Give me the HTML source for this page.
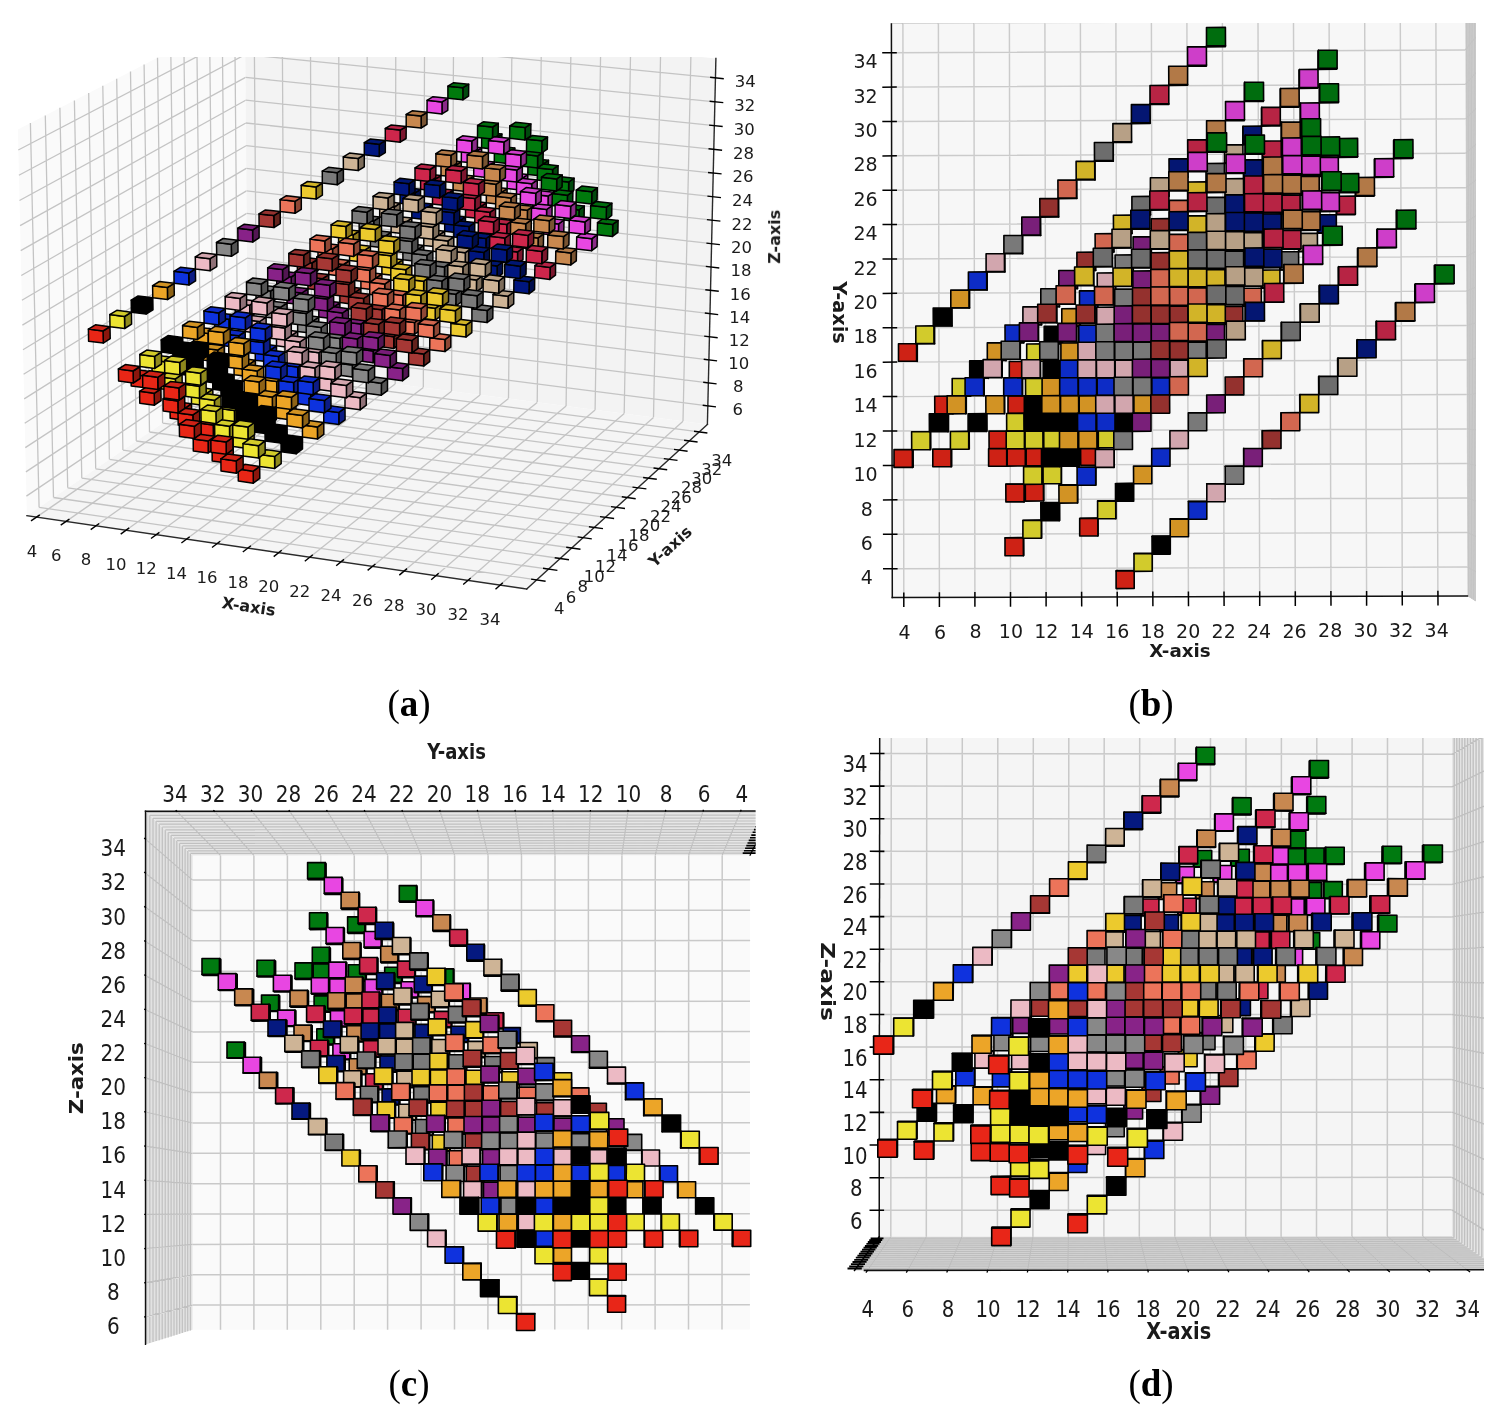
<!DOCTYPE html><html><head><meta charset="utf-8"><title>Figure</title><style>html,body{margin:0;padding:0;background:#fff}svg{display:block}</style></head><body><svg width="1500" height="1423" viewBox="0 0 1500 1423"><filter id="fa" x="-2%" y="-2%" width="104%" height="104%"><feGaussianBlur stdDeviation="0.55"/></filter><clipPath id="ca"><rect x="0" y="57" width="800" height="600"/></clipPath><g filter="url(#fa)"><g clip-path="url(#ca)"><path d="M26.9 515.7 L247.9 364.9 L245 12.8 L17.9 129.4 Z" fill="#fafafa" /><path d="M39.1 507.4L30.4 123M53.5 497.5L45.3 115.4M67.7 487.8L59.9 107.8M81.8 478.2L74.4 100.4M95.7 468.8L88.7 93.1M109.4 459.4L102.8 85.8M122.9 450.1L116.7 78.7M136.3 441L130.5 71.6M149.5 432L144.1 64.6M162.6 423.1L157.5 57.7M175.5 414.3L170.8 50.9M188.3 405.6L183.9 44.2M200.9 397L196.8 37.6M213.3 388.4L209.6 31M225.7 380L222.2 24.5M237.8 371.7L234.7 18.1M26.4 496.1L247.8 347M25.9 471.9L247.6 324.9M25.3 447.6L247.4 302.7M24.7 423.3L247.2 280.5M24.2 398.9L247 258.2M23.6 374.3L246.8 235.8M23 349.8L246.7 213.4M22.4 325.1L246.5 190.9M21.9 300.3L246.3 168.4M21.3 275.5L246.1 145.7M20.7 250.6L245.9 123M20.1 225.6L245.7 100.2M19.5 200.5L245.6 77.4M18.9 175.3L245.4 54.5M18.3 150L245.2 31.5" stroke="#c4c4c4" stroke-width="1.3" fill="none"/><path d="M247.9 364.9 L707.4 424.4 L715.9 58.4 L245 12.8 Z" fill="#f3f3f3" /><path d="M256.8 366L254.1 13.7M284.2 369.6L282.2 16.4M311.7 373.1L310.4 19.1M339.4 376.7L338.7 21.9M367.2 380.3L367.2 24.6M395.2 384L395.8 27.4M423.3 387.6L424.6 30.2M451.5 391.3L453.6 33M480 394.9L482.7 35.8M508.5 398.6L512 38.6M537.2 402.4L541.4 41.5M566.1 406.1L571 44.3M595.1 409.9L600.7 47.2M624.2 413.6L630.6 50.1M653.5 417.4L660.6 53M683 421.3L690.9 55.9M247.8 347L707.9 405.8M247.6 324.9L708.4 382.9M247.4 302.7L708.9 359.9M247.2 280.5L709.5 336.8M247 258.2L710 313.6M246.8 235.8L710.5 290.4M246.7 213.4L711.1 267M246.5 190.9L711.6 243.7M246.3 168.4L712.2 220.2M246.1 145.7L712.7 196.7M245.9 123L713.3 173.1M245.7 100.2L713.8 149.4M245.6 77.4L714.4 125.6M245.4 54.5L714.9 101.8M245.2 31.5L715.5 77.9" stroke="#c4c4c4" stroke-width="1.3" fill="none"/><path d="M26.9 515.7 L526.7 589 L707.4 424.4 L247.9 364.9 Z" fill="#f5f5f5" /><path d="M36.5 517.1L256.8 366M66.2 521.4L284.2 369.6M96 525.8L311.7 373.1M126.1 530.2L339.4 376.7M156.2 534.7L367.2 380.3M186.6 539.1L395.2 384M217.1 543.6L423.3 387.6M247.9 548.1L451.5 391.3M278.7 552.6L480 394.9M309.8 557.2L508.5 398.6M341.1 561.8L537.2 402.4M372.5 566.4L566.1 406.1M404.1 571L595.1 409.9M435.9 575.7L624.2 413.6M467.9 580.4L653.5 417.4M500.1 585.1L683 421.3M39.1 507.4L536.7 579.9M53.5 497.5L548.6 569.2M67.7 487.8L560.2 558.5M81.8 478.2L571.8 548M95.7 468.8L583.1 537.7M109.4 459.4L594.4 527.4M122.9 450.1L605.5 517.3M136.3 441L616.4 507.4M149.5 432L627.2 497.5M162.6 423.1L637.9 487.8M175.5 414.3L648.4 478.2M188.3 405.6L658.8 468.7M200.9 397L669.1 459.3M213.3 388.4L679.3 450.1M225.7 380L689.3 440.9M237.8 371.7L699.2 431.9" stroke="#c4c4c4" stroke-width="1.3" fill="none"/><path d="M26.9 515.7L526.7 589" stroke="#2a2a2a" stroke-width="1.4" fill="none" stroke-linecap="square"/><path d="M526.7 589L707.4 424.4" stroke="#2a2a2a" stroke-width="1.4" fill="none" stroke-linecap="square"/><path d="M707.4 424.4L715.9 58.4" stroke="#2a2a2a" stroke-width="1.4" fill="none" stroke-linecap="square"/><path d="M39.8 514.8L31 520.9M69.4 519.2L60.7 525.2M99.2 523.5L90.7 529.6M129.2 527.9L120.7 534.1M159.4 532.4L151 538.5M189.7 536.8L181.4 543M220.2 541.3L212 547.5M250.9 545.8L242.8 552M281.7 550.3L273.7 556.6M312.8 554.8L304.8 561.2M344 559.4L336.2 565.8M375.4 564L367.6 570.4M407 568.6L399.3 575.1M438.7 573.3L431.2 579.8M470.7 578L463.2 584.5M502.8 582.7L495.5 589.2" stroke="#000" stroke-width="1.4" fill="none"/><path d="M531.1 579.1L545.6 581.2M543 568.3L557.4 570.4M554.7 557.7L569 559.8M566.2 547.2L580.5 549.3M577.6 536.9L591.8 538.9M588.9 526.7L603 528.6M600 516.6L614.1 518.5M611 506.6L625 508.5M621.8 496.8L635.7 498.7M632.5 487.1L646.4 488.9M643.1 477.5L656.8 479.3M653.5 468L667.2 469.8M663.8 458.6L677.5 460.4M674 449.4L687.6 451.2M684.1 440.2L697.6 442M694 431.2L707.4 433" stroke="#000" stroke-width="1.4" fill="none"/><path d="M702.7 405.2L716 406.9M703.2 382.2L716.6 383.9M703.7 359.2L717.1 360.9M704.2 336.1L717.7 337.8M704.8 313L718.2 314.6M705.3 289.7L718.8 291.3M705.8 266.4L719.3 268M706.4 243.1L719.9 244.6M706.9 219.6L720.4 221.1M707.4 196.1L721 197.6M708 172.5L721.6 173.9M708.5 148.8L722.1 150.2M709.1 125.1L722.7 126.5M709.6 101.2L723.3 102.6M710.1 77.3L723.8 78.7" stroke="#000" stroke-width="1.4" fill="none"/><g stroke="#000" stroke-width="1.5" stroke-linejoin="round"><path d="M496.3 149.4L501.8 145.8L501.9 134.1L496.4 137.7Z" fill="#00490a"/><path d="M481.6 147.8L496.3 149.4L496.4 137.7L481.7 136.1Z" fill="#007a10"/><path d="M481.7 136.1L496.4 137.7L501.9 134.1L487.3 132.5Z" fill="#006d0e"/><path d="M475.9 163.2L481.5 159.6L481.6 147.8L476 151.5Z" fill="#8b2a88"/><path d="M461.3 161.7L475.9 163.2L476 151.5L461.4 149.9Z" fill="#e846e2"/><path d="M461.4 149.9L476 151.5L481.6 147.8L467 146.3Z" fill="#ce3ec9"/><path d="M455.6 177.1L461.2 173.4L461.3 161.7L455.6 165.3Z" fill="#785230"/><path d="M441 175.5L455.6 177.1L455.6 165.3L441 163.8Z" fill="#c88850"/><path d="M441 163.8L455.6 165.3L461.3 161.7L446.7 160.1Z" fill="#b27947"/><path d="M435.2 191L440.9 187.2L441 175.5L435.2 179.2Z" fill="#7c182e"/><path d="M420.6 189.3L435.2 191L435.2 179.2L420.6 177.6Z" fill="#ce284c"/><path d="M420.6 177.6L435.2 179.2L441 175.5L426.4 173.9Z" fill="#b72444"/><path d="M414.7 204.9L420.5 201L420.6 189.3L414.8 193.1Z" fill="#030f4d"/><path d="M400.1 203.2L414.7 204.9L414.8 193.1L400.1 191.5Z" fill="#051980"/><path d="M400.1 191.5L414.8 193.1L420.6 189.3L406 187.7Z" fill="#041672"/><path d="M394.2 218.8L400.1 214.9L400.1 203.2L394.3 207Z" fill="#7c6c5a"/><path d="M379.7 217.1L394.2 218.8L394.3 207L379.7 205.4Z" fill="#ceb496"/><path d="M379.7 205.4L394.3 207L400.1 203.2L385.6 201.6Z" fill="#b7a086"/><path d="M578.8 221.7L584.1 217.8L584.3 206L579 209.9Z" fill="#00490a"/><path d="M564 220L578.8 221.7L579 209.9L564.1 208.2Z" fill="#007a10"/><path d="M564.1 208.2L579 209.9L584.3 206L569.5 204.4Z" fill="#006d0e"/><path d="M373.7 232.7L379.6 228.8L379.7 217.1L373.7 221Z" fill="#494949"/><path d="M359.2 231L373.7 232.7L373.7 221L359.1 219.3Z" fill="#7a7a7a"/><path d="M359.1 219.3L373.7 221L379.7 217.1L365.1 215.5Z" fill="#6d6d6d"/><path d="M353.2 246.7L359.2 242.7L359.2 231L353.1 235Z" fill="#8e791b"/><path d="M338.6 245L353.2 246.7L353.1 235L338.6 233.3Z" fill="#ecca2d"/><path d="M338.6 233.3L353.1 235L359.2 231L344.6 229.4Z" fill="#d2b428"/><path d="M558.4 235.6L563.8 231.7L564 220L558.6 223.9Z" fill="#8b2a88"/><path d="M543.6 233.9L558.4 235.6L558.6 223.9L543.7 222.2Z" fill="#e846e2"/><path d="M543.7 222.2L558.6 223.9L564 220L549.1 218.3Z" fill="#ce3ec9"/><path d="M332.6 260.7L338.6 256.7L338.6 245L332.5 249Z" fill="#8e4636"/><path d="M318 259L332.6 260.7L332.5 249L318 247.2Z" fill="#ec745a"/><path d="M318 247.2L332.5 249L338.6 245L324.1 243.3Z" fill="#d26750"/><path d="M538 249.7L543.4 245.7L543.6 233.9L538.1 237.9Z" fill="#785230"/><path d="M523.1 247.9L538 249.7L538.1 237.9L523.2 236.2Z" fill="#c88850"/><path d="M523.2 236.2L538.1 237.9L543.6 233.9L528.7 232.3Z" fill="#b27947"/><path d="M311.9 274.7L318.1 270.7L318 259L311.9 263Z" fill="#64211f"/><path d="M297.4 273L311.9 274.7L311.9 263L297.4 261.3Z" fill="#a63734"/><path d="M297.4 261.3L311.9 263L318 259L303.5 257.2Z" fill="#94312e"/><path d="M291.3 288.8L297.5 284.7L297.4 273L291.2 277Z" fill="#521552"/><path d="M276.8 287L291.3 288.8L291.2 277L276.7 275.3Z" fill="#882388"/><path d="M276.7 275.3L291.2 277L297.4 273L282.9 271.2Z" fill="#791f79"/><path d="M517.5 263.7L523 259.7L523.1 247.9L517.6 251.9Z" fill="#7c182e"/><path d="M502.7 262L517.5 263.7L517.6 251.9L502.8 250.2Z" fill="#ce284c"/><path d="M502.8 250.2L517.6 251.9L523.1 247.9L508.3 246.2Z" fill="#b72444"/><path d="M270.6 302.8L276.8 298.7L276.8 287L270.5 291.1Z" fill="#525252"/><path d="M256.1 301L270.6 302.8L270.5 291.1L256 289.3Z" fill="#888888"/><path d="M256 289.3L270.5 291.1L276.8 287L262.3 285.2Z" fill="#797979"/><path d="M497 277.8L502.5 273.7L502.7 262L497.1 266Z" fill="#030f4d"/><path d="M482.1 276L497 277.8L497.1 266L482.2 264.2Z" fill="#051980"/><path d="M482.2 264.2L497.1 266L502.7 262L487.9 260.2Z" fill="#041672"/><path d="M249.8 316.9L256.2 312.8L256.1 301L249.7 305.2Z" fill="#8e7076"/><path d="M235.3 315.1L249.8 316.9L249.7 305.2L235.2 303.4Z" fill="#ecbac4"/><path d="M235.2 303.4L249.7 305.2L256.1 301L241.6 299.3Z" fill="#d2a6ae"/><path d="M229 331.1L235.5 326.8L235.3 315.1L228.9 319.3Z" fill="#091e85"/><path d="M214.6 329.2L229 331.1L228.9 319.3L214.5 317.5Z" fill="#0f32de"/><path d="M214.5 317.5L228.9 319.3L235.3 315.1L220.9 313.3Z" fill="#0d2cc6"/><path d="M476.4 291.8L482.1 287.7L482.1 276L476.5 280.1Z" fill="#7c6c5a"/><path d="M461.6 290.1L476.4 291.8L476.5 280.1L461.7 278.3Z" fill="#ceb496"/><path d="M461.7 278.3L476.5 280.1L482.1 276L467.4 274.2Z" fill="#b7a086"/><path d="M208.2 345.2L214.7 340.9L214.6 329.2L208.1 333.5Z" fill="#8e6318"/><path d="M193.8 343.4L208.2 345.2L208.1 333.5L193.6 331.6Z" fill="#eca528"/><path d="M193.6 331.6L208.1 333.5L214.6 329.2L200.2 327.4Z" fill="#d29324"/><path d="M187.4 359.4L193.9 355.1L193.8 343.4L187.2 347.7Z" fill="#000000"/><path d="M172.9 357.5L187.4 359.4L187.2 347.7L172.8 345.8Z" fill="#000000"/><path d="M172.8 345.8L187.2 347.7L193.8 343.4L179.4 341.5Z" fill="#000000"/><path d="M455.8 306L461.5 301.8L461.6 290.1L455.9 294.2Z" fill="#494949"/><path d="M441 304.2L455.8 306L455.9 294.2L441.1 292.4Z" fill="#7a7a7a"/><path d="M441.1 292.4L455.9 294.2L461.6 290.1L446.9 288.3Z" fill="#6d6d6d"/><path d="M166.5 373.6L173.1 369.2L172.9 357.5L166.3 361.9Z" fill="#8e891e"/><path d="M152.1 371.7L166.5 373.6L166.3 361.9L151.9 360Z" fill="#ece432"/><path d="M151.9 360L166.3 361.9L172.9 357.5L158.6 355.6Z" fill="#d2cb2c"/><path d="M145.6 387.8L152.2 383.4L152.1 371.7L145.4 376.1Z" fill="#8b170e"/><path d="M131.2 385.9L145.6 387.8L145.4 376.1L131 374.2Z" fill="#e82618"/><path d="M131 374.2L145.4 376.1L152.1 371.7L137.7 369.8Z" fill="#ce2215"/><path d="M435.2 320.1L441 315.9L441 304.2L435.2 308.3Z" fill="#8e791b"/><path d="M420.4 318.3L435.2 320.1L435.2 308.3L420.5 306.5Z" fill="#ecca2d"/><path d="M420.5 306.5L435.2 308.3L441 304.2L426.3 302.4Z" fill="#d2b428"/><path d="M414.5 334.3L420.4 330L420.4 318.3L414.5 322.5Z" fill="#8e4636"/><path d="M399.8 332.4L414.5 334.3L414.5 322.5L399.8 320.7Z" fill="#ec745a"/><path d="M399.8 320.7L414.5 322.5L420.4 318.3L405.7 316.5Z" fill="#d26750"/><path d="M393.8 348.4L399.7 344.1L399.8 332.4L393.8 336.7Z" fill="#64211f"/><path d="M379.1 346.6L393.8 348.4L393.8 336.7L379.1 334.8Z" fill="#a63734"/><path d="M379.1 334.8L393.8 336.7L399.8 332.4L385.1 330.6Z" fill="#94312e"/><path d="M373.1 362.7L379.1 358.3L379.1 346.6L373.1 350.9Z" fill="#521552"/><path d="M358.3 360.8L373.1 362.7L373.1 350.9L358.3 349Z" fill="#882388"/><path d="M358.3 349L373.1 350.9L379.1 346.6L364.4 344.7Z" fill="#791f79"/><path d="M352.3 376.9L358.3 372.5L358.3 360.8L352.3 365.1Z" fill="#525252"/><path d="M337.6 375L352.3 376.9L352.3 365.1L337.6 363.3Z" fill="#888888"/><path d="M337.6 363.3L352.3 365.1L358.3 360.8L343.7 358.9Z" fill="#797979"/><path d="M331.5 391.2L337.6 386.7L337.6 375L331.4 379.4Z" fill="#8e7076"/><path d="M316.8 389.2L331.5 391.2L331.4 379.4L316.7 377.5Z" fill="#ecbac4"/><path d="M316.7 377.5L331.4 379.4L337.6 375L322.9 373.1Z" fill="#d2a6ae"/><path d="M509.1 163.7L514.7 159.9L514.8 148.1L509.2 151.8Z" fill="#00490a"/><path d="M494.3 162.1L509.1 163.7L509.2 151.8L494.4 150.2Z" fill="#007a10"/><path d="M494.4 150.2L509.2 151.8L514.8 148.1L500 146.5Z" fill="#006d0e"/><path d="M310.6 405.5L316.8 401L316.8 389.2L310.6 393.7Z" fill="#091e85"/><path d="M295.9 403.5L310.6 405.5L310.6 393.7L295.9 391.8Z" fill="#0f32de"/><path d="M295.9 391.8L310.6 393.7L316.8 389.2L302.1 387.3Z" fill="#0d2cc6"/><path d="M289.7 419.8L296 415.2L295.9 403.5L289.7 408Z" fill="#8e6318"/><path d="M275.1 417.8L289.7 419.8L289.7 408L275 406.1Z" fill="#eca528"/><path d="M275 406.1L289.7 408L295.9 403.5L281.3 401.6Z" fill="#d29324"/><path d="M488.5 177.7L494.2 173.9L494.3 162.1L488.6 165.8Z" fill="#8b2a88"/><path d="M473.7 176L488.5 177.7L488.6 165.8L473.8 164.2Z" fill="#e846e2"/><path d="M473.8 164.2L488.6 165.8L494.3 162.1L479.5 160.5Z" fill="#ce3ec9"/><path d="M268.8 434.1L275.1 429.5L275.1 417.8L268.7 422.4Z" fill="#000000"/><path d="M254.1 432.1L268.8 434.1L268.7 422.4L254.1 420.4Z" fill="#000000"/><path d="M254.1 420.4L268.7 422.4L275.1 417.8L260.4 415.9Z" fill="#000000"/><path d="M247.8 448.5L254.2 443.9L254.1 432.1L247.7 436.7Z" fill="#8e891e"/><path d="M233.2 446.5L247.8 448.5L247.7 436.7L233.1 434.7Z" fill="#ece432"/><path d="M233.1 434.7L247.7 436.7L254.1 432.1L239.5 430.2Z" fill="#d2cb2c"/><path d="M226.8 462.9L233.3 458.2L233.2 446.5L226.7 451.1Z" fill="#8b170e"/><path d="M212.2 460.9L226.8 462.9L226.7 451.1L212.1 449.1Z" fill="#e82618"/><path d="M212.1 449.1L226.7 451.1L233.2 446.5L218.6 444.5Z" fill="#ce2215"/><path d="M467.9 191.7L473.6 187.9L473.7 176L468 179.8Z" fill="#785230"/><path d="M453.1 190.1L467.9 191.7L468 179.8L453.2 178.2Z" fill="#c88850"/><path d="M453.2 178.2L468 179.8L473.7 176L458.9 174.4Z" fill="#b27947"/><path d="M568.5 193.9L573.9 190.1L574.1 178.2L568.7 182Z" fill="#00490a"/><path d="M553.6 192.3L568.5 193.9L568.7 182L553.7 180.4Z" fill="#007a10"/><path d="M553.7 180.4L568.7 182L574.1 178.2L559.2 176.6Z" fill="#006d0e"/><path d="M447.3 205.8L453.1 201.9L453.1 190.1L447.4 193.9Z" fill="#7c182e"/><path d="M432.5 204.1L447.3 205.8L447.4 193.9L432.6 192.2Z" fill="#ce284c"/><path d="M432.6 192.2L447.4 193.9L453.1 190.1L438.4 188.4Z" fill="#b72444"/><path d="M426.6 219.8L432.5 215.9L432.5 204.1L426.7 208Z" fill="#030f4d"/><path d="M411.8 218.1L426.6 219.8L426.7 208L411.9 206.3Z" fill="#051980"/><path d="M411.9 206.3L426.7 208L432.5 204.1L417.7 202.4Z" fill="#041672"/><path d="M548 208L553.4 204.1L553.6 192.3L548.1 196.1Z" fill="#8b2a88"/><path d="M533 206.3L548 208L548.1 196.1L533.1 194.5Z" fill="#e846e2"/><path d="M533.1 194.5L548.1 196.1L553.6 192.3L538.6 190.6Z" fill="#ce3ec9"/><path d="M405.9 233.9L411.8 230L411.8 218.1L405.9 222.1Z" fill="#7c6c5a"/><path d="M391.1 232.2L405.9 233.9L405.9 222.1L391.2 220.4Z" fill="#ceb496"/><path d="M391.2 220.4L405.9 222.1L411.8 218.1L397.1 216.5Z" fill="#b7a086"/><path d="M527.3 222.1L532.9 218.2L533 206.3L527.4 210.2Z" fill="#785230"/><path d="M512.4 220.4L527.3 222.1L527.4 210.2L512.5 208.6Z" fill="#c88850"/><path d="M512.5 208.6L527.4 210.2L533 206.3L518.1 204.7Z" fill="#b27947"/><path d="M385.1 248.1L391.1 244.1L391.1 232.2L385.2 236.2Z" fill="#494949"/><path d="M370.4 246.3L385.1 248.1L385.2 236.2L370.4 234.5Z" fill="#7a7a7a"/><path d="M370.4 234.5L385.2 236.2L391.1 232.2L376.4 230.5Z" fill="#6d6d6d"/><path d="M506.7 236.3L512.3 232.3L512.4 220.4L506.8 224.4Z" fill="#7c182e"/><path d="M491.7 234.5L506.7 236.3L506.8 224.4L491.8 222.7Z" fill="#ce284c"/><path d="M491.8 222.7L506.8 224.4L512.4 220.4L497.5 218.7Z" fill="#b72444"/><path d="M364.4 262.2L370.4 258.2L370.4 246.3L364.4 250.3Z" fill="#8e791b"/><path d="M349.6 260.5L364.4 262.2L364.4 250.3L349.6 248.6Z" fill="#ecca2d"/><path d="M349.6 248.6L364.4 250.3L370.4 246.3L355.7 244.6Z" fill="#d2b428"/><path d="M485.9 250.4L491.6 246.4L491.7 234.5L486 238.5Z" fill="#030f4d"/><path d="M471 248.7L485.9 250.4L486 238.5L471.1 236.8Z" fill="#051980"/><path d="M471.1 236.8L486 238.5L491.7 234.5L476.8 232.8Z" fill="#041672"/><path d="M343.5 276.4L349.6 272.3L349.6 260.5L343.5 264.5Z" fill="#8e4636"/><path d="M328.8 274.6L343.5 276.4L343.5 264.5L328.8 262.8Z" fill="#ec745a"/><path d="M328.8 262.8L343.5 264.5L349.6 260.5L334.9 258.7Z" fill="#d26750"/><path d="M322.7 290.6L328.8 286.4L328.8 274.6L322.6 278.7Z" fill="#64211f"/><path d="M308 288.8L322.7 290.6L322.6 278.7L307.9 277Z" fill="#a63734"/><path d="M307.9 277L322.6 278.7L328.8 274.6L314.1 272.9Z" fill="#94312e"/><path d="M465.2 264.6L470.9 260.5L471 248.7L465.3 252.7Z" fill="#7c6c5a"/><path d="M450.3 262.8L465.2 264.6L465.3 252.7L450.4 251Z" fill="#ceb496"/><path d="M450.4 251L465.3 252.7L471 248.7L456.2 247Z" fill="#b7a086"/><path d="M301.8 304.8L308 300.6L308 288.8L301.7 293Z" fill="#521552"/><path d="M287.1 303L301.8 304.8L301.7 293L287 291.2Z" fill="#882388"/><path d="M287 291.2L301.7 293L308 288.8L293.3 287Z" fill="#791f79"/><path d="M444.4 278.8L450.2 274.7L450.3 262.8L444.5 266.9Z" fill="#494949"/><path d="M429.5 277L444.4 278.8L444.5 266.9L429.6 265.2Z" fill="#7a7a7a"/><path d="M429.6 265.2L444.5 266.9L450.3 262.8L435.4 261.1Z" fill="#6d6d6d"/><path d="M280.8 319.1L287.1 314.8L287.1 303L280.7 307.2Z" fill="#525252"/><path d="M266.1 317.2L280.8 319.1L280.7 307.2L266.1 305.4Z" fill="#888888"/><path d="M266.1 305.4L280.7 307.2L287.1 303L272.4 301.2Z" fill="#797979"/><path d="M259.8 333.4L266.2 329.1L266.1 317.2L259.7 321.5Z" fill="#8e7076"/><path d="M245.2 331.5L259.8 333.4L259.7 321.5L245.1 319.7Z" fill="#ecbac4"/><path d="M245.1 319.7L259.7 321.5L266.1 317.2L251.5 315.4Z" fill="#d2a6ae"/><path d="M423.6 293L429.5 288.9L429.5 277L423.7 281.2Z" fill="#8e791b"/><path d="M408.7 291.2L423.6 293L423.7 281.2L408.8 279.4Z" fill="#ecca2d"/><path d="M408.8 279.4L423.7 281.2L429.5 277L414.7 275.3Z" fill="#d2b428"/><path d="M238.8 347.7L245.3 343.3L245.2 331.5L238.7 335.8Z" fill="#091e85"/><path d="M224.2 345.8L238.8 347.7L238.7 335.8L224.1 333.9Z" fill="#0f32de"/><path d="M224.1 333.9L238.7 335.8L245.2 331.5L230.6 329.7Z" fill="#0d2cc6"/><path d="M402.8 307.3L408.7 303.1L408.7 291.2L402.8 295.4Z" fill="#8e4636"/><path d="M387.9 305.5L402.8 307.3L402.8 295.4L387.9 293.6Z" fill="#ec745a"/><path d="M387.9 293.6L402.8 295.4L408.7 291.2L393.9 289.5Z" fill="#d26750"/><path d="M217.8 362L224.3 357.6L224.2 345.8L217.6 350.1Z" fill="#8e6318"/><path d="M203.1 360.1L217.8 362L217.6 350.1L203 348.3Z" fill="#eca528"/><path d="M203 348.3L217.6 350.1L224.2 345.8L209.6 343.9Z" fill="#d29324"/><path d="M196.7 376.4L203.3 371.9L203.1 360.1L196.5 364.5Z" fill="#000000"/><path d="M182.1 374.4L196.7 376.4L196.5 364.5L181.9 362.6Z" fill="#000000"/><path d="M181.9 362.6L196.5 364.5L203.1 360.1L188.5 358.2Z" fill="#000000"/><path d="M381.9 321.6L387.9 317.3L387.9 305.5L381.9 309.7Z" fill="#64211f"/><path d="M367 319.8L381.9 321.6L381.9 309.7L367 307.9Z" fill="#a63734"/><path d="M367 307.9L381.9 309.7L387.9 305.5L373.1 303.7Z" fill="#94312e"/><path d="M175.5 390.7L182.2 386.3L182.1 374.4L175.4 378.9Z" fill="#8e891e"/><path d="M160.9 388.8L175.5 390.7L175.4 378.9L160.8 377Z" fill="#ece432"/><path d="M160.8 377L175.4 378.9L182.1 374.4L167.5 372.5Z" fill="#d2cb2c"/><path d="M154.4 405.2L161.1 400.6L160.9 388.8L154.2 393.3Z" fill="#8b170e"/><path d="M139.8 403.2L154.4 405.2L154.2 393.3L139.6 391.3Z" fill="#e82618"/><path d="M139.6 391.3L154.2 393.3L160.9 388.8L146.4 386.9Z" fill="#ce2215"/><path d="M360.9 335.9L367 331.6L367 319.8L360.9 324Z" fill="#521552"/><path d="M346.1 334L360.9 335.9L360.9 324L346.1 322.2Z" fill="#882388"/><path d="M346.1 322.2L360.9 324L367 319.8L352.2 317.9Z" fill="#791f79"/><path d="M340 350.2L346.1 345.9L346.1 334L339.9 338.4Z" fill="#525252"/><path d="M325.1 348.4L340 350.2L339.9 338.4L325.1 336.5Z" fill="#888888"/><path d="M325.1 336.5L339.9 338.4L346.1 334L331.3 332.2Z" fill="#797979"/><path d="M542.9 176.1L548.4 172.3L548.5 160.3L543 164.1Z" fill="#00490a"/><path d="M527.8 174.5L542.9 176.1L543 164.1L528 162.5Z" fill="#007a10"/><path d="M528 162.5L543 164.1L548.5 160.3L533.5 158.7Z" fill="#006d0e"/><path d="M319 364.6L325.2 360.2L325.1 348.4L318.9 352.7Z" fill="#8e7076"/><path d="M304.2 362.7L319 364.6L318.9 352.7L304.1 350.8Z" fill="#ecbac4"/><path d="M304.1 350.8L318.9 352.7L325.1 348.4L310.4 346.5Z" fill="#d2a6ae"/><path d="M297.9 379L304.2 374.6L304.2 362.7L297.8 367.1Z" fill="#091e85"/><path d="M283.1 377.1L297.9 379L297.8 367.1L283.1 365.2Z" fill="#0f32de"/><path d="M283.1 365.2L297.8 367.1L304.2 362.7L289.4 360.8Z" fill="#0d2cc6"/><path d="M522.1 190.3L527.7 186.4L527.8 174.5L522.2 178.3Z" fill="#8b2a88"/><path d="M507.1 188.6L522.1 190.3L522.2 178.3L507.2 176.6Z" fill="#e846e2"/><path d="M507.2 176.6L522.2 178.3L527.8 174.5L512.8 172.8Z" fill="#ce3ec9"/><path d="M276.8 393.4L283.2 388.9L283.1 377.1L276.7 381.5Z" fill="#8e6318"/><path d="M262.1 391.5L276.8 393.4L276.7 381.5L262 379.6Z" fill="#eca528"/><path d="M262 379.6L276.7 381.5L283.1 377.1L268.4 375.2Z" fill="#d29324"/><path d="M255.7 407.9L262.1 403.3L262.1 391.5L255.6 396Z" fill="#000000"/><path d="M240.9 405.9L255.7 407.9L255.6 396L240.8 394Z" fill="#000000"/><path d="M240.8 394L255.6 396L262.1 391.5L247.3 389.5Z" fill="#000000"/><path d="M234.5 422.3L241.1 417.7L240.9 405.9L234.4 410.5Z" fill="#8e891e"/><path d="M219.8 420.3L234.5 422.3L234.4 410.5L219.7 408.5Z" fill="#ece432"/><path d="M219.7 408.5L234.4 410.5L240.9 405.9L226.2 403.9Z" fill="#d2cb2c"/><path d="M501.3 204.4L507 200.5L507.1 188.6L501.4 192.5Z" fill="#785230"/><path d="M486.3 202.8L501.3 204.4L501.4 192.5L486.4 190.8Z" fill="#c88850"/><path d="M486.4 190.8L501.4 192.5L507.1 188.6L492.1 186.9Z" fill="#b27947"/><path d="M213.3 436.8L219.9 432.2L219.8 420.3L213.2 425Z" fill="#8b170e"/><path d="M198.6 434.8L213.3 436.8L213.2 425L198.5 423Z" fill="#e82618"/><path d="M198.5 423L213.2 425L219.8 420.3L205.1 418.4Z" fill="#ce2215"/><path d="M480.5 218.6L486.2 214.7L486.3 202.8L480.6 206.7Z" fill="#7c182e"/><path d="M465.5 216.9L480.5 218.6L480.6 206.7L465.6 205Z" fill="#ce284c"/><path d="M465.6 205L480.6 206.7L486.3 202.8L471.4 201.1Z" fill="#b72444"/><path d="M492.5 139L498.2 135.3L498.3 123.3L492.6 127Z" fill="#00490a"/><path d="M477.5 137.4L492.5 139L492.6 127L477.6 125.4Z" fill="#007a10"/><path d="M477.6 125.4L492.6 127L498.3 123.3L483.3 121.8Z" fill="#006d0e"/><path d="M567.3 207.3L572.7 203.4L572.9 191.4L567.4 195.3Z" fill="#00490a"/><path d="M552.1 205.6L567.3 207.3L567.4 195.3L552.3 193.6Z" fill="#007a10"/><path d="M552.3 193.6L567.4 195.3L572.9 191.4L557.8 189.7Z" fill="#006d0e"/><path d="M459.7 232.9L465.4 228.9L465.5 216.9L459.7 220.9Z" fill="#030f4d"/><path d="M444.7 231.2L459.7 232.9L459.7 220.9L444.7 219.2Z" fill="#051980"/><path d="M444.7 219.2L459.7 220.9L465.5 216.9L450.6 215.2Z" fill="#041672"/><path d="M438.8 247.1L444.6 243.1L444.7 231.2L438.8 235.2Z" fill="#7c6c5a"/><path d="M423.8 245.4L438.8 247.1L438.8 235.2L423.8 233.4Z" fill="#ceb496"/><path d="M423.8 233.4L438.8 235.2L444.7 231.2L429.7 229.4Z" fill="#b7a086"/><path d="M471.7 153.2L477.4 149.4L477.5 137.4L471.8 141.1Z" fill="#8b2a88"/><path d="M456.7 151.6L471.7 153.2L471.8 141.1L456.8 139.5Z" fill="#e846e2"/><path d="M456.8 139.5L471.8 141.1L477.5 137.4L462.6 135.8Z" fill="#ce3ec9"/><path d="M546.5 221.5L552 217.5L552.1 205.6L546.6 209.5Z" fill="#8b2a88"/><path d="M531.3 219.8L546.5 221.5L546.6 209.5L531.5 207.8Z" fill="#e846e2"/><path d="M531.5 207.8L546.6 209.5L552.1 205.6L537 203.9Z" fill="#ce3ec9"/><path d="M462.8 99.8L468.6 96.2L468.7 84.2L462.9 87.7Z" fill="#00490a"/><path d="M447.9 98.3L462.8 99.8L462.9 87.7L447.9 86.2Z" fill="#007a10"/><path d="M447.9 86.2L462.9 87.7L468.7 84.2L453.7 82.7Z" fill="#006d0e"/><path d="M612.5 236.4L617.9 232.4L618.1 220.4L612.7 224.4Z" fill="#00490a"/><path d="M597.3 234.7L612.5 236.4L612.7 224.4L597.5 222.7Z" fill="#007a10"/><path d="M597.5 222.7L612.7 224.4L618.1 220.4L602.9 218.7Z" fill="#006d0e"/><path d="M552.4 181.6L557.9 177.7L558.1 165.7L552.6 169.5Z" fill="#00490a"/><path d="M537.3 179.9L552.4 181.6L552.6 169.5L537.5 167.9Z" fill="#007a10"/><path d="M537.5 167.9L552.6 169.5L558.1 165.7L543 164.1Z" fill="#006d0e"/><path d="M537.5 167.9L543 164.1L543.2 152.1L537.6 155.9Z" fill="#00490a"/><path d="M522.4 166.3L537.5 167.9L537.6 155.9L522.5 154.3Z" fill="#007a10"/><path d="M522.5 154.3L537.6 155.9L543.2 152.1L528.1 150.5Z" fill="#006d0e"/><path d="M417.8 261.4L423.7 257.3L423.8 245.4L417.9 249.4Z" fill="#494949"/><path d="M402.9 259.7L417.8 261.4L417.9 249.4L402.9 247.7Z" fill="#7a7a7a"/><path d="M402.9 247.7L417.9 249.4L423.8 245.4L408.9 243.6Z" fill="#6d6d6d"/><path d="M450.8 167.3L456.7 163.5L456.7 151.6L450.9 155.3Z" fill="#785230"/><path d="M435.9 165.7L450.8 167.3L450.9 155.3L435.9 153.7Z" fill="#c88850"/><path d="M435.9 153.7L450.9 155.3L456.7 151.6L441.8 149.9Z" fill="#b27947"/><path d="M525.6 235.8L531.2 231.8L531.3 219.8L525.7 223.8Z" fill="#785230"/><path d="M510.5 234L525.6 235.8L525.7 223.8L510.6 222.1Z" fill="#c88850"/><path d="M510.6 222.1L525.7 223.8L531.3 219.8L516.3 218.1Z" fill="#b27947"/><path d="M442 113.9L447.8 110.3L447.9 98.3L442 101.9Z" fill="#8b2a88"/><path d="M427 112.3L442 113.9L442 101.9L427.1 100.3Z" fill="#e846e2"/><path d="M427.1 100.3L442 101.9L447.9 98.3L433 96.7Z" fill="#ce3ec9"/><path d="M591.7 250.7L597.1 246.6L597.3 234.7L591.9 238.7Z" fill="#8b2a88"/><path d="M576.5 249L591.7 250.7L591.9 238.7L576.7 237Z" fill="#e846e2"/><path d="M576.7 237L591.9 238.7L597.3 234.7L582.1 232.9Z" fill="#ce3ec9"/><path d="M396.8 275.7L402.8 271.6L402.9 259.7L396.9 263.8Z" fill="#8e791b"/><path d="M381.9 273.9L396.8 275.7L396.9 263.8L381.9 262Z" fill="#ecca2d"/><path d="M381.9 262L396.9 263.8L402.9 259.7L388 257.9Z" fill="#d2b428"/><path d="M531.6 195.8L537.2 191.9L537.3 179.9L531.7 183.8Z" fill="#8b2a88"/><path d="M516.5 194.1L531.6 195.8L531.7 183.8L516.6 182.1Z" fill="#e846e2"/><path d="M516.6 182.1L531.7 183.8L537.3 179.9L522.2 178.3Z" fill="#ce3ec9"/><path d="M516.6 182.1L522.2 178.3L522.4 166.3L516.7 170.1Z" fill="#8b2a88"/><path d="M501.6 180.5L516.6 182.1L516.7 170.1L501.7 168.4Z" fill="#e846e2"/><path d="M501.7 168.4L516.7 170.1L522.4 166.3L507.3 164.6Z" fill="#ce3ec9"/><path d="M429.9 181.5L435.8 177.7L435.9 165.7L430 169.5Z" fill="#7c182e"/><path d="M415 179.9L429.9 181.5L430 169.5L415 167.9Z" fill="#ce284c"/><path d="M415 167.9L430 169.5L435.9 165.7L421 164.1Z" fill="#b72444"/><path d="M504.7 250.1L510.4 246L510.5 234L504.8 238.1Z" fill="#7c182e"/><path d="M489.6 248.3L504.7 250.1L504.8 238.1L489.7 236.3Z" fill="#ce284c"/><path d="M489.7 236.3L504.8 238.1L510.5 234L495.4 232.3Z" fill="#b72444"/><path d="M421.1 128L427 124.4L427 112.3L421.1 116Z" fill="#785230"/><path d="M406.2 126.5L421.1 128L421.1 116L406.2 114.4Z" fill="#c88850"/><path d="M406.2 114.4L421.1 116L427 112.3L412.2 110.8Z" fill="#b27947"/><path d="M375.8 290.1L381.9 285.9L381.9 273.9L375.8 278.1Z" fill="#8e4636"/><path d="M360.9 288.3L375.8 290.1L375.8 278.1L360.9 276.3Z" fill="#ec745a"/><path d="M360.9 276.3L375.8 278.1L381.9 273.9L367 272.2Z" fill="#d26750"/><path d="M570.8 265L576.3 260.9L576.5 249L571 253Z" fill="#785230"/><path d="M555.6 263.3L570.8 265L571 253L555.8 251.3Z" fill="#c88850"/><path d="M555.8 251.3L571 253L576.5 249L561.3 247.2Z" fill="#b27947"/><path d="M510.7 210L516.4 206.1L516.5 194.1L510.9 198Z" fill="#785230"/><path d="M495.6 208.4L510.7 210L510.9 198L495.8 196.3Z" fill="#c88850"/><path d="M495.8 196.3L510.9 198L516.5 194.1L501.4 192.5Z" fill="#b27947"/><path d="M495.8 196.3L501.4 192.5L501.6 180.5L495.9 184.3Z" fill="#785230"/><path d="M480.7 194.7L495.8 196.3L495.9 184.3L480.8 182.6Z" fill="#c88850"/><path d="M480.8 182.6L495.9 184.3L501.6 180.5L486.5 178.8Z" fill="#b27947"/><path d="M409 195.7L415 191.9L415 179.9L409 183.7Z" fill="#030f4d"/><path d="M394.1 194.1L409 195.7L409 183.7L394.1 182.1Z" fill="#051980"/><path d="M394.1 182.1L409 183.7L415 179.9L400.1 178.2Z" fill="#041672"/><path d="M483.8 264.4L489.5 260.3L489.6 248.3L483.9 252.4Z" fill="#030f4d"/><path d="M468.7 262.6L483.8 264.4L483.9 252.4L468.8 250.6Z" fill="#051980"/><path d="M468.8 250.6L483.9 252.4L489.6 248.3L474.6 246.6Z" fill="#041672"/><path d="M354.8 304.4L360.9 300.2L360.9 288.3L354.8 292.5Z" fill="#64211f"/><path d="M339.9 302.6L354.8 304.4L354.8 292.5L339.8 290.6Z" fill="#a63734"/><path d="M339.8 290.6L354.8 292.5L360.9 288.3L346 286.5Z" fill="#94312e"/><path d="M400.2 142.2L406.1 138.5L406.2 126.5L400.2 130.1Z" fill="#7c182e"/><path d="M385.3 140.6L400.2 142.2L400.2 130.1L385.3 128.5Z" fill="#ce284c"/><path d="M385.3 128.5L400.2 130.1L406.2 126.5L391.3 124.9Z" fill="#b72444"/><path d="M549.9 279.4L555.5 275.2L555.6 263.3L550.1 267.4Z" fill="#7c182e"/><path d="M534.7 277.6L549.9 279.4L550.1 267.4L534.9 265.6Z" fill="#ce284c"/><path d="M534.9 265.6L550.1 267.4L555.6 263.3L540.5 261.5Z" fill="#b72444"/><path d="M333.7 318.8L339.9 314.5L339.9 302.6L333.7 306.8Z" fill="#521552"/><path d="M318.8 317L333.7 318.8L333.7 306.8L318.8 305Z" fill="#882388"/><path d="M318.8 305L333.7 306.8L339.9 302.6L325 300.8Z" fill="#791f79"/><path d="M489.8 224.3L495.5 220.3L495.6 208.4L489.9 212.3Z" fill="#7c182e"/><path d="M474.8 222.6L489.8 224.3L489.9 212.3L474.8 210.6Z" fill="#ce284c"/><path d="M474.8 210.6L489.9 212.3L495.6 208.4L480.6 206.7Z" fill="#b72444"/><path d="M474.8 210.6L480.6 206.7L480.7 194.7L474.9 198.6Z" fill="#7c182e"/><path d="M459.8 208.9L474.8 210.6L474.9 198.6L459.9 196.9Z" fill="#ce284c"/><path d="M459.9 196.9L474.9 198.6L480.7 194.7L465.7 193Z" fill="#b72444"/><path d="M388 210L394.1 206.1L394.1 194.1L388 198Z" fill="#7c6c5a"/><path d="M373.1 208.3L388 210L388 198L373.1 196.3Z" fill="#ceb496"/><path d="M373.1 196.3L388 198L394.1 194.1L379.2 192.4Z" fill="#b7a086"/><path d="M462.8 278.7L468.6 274.6L468.7 262.6L462.9 266.7Z" fill="#7c6c5a"/><path d="M447.8 276.9L462.8 278.7L462.9 266.7L447.8 265Z" fill="#ceb496"/><path d="M447.8 265L462.9 266.7L468.7 262.6L453.7 260.9Z" fill="#b7a086"/><path d="M379.2 156.4L385.3 152.6L385.3 140.6L379.2 144.3Z" fill="#030f4d"/><path d="M364.3 154.7L379.2 156.4L379.2 144.3L364.3 142.7Z" fill="#051980"/><path d="M364.3 142.7L379.2 144.3L385.3 140.6L370.4 139Z" fill="#041672"/><path d="M312.5 333.2L318.8 328.9L318.8 317L312.5 321.3Z" fill="#525252"/><path d="M297.7 331.4L312.5 333.2L312.5 321.3L297.6 319.4Z" fill="#888888"/><path d="M297.6 319.4L312.5 321.3L318.8 317L304 315.1Z" fill="#797979"/><path d="M529 293.8L534.6 289.6L534.7 277.6L529.1 281.8Z" fill="#030f4d"/><path d="M513.8 292L529 293.8L529.1 281.8L513.9 280Z" fill="#051980"/><path d="M513.9 280L529.1 281.8L534.7 277.6L519.6 275.8Z" fill="#041672"/><path d="M468.9 238.6L474.7 234.6L474.8 222.6L469 226.6Z" fill="#030f4d"/><path d="M453.8 236.9L468.9 238.6L469 226.6L453.9 224.9Z" fill="#051980"/><path d="M453.9 224.9L469 226.6L474.8 222.6L459.7 220.9Z" fill="#041672"/><path d="M453.9 224.9L459.7 220.9L459.8 208.9L454 212.8Z" fill="#030f4d"/><path d="M438.9 223.2L453.9 224.9L454 212.8L438.9 211.1Z" fill="#051980"/><path d="M438.9 211.1L454 212.8L459.8 208.9L444.8 207.2Z" fill="#041672"/><path d="M367 224.3L373.1 220.3L373.1 208.3L367 212.2Z" fill="#494949"/><path d="M352.1 222.5L367 224.3L367 212.2L352.1 210.5Z" fill="#7a7a7a"/><path d="M352.1 210.5L367 212.2L373.1 208.3L358.2 206.6Z" fill="#6d6d6d"/><path d="M441.8 293.1L447.7 288.9L447.8 276.9L441.9 281.1Z" fill="#494949"/><path d="M426.8 291.3L441.8 293.1L441.9 281.1L426.8 279.3Z" fill="#7a7a7a"/><path d="M426.8 279.3L441.9 281.1L447.8 276.9L432.7 275.2Z" fill="#6d6d6d"/><path d="M291.4 347.7L297.7 343.3L297.7 331.4L291.3 335.7Z" fill="#8e7076"/><path d="M276.5 345.8L291.4 347.7L291.3 335.7L276.5 333.8Z" fill="#ecbac4"/><path d="M276.5 333.8L291.3 335.7L297.7 331.4L282.9 329.5Z" fill="#d2a6ae"/><path d="M358.2 170.6L364.3 166.8L364.3 154.7L358.2 158.5Z" fill="#7c6c5a"/><path d="M343.4 168.9L358.2 170.6L358.2 158.5L343.3 156.9Z" fill="#ceb496"/><path d="M343.3 156.9L358.2 158.5L364.3 154.7L349.5 153.1Z" fill="#b7a086"/><path d="M508 308.2L513.7 303.9L513.8 292L508.1 296.2Z" fill="#7c6c5a"/><path d="M492.9 306.4L508 308.2L508.1 296.2L493 294.4Z" fill="#ceb496"/><path d="M493 294.4L508.1 296.2L513.8 292L498.7 290.2Z" fill="#b7a086"/><path d="M270.2 362.1L276.6 357.7L276.5 345.8L270.1 350.2Z" fill="#091e85"/><path d="M255.3 360.2L270.2 362.1L270.1 350.2L255.2 348.3Z" fill="#0f32de"/><path d="M255.2 348.3L270.1 350.2L276.5 345.8L261.7 343.9Z" fill="#0d2cc6"/><path d="M346 238.6L352.1 234.5L352.1 222.5L345.9 226.5Z" fill="#8e791b"/><path d="M331.1 236.8L346 238.6L345.9 226.5L331.1 224.8Z" fill="#ecca2d"/><path d="M331.1 224.8L345.9 226.5L352.1 222.5L337.3 220.8Z" fill="#d2b428"/><path d="M420.8 307.5L426.7 303.3L426.8 291.3L420.8 295.5Z" fill="#8e791b"/><path d="M405.7 305.7L420.8 307.5L420.8 295.5L405.8 293.7Z" fill="#ecca2d"/><path d="M405.8 293.7L420.8 295.5L426.8 291.3L411.8 289.5Z" fill="#d2b428"/><path d="M447.9 253L453.8 248.9L453.8 236.9L448 240.9Z" fill="#7c6c5a"/><path d="M432.9 251.2L447.9 253L448 240.9L432.9 239.2Z" fill="#ceb496"/><path d="M432.9 239.2L448 240.9L453.8 236.9L438.8 235.2Z" fill="#b7a086"/><path d="M432.9 239.2L438.8 235.2L438.9 223.2L433 227.2Z" fill="#7c6c5a"/><path d="M417.9 237.4L432.9 239.2L433 227.2L417.9 225.4Z" fill="#ceb496"/><path d="M417.9 225.4L433 227.2L438.9 223.2L423.9 221.4Z" fill="#b7a086"/><path d="M248.9 376.6L255.4 372.2L255.3 360.2L248.8 364.7Z" fill="#8e6318"/><path d="M234.1 374.7L248.9 376.6L248.8 364.7L234 362.7Z" fill="#eca528"/><path d="M234 362.7L248.8 364.7L255.3 360.2L240.5 358.3Z" fill="#d29324"/><path d="M337.2 184.8L343.4 180.9L343.4 168.9L337.2 172.7Z" fill="#494949"/><path d="M322.3 183.1L337.2 184.8L337.2 172.7L322.3 171.1Z" fill="#7a7a7a"/><path d="M322.3 171.1L337.2 172.7L343.4 168.9L328.5 167.3Z" fill="#6d6d6d"/><path d="M487 322.6L492.8 318.3L492.9 306.4L487.1 310.6Z" fill="#494949"/><path d="M471.9 320.8L487 322.6L487.1 310.6L471.9 308.8Z" fill="#7a7a7a"/><path d="M471.9 308.8L487.1 310.6L492.9 306.4L477.7 304.5Z" fill="#6d6d6d"/><path d="M324.9 252.9L331.1 248.8L331.1 236.8L324.8 240.9Z" fill="#8e4636"/><path d="M310 251.1L324.9 252.9L324.8 240.9L310 239.1Z" fill="#ec745a"/><path d="M310 239.1L324.8 240.9L331.1 236.8L316.2 235.1Z" fill="#d26750"/><path d="M227.6 391.2L234.2 386.6L234.1 374.7L227.5 379.2Z" fill="#000000"/><path d="M212.8 389.2L227.6 391.2L227.5 379.2L212.7 377.2Z" fill="#000000"/><path d="M212.7 377.2L227.5 379.2L234.1 374.7L219.3 372.8Z" fill="#000000"/><path d="M399.7 321.9L405.7 317.6L405.7 305.7L399.7 309.9Z" fill="#8e4636"/><path d="M384.7 320.1L399.7 321.9L399.7 309.9L384.7 308.1Z" fill="#ec745a"/><path d="M384.7 308.1L399.7 309.9L405.7 305.7L390.8 303.8Z" fill="#d26750"/><path d="M426.9 267.3L432.8 263.2L432.9 251.2L426.9 255.3Z" fill="#494949"/><path d="M411.8 265.5L426.9 267.3L426.9 255.3L411.9 253.5Z" fill="#7a7a7a"/><path d="M411.9 253.5L426.9 255.3L432.9 251.2L417.9 249.4Z" fill="#6d6d6d"/><path d="M411.9 253.5L417.9 249.4L417.9 237.4L411.9 241.5Z" fill="#494949"/><path d="M396.9 251.8L411.9 253.5L411.9 241.5L396.9 239.7Z" fill="#7a7a7a"/><path d="M396.9 239.7L411.9 241.5L417.9 237.4L402.9 235.7Z" fill="#6d6d6d"/><path d="M206.3 405.7L213 401.1L212.8 389.2L206.2 393.7Z" fill="#8e891e"/><path d="M191.5 403.7L206.3 405.7L206.2 393.7L191.4 391.8Z" fill="#ece432"/><path d="M191.4 391.8L206.2 393.7L212.8 389.2L198.1 387.2Z" fill="#d2cb2c"/><path d="M316.1 199.1L322.4 195.2L322.3 183.1L316.1 187Z" fill="#8e791b"/><path d="M301.3 197.4L316.1 199.1L316.1 187L301.2 185.3Z" fill="#ecca2d"/><path d="M301.2 185.3L316.1 187L322.3 183.1L307.5 181.5Z" fill="#d2b428"/><path d="M465.9 337.1L471.8 332.7L471.9 320.8L466 325.1Z" fill="#8e791b"/><path d="M450.8 335.2L465.9 337.1L466 325.1L450.9 323.2Z" fill="#ecca2d"/><path d="M450.9 323.2L466 325.1L471.9 320.8L456.8 318.9Z" fill="#d2b428"/><path d="M303.7 267.2L310.1 263.1L310 251.1L303.7 255.2Z" fill="#64211f"/><path d="M288.9 265.5L303.7 267.2L303.7 255.2L288.8 253.4Z" fill="#a63734"/><path d="M288.8 253.4L303.7 255.2L310 251.1L295.2 249.4Z" fill="#94312e"/><path d="M185 420.3L191.7 415.7L191.5 403.7L184.8 408.3Z" fill="#8b170e"/><path d="M170.2 418.3L185 420.3L184.8 408.3L170 406.3Z" fill="#e82618"/><path d="M170 406.3L184.8 408.3L191.5 403.7L176.8 401.8Z" fill="#ce2215"/><path d="M378.6 336.4L384.7 332.1L384.7 320.1L378.6 324.4Z" fill="#64211f"/><path d="M363.6 334.5L378.6 336.4L378.6 324.4L363.6 322.5Z" fill="#a63734"/><path d="M363.6 322.5L378.6 324.4L384.7 320.1L369.7 318.2Z" fill="#94312e"/><path d="M405.8 281.7L411.8 277.5L411.8 265.5L405.8 269.7Z" fill="#8e791b"/><path d="M390.8 279.9L405.8 281.7L405.8 269.7L390.8 267.9Z" fill="#ecca2d"/><path d="M390.8 267.9L405.8 269.7L411.8 265.5L396.9 263.8Z" fill="#d2b428"/><path d="M390.8 267.9L396.9 263.8L396.9 251.8L390.8 255.8Z" fill="#8e791b"/><path d="M375.8 266.1L390.8 267.9L390.8 255.8L375.8 254.1Z" fill="#ecca2d"/><path d="M375.8 254.1L390.8 255.8L396.9 251.8L381.9 250Z" fill="#d2b428"/><path d="M295 213.3L301.3 209.4L301.3 197.4L294.9 201.3Z" fill="#8e4636"/><path d="M280.2 211.6L295 213.3L294.9 201.3L280.1 199.6Z" fill="#ec745a"/><path d="M280.1 199.6L294.9 201.3L301.3 197.4L286.5 195.7Z" fill="#d26750"/><path d="M282.6 281.6L289 277.4L288.9 265.5L282.5 269.6Z" fill="#521552"/><path d="M267.7 279.8L282.6 281.6L282.5 269.6L267.7 267.8Z" fill="#882388"/><path d="M267.7 267.8L282.5 269.6L288.9 265.5L274.1 263.7Z" fill="#791f79"/><path d="M357.4 350.9L363.6 346.5L363.6 334.5L357.4 338.9Z" fill="#521552"/><path d="M342.4 349L357.4 350.9L357.4 338.9L342.4 337Z" fill="#882388"/><path d="M342.4 337L357.4 338.9L363.6 334.5L348.6 332.6Z" fill="#791f79"/><path d="M444.9 351.6L450.8 347.2L450.8 335.2L444.9 339.6Z" fill="#8e4636"/><path d="M429.7 349.7L444.9 351.6L444.9 339.6L429.8 337.7Z" fill="#ec745a"/><path d="M429.8 337.7L444.9 339.6L450.8 335.2L435.7 333.3Z" fill="#d26750"/><path d="M384.7 296.1L390.8 291.9L390.8 279.9L384.7 284.1Z" fill="#8e4636"/><path d="M369.7 294.3L384.7 296.1L384.7 284.1L369.7 282.3Z" fill="#ec745a"/><path d="M369.7 282.3L384.7 284.1L390.8 279.9L375.8 278.1Z" fill="#d26750"/><path d="M369.7 282.3L375.8 278.1L375.8 266.1L369.7 270.2Z" fill="#8e4636"/><path d="M354.7 280.5L369.7 282.3L369.7 270.2L354.7 268.4Z" fill="#ec745a"/><path d="M354.7 268.4L369.7 270.2L375.8 266.1L360.9 264.3Z" fill="#d26750"/><path d="M261.4 296L267.8 291.8L267.7 279.8L261.3 284Z" fill="#525252"/><path d="M246.6 294.2L261.4 296L261.3 284L246.5 282.2Z" fill="#888888"/><path d="M246.5 282.2L261.3 284L267.7 279.8L252.9 278Z" fill="#797979"/><path d="M336.2 365.4L342.5 360.9L342.4 349L336.2 353.4Z" fill="#525252"/><path d="M321.2 363.5L336.2 365.4L336.2 353.4L321.2 351.5Z" fill="#888888"/><path d="M321.2 351.5L336.2 353.4L342.4 349L327.5 347.1Z" fill="#797979"/><path d="M273.9 227.6L280.3 223.6L280.2 211.6L273.8 215.6Z" fill="#64211f"/><path d="M259.1 225.9L273.9 227.6L273.8 215.6L259 213.9Z" fill="#a63734"/><path d="M259 213.9L273.8 215.6L280.2 211.6L265.4 209.9Z" fill="#94312e"/><path d="M423.7 366.1L429.7 361.7L429.7 349.7L423.8 354.1Z" fill="#64211f"/><path d="M408.6 364.2L423.7 366.1L423.8 354.1L408.7 352.2Z" fill="#a63734"/><path d="M408.7 352.2L423.8 354.1L429.7 349.7L414.7 347.8Z" fill="#94312e"/><path d="M240.1 310.4L246.6 306.2L246.6 294.2L240 298.4Z" fill="#8e7076"/><path d="M225.3 308.6L240.1 310.4L240 298.4L225.2 296.6Z" fill="#ecbac4"/><path d="M225.2 296.6L240 298.4L246.6 294.2L231.8 292.4Z" fill="#d2a6ae"/><path d="M363.6 310.5L369.7 306.3L369.7 294.3L363.6 298.5Z" fill="#64211f"/><path d="M348.6 308.7L363.6 310.5L363.6 298.5L348.6 296.7Z" fill="#a63734"/><path d="M348.6 296.7L363.6 298.5L369.7 294.3L354.8 292.5Z" fill="#94312e"/><path d="M348.6 296.7L354.8 292.5L354.7 280.5L348.6 284.6Z" fill="#64211f"/><path d="M333.6 294.9L348.6 296.7L348.6 284.6L333.6 282.8Z" fill="#a63734"/><path d="M333.6 282.8L348.6 284.6L354.7 280.5L339.8 278.7Z" fill="#94312e"/><path d="M315 379.9L321.3 375.4L321.2 363.5L314.9 367.9Z" fill="#8e7076"/><path d="M300 378L315 379.9L314.9 367.9L300 366Z" fill="#ecbac4"/><path d="M300 366L314.9 367.9L321.2 363.5L306.3 361.5Z" fill="#d2a6ae"/><path d="M252.7 242L259.1 237.9L259.1 225.9L252.6 229.9Z" fill="#521552"/><path d="M237.9 240.2L252.7 242L252.6 229.9L237.8 228.2Z" fill="#882388"/><path d="M237.8 228.2L252.6 229.9L259.1 225.9L244.3 224.2Z" fill="#791f79"/><path d="M402.6 380.7L408.6 376.2L408.6 364.2L402.6 368.6Z" fill="#521552"/><path d="M387.5 378.7L402.6 380.7L402.6 368.6L387.5 366.7Z" fill="#882388"/><path d="M387.5 366.7L402.6 368.6L408.6 364.2L393.6 362.3Z" fill="#791f79"/><path d="M218.8 324.9L225.4 320.6L225.3 308.6L218.7 312.9Z" fill="#091e85"/><path d="M204.1 323L218.8 324.9L218.7 312.9L203.9 311Z" fill="#0f32de"/><path d="M203.9 311L218.7 312.9L225.3 308.6L210.6 306.8Z" fill="#0d2cc6"/><path d="M293.7 394.5L300.1 389.9L300 378L293.6 382.5Z" fill="#091e85"/><path d="M278.8 392.5L293.7 394.5L293.6 382.5L278.7 380.5Z" fill="#0f32de"/><path d="M278.7 380.5L293.6 382.5L300 378L285.1 376Z" fill="#0d2cc6"/><path d="M342.4 325L348.6 320.7L348.6 308.7L342.4 313Z" fill="#521552"/><path d="M327.4 323.1L342.4 325L342.4 313L327.4 311.1Z" fill="#882388"/><path d="M327.4 311.1L342.4 313L348.6 308.7L333.7 306.8Z" fill="#791f79"/><path d="M327.4 311.1L333.7 306.8L333.6 294.9L327.4 299.1Z" fill="#521552"/><path d="M312.5 309.3L327.4 311.1L327.4 299.1L312.4 297.3Z" fill="#882388"/><path d="M312.4 297.3L327.4 299.1L333.6 294.9L318.7 293Z" fill="#791f79"/><path d="M231.4 256.3L238 252.2L237.9 240.2L231.3 244.3Z" fill="#525252"/><path d="M216.7 254.6L231.4 256.3L231.3 244.3L216.5 242.5Z" fill="#888888"/><path d="M216.5 242.5L231.3 244.3L237.9 240.2L223.1 238.5Z" fill="#797979"/><path d="M381.3 395.2L387.5 390.7L387.5 378.7L381.4 383.2Z" fill="#525252"/><path d="M366.3 393.3L381.3 395.2L381.4 383.2L366.3 381.3Z" fill="#888888"/><path d="M366.3 381.3L381.4 383.2L387.5 378.7L372.4 376.8Z" fill="#797979"/><path d="M197.5 339.4L204.2 335L204.1 323L197.4 327.4Z" fill="#8e6318"/><path d="M182.7 337.5L197.5 339.4L197.4 327.4L182.6 325.5Z" fill="#eca528"/><path d="M182.6 325.5L197.4 327.4L204.1 323L189.3 321.2Z" fill="#d29324"/><path d="M272.4 409.1L278.8 404.5L278.8 392.5L272.3 397.1Z" fill="#8e6318"/><path d="M257.5 407.1L272.4 409.1L272.3 397.1L257.4 395.1Z" fill="#eca528"/><path d="M257.4 395.1L272.3 397.1L278.8 392.5L263.9 390.6Z" fill="#d29324"/><path d="M321.2 339.5L327.5 335.1L327.4 323.1L321.1 327.5Z" fill="#525252"/><path d="M306.2 337.6L321.2 339.5L321.1 327.5L306.2 325.6Z" fill="#888888"/><path d="M306.2 325.6L321.1 327.5L327.4 323.1L312.5 321.3Z" fill="#797979"/><path d="M306.2 325.6L312.5 321.3L312.5 309.3L306.1 313.6Z" fill="#525252"/><path d="M291.3 323.7L306.2 325.6L306.1 313.6L291.2 311.7Z" fill="#888888"/><path d="M291.2 311.7L306.1 313.6L312.5 309.3L297.6 307.4Z" fill="#797979"/><path d="M176.2 353.9L182.9 349.5L182.7 337.5L176 341.9Z" fill="#000000"/><path d="M161.4 352L176.2 353.9L176 341.9L161.2 340Z" fill="#000000"/><path d="M161.2 340L176 341.9L182.7 337.5L168 335.6Z" fill="#000000"/><path d="M210.2 270.7L216.8 266.6L216.7 254.6L210 258.7Z" fill="#8e7076"/><path d="M195.4 268.9L210.2 270.7L210 258.7L195.3 256.9Z" fill="#ecbac4"/><path d="M195.3 256.9L210 258.7L216.7 254.6L201.9 252.8Z" fill="#d2a6ae"/><path d="M251 423.7L257.6 419L257.5 407.1L250.9 411.7Z" fill="#000000"/><path d="M236.1 421.7L251 423.7L250.9 411.7L236 409.7Z" fill="#000000"/><path d="M236 409.7L250.9 411.7L257.5 407.1L242.6 405.1Z" fill="#000000"/><path d="M360.1 409.8L366.3 405.2L366.3 393.3L360.1 397.8Z" fill="#8e7076"/><path d="M345 407.8L360.1 409.8L360.1 397.8L345 395.8Z" fill="#ecbac4"/><path d="M345 395.8L360.1 397.8L366.3 393.3L351.2 391.3Z" fill="#d2a6ae"/><path d="M556.6 191L562.1 187.1L562.2 175L556.7 178.9Z" fill="#00490a"/><path d="M541.3 189.3L556.6 191L556.7 178.9L541.5 177.2Z" fill="#007a10"/><path d="M541.5 177.2L556.7 178.9L562.2 175L547 173.4Z" fill="#006d0e"/><path d="M154.8 368.4L161.6 364L161.4 352L154.6 356.4Z" fill="#8e891e"/><path d="M140 366.5L154.8 368.4L154.6 356.4L139.8 354.5Z" fill="#ece432"/><path d="M139.8 354.5L154.6 356.4L161.4 352L146.7 350.1Z" fill="#d2cb2c"/><path d="M229.6 438.3L236.2 433.6L236.1 421.7L229.5 426.3Z" fill="#8e891e"/><path d="M214.8 436.3L229.6 438.3L229.5 426.3L214.6 424.3Z" fill="#ece432"/><path d="M214.6 424.3L229.5 426.3L236.1 421.7L221.3 419.7Z" fill="#d2cb2c"/><path d="M299.9 354L306.3 349.6L306.2 337.6L299.9 342Z" fill="#8e7076"/><path d="M285 352.1L299.9 354L299.9 342L284.9 340.1Z" fill="#ecbac4"/><path d="M284.9 340.1L299.9 342L306.2 337.6L291.3 335.7Z" fill="#d2a6ae"/><path d="M284.9 340.1L291.3 335.7L291.3 323.7L284.9 328Z" fill="#8e7076"/><path d="M270 338.2L284.9 340.1L284.9 328L269.9 326.2Z" fill="#ecbac4"/><path d="M269.9 326.2L284.9 328L291.3 323.7L276.4 321.8Z" fill="#d2a6ae"/><path d="M188.9 285.1L195.6 280.9L195.4 268.9L188.7 273.1Z" fill="#091e85"/><path d="M174.1 283.3L188.9 285.1L188.7 273.1L174 271.3Z" fill="#0f32de"/><path d="M174 271.3L188.7 273.1L195.4 268.9L180.7 267.2Z" fill="#0d2cc6"/><path d="M133.3 383L140.2 378.5L140 366.5L133.1 371Z" fill="#8b170e"/><path d="M118.6 381L133.3 383L133.1 371L118.4 369Z" fill="#e82618"/><path d="M118.4 369L133.1 371L140 366.5L125.3 364.6Z" fill="#ce2215"/><path d="M338.8 424.4L345.1 419.8L345 407.8L338.8 412.4Z" fill="#091e85"/><path d="M323.8 422.4L338.8 424.4L338.8 412.4L323.7 410.4Z" fill="#0f32de"/><path d="M323.7 410.4L338.8 412.4L345 407.8L330 405.8Z" fill="#0d2cc6"/><path d="M208.2 453L214.9 448.2L214.8 436.3L208.1 441Z" fill="#8b170e"/><path d="M193.3 450.9L208.2 453L208.1 441L193.2 439Z" fill="#e82618"/><path d="M193.2 439L208.1 441L214.8 436.3L199.9 434.3Z" fill="#ce2215"/><path d="M278.6 368.5L285.1 364.1L285 352.1L278.5 356.5Z" fill="#091e85"/><path d="M263.7 366.6L278.6 368.5L278.5 356.5L263.6 354.6Z" fill="#0f32de"/><path d="M263.6 354.6L278.5 356.5L285 352.1L270.1 350.2Z" fill="#0d2cc6"/><path d="M167.5 299.6L174.3 295.3L174.1 283.3L167.4 287.5Z" fill="#8e6318"/><path d="M152.8 297.7L167.5 299.6L167.4 287.5L152.6 285.7Z" fill="#eca528"/><path d="M152.6 285.7L167.4 287.5L174.1 283.3L159.4 281.5Z" fill="#d29324"/><path d="M263.6 354.6L270.1 350.2L270 338.2L263.5 342.6Z" fill="#091e85"/><path d="M248.7 352.7L263.6 354.6L263.5 342.6L248.6 340.7Z" fill="#0f32de"/><path d="M248.6 340.7L263.5 342.6L270 338.2L255.2 336.3Z" fill="#0d2cc6"/><path d="M317.5 439.1L323.8 434.4L323.8 422.4L317.4 427.1Z" fill="#8e6318"/><path d="M302.5 437.1L317.5 439.1L317.4 427.1L302.4 425.1Z" fill="#eca528"/><path d="M302.4 425.1L317.4 427.1L323.8 422.4L308.8 420.4Z" fill="#d29324"/><path d="M535.6 205.3L541.2 201.4L541.3 189.3L535.7 193.2Z" fill="#8b2a88"/><path d="M520.3 203.6L535.6 205.3L535.7 193.2L520.5 191.5Z" fill="#e846e2"/><path d="M520.5 191.5L535.7 193.2L541.3 189.3L526.1 187.6Z" fill="#ce3ec9"/><path d="M146.1 314L153 309.8L152.8 297.7L146 302Z" fill="#000000"/><path d="M131.4 312.2L146.1 314L146 302L131.2 300.2Z" fill="#000000"/><path d="M131.2 300.2L146 302L152.8 297.7L138.1 295.9Z" fill="#000000"/><path d="M257.3 383.1L263.8 378.6L263.7 366.6L257.2 371.1Z" fill="#8e6318"/><path d="M242.4 381.1L257.3 383.1L257.2 371.1L242.3 369.1Z" fill="#eca528"/><path d="M242.3 369.1L257.2 371.1L263.7 366.6L248.8 364.7Z" fill="#d29324"/><path d="M242.3 369.1L248.8 364.7L248.7 352.7L242.2 357.1Z" fill="#8e6318"/><path d="M227.4 367.2L242.3 369.1L242.2 357.1L227.3 355.2Z" fill="#eca528"/><path d="M227.3 355.2L242.2 357.1L248.7 352.7L233.9 350.8Z" fill="#d29324"/><path d="M296.1 453.8L302.5 449L302.5 437.1L296 441.8Z" fill="#000000"/><path d="M281.1 451.7L296.1 453.8L296 441.8L281 439.7Z" fill="#000000"/><path d="M281 439.7L296 441.8L302.5 437.1L287.5 435Z" fill="#000000"/><path d="M124.7 328.5L131.6 324.2L131.4 312.2L124.5 316.5Z" fill="#8e891e"/><path d="M110 326.7L124.7 328.5L124.5 316.5L109.8 314.6Z" fill="#ece432"/><path d="M109.8 314.6L124.5 316.5L131.4 312.2L116.8 310.3Z" fill="#d2cb2c"/><path d="M235.9 397.7L242.5 393.1L242.4 381.1L235.8 385.7Z" fill="#000000"/><path d="M221 395.7L235.9 397.7L235.8 385.7L220.9 383.7Z" fill="#000000"/><path d="M220.9 383.7L235.8 385.7L242.4 381.1L227.5 379.2Z" fill="#000000"/><path d="M220.9 383.7L227.5 379.2L227.4 367.2L220.8 371.7Z" fill="#000000"/><path d="M206.1 381.8L220.9 383.7L220.8 371.7L205.9 369.7Z" fill="#000000"/><path d="M205.9 369.7L220.8 371.7L227.4 367.2L212.6 365.3Z" fill="#000000"/><path d="M274.7 468.5L281.2 463.7L281.1 451.7L274.6 456.5Z" fill="#8e891e"/><path d="M259.7 466.4L274.7 468.5L274.6 456.5L259.6 454.4Z" fill="#ece432"/><path d="M259.6 454.4L274.6 456.5L281.1 451.7L266.1 449.7Z" fill="#d2cb2c"/><path d="M103.3 343.1L110.2 338.7L110 326.7L103 331Z" fill="#8b170e"/><path d="M88.6 341.2L103.3 343.1L103 331L88.4 329.1Z" fill="#e82618"/><path d="M88.4 329.1L103 331L110 326.7L95.4 324.8Z" fill="#ce2215"/><path d="M253.3 483.2L259.8 478.4L259.7 466.4L253.2 471.2Z" fill="#8b170e"/><path d="M238.3 481.1L253.3 483.2L253.2 471.2L238.2 469.1Z" fill="#e82618"/><path d="M238.2 469.1L253.2 471.2L259.7 466.4L244.8 464.3Z" fill="#ce2215"/><path d="M214.5 412.3L221.1 407.7L221 395.7L214.4 400.3Z" fill="#8e891e"/><path d="M199.6 410.3L214.5 412.3L214.4 400.3L199.5 398.3Z" fill="#ece432"/><path d="M199.5 398.3L214.4 400.3L221 395.7L206.2 393.7Z" fill="#d2cb2c"/><path d="M199.5 398.3L206.2 393.7L206.1 381.8L199.4 386.3Z" fill="#8e891e"/><path d="M184.7 396.3L199.5 398.3L199.4 386.3L184.5 384.3Z" fill="#ece432"/><path d="M184.5 384.3L199.4 386.3L206.1 381.8L191.2 379.8Z" fill="#d2cb2c"/><path d="M514.5 219.7L520.2 215.7L520.3 203.6L514.7 207.6Z" fill="#785230"/><path d="M499.3 218L514.5 219.7L514.7 207.6L499.4 205.9Z" fill="#c88850"/><path d="M499.4 205.9L514.7 207.6L520.3 203.6L505.2 201.9Z" fill="#b27947"/><path d="M193 427L199.8 422.3L199.6 410.3L192.9 414.9Z" fill="#8b170e"/><path d="M178.2 424.9L193 427L192.9 414.9L178 412.9Z" fill="#e82618"/><path d="M178 412.9L192.9 414.9L199.6 410.3L184.8 408.3Z" fill="#ce2215"/><path d="M178 412.9L184.8 408.3L184.7 396.3L177.9 400.9Z" fill="#8b170e"/><path d="M163.2 410.9L178 412.9L177.9 400.9L163 398.9Z" fill="#e82618"/><path d="M163 398.9L177.9 400.9L184.7 396.3L169.9 394.4Z" fill="#ce2215"/><path d="M541.7 153L547.3 149.2L547.5 137.1L541.9 140.8Z" fill="#00490a"/><path d="M526.5 151.3L541.7 153L541.9 140.8L526.6 139.2Z" fill="#007a10"/><path d="M526.6 139.2L541.9 140.8L547.5 137.1L532.3 135.5Z" fill="#006d0e"/><path d="M493.5 234.1L499.2 230.1L499.3 218L493.6 222Z" fill="#7c182e"/><path d="M478.3 232.4L493.5 234.1L493.6 222L478.4 220.3Z" fill="#ce284c"/><path d="M478.4 220.3L493.6 222L499.3 218L484.2 216.3Z" fill="#b72444"/><path d="M472.4 248.5L478.2 244.4L478.3 232.4L472.5 236.4Z" fill="#030f4d"/><path d="M457.2 246.8L472.4 248.5L472.5 236.4L457.3 234.7Z" fill="#051980"/><path d="M457.3 234.7L472.5 236.4L478.3 232.4L463.1 230.6Z" fill="#041672"/><path d="M520.7 167.3L526.4 163.5L526.5 151.3L520.8 155.1Z" fill="#8b2a88"/><path d="M505.5 165.6L520.7 167.3L520.8 155.1L505.6 153.5Z" fill="#e846e2"/><path d="M505.6 153.5L520.8 155.1L526.5 151.3L511.3 149.7Z" fill="#ce3ec9"/><path d="M451.2 263L457.1 258.8L457.2 246.8L451.3 250.9Z" fill="#7c6c5a"/><path d="M436.1 261.2L451.2 263L451.3 250.9L436.1 249.1Z" fill="#ceb496"/><path d="M436.1 249.1L451.3 250.9L457.2 246.8L442.1 245Z" fill="#b7a086"/><path d="M499.7 181.6L505.4 177.8L505.5 165.6L499.8 169.5Z" fill="#785230"/><path d="M484.5 180L499.7 181.6L499.8 169.5L484.5 167.8Z" fill="#c88850"/><path d="M484.5 167.8L499.8 169.5L505.5 165.6L490.3 164Z" fill="#b27947"/><path d="M430 277.4L436 273.3L436.1 261.2L430.1 265.3Z" fill="#494949"/><path d="M414.9 275.6L430 277.4L430.1 265.3L414.9 263.5Z" fill="#7a7a7a"/><path d="M414.9 263.5L430.1 265.3L436.1 261.2L420.9 259.4Z" fill="#6d6d6d"/><path d="M478.6 196L484.4 192.1L484.5 180L478.6 183.9Z" fill="#7c182e"/><path d="M463.4 194.3L478.6 196L478.6 183.9L463.4 182.2Z" fill="#ce284c"/><path d="M463.4 182.2L478.6 183.9L484.5 180L469.3 178.3Z" fill="#b72444"/><path d="M408.8 291.9L414.9 287.7L414.9 275.6L408.9 279.8Z" fill="#8e791b"/><path d="M393.7 290.1L408.8 291.9L408.9 279.8L393.7 278Z" fill="#ecca2d"/><path d="M393.7 278L408.9 279.8L414.9 275.6L399.8 273.8Z" fill="#d2b428"/><path d="M457.4 210.4L463.3 206.4L463.4 194.3L457.5 198.3Z" fill="#030f4d"/><path d="M442.2 208.7L457.4 210.4L457.5 198.3L442.3 196.6Z" fill="#051980"/><path d="M442.3 196.6L457.5 198.3L463.4 194.3L448.2 192.6Z" fill="#041672"/><path d="M387.6 306.5L393.7 302.2L393.7 290.1L387.6 294.4Z" fill="#8e4636"/><path d="M372.5 304.6L387.6 306.5L387.6 294.4L372.5 292.5Z" fill="#ec745a"/><path d="M372.5 292.5L387.6 294.4L393.7 290.1L378.6 288.3Z" fill="#d26750"/><path d="M366.3 321L372.4 316.7L372.5 304.6L366.3 308.9Z" fill="#64211f"/><path d="M351.2 319.1L366.3 321L366.3 308.9L351.2 307.1Z" fill="#a63734"/><path d="M351.2 307.1L366.3 308.9L372.5 304.6L357.4 302.8Z" fill="#94312e"/><path d="M436.2 224.8L442.2 220.8L442.2 208.7L436.3 212.7Z" fill="#7c6c5a"/><path d="M421.1 223.1L436.2 224.8L436.3 212.7L421.1 211Z" fill="#ceb496"/><path d="M421.1 211L436.3 212.7L442.2 208.7L427.1 207Z" fill="#b7a086"/><path d="M344.9 335.6L351.2 331.2L351.2 319.1L344.9 323.5Z" fill="#521552"/><path d="M329.8 333.7L344.9 335.6L344.9 323.5L329.8 321.6Z" fill="#882388"/><path d="M329.8 321.6L344.9 323.5L351.2 319.1L336.1 317.3Z" fill="#791f79"/><path d="M415 239.3L421 235.2L421.1 223.1L415.1 227.1Z" fill="#494949"/><path d="M399.9 237.5L415 239.3L415.1 227.1L399.9 225.4Z" fill="#7a7a7a"/><path d="M399.9 225.4L415.1 227.1L421.1 223.1L406 221.4Z" fill="#6d6d6d"/><path d="M323.6 350.2L329.9 345.8L329.8 333.7L323.5 338.1Z" fill="#525252"/><path d="M308.5 348.3L323.6 350.2L323.5 338.1L308.4 336.2Z" fill="#888888"/><path d="M308.4 336.2L323.5 338.1L329.8 333.7L314.8 331.8Z" fill="#797979"/><path d="M302.1 364.8L308.5 360.4L308.5 348.3L302.1 352.7Z" fill="#8e7076"/><path d="M287.1 362.9L302.1 364.8L302.1 352.7L287 350.8Z" fill="#ecbac4"/><path d="M287 350.8L302.1 352.7L308.5 348.3L293.5 346.4Z" fill="#d2a6ae"/><path d="M393.8 253.8L399.9 249.7L399.9 237.5L393.8 241.6Z" fill="#8e791b"/><path d="M378.6 252L393.8 253.8L393.8 241.6L378.6 239.9Z" fill="#ecca2d"/><path d="M378.6 239.9L393.8 241.6L399.9 237.5L384.8 235.8Z" fill="#d2b428"/><path d="M280.7 379.5L287.1 375L287.1 362.9L280.6 367.4Z" fill="#091e85"/><path d="M265.6 377.5L280.7 379.5L280.6 367.4L265.6 365.5Z" fill="#0f32de"/><path d="M265.6 365.5L280.6 367.4L287.1 362.9L272.1 361Z" fill="#0d2cc6"/><path d="M372.5 268.3L378.6 264.1L378.6 252L372.5 256.1Z" fill="#8e4636"/><path d="M357.4 266.5L372.5 268.3L372.5 256.1L357.3 254.3Z" fill="#ec745a"/><path d="M357.3 254.3L372.5 256.1L378.6 252L363.6 250.2Z" fill="#d26750"/><path d="M259.2 394.2L265.7 389.6L265.6 377.5L259.1 382.1Z" fill="#8e6318"/><path d="M244.2 392.2L259.2 394.2L259.1 382.1L244.1 380.1Z" fill="#eca528"/><path d="M244.1 380.1L259.1 382.1L265.6 377.5L250.6 375.6Z" fill="#d29324"/><path d="M237.6 408.9L244.3 404.3L244.2 392.2L237.5 396.8Z" fill="#000000"/><path d="M222.6 406.9L237.6 408.9L237.5 396.8L222.5 394.8Z" fill="#000000"/><path d="M222.5 394.8L237.5 396.8L244.2 392.2L229.2 390.2Z" fill="#000000"/><path d="M351.1 282.8L357.4 278.6L357.4 266.5L351.1 270.7Z" fill="#64211f"/><path d="M336 281L351.1 282.8L351.1 270.7L336 268.9Z" fill="#a63734"/><path d="M336 268.9L351.1 270.7L357.4 266.5L342.3 264.7Z" fill="#94312e"/><path d="M216.1 423.7L222.8 419L222.6 406.9L215.9 411.6Z" fill="#8e891e"/><path d="M201.1 421.6L216.1 423.7L215.9 411.6L200.9 409.5Z" fill="#ece432"/><path d="M200.9 409.5L215.9 411.6L222.6 406.9L207.7 404.9Z" fill="#d2cb2c"/><path d="M194.4 438.4L201.2 433.7L201.1 421.6L194.3 426.3Z" fill="#8b170e"/><path d="M179.5 436.4L194.4 438.4L194.3 426.3L179.3 424.3Z" fill="#e82618"/><path d="M179.3 424.3L194.3 426.3L201.1 421.6L186.1 419.6Z" fill="#ce2215"/><path d="M329.8 297.4L336.1 293.1L336 281L329.7 285.2Z" fill="#521552"/><path d="M314.7 295.5L329.8 297.4L329.7 285.2L314.6 283.4Z" fill="#882388"/><path d="M314.6 283.4L329.7 285.2L336 281L321 279.2Z" fill="#791f79"/><path d="M308.3 312L314.7 307.6L314.7 295.5L308.3 299.8Z" fill="#525252"/><path d="M293.3 310.1L308.3 312L308.3 299.8L293.2 298Z" fill="#888888"/><path d="M293.2 298L308.3 299.8L314.7 295.5L299.6 293.7Z" fill="#797979"/><path d="M591.6 204L597.1 200L597.3 187.8L591.8 191.8Z" fill="#00490a"/><path d="M576.1 202.3L591.6 204L591.8 191.8L576.3 190.1Z" fill="#007a10"/><path d="M576.3 190.1L591.8 191.8L597.3 187.8L581.8 186.1Z" fill="#006d0e"/><path d="M286.9 326.6L293.3 322.2L293.3 310.1L286.8 314.4Z" fill="#8e7076"/><path d="M271.8 324.7L286.9 326.6L286.8 314.4L271.8 312.6Z" fill="#ecbac4"/><path d="M271.8 312.6L286.8 314.4L293.3 310.1L278.3 308.2Z" fill="#d2a6ae"/><path d="M570.4 218.5L576 214.5L576.1 202.3L570.6 206.3Z" fill="#8b2a88"/><path d="M555 216.8L570.4 218.5L570.6 206.3L555.1 204.5Z" fill="#e846e2"/><path d="M555.1 204.5L570.6 206.3L576.1 202.3L560.7 200.6Z" fill="#ce3ec9"/><path d="M265.4 341.2L271.9 336.8L271.8 324.7L265.3 329.1Z" fill="#091e85"/><path d="M250.4 339.3L265.4 341.2L265.3 329.1L250.3 327.2Z" fill="#0f32de"/><path d="M250.3 327.2L265.3 329.1L271.8 324.7L256.8 322.8Z" fill="#0d2cc6"/><path d="M243.9 355.9L250.5 351.4L250.4 339.3L243.8 343.7Z" fill="#8e6318"/><path d="M228.8 354L243.9 355.9L243.8 343.7L228.7 341.8Z" fill="#eca528"/><path d="M228.7 341.8L243.8 343.7L250.4 339.3L235.4 337.4Z" fill="#d29324"/><path d="M222.3 370.6L229 366.1L228.8 354L222.2 358.4Z" fill="#000000"/><path d="M207.3 368.6L222.3 370.6L222.2 358.4L207.2 356.5Z" fill="#000000"/><path d="M207.2 356.5L222.2 358.4L228.8 354L213.9 352Z" fill="#000000"/><path d="M549.2 233L554.8 229L555 216.8L549.3 220.8Z" fill="#785230"/><path d="M533.8 231.3L549.2 233L549.3 220.8L533.9 219.1Z" fill="#c88850"/><path d="M533.9 219.1L549.3 220.8L555 216.8L539.6 215Z" fill="#b27947"/><path d="M200.7 385.3L207.4 380.7L207.3 368.6L200.5 373.2Z" fill="#8e891e"/><path d="M185.7 383.3L200.7 385.3L200.5 373.2L185.5 371.2Z" fill="#ece432"/><path d="M185.5 371.2L200.5 373.2L207.3 368.6L192.3 366.7Z" fill="#d2cb2c"/><path d="M179 400.1L185.8 395.4L185.7 383.3L178.9 387.9Z" fill="#8b170e"/><path d="M164 398.1L179 400.1L178.9 387.9L163.9 385.9Z" fill="#e82618"/><path d="M163.9 385.9L178.9 387.9L185.7 383.3L170.7 381.4Z" fill="#ce2215"/><path d="M527.9 247.6L533.6 243.5L533.8 231.3L528.1 235.4Z" fill="#7c182e"/><path d="M512.5 245.8L527.9 247.6L528.1 235.4L512.7 233.6Z" fill="#ce284c"/><path d="M512.7 233.6L528.1 235.4L533.8 231.3L518.4 229.5Z" fill="#b72444"/><path d="M506.6 262.2L512.4 258L512.5 245.8L506.8 249.9Z" fill="#030f4d"/><path d="M491.3 260.4L506.6 262.2L506.8 249.9L491.4 248.2Z" fill="#051980"/><path d="M491.4 248.2L506.8 249.9L512.5 245.8L497.2 244Z" fill="#041672"/><path d="M485.3 276.8L491.2 272.6L491.3 260.4L485.4 264.6Z" fill="#7c6c5a"/><path d="M469.9 275L485.3 276.8L485.4 264.6L470 262.7Z" fill="#ceb496"/><path d="M470 262.7L485.4 264.6L491.3 260.4L475.9 258.6Z" fill="#b7a086"/><path d="M525 139.9L530.7 136.1L530.9 123.9L525.1 127.6Z" fill="#00490a"/><path d="M509.6 138.3L525 139.9L525.1 127.6L509.8 126Z" fill="#007a10"/><path d="M509.8 126L525.1 127.6L530.9 123.9L515.5 122.3Z" fill="#006d0e"/><path d="M463.9 291.4L469.9 287.1L469.9 275L464 279.2Z" fill="#494949"/><path d="M448.6 289.6L463.9 291.4L464 279.2L448.6 277.4Z" fill="#7a7a7a"/><path d="M448.6 277.4L464 279.2L469.9 275L454.6 273.1Z" fill="#6d6d6d"/><path d="M442.5 306.1L448.5 301.8L448.6 289.6L442.6 293.9Z" fill="#8e791b"/><path d="M427.2 304.2L442.5 306.1L442.6 293.9L427.2 292Z" fill="#ecca2d"/><path d="M427.2 292L442.6 293.9L448.6 289.6L433.3 287.7Z" fill="#d2b428"/><path d="M503.7 154.4L509.5 150.5L509.6 138.3L503.9 142.1Z" fill="#8b2a88"/><path d="M488.4 152.7L503.7 154.4L503.9 142.1L488.5 140.4Z" fill="#e846e2"/><path d="M488.5 140.4L503.9 142.1L509.6 138.3L494.3 136.7Z" fill="#ce3ec9"/><path d="M421.1 320.8L427.1 316.4L427.2 304.2L421.1 308.6Z" fill="#8e4636"/><path d="M405.7 318.9L421.1 320.8L421.1 308.6L405.8 306.7Z" fill="#ec745a"/><path d="M405.8 306.7L421.1 308.6L427.2 304.2L411.9 302.4Z" fill="#d26750"/><path d="M482.4 168.9L488.3 165L488.4 152.7L482.5 156.6Z" fill="#785230"/><path d="M467.1 167.2L482.4 168.9L482.5 156.6L467.2 154.9Z" fill="#c88850"/><path d="M467.2 154.9L482.5 156.6L488.4 152.7L473.1 151.1Z" fill="#b27947"/><path d="M399.6 335.5L405.7 331.1L405.7 318.9L399.6 323.3Z" fill="#64211f"/><path d="M384.3 333.6L399.6 335.5L399.6 323.3L384.3 321.4Z" fill="#a63734"/><path d="M384.3 321.4L399.6 323.3L405.7 318.9L390.5 317Z" fill="#94312e"/><path d="M461.1 183.4L467 179.5L467.1 167.2L461.2 171.1Z" fill="#7c182e"/><path d="M445.7 181.7L461.1 183.4L461.2 171.1L445.8 169.4Z" fill="#ce284c"/><path d="M445.8 169.4L461.2 171.1L467.1 167.2L451.8 165.5Z" fill="#b72444"/><path d="M378 350.2L384.3 345.8L384.3 333.6L378 338Z" fill="#521552"/><path d="M362.8 348.3L378 350.2L378 338L362.7 336.1Z" fill="#882388"/><path d="M362.7 336.1L378 338L384.3 333.6L369 331.7Z" fill="#791f79"/><path d="M356.5 365L362.8 360.5L362.8 348.3L356.5 352.8Z" fill="#525252"/><path d="M341.2 363.1L356.5 365L356.5 352.8L341.2 350.9Z" fill="#888888"/><path d="M341.2 350.9L356.5 352.8L362.8 348.3L347.5 346.4Z" fill="#797979"/><path d="M439.7 197.9L445.7 194L445.7 181.7L439.7 185.6Z" fill="#030f4d"/><path d="M424.4 196.2L439.7 197.9L439.7 185.6L424.4 183.9Z" fill="#051980"/><path d="M424.4 183.9L439.7 185.6L445.7 181.7L430.5 180Z" fill="#041672"/><path d="M334.9 379.8L341.2 375.3L341.2 363.1L334.8 367.6Z" fill="#8e7076"/><path d="M319.6 377.8L334.9 379.8L334.8 367.6L319.6 365.6Z" fill="#ecbac4"/><path d="M319.6 365.6L334.8 367.6L341.2 363.1L326 361.1Z" fill="#d2a6ae"/><path d="M313.2 394.7L319.6 390L319.6 377.8L313.2 382.4Z" fill="#091e85"/><path d="M298 392.7L313.2 394.7L313.2 382.4L297.9 380.5Z" fill="#0f32de"/><path d="M297.9 380.5L313.2 382.4L319.6 377.8L304.4 375.9Z" fill="#0d2cc6"/><path d="M418.3 212.5L424.3 208.5L424.4 196.2L418.3 200.2Z" fill="#7c6c5a"/><path d="M403 210.8L418.3 212.5L418.3 200.2L403 198.5Z" fill="#ceb496"/><path d="M403 198.5L418.3 200.2L424.4 196.2L409.1 194.5Z" fill="#b7a086"/><path d="M291.5 409.5L298 404.8L298 392.7L291.4 397.3Z" fill="#8e6318"/><path d="M276.3 407.5L291.5 409.5L291.4 397.3L276.2 395.3Z" fill="#eca528"/><path d="M276.2 395.3L291.4 397.3L298 392.7L282.8 390.7Z" fill="#d29324"/><path d="M269.8 424.4L276.4 419.7L276.3 407.5L269.7 412.2Z" fill="#000000"/><path d="M254.6 422.4L269.8 424.4L269.7 412.2L254.5 410.2Z" fill="#000000"/><path d="M254.5 410.2L269.7 412.2L276.3 407.5L261.1 405.5Z" fill="#000000"/><path d="M396.8 227.1L402.9 223L403 210.8L396.8 214.8Z" fill="#494949"/><path d="M381.5 225.4L396.8 227.1L396.8 214.8L381.5 213.1Z" fill="#7a7a7a"/><path d="M381.5 213.1L396.8 214.8L403 210.8L387.7 209Z" fill="#6d6d6d"/><path d="M248 439.3L254.7 434.5L254.6 422.4L247.9 427.1Z" fill="#8e891e"/><path d="M232.8 437.3L248 439.3L247.9 427.1L232.7 425Z" fill="#ece432"/><path d="M232.7 425L247.9 427.1L254.6 422.4L239.4 420.3Z" fill="#d2cb2c"/><path d="M226.2 454.3L232.9 449.4L232.8 437.3L226.1 442.1Z" fill="#8b170e"/><path d="M211 452.2L226.2 454.3L226.1 442.1L210.9 440Z" fill="#e82618"/><path d="M210.9 440L226.1 442.1L232.8 437.3L217.7 435.2Z" fill="#ce2215"/><path d="M375.3 241.8L381.5 237.6L381.5 225.4L375.3 229.5Z" fill="#8e791b"/><path d="M360 240L375.3 241.8L375.3 229.5L360 227.7Z" fill="#ecca2d"/><path d="M360 227.7L375.3 229.5L381.5 225.4L366.3 223.6Z" fill="#d2b428"/><path d="M353.7 256.4L360 252.2L360 240L353.7 244.1Z" fill="#8e4636"/><path d="M338.5 254.6L353.7 256.4L353.7 244.1L338.4 242.3Z" fill="#ec745a"/><path d="M338.4 242.3L353.7 244.1L360 240L344.8 238.2Z" fill="#d26750"/><path d="M332.1 271.1L338.5 266.9L338.5 254.6L332.1 258.8Z" fill="#64211f"/><path d="M316.9 269.3L332.1 271.1L332.1 258.8L316.8 257Z" fill="#a63734"/><path d="M316.8 257L332.1 258.8L338.5 254.6L323.3 252.8Z" fill="#94312e"/><path d="M310.5 285.8L316.9 281.5L316.9 269.3L310.4 273.5Z" fill="#521552"/><path d="M295.3 284L310.5 285.8L310.4 273.5L295.2 271.7Z" fill="#882388"/><path d="M295.2 271.7L310.4 273.5L316.9 269.3L301.7 267.4Z" fill="#791f79"/><path d="M288.8 300.5L295.3 296.2L295.3 284L288.8 288.3Z" fill="#525252"/><path d="M273.6 298.7L288.8 300.5L288.8 288.3L273.5 286.4Z" fill="#888888"/><path d="M273.5 286.4L288.8 288.3L295.3 284L280.1 282.1Z" fill="#797979"/><path d="M606.2 219.6L611.7 215.5L611.9 203.2L606.4 207.2Z" fill="#00490a"/><path d="M590.5 217.8L606.2 219.6L606.4 207.2L590.7 205.5Z" fill="#007a10"/><path d="M590.7 205.5L606.4 207.2L611.9 203.2L596.3 201.4Z" fill="#006d0e"/><path d="M267.1 315.3L273.7 310.9L273.6 298.7L267 303Z" fill="#8e7076"/><path d="M251.9 313.4L267.1 315.3L267 303L251.8 301.1Z" fill="#ecbac4"/><path d="M251.8 301.1L267 303L273.6 298.7L258.5 296.8Z" fill="#d2a6ae"/><path d="M245.4 330.1L252 325.7L251.9 313.4L245.3 317.8Z" fill="#091e85"/><path d="M230.2 328.2L245.4 330.1L245.3 317.8L230.1 315.9Z" fill="#0f32de"/><path d="M230.1 315.9L245.3 317.8L251.9 313.4L236.8 311.5Z" fill="#0d2cc6"/><path d="M584.8 234.3L590.3 230.2L590.5 217.8L584.9 221.9Z" fill="#8b2a88"/><path d="M569.1 232.5L584.8 234.3L584.9 221.9L569.3 220.1Z" fill="#e846e2"/><path d="M569.3 220.1L584.9 221.9L590.5 217.8L574.9 216.1Z" fill="#ce3ec9"/><path d="M223.6 344.9L230.3 340.5L230.2 328.2L223.4 332.6Z" fill="#8e6318"/><path d="M208.4 343L223.6 344.9L223.4 332.6L208.3 330.7Z" fill="#eca528"/><path d="M208.3 330.7L223.4 332.6L230.2 328.2L215.1 326.3Z" fill="#d29324"/><path d="M201.7 359.8L208.5 355.3L208.4 343L201.6 347.5Z" fill="#000000"/><path d="M186.6 357.8L201.7 359.8L201.6 347.5L186.4 345.5Z" fill="#000000"/><path d="M186.4 345.5L201.6 347.5L208.4 343L193.3 341.1Z" fill="#000000"/><path d="M563.3 249L568.9 244.8L569.1 232.5L563.5 236.6Z" fill="#785230"/><path d="M547.7 247.2L563.3 249L563.5 236.6L547.8 234.9Z" fill="#c88850"/><path d="M547.8 234.9L563.5 236.6L569.1 232.5L553.5 230.7Z" fill="#b27947"/><path d="M179.8 374.7L186.7 370.1L186.6 357.8L179.7 362.4Z" fill="#8e891e"/><path d="M164.7 372.7L179.8 374.7L179.7 362.4L164.6 360.4Z" fill="#ece432"/><path d="M164.6 360.4L179.7 362.4L186.6 357.8L171.5 355.9Z" fill="#d2cb2c"/><path d="M157.9 389.6L164.9 384.9L164.7 372.7L157.7 377.3Z" fill="#8b170e"/><path d="M142.8 387.6L157.9 389.6L157.7 377.3L142.6 375.3Z" fill="#e82618"/><path d="M142.6 375.3L157.7 377.3L164.7 372.7L149.6 370.7Z" fill="#ce2215"/><path d="M541.8 263.8L547.5 259.5L547.7 247.2L541.9 251.4Z" fill="#7c182e"/><path d="M526.2 261.9L541.8 263.8L541.9 251.4L526.3 249.6Z" fill="#ce284c"/><path d="M526.3 249.6L541.9 251.4L547.7 247.2L532.1 245.4Z" fill="#b72444"/><path d="M520.2 278.5L526 274.3L526.2 261.9L520.4 266.2Z" fill="#030f4d"/><path d="M504.6 276.7L520.2 278.5L520.4 266.2L504.8 264.3Z" fill="#051980"/><path d="M504.8 264.3L520.4 266.2L526.2 261.9L510.6 260.1Z" fill="#041672"/><path d="M498.7 293.3L504.5 289L504.6 276.7L498.8 281Z" fill="#7c6c5a"/><path d="M483.1 291.5L498.7 293.3L498.8 281L483.2 279.1Z" fill="#ceb496"/><path d="M483.2 279.1L498.8 281L504.6 276.7L489.1 274.8Z" fill="#b7a086"/><path d="M477 308.2L483 303.8L483.1 291.5L477.1 295.8Z" fill="#494949"/><path d="M461.5 306.3L477 308.2L477.1 295.8L461.5 293.9Z" fill="#7a7a7a"/><path d="M461.5 293.9L477.1 295.8L483.1 291.5L467.5 289.6Z" fill="#6d6d6d"/><path d="M455.4 323.1L461.4 318.6L461.5 306.3L455.4 310.7Z" fill="#8e791b"/><path d="M439.8 321.1L455.4 323.1L455.4 310.7L439.9 308.8Z" fill="#ecca2d"/><path d="M439.9 308.8L455.4 310.7L461.5 306.3L445.9 304.4Z" fill="#d2b428"/><path d="M433.6 337.9L439.7 333.5L439.8 321.1L433.7 325.6Z" fill="#8e4636"/><path d="M418.1 336L433.6 337.9L433.7 325.6L418.2 323.7Z" fill="#ec745a"/><path d="M418.2 323.7L433.7 325.6L439.8 321.1L424.3 319.2Z" fill="#d26750"/><path d="M411.9 352.9L418.1 348.3L418.1 336L411.9 340.5Z" fill="#64211f"/><path d="M396.4 350.9L411.9 352.9L411.9 340.5L396.4 338.6Z" fill="#a63734"/><path d="M396.4 338.6L411.9 340.5L418.1 336L402.6 334.1Z" fill="#94312e"/><path d="M390.1 367.8L396.4 363.2L396.4 350.9L390.1 355.5Z" fill="#521552"/><path d="M374.6 365.8L390.1 367.8L390.1 355.5L374.6 353.5Z" fill="#882388"/><path d="M374.6 353.5L390.1 355.5L396.4 350.9L380.9 348.9Z" fill="#791f79"/><path d="M368.3 382.8L374.6 378.2L374.6 365.8L368.3 370.4Z" fill="#525252"/><path d="M352.8 380.8L368.3 382.8L368.3 370.4L352.8 368.4Z" fill="#888888"/><path d="M352.8 368.4L368.3 370.4L374.6 365.8L359.2 363.8Z" fill="#797979"/><path d="M346.4 397.8L352.8 393.1L352.8 380.8L346.4 385.4Z" fill="#8e7076"/><path d="M330.9 395.8L346.4 397.8L346.4 385.4L330.9 383.4Z" fill="#ecbac4"/><path d="M330.9 383.4L346.4 385.4L352.8 380.8L337.4 378.8Z" fill="#d2a6ae"/><path d="M324.5 412.8L331 408.1L330.9 395.8L324.4 400.5Z" fill="#091e85"/><path d="M309 410.8L324.5 412.8L324.4 400.5L309 398.4Z" fill="#0f32de"/><path d="M309 398.4L324.4 400.5L330.9 395.8L315.5 393.7Z" fill="#0d2cc6"/><path d="M302.5 427.9L309.1 423.1L309 410.8L302.5 415.5Z" fill="#8e6318"/><path d="M287.1 425.8L302.5 427.9L302.5 415.5L287 413.5Z" fill="#eca528"/><path d="M287 413.5L302.5 415.5L309 410.8L293.6 408.7Z" fill="#d29324"/><path d="M280.5 443L287.2 438.1L287.1 425.8L280.5 430.6Z" fill="#000000"/><path d="M265.1 440.9L280.5 443L280.5 430.6L265 428.5Z" fill="#000000"/><path d="M265 428.5L280.5 430.6L287.1 425.8L271.7 423.7Z" fill="#000000"/><path d="M258.5 458.1L265.2 453.2L265.1 440.9L258.4 445.8Z" fill="#8e891e"/><path d="M243.1 456L258.5 458.1L258.4 445.8L243 443.6Z" fill="#ece432"/><path d="M243 443.6L258.4 445.8L265.1 440.9L249.7 438.8Z" fill="#d2cb2c"/><path d="M236.4 473.3L243.2 468.3L243.1 456L236.3 460.9Z" fill="#8b170e"/><path d="M221 471.1L236.4 473.3L236.3 460.9L220.9 458.8Z" fill="#e82618"/><path d="M220.9 458.8L236.3 460.9L243.1 456L227.7 453.9Z" fill="#ce2215"/></g></g><g font-family="'DejaVu Sans','Liberation Sans',sans-serif"><text transform="translate(32 550.6)" y="6" font-size="16.5" font-weight="normal" text-anchor="middle" fill="#1a1a1a">4</text><text transform="translate(56.2 554.9)" y="6" font-size="16.5" font-weight="normal" text-anchor="middle" fill="#1a1a1a">6</text><text transform="translate(86 559.3)" y="6" font-size="16.5" font-weight="normal" text-anchor="middle" fill="#1a1a1a">8</text><text transform="translate(116.1 563.7)" y="6" font-size="16.5" font-weight="normal" text-anchor="middle" fill="#1a1a1a">10</text><text transform="translate(146.2 568.2)" y="6" font-size="16.5" font-weight="normal" text-anchor="middle" fill="#1a1a1a">12</text><text transform="translate(176.6 572.6)" y="6" font-size="16.5" font-weight="normal" text-anchor="middle" fill="#1a1a1a">14</text><text transform="translate(207.1 577.1)" y="6" font-size="16.5" font-weight="normal" text-anchor="middle" fill="#1a1a1a">16</text><text transform="translate(237.9 581.6)" y="6" font-size="16.5" font-weight="normal" text-anchor="middle" fill="#1a1a1a">18</text><text transform="translate(268.7 586.1)" y="6" font-size="16.5" font-weight="normal" text-anchor="middle" fill="#1a1a1a">20</text><text transform="translate(299.8 590.7)" y="6" font-size="16.5" font-weight="normal" text-anchor="middle" fill="#1a1a1a">22</text><text transform="translate(331.1 595.3)" y="6" font-size="16.5" font-weight="normal" text-anchor="middle" fill="#1a1a1a">24</text><text transform="translate(362.5 599.9)" y="6" font-size="16.5" font-weight="normal" text-anchor="middle" fill="#1a1a1a">26</text><text transform="translate(394.1 604.5)" y="6" font-size="16.5" font-weight="normal" text-anchor="middle" fill="#1a1a1a">28</text><text transform="translate(425.9 609.2)" y="6" font-size="16.5" font-weight="normal" text-anchor="middle" fill="#1a1a1a">30</text><text transform="translate(457.9 613.9)" y="6" font-size="16.5" font-weight="normal" text-anchor="middle" fill="#1a1a1a">32</text><text transform="translate(490.1 618.6)" y="6" font-size="16.5" font-weight="normal" text-anchor="middle" fill="#1a1a1a">34</text><text transform="translate(559.2 607.7)" y="6" font-size="16.5" font-weight="normal" text-anchor="middle" fill="#1a1a1a">4</text><text transform="translate(571.1 597)" y="6" font-size="16.5" font-weight="normal" text-anchor="middle" fill="#1a1a1a">6</text><text transform="translate(582.7 586.3)" y="6" font-size="16.5" font-weight="normal" text-anchor="middle" fill="#1a1a1a">8</text><text transform="translate(594.3 575.8)" y="6" font-size="16.5" font-weight="normal" text-anchor="middle" fill="#1a1a1a">10</text><text transform="translate(605.6 565.5)" y="6" font-size="16.5" font-weight="normal" text-anchor="middle" fill="#1a1a1a">12</text><text transform="translate(616.9 555.2)" y="6" font-size="16.5" font-weight="normal" text-anchor="middle" fill="#1a1a1a">14</text><text transform="translate(628 545.1)" y="6" font-size="16.5" font-weight="normal" text-anchor="middle" fill="#1a1a1a">16</text><text transform="translate(638.9 535.2)" y="6" font-size="16.5" font-weight="normal" text-anchor="middle" fill="#1a1a1a">18</text><text transform="translate(649.7 525.3)" y="6" font-size="16.5" font-weight="normal" text-anchor="middle" fill="#1a1a1a">20</text><text transform="translate(660.4 515.6)" y="6" font-size="16.5" font-weight="normal" text-anchor="middle" fill="#1a1a1a">22</text><text transform="translate(670.9 506)" y="6" font-size="16.5" font-weight="normal" text-anchor="middle" fill="#1a1a1a">24</text><text transform="translate(681.3 496.5)" y="6" font-size="16.5" font-weight="normal" text-anchor="middle" fill="#1a1a1a">26</text><text transform="translate(691.6 487.1)" y="6" font-size="16.5" font-weight="normal" text-anchor="middle" fill="#1a1a1a">28</text><text transform="translate(701.8 477.9)" y="6" font-size="16.5" font-weight="normal" text-anchor="middle" fill="#1a1a1a">30</text><text transform="translate(711.8 468.7)" y="6" font-size="16.5" font-weight="normal" text-anchor="middle" fill="#1a1a1a">32</text><text transform="translate(721.7 459.7)" y="6" font-size="16.5" font-weight="normal" text-anchor="middle" fill="#1a1a1a">34</text><text transform="translate(737.7 409.1)" y="6" font-size="16.5" font-weight="normal" text-anchor="middle" fill="#1a1a1a">6</text><text transform="translate(738.2 386.2)" y="6" font-size="16.5" font-weight="normal" text-anchor="middle" fill="#1a1a1a">8</text><text transform="translate(738.7 363.2)" y="6" font-size="16.5" font-weight="normal" text-anchor="middle" fill="#1a1a1a">10</text><text transform="translate(739.3 340.1)" y="6" font-size="16.5" font-weight="normal" text-anchor="middle" fill="#1a1a1a">12</text><text transform="translate(739.8 316.9)" y="6" font-size="16.5" font-weight="normal" text-anchor="middle" fill="#1a1a1a">14</text><text transform="translate(740.3 293.7)" y="6" font-size="16.5" font-weight="normal" text-anchor="middle" fill="#1a1a1a">16</text><text transform="translate(740.9 270.3)" y="6" font-size="16.5" font-weight="normal" text-anchor="middle" fill="#1a1a1a">18</text><text transform="translate(741.4 247)" y="6" font-size="16.5" font-weight="normal" text-anchor="middle" fill="#1a1a1a">20</text><text transform="translate(742 223.5)" y="6" font-size="16.5" font-weight="normal" text-anchor="middle" fill="#1a1a1a">22</text><text transform="translate(742.5 200)" y="6" font-size="16.5" font-weight="normal" text-anchor="middle" fill="#1a1a1a">24</text><text transform="translate(743.1 176.4)" y="6" font-size="16.5" font-weight="normal" text-anchor="middle" fill="#1a1a1a">26</text><text transform="translate(743.6 152.7)" y="6" font-size="16.5" font-weight="normal" text-anchor="middle" fill="#1a1a1a">28</text><text transform="translate(744.2 128.9)" y="6" font-size="16.5" font-weight="normal" text-anchor="middle" fill="#1a1a1a">30</text><text transform="translate(744.7 105.1)" y="6" font-size="16.5" font-weight="normal" text-anchor="middle" fill="#1a1a1a">32</text><text transform="translate(745.3 81.2)" y="6" font-size="16.5" font-weight="normal" text-anchor="middle" fill="#1a1a1a">34</text><text transform="translate(248.8 606.2) rotate(8.4)" y="5.8" font-size="16" font-weight="bold" text-anchor="middle" fill="#1a1a1a">X-axis</text><text transform="translate(669.9 546.3) rotate(-42)" y="5.8" font-size="16" font-weight="bold" text-anchor="middle" fill="#1a1a1a">Y-axis</text><text transform="translate(774.1 236.8) rotate(-90)" y="5.8" font-size="16" font-weight="bold" text-anchor="middle" fill="#1a1a1a">Z-axis</text></g></g><clipPath id="cb"><rect x="820" y="23" width="656" height="650"/></clipPath><g clip-path="url(#cb)"><path d="M892.3 597.6 L1467.4 595.9 L1465.2 21.3 L891.4 24.1 Z" fill="#f7f7f7" /><path d="M903.8 597.5L902.9 24.1M939.4 597.4L938.4 23.9M974.9 597.3L973.9 23.7M1010.5 597.2L1009.4 23.6M1046.1 597.1L1044.9 23.4M1081.6 597L1080.4 23.2M1117.2 596.9L1115.9 23M1152.8 596.8L1151.4 22.9M1188.4 596.7L1186.9 22.7M1224.1 596.6L1222.4 22.5M1259.7 596.5L1258 22.3M1295.3 596.4L1293.5 22.2M1331 596.3L1329.1 22M1366.6 596.2L1364.7 21.8M1402.3 596.1L1400.3 21.6M1437.9 596L1435.9 21.5M892.2 568.8L1467.3 567M892.2 534.3L1467.1 532.5M892.1 499.9L1467 498M892.1 465.4L1466.9 463.5M892 431L1466.7 429M892 396.6L1466.6 394.5M891.9 362.1L1466.5 360M891.9 327.7L1466.4 325.5M891.8 293.3L1466.2 291.1M891.8 258.9L1466.1 256.6M891.7 224.6L1466 222.1M891.7 190.2L1465.8 187.7M891.6 155.8L1465.7 153.3M891.6 121.5L1465.6 118.9M891.5 87.1L1465.5 84.4M891.4 52.8L1465.3 50" stroke="#cbcbcb" stroke-width="1.45" fill="none"/><path d="M1467.4 595.9 L1465.2 21.3 L1491.2 -13.6 L1493.6 613.1 Z" fill="#d2d2d2" /><path d="M1467.3 567L1493.5 581.7M1467.1 532.5L1493.3 544M1467 498L1493.2 506.3M1466.9 463.5L1493 468.7M1466.7 429L1492.9 431M1466.6 394.5L1492.7 393.4M1466.5 360L1492.6 355.8M1466.4 325.5L1492.4 318.2M1466.2 291.1L1492.3 280.6M1466.1 256.6L1492.2 243M1466 222.1L1492 205.4M1465.8 187.7L1491.9 167.9M1465.7 153.3L1491.7 130.3M1465.6 118.9L1491.6 92.8M1465.5 84.4L1491.4 55.2M1465.3 50L1491.3 17.7M1468.6 596.7L1466.5 19.7M1470.2 597.7L1468 17.6M1471.8 598.8L1469.6 15.5M1473.4 599.8L1471.1 13.4M1475 600.9L1472.7 11.2M1476.6 602L1474.4 9M1478.2 603L1476 6.8M1479.9 604.1L1477.6 4.6M1481.6 605.2L1479.3 2.4M1483.3 606.4L1481 0.1M1485 607.5L1482.7 -2.2M1486.8 608.6L1484.4 -4.5M1488.5 609.8L1486.2 -6.9M1490.3 611L1487.9 -9.2M1492.1 612.2L1489.7 -11.6" stroke="#c4c4c4" stroke-width="1.2" fill="none"/><path d="M891.4 24.1 L1465.2 21.3 L1491.2 -13.6 L865.4 -10.5 Z" fill="#d2d2d2" /><path d="M902.9 24.1L877.9 -10.5M938.4 23.9L916.6 -10.7M973.9 23.7L955.3 -10.9M1009.4 23.6L994 -11.1M1044.9 23.4L1032.7 -11.3M1080.4 23.2L1071.4 -11.5M1115.9 23L1110.1 -11.7M1151.4 22.9L1148.9 -11.9M1186.9 22.7L1187.6 -12.1M1222.4 22.5L1226.4 -12.3M1258 22.3L1265.1 -12.5M1293.5 22.2L1303.9 -12.7M1329.1 22L1342.7 -12.9M1364.7 21.8L1381.5 -13M1400.3 21.6L1420.3 -13.2M1435.9 21.5L1459.1 -13.4M890.2 22.5L1466.5 19.7M888.6 20.4L1468 17.6M887 18.3L1469.6 15.5M885.5 16.2L1471.1 13.4M883.9 14.1L1472.7 11.2M882.2 12L1474.4 9M880.6 9.8L1476 6.8M878.9 7.6L1477.6 4.6M877.3 5.4L1479.3 2.4M875.6 3.1L1481 0.1M873.9 0.8L1482.7 -2.2M872.1 -1.4L1484.4 -4.5M870.4 -3.8L1486.2 -6.9M868.6 -6.1L1487.9 -9.2M866.8 -8.5L1489.7 -11.6" stroke="#c4c4c4" stroke-width="1.2" fill="none"/><path d="M892.3 597.6L1467.4 595.9" stroke="#111" stroke-width="1.5" fill="none" stroke-linecap="square"/><path d="M892.3 597.6L891.4 24.1" stroke="#111" stroke-width="1.5" fill="none" stroke-linecap="square"/><path d="M903.8 592.4L903.8 607M939.4 592.3L939.4 606.9M974.9 592.1L974.9 606.8M1010.5 592L1010.5 606.7M1046.1 591.9L1046.1 606.6M1081.6 591.8L1081.7 606.5M1117.2 591.7L1117.3 606.4M1152.8 591.6L1152.9 606.3M1188.4 591.5L1188.5 606.2M1224 591.4L1224.1 606.1M1259.7 591.3L1259.7 606M1295.3 591.2L1295.3 605.9M1330.9 591.1L1331 605.8M1366.6 591L1366.6 605.7M1402.2 590.9L1402.3 605.6M1437.9 590.8L1438 605.5" stroke="#000" stroke-width="1.5" fill="none"/><path d="M897.6 568.8L883 568.8M897.5 534.3L882.9 534.3M897.5 499.8L882.9 499.9M897.4 465.4L882.8 465.4M897.3 431L882.8 431M897.3 396.5L882.7 396.6M897.2 362.1L882.7 362.2M897.2 327.7L882.6 327.8M897.1 293.3L882.6 293.4M897.1 258.9L882.5 259M897 224.5L882.5 224.6M897 190.2L882.4 190.2M896.9 155.8L882.4 155.9M896.9 121.5L882.3 121.5M896.8 87.1L882.3 87.2M896.8 52.8L882.2 52.8" stroke="#000" stroke-width="1.5" fill="none"/><g stroke="#000" stroke-width="1.6" stroke-linejoin="round"><path d="M1027.6 378.8L1027.5 361.6L1027.1 361.4L1027.2 378.7Z" fill="#8b170e"/><path d="M1009.3 378.8L1027.2 378.7L1027.1 361.4L1009.3 361.5Z" fill="#ce2215"/><path d="M1045 361.4L1044.9 344.1L1044.6 343.9L1044.6 361.3Z" fill="#8e891e"/><path d="M1026.7 361.3L1044.6 361.3L1044.6 343.9L1026.7 344Z" fill="#d2cb2c"/><path d="M1098.8 465L1098.7 447.7L1098.5 447.8L1098.6 465.1Z" fill="#8b170e"/><path d="M1080.7 465.2L1098.6 465.1L1098.5 447.8L1080.6 447.8Z" fill="#ce2215"/><path d="M1062.5 343.8L1062.4 326.5L1062.1 326.3L1062.2 343.7Z" fill="#000000"/><path d="M1044.6 343.9L1062.5 343.8L1062.2 343.7L1044.2 343.7Z" fill="#000000"/><path d="M1044.2 343.7L1062.2 343.7L1062.1 326.3L1044.2 326.4Z" fill="#000000"/><path d="M1098.3 447.9L1116.3 447.8L1116.2 430.4L1098.3 430.5Z" fill="#d2cb2c"/><path d="M1026.4 413.4L1026.4 396L1026 395.9L1026 413.4Z" fill="#8b170e"/><path d="M1008 413.4L1026 413.4L1026 395.9L1008 396Z" fill="#ce2215"/><path d="M1044.5 465.5L1044.4 448.1L1044.1 448.2L1044.1 465.6Z" fill="#8b170e"/><path d="M1026.1 465.7L1044.1 465.6L1044.1 448.2L1026.1 448.3Z" fill="#ce2215"/><path d="M1080.1 326.2L1080 308.9L1079.8 308.6L1079.8 326Z" fill="#8e6318"/><path d="M1062.1 326.3L1080.1 326.2L1079.8 326L1061.8 326.1Z" fill="#eca528"/><path d="M1061.8 326.1L1079.8 326L1079.8 308.6L1061.8 308.7Z" fill="#d29324"/><path d="M1116.1 430.5L1134.1 430.4L1134 413L1116 413.1Z" fill="#000000"/><path d="M1044 395.9L1043.9 378.4L1043.6 378.4L1043.6 395.8Z" fill="#8e891e"/><path d="M1025.6 395.9L1043.6 395.8L1043.6 378.4L1025.5 378.4Z" fill="#d2cb2c"/><path d="M1097.8 308.5L1097.7 291.1L1097.5 290.8L1097.6 308.3Z" fill="#091e85"/><path d="M1079.8 308.6L1097.8 308.5L1097.6 308.3L1079.5 308.3Z" fill="#0f32de"/><path d="M1079.5 308.3L1097.6 308.3L1097.5 290.8L1079.5 290.9Z" fill="#0d2cc6"/><path d="M1062.1 448.1L1062 430.7L1061.7 430.8L1061.8 448.2Z" fill="#8e891e"/><path d="M1043.7 448.3L1061.8 448.2L1061.7 430.8L1043.7 430.8Z" fill="#d2cb2c"/><path d="M1133.9 413L1152 412.9L1151.9 395.5L1133.9 395.5Z" fill="#d29324"/><path d="M917.3 361.4L917.3 343.9L916.6 343.7L916.6 361.2Z" fill="#8b170e"/><path d="M898.5 361.3L916.6 361.2L916.6 343.7L898.5 343.8Z" fill="#ce2215"/><path d="M953.4 413.6L953.4 396.2L952.8 396.1L952.8 413.7Z" fill="#8b170e"/><path d="M934.8 413.7L952.8 413.7L952.8 396.1L934.7 396.2Z" fill="#ce2215"/><path d="M1116.2 570.6L1134.3 570.5L1134.2 571L1116.1 571Z" fill="#8b170e"/><path d="M1116.1 588.6L1134.2 588.5L1134.2 571L1116.1 571Z" fill="#ce2215"/><path d="M1007.6 448.4L1007.6 430.9L1007.1 431L1007.2 448.5Z" fill="#8b170e"/><path d="M989.1 448.6L1007.2 448.5L1007.1 431L989 431.1Z" fill="#ce2215"/><path d="M1025.7 465.9L1025.7 448.4L1025.3 448.5L1025.3 466Z" fill="#8b170e"/><path d="M1007.2 466.1L1025.3 466L1025.3 448.5L1007.2 448.5Z" fill="#ce2215"/><path d="M1043.8 500.8L1043.8 483.3L1043.4 483.5L1043.5 501Z" fill="#8b170e"/><path d="M1025.7 483.3L1043.8 483.3L1043.4 483.5L1025.3 483.6Z" fill="#8b170e"/><path d="M1025.4 501.1L1043.5 501L1043.4 483.5L1025.3 483.6Z" fill="#ce2215"/><path d="M1098.1 535.6L1098 518.1L1097.8 518.4L1097.9 536Z" fill="#8b170e"/><path d="M1080 518.2L1098 518.1L1097.8 518.4L1079.7 518.5Z" fill="#8b170e"/><path d="M1079.7 536L1097.9 536L1097.8 518.4L1079.7 518.5Z" fill="#ce2215"/><path d="M1115.6 290.7L1115.5 273.2L1115.3 272.9L1115.4 290.4Z" fill="#8e7076"/><path d="M1097.5 290.8L1115.6 290.7L1115.4 290.4L1097.3 290.5Z" fill="#ecbac4"/><path d="M1097.3 290.5L1115.4 290.4L1115.3 272.9L1097.2 273Z" fill="#d2a6ae"/><path d="M1061.6 378.3L1061.6 360.8L1061.3 360.7L1061.3 378.2Z" fill="#000000"/><path d="M1043.2 378.3L1061.3 378.2L1061.3 360.7L1043.2 360.8Z" fill="#000000"/><path d="M1079.8 430.7L1079.7 413.2L1079.5 413.2L1079.5 430.8Z" fill="#000000"/><path d="M1061.4 430.8L1079.5 430.8L1079.5 413.2L1061.4 413.3Z" fill="#000000"/><path d="M1151.8 395.4L1170 395.4L1169.9 377.8L1151.8 377.9Z" fill="#0d2cc6"/><path d="M934.6 343.7L934.6 326.1L933.9 325.9L934 343.5Z" fill="#8e891e"/><path d="M916.6 343.7L934.6 343.7L934 343.5L915.8 343.6Z" fill="#ece432"/><path d="M915.8 343.6L934 343.5L933.9 325.9L915.8 326Z" fill="#d2cb2c"/><path d="M970.9 396.1L970.9 378.6L970.3 378.5L970.3 396.1Z" fill="#8e891e"/><path d="M952.2 396.1L970.3 396.1L970.3 378.5L952.2 378.5Z" fill="#d2cb2c"/><path d="M1007.2 466.1L1007.2 448.5L1006.7 448.7L1006.7 466.2Z" fill="#8b170e"/><path d="M988.6 466.3L1006.7 466.2L1006.7 448.7L988.6 448.7Z" fill="#ce2215"/><path d="M1134.1 553.4L1152.2 553.3L1152.2 553.7L1134 553.8Z" fill="#8e891e"/><path d="M1134 571.4L1152.2 571.3L1152.2 553.7L1134 553.8Z" fill="#d2cb2c"/><path d="M1025.2 430.9L1025.2 413.4L1024.8 413.4L1024.8 431Z" fill="#8e891e"/><path d="M1006.7 431.1L1024.8 431L1024.8 413.4L1006.6 413.5Z" fill="#d2cb2c"/><path d="M1115.3 272.9L1133.4 272.8L1133.3 272.4L1115.2 272.5Z" fill="#888888"/><path d="M1115.2 272.5L1133.3 272.4L1133.3 254.9L1115.1 255Z" fill="#797979"/><path d="M1043.4 448.4L1043.3 430.9L1042.9 430.9L1043 448.5Z" fill="#8e891e"/><path d="M1024.8 448.6L1043 448.5L1042.9 430.9L1024.8 431Z" fill="#d2cb2c"/><path d="M1061.5 483.4L1061.5 465.9L1061.2 466.1L1061.2 483.6Z" fill="#8e891e"/><path d="M1043.1 483.7L1061.2 483.6L1061.2 466.1L1043 466.1Z" fill="#d2cb2c"/><path d="M1115.9 518.3L1115.9 500.8L1115.7 501.1L1115.8 518.7Z" fill="#8e891e"/><path d="M1097.8 500.9L1115.9 500.8L1115.7 501.1L1097.6 501.1Z" fill="#8e891e"/><path d="M1097.6 518.7L1115.8 518.7L1115.7 501.1L1097.6 501.1Z" fill="#d2cb2c"/><path d="M1079.4 360.6L1079.3 343.1L1079 342.9L1079.1 360.5Z" fill="#8e6318"/><path d="M1060.9 360.6L1079.1 360.5L1079 342.9L1060.9 343Z" fill="#d29324"/><path d="M1097.6 413.2L1097.5 395.6L1097.3 395.6L1097.4 413.2Z" fill="#8e6318"/><path d="M1079.2 413.2L1097.4 413.2L1097.3 395.6L1079.2 395.7Z" fill="#d29324"/><path d="M1169.9 377.7L1188 377.7L1188 360.1L1169.8 360.2Z" fill="#d2a6ae"/><path d="M952.1 325.9L952 308.3L951.4 308L951.4 325.6Z" fill="#000000"/><path d="M933.9 325.9L952.1 325.9L951.4 325.6L933.3 325.7Z" fill="#000000"/><path d="M933.3 325.7L951.4 325.6L951.4 308L933.2 308.1Z" fill="#000000"/><path d="M988.4 378.4L988.4 360.8L987.9 360.7L987.9 378.3Z" fill="#000000"/><path d="M969.7 378.4L987.9 378.3L987.9 360.7L969.7 360.8Z" fill="#000000"/><path d="M1133.3 254.9L1151.4 254.8L1151.3 254.4L1133.1 254.5Z" fill="#882388"/><path d="M1133.1 254.5L1151.3 254.4L1151.3 236.8L1133.1 236.9Z" fill="#791f79"/><path d="M1024.8 448.6L1024.8 431L1024.4 431.1L1024.4 448.7Z" fill="#8e891e"/><path d="M1006.2 448.8L1024.4 448.7L1024.4 431.1L1006.2 431.1Z" fill="#d2cb2c"/><path d="M1042.9 413.4L1042.9 395.8L1042.5 395.8L1042.5 413.4Z" fill="#000000"/><path d="M1024.3 413.5L1042.5 413.4L1042.5 395.8L1024.3 395.8Z" fill="#000000"/><path d="M1152.1 536.1L1170.3 536.1L1170.3 536.4L1152 536.5Z" fill="#000000"/><path d="M1152.1 554.1L1170.3 554.1L1170.3 536.4L1152 536.5Z" fill="#000000"/><path d="M1061.1 430.9L1061.1 413.3L1060.7 413.3L1060.8 431Z" fill="#000000"/><path d="M1042.6 431L1060.8 431L1060.7 413.3L1042.5 413.4Z" fill="#000000"/><path d="M1079.3 466L1079.3 448.4L1079 448.5L1079 466.2Z" fill="#000000"/><path d="M1060.8 466.2L1079 466.2L1079 448.5L1060.8 448.6Z" fill="#000000"/><path d="M1097.2 342.9L1097.1 325.3L1096.9 325.1L1097 342.7Z" fill="#091e85"/><path d="M1079 342.9L1097.2 342.9L1097 342.7L1078.8 342.8Z" fill="#0f32de"/><path d="M1078.8 342.8L1097 342.7L1096.9 325.1L1078.7 325.1Z" fill="#0d2cc6"/><path d="M1115.7 483.5L1133.8 483.4L1133.7 483.6L1115.5 483.7Z" fill="#000000"/><path d="M1115.5 501.3L1133.7 501.3L1133.7 483.6L1115.5 483.7Z" fill="#000000"/><path d="M1115.5 395.5L1115.4 377.9L1115.2 377.9L1115.3 395.5Z" fill="#091e85"/><path d="M1097.1 395.6L1115.3 395.5L1115.2 377.9L1097 377.9Z" fill="#0d2cc6"/><path d="M1188 360L1206.2 359.9L1206.2 342.3L1188 342.3Z" fill="#797979"/><path d="M969.6 308L969.6 290.3L969 290L969 307.7Z" fill="#8e6318"/><path d="M951.4 308L969.6 308L969 307.7L950.8 307.8Z" fill="#eca528"/><path d="M950.8 307.8L969 307.7L969 290L950.8 290.1Z" fill="#d29324"/><path d="M951.7 466.6L951.7 449L951 449.1L951.1 466.7Z" fill="#8b170e"/><path d="M932.8 466.8L951.1 466.7L951 449.1L932.8 449.1Z" fill="#ce2215"/><path d="M1006.1 360.7L1006 343L1005.5 342.9L1005.6 360.5Z" fill="#8e6318"/><path d="M987.3 360.6L1005.6 360.5L1005.5 342.9L987.3 342.9Z" fill="#d29324"/><path d="M1024.5 501.6L1024.5 484L1024.1 484.2L1024.1 501.9Z" fill="#8b170e"/><path d="M1006.3 484L1024.5 484L1024.1 484.2L1005.8 484.2Z" fill="#8b170e"/><path d="M1005.9 501.9L1024.1 501.9L1024.1 484.2L1005.8 484.2Z" fill="#ce2215"/><path d="M1151.3 236.8L1169.5 236.7L1169.5 236.2L1151.2 236.3Z" fill="#a63734"/><path d="M1151.2 236.3L1169.5 236.2L1169.4 218.6L1151.2 218.7Z" fill="#94312e"/><path d="M1042.6 431L1042.5 413.4L1042.2 413.4L1042.2 431.1Z" fill="#000000"/><path d="M1024 431.1L1042.2 431.1L1042.2 413.4L1023.9 413.5Z" fill="#000000"/><path d="M1060.7 395.7L1060.7 378.1L1060.3 378L1060.4 395.7Z" fill="#8e6318"/><path d="M1042.1 395.7L1060.4 395.7L1060.3 378L1042.1 378.1Z" fill="#d29324"/><path d="M1170.2 518.8L1188.4 518.7L1188.5 519L1170.2 519.1Z" fill="#8e6318"/><path d="M1170.2 536.8L1188.5 536.7L1188.5 519L1170.2 519.1Z" fill="#d29324"/><path d="M1115.1 325L1115.1 307.4L1114.9 307.1L1114.9 324.8Z" fill="#8e7076"/><path d="M1096.9 325.1L1115.1 325L1114.9 324.8L1096.7 324.8Z" fill="#ecbac4"/><path d="M1096.7 324.8L1114.9 324.8L1114.9 307.1L1096.7 307.2Z" fill="#d2a6ae"/><path d="M1078.9 413.3L1078.9 395.6L1078.6 395.6L1078.7 413.3Z" fill="#8e6318"/><path d="M1060.4 413.3L1078.7 413.3L1078.6 395.6L1060.4 395.7Z" fill="#d29324"/><path d="M1097.2 448.5L1097.2 430.8L1096.9 430.9L1097 448.6Z" fill="#8e6318"/><path d="M1078.7 448.6L1097 448.6L1096.9 430.9L1078.7 431Z" fill="#d29324"/><path d="M1206.2 342.3L1224.4 342.2L1224.5 342L1206.2 342.1Z" fill="#882388"/><path d="M1206.2 342.1L1224.5 342L1224.5 324.4L1206.2 324.4Z" fill="#791f79"/><path d="M1133.6 483.8L1151.8 483.8L1151.8 466.1L1133.5 466.1Z" fill="#d29324"/><path d="M1115.1 377.8L1133.3 377.7L1133.3 360.1L1115 360.1Z" fill="#d2a6ae"/><path d="M987.2 290L987.2 272.3L986.7 271.9L986.7 289.6Z" fill="#091e85"/><path d="M969 290L987.2 290L986.7 289.6L968.4 289.7Z" fill="#0f32de"/><path d="M968.4 289.7L986.7 289.6L986.7 271.9L968.4 272Z" fill="#0d2cc6"/><path d="M969.3 449L969.2 431.3L968.7 431.4L968.7 449.1Z" fill="#8e891e"/><path d="M950.4 449.2L968.7 449.1L968.7 431.4L950.4 431.5Z" fill="#d2cb2c"/><path d="M1169.4 218.6L1187.7 218.5L1187.7 218L1169.4 218.1Z" fill="#ec745a"/><path d="M1169.4 218.1L1187.7 218L1187.6 200.3L1169.3 200.4Z" fill="#d26750"/><path d="M1023.8 342.8L1023.7 325.1L1023.3 324.9L1023.4 342.6Z" fill="#091e85"/><path d="M1005.5 342.9L1023.8 342.8L1023.4 342.6L1005.1 342.7Z" fill="#0f32de"/><path d="M1005.1 342.7L1023.4 342.6L1023.3 324.9L1005 325Z" fill="#0d2cc6"/><path d="M1042.3 484.1L1042.3 466.4L1041.9 466.6L1041.9 484.3Z" fill="#8e891e"/><path d="M1023.6 484.4L1041.9 484.3L1041.9 466.6L1023.6 466.7Z" fill="#d2cb2c"/><path d="M1060.4 413.3L1060.4 395.7L1060 395.6L1060.1 413.4Z" fill="#8e6318"/><path d="M1041.8 413.4L1060.1 413.4L1060 395.6L1041.8 395.7Z" fill="#d29324"/><path d="M1114.9 307.1L1133.1 307L1133 306.8L1114.7 306.8Z" fill="#888888"/><path d="M1114.7 306.8L1133 306.8L1133 289.1L1114.7 289.1Z" fill="#797979"/><path d="M1078.6 377.9L1078.5 360.3L1078.3 360.1L1078.3 377.8Z" fill="#091e85"/><path d="M1060 377.9L1078.3 377.8L1078.3 360.1L1060 360.2Z" fill="#0d2cc6"/><path d="M1188.4 501.3L1206.7 501.3L1206.8 501.5L1188.4 501.6Z" fill="#091e85"/><path d="M1188.5 519.3L1206.8 519.3L1206.8 501.5L1188.4 501.6Z" fill="#0d2cc6"/><path d="M1224.5 324.4L1242.7 324.3L1242.9 324.1L1224.6 324.1Z" fill="#a63734"/><path d="M1224.6 324.1L1242.9 324.1L1242.8 306.3L1224.5 306.4Z" fill="#94312e"/><path d="M1096.9 395.5L1096.8 377.9L1096.6 377.8L1096.6 395.5Z" fill="#091e85"/><path d="M1078.3 395.6L1096.6 395.5L1096.6 377.8L1078.3 377.8Z" fill="#0d2cc6"/><path d="M1115.2 430.8L1115.2 413.1L1115 413.2L1115 430.9Z" fill="#091e85"/><path d="M1096.7 431L1115 430.9L1115 413.2L1096.7 413.2Z" fill="#0d2cc6"/><path d="M1133.2 359.9L1151.5 359.9L1151.4 342.1L1133.1 342.2Z" fill="#797979"/><path d="M1151.7 466.2L1170 466.2L1170 448.4L1151.7 448.5Z" fill="#0d2cc6"/><path d="M1004.9 271.9L1004.9 254.2L1004.4 253.7L1004.5 271.5Z" fill="#8e7076"/><path d="M986.7 271.9L1004.9 271.9L1004.5 271.5L986.1 271.6Z" fill="#ecbac4"/><path d="M986.1 271.6L1004.5 271.5L1004.4 253.7L986.1 253.8Z" fill="#d2a6ae"/><path d="M1187.6 200.3L1205.9 200.2L1206 199.6L1187.7 199.7Z" fill="#ecca2d"/><path d="M1187.7 199.7L1206 199.6L1206 181.9L1187.6 182Z" fill="#d2b428"/><path d="M1023.8 555.3L1023.7 537.6L1023.3 538L1023.4 555.8Z" fill="#8b170e"/><path d="M1005.5 537.7L1023.7 537.6L1023.3 538L1005 538Z" fill="#8b170e"/><path d="M1005 555.8L1023.4 555.8L1023.3 538L1005 538Z" fill="#ce2215"/><path d="M987 431.3L986.9 413.6L986.4 413.6L986.4 431.4Z" fill="#000000"/><path d="M968.1 431.5L986.4 431.4L986.4 413.6L968.1 413.7Z" fill="#000000"/><path d="M1041.6 324.8L1041.6 307.1L1041.2 306.9L1041.2 324.6Z" fill="#8e7076"/><path d="M1023.3 324.9L1041.6 324.8L1041.2 324.6L1022.9 324.7Z" fill="#ecbac4"/><path d="M1022.9 324.7L1041.2 324.6L1041.2 306.9L1022.9 306.9Z" fill="#d2a6ae"/><path d="M1060.2 466.5L1060.2 448.8L1059.8 448.9L1059.9 466.7Z" fill="#000000"/><path d="M1041.5 466.8L1059.9 466.7L1059.8 448.9L1041.5 449Z" fill="#000000"/><path d="M1133 289.1L1151.3 289L1151.2 288.7L1132.9 288.7Z" fill="#882388"/><path d="M1132.9 288.7L1151.2 288.7L1151.2 270.9L1132.8 271Z" fill="#791f79"/><path d="M1242.8 306.3L1242.8 288.6L1243 288.3L1243 306.1Z" fill="#ec745a"/><path d="M1242.8 306.3L1261.2 306.3L1261.4 306L1243 306.1Z" fill="#ec745a"/><path d="M1243 306.1L1261.4 306L1261.3 288.2L1243 288.3Z" fill="#d26750"/><path d="M1078.3 395.6L1078.3 377.8L1078 377.8L1078.1 395.5Z" fill="#091e85"/><path d="M1059.7 395.6L1078.1 395.5L1078 377.8L1059.7 377.8Z" fill="#0d2cc6"/><path d="M1096.6 360.1L1096.5 342.3L1096.3 342.2L1096.3 359.9Z" fill="#8e7076"/><path d="M1078 360L1096.3 359.9L1096.3 342.2L1077.9 342.2Z" fill="#d2a6ae"/><path d="M1206.7 483.8L1225 483.7L1225.2 483.9L1206.8 484Z" fill="#8e7076"/><path d="M1206.8 501.8L1225.2 501.7L1225.2 483.9L1206.8 484Z" fill="#d2a6ae"/><path d="M1114.9 377.7L1114.9 360L1114.7 359.9L1114.7 377.6Z" fill="#8e7076"/><path d="M1096.4 377.7L1114.7 377.6L1114.7 359.9L1096.3 359.9Z" fill="#d2a6ae"/><path d="M1151.4 342.1L1169.7 342.1L1169.7 341.9L1151.3 342Z" fill="#882388"/><path d="M1151.3 342L1169.7 341.9L1169.6 324.1L1151.3 324.2Z" fill="#791f79"/><path d="M1114.8 413.2L1133.2 413.1L1133.1 395.3L1114.8 395.4Z" fill="#d2a6ae"/><path d="M1170 448.6L1188.3 448.5L1188.3 430.7L1169.9 430.8Z" fill="#d2a6ae"/><path d="M913.2 467.2L913.1 449.4L912.4 449.6L912.4 467.4Z" fill="#8b170e"/><path d="M894 467.4L912.4 467.4L912.4 449.6L894 449.6Z" fill="#ce2215"/><path d="M1206 181.9L1224.3 181.8L1224.4 181.2L1206 181.3Z" fill="#7a7a7a"/><path d="M1206 181.3L1224.4 181.2L1224.4 163.4L1206 163.5Z" fill="#6d6d6d"/><path d="M1022.7 253.7L1022.7 235.9L1022.3 235.5L1022.3 253.3Z" fill="#525252"/><path d="M1004.4 253.7L1022.7 253.7L1022.3 253.3L1003.9 253.3Z" fill="#888888"/><path d="M1003.9 253.3L1022.3 253.3L1022.3 235.5L1003.9 235.5Z" fill="#797979"/><path d="M1041.7 537.9L1041.6 520.1L1041.3 520.4L1041.3 538.3Z" fill="#8e891e"/><path d="M1023.3 520.2L1041.6 520.1L1041.3 520.4L1022.9 520.5Z" fill="#8e891e"/><path d="M1022.9 538.3L1041.3 538.3L1041.3 520.4L1022.9 520.5Z" fill="#d2cb2c"/><path d="M1004.7 413.6L1004.7 395.8L1004.2 395.8L1004.3 413.6Z" fill="#8e6318"/><path d="M985.9 413.7L1004.3 413.6L1004.2 395.8L985.8 395.8Z" fill="#d29324"/><path d="M1059.5 306.8L1059.5 289L1059.2 288.7L1059.2 306.5Z" fill="#525252"/><path d="M1041.2 306.9L1059.5 306.8L1059.2 306.5L1040.8 306.6Z" fill="#888888"/><path d="M1040.8 306.6L1059.2 306.5L1059.2 288.7L1040.8 288.8Z" fill="#797979"/><path d="M1261.3 288.2L1261.3 270.5L1261.5 270.1L1261.6 287.9Z" fill="#ecca2d"/><path d="M1261.3 288.2L1279.7 288.2L1280 287.8L1261.6 287.9Z" fill="#ecca2d"/><path d="M1261.6 287.9L1280 287.8L1279.9 270L1261.5 270.1Z" fill="#d2b428"/><path d="M1151.2 270.9L1169.5 270.8L1169.5 270.5L1151.1 270.5Z" fill="#a63734"/><path d="M1151.1 270.5L1169.5 270.5L1169.4 252.6L1151 252.7Z" fill="#94312e"/><path d="M1078.2 448.9L1078.1 431.1L1077.9 431.2L1077.9 449Z" fill="#8e6318"/><path d="M1059.5 449L1077.9 449L1077.9 431.2L1059.5 431.2Z" fill="#d29324"/><path d="M1114.6 342.1L1114.6 324.3L1114.4 324.1L1114.5 341.9Z" fill="#525252"/><path d="M1096.3 342.2L1114.6 342.1L1114.5 341.9L1096.1 342Z" fill="#888888"/><path d="M1096.1 342L1114.5 341.9L1114.4 324.1L1096 324.2Z" fill="#797979"/><path d="M1096.4 377.7L1096.3 359.9L1096.1 359.8L1096.1 377.6Z" fill="#8e7076"/><path d="M1077.7 377.7L1096.1 377.6L1096.1 359.8L1077.7 359.9Z" fill="#d2a6ae"/><path d="M1169.6 324.1L1188 324L1188 323.8L1169.6 323.9Z" fill="#a63734"/><path d="M1169.6 323.9L1188 323.8L1188 306L1169.6 306.1Z" fill="#94312e"/><path d="M1225.1 466.2L1243.5 466.1L1243.7 466.3L1225.2 466.3Z" fill="#525252"/><path d="M1225.3 484.2L1243.7 484.1L1243.7 466.3L1225.2 466.3Z" fill="#797979"/><path d="M1114.5 359.7L1132.9 359.7L1132.9 341.9L1114.5 341.9Z" fill="#797979"/><path d="M1133 395.3L1151.4 395.2L1151.3 377.4L1132.9 377.5Z" fill="#797979"/><path d="M1188.3 430.8L1206.7 430.7L1206.7 412.9L1188.3 412.9Z" fill="#797979"/><path d="M1224.4 163.4L1242.8 163.3L1243 162.6L1224.5 162.7Z" fill="#ceb496"/><path d="M1224.5 162.7L1243 162.6L1242.9 144.8L1224.5 144.9Z" fill="#b7a086"/><path d="M930.8 449.5L930.7 431.7L930.1 431.7L930.1 449.6Z" fill="#8e891e"/><path d="M911.7 449.7L930.1 449.6L930.1 431.7L911.6 431.8Z" fill="#d2cb2c"/><path d="M1040.7 235.4L1040.6 217.6L1040.2 217.1L1040.3 234.9Z" fill="#521552"/><path d="M1022.3 235.5L1040.7 235.4L1040.3 234.9L1021.8 235Z" fill="#882388"/><path d="M1021.8 235L1040.3 234.9L1040.2 217.1L1021.8 217.1Z" fill="#791f79"/><path d="M1279.9 270L1279.9 252.2L1280.1 251.8L1280.2 269.6Z" fill="#7a7a7a"/><path d="M1279.9 270L1298.3 269.9L1298.7 269.6L1280.2 269.6Z" fill="#7a7a7a"/><path d="M1280.2 269.6L1298.7 269.6L1298.6 251.7L1280.1 251.8Z" fill="#6d6d6d"/><path d="M1077.5 288.6L1077.5 270.8L1077.2 270.5L1077.3 288.3Z" fill="#521552"/><path d="M1059.2 288.7L1077.5 288.6L1077.3 288.3L1058.8 288.4Z" fill="#882388"/><path d="M1058.8 288.4L1077.3 288.3L1077.2 270.5L1058.8 270.5Z" fill="#791f79"/><path d="M1059.7 520.4L1059.6 502.5L1059.3 502.8L1059.3 520.7Z" fill="#000000"/><path d="M1041.2 502.6L1059.6 502.5L1059.3 502.8L1040.8 502.9Z" fill="#000000"/><path d="M1040.9 520.8L1059.3 520.7L1059.3 502.8L1040.8 502.9Z" fill="#000000"/><path d="M1169.4 252.6L1187.8 252.6L1187.9 252.1L1169.4 252.2Z" fill="#ec745a"/><path d="M1169.4 252.2L1187.9 252.1L1187.8 234.3L1169.4 234.4Z" fill="#d26750"/><path d="M1022.6 395.7L1022.6 377.9L1022.1 377.8L1022.2 395.7Z" fill="#091e85"/><path d="M1003.7 395.7L1022.2 395.7L1022.1 377.8L1003.7 377.9Z" fill="#0d2cc6"/><path d="M1188 306L1206.4 305.9L1206.5 305.7L1188 305.7Z" fill="#ec745a"/><path d="M1188 305.7L1206.5 305.7L1206.4 287.8L1187.9 287.9Z" fill="#d26750"/><path d="M1114.4 324.1L1132.8 324L1132.7 323.8L1114.2 323.9Z" fill="#882388"/><path d="M1114.2 323.9L1132.7 323.8L1132.6 305.9L1114.2 306Z" fill="#791f79"/><path d="M1096.3 431.1L1096.2 413.3L1096 413.3L1096 431.2Z" fill="#091e85"/><path d="M1077.6 431.2L1096 431.2L1096 413.3L1077.5 413.4Z" fill="#0d2cc6"/><path d="M1114.5 359.7L1114.5 341.9L1114.3 341.7L1114.3 359.6Z" fill="#525252"/><path d="M1095.9 359.7L1114.3 359.6L1114.3 341.7L1095.8 341.8Z" fill="#797979"/><path d="M1243.7 466.3L1243.6 448.4L1243.8 448.5L1243.8 466.4Z" fill="#882388"/><path d="M1243.8 466.4L1262.3 466.4L1262.3 448.5L1243.8 448.5Z" fill="#791f79"/><path d="M1132.9 341.9L1151.3 341.8L1151.2 341.6L1132.7 341.7Z" fill="#882388"/><path d="M1132.7 341.7L1151.2 341.6L1151.1 323.7L1132.7 323.8Z" fill="#791f79"/><path d="M1151.3 377.3L1169.7 377.3L1169.7 359.4L1151.2 359.5Z" fill="#791f79"/><path d="M1206.7 412.9L1225.2 412.8L1225.2 394.9L1206.7 395Z" fill="#791f79"/><path d="M1242.9 144.8L1242.9 127L1243 126.2L1243.1 144.1Z" fill="#051980"/><path d="M1242.9 144.8L1261.4 144.7L1261.6 144L1243.1 144.1Z" fill="#051980"/><path d="M1243.1 144.1L1261.6 144L1261.5 126.1L1243 126.2Z" fill="#041672"/><path d="M1058.7 217L1058.6 199.1L1058.3 198.6L1058.3 216.5Z" fill="#64211f"/><path d="M1040.2 217.1L1058.7 217L1058.3 216.5L1039.9 216.5Z" fill="#a63734"/><path d="M1039.9 216.5L1058.3 216.5L1058.3 198.6L1039.8 198.6Z" fill="#94312e"/><path d="M948.5 431.7L948.5 413.8L947.8 413.8L947.9 431.7Z" fill="#000000"/><path d="M929.4 431.8L947.9 431.7L947.8 413.8L929.3 413.9Z" fill="#000000"/><path d="M1298.6 251.7L1298.5 233.8L1298.9 233.4L1298.9 251.3Z" fill="#ceb496"/><path d="M1298.6 251.7L1317.1 251.6L1317.5 251.2L1298.9 251.3Z" fill="#ceb496"/><path d="M1298.9 251.3L1317.5 251.2L1317.4 233.3L1298.9 233.4Z" fill="#b7a086"/><path d="M1187.8 234.3L1206.3 234.2L1206.3 233.7L1187.8 233.8Z" fill="#ecca2d"/><path d="M1187.8 233.8L1206.3 233.7L1206.3 215.8L1187.8 215.9Z" fill="#d2b428"/><path d="M1095.7 270.4L1095.6 252.5L1095.4 252.1L1095.4 270Z" fill="#64211f"/><path d="M1077.2 270.5L1095.7 270.4L1095.4 270L1076.9 270.1Z" fill="#a63734"/><path d="M1076.9 270.1L1095.4 270L1095.4 252.1L1076.9 252.2Z" fill="#94312e"/><path d="M1040.6 377.7L1040.5 359.9L1040.2 359.8L1040.2 377.7Z" fill="#8e7076"/><path d="M1021.7 377.7L1040.2 377.7L1040.2 359.8L1021.7 359.8Z" fill="#d2a6ae"/><path d="M1077.7 502.7L1077.7 484.9L1077.4 485.1L1077.5 503Z" fill="#8e6318"/><path d="M1059.3 484.9L1077.7 484.9L1077.4 485.1L1058.9 485.1Z" fill="#8e6318"/><path d="M1059 503.1L1077.5 503L1077.4 485.1L1058.9 485.1Z" fill="#d29324"/><path d="M1206.4 287.8L1224.9 287.7L1225 287.4L1206.5 287.5Z" fill="#ecca2d"/><path d="M1206.5 287.5L1225 287.4L1224.9 269.5L1206.4 269.6Z" fill="#d2b428"/><path d="M1132.6 305.9L1151.1 305.9L1151 305.6L1132.5 305.7Z" fill="#a63734"/><path d="M1132.5 305.7L1151 305.6L1151 287.7L1132.5 287.8Z" fill="#94312e"/><path d="M1262.3 448.5L1262.2 430.6L1262.4 430.7L1262.5 448.6Z" fill="#a63734"/><path d="M1262.5 448.6L1281 448.5L1281 430.6L1262.4 430.7Z" fill="#94312e"/><path d="M1151.1 323.7L1169.6 323.7L1169.6 323.4L1151.1 323.5Z" fill="#a63734"/><path d="M1151.1 323.5L1169.6 323.4L1169.5 305.5L1151 305.6Z" fill="#94312e"/><path d="M1114.3 341.7L1132.7 341.7L1132.6 341.5L1114.1 341.6Z" fill="#882388"/><path d="M1114.1 341.6L1132.6 341.5L1132.6 323.6L1114.1 323.7Z" fill="#791f79"/><path d="M1114.4 413.2L1114.4 395.3L1114.2 395.3L1114.3 413.2Z" fill="#8e7076"/><path d="M1095.8 413.3L1114.3 413.2L1114.2 395.3L1095.7 395.4Z" fill="#d2a6ae"/><path d="M1225.3 394.9L1243.8 394.9L1243.8 376.9L1225.2 377Z" fill="#94312e"/><path d="M1169.7 359.3L1188.2 359.2L1188.1 341.3L1169.6 341.4Z" fill="#94312e"/><path d="M1261.5 126.1L1261.5 108.2L1261.7 107.4L1261.8 125.3Z" fill="#ce284c"/><path d="M1261.5 126.1L1280 126L1280.3 125.2L1261.8 125.3Z" fill="#ce284c"/><path d="M1261.8 125.3L1280.3 125.2L1280.3 107.3L1261.7 107.4Z" fill="#b72444"/><path d="M1076.8 198.5L1076.7 180.6L1076.5 180L1076.5 197.9Z" fill="#8e4636"/><path d="M1058.3 198.6L1076.8 198.5L1076.5 197.9L1058 198Z" fill="#ec745a"/><path d="M1058 198L1076.5 197.9L1076.5 180L1057.9 180.1Z" fill="#d26750"/><path d="M1317.4 233.3L1317.3 215.4L1317.7 214.8L1317.8 232.8Z" fill="#051980"/><path d="M1317.4 233.3L1335.9 233.2L1336.4 232.7L1317.8 232.8Z" fill="#051980"/><path d="M1317.8 232.8L1336.4 232.7L1336.3 214.8L1317.7 214.8Z" fill="#041672"/><path d="M966.3 413.8L966.3 395.9L965.7 395.8L965.7 413.8Z" fill="#8e6318"/><path d="M947.2 413.9L965.7 413.8L965.7 395.8L947.1 395.9Z" fill="#d29324"/><path d="M1206.3 215.8L1224.8 215.8L1224.9 215.2L1206.4 215.3Z" fill="#7a7a7a"/><path d="M1206.4 215.3L1224.9 215.2L1224.9 197.3L1206.3 197.4Z" fill="#6d6d6d"/><path d="M1113.9 252L1113.8 234.1L1113.7 233.6L1113.7 251.6Z" fill="#8e4636"/><path d="M1095.4 252.1L1113.9 252L1113.7 251.6L1095.2 251.7Z" fill="#ec745a"/><path d="M1095.2 251.7L1113.7 251.6L1113.7 233.6L1095.1 233.7Z" fill="#d26750"/><path d="M1224.9 269.5L1243.4 269.4L1243.6 269L1225.1 269.1Z" fill="#7a7a7a"/><path d="M1225.1 269.1L1243.6 269L1243.6 251.1L1225 251.1Z" fill="#6d6d6d"/><path d="M1058.6 359.7L1058.6 341.8L1058.3 341.6L1058.3 359.6Z" fill="#525252"/><path d="M1039.8 359.6L1058.3 359.6L1058.3 341.6L1039.7 341.7Z" fill="#797979"/><path d="M1151 287.7L1169.5 287.6L1169.4 287.3L1150.9 287.4Z" fill="#ec745a"/><path d="M1150.9 287.4L1169.4 287.3L1169.4 269.3L1150.8 269.4Z" fill="#d26750"/><path d="M1095.9 485L1095.9 467.1L1095.7 467.3L1095.7 485.2Z" fill="#091e85"/><path d="M1077.4 467.2L1095.9 467.1L1095.7 467.3L1077.1 467.3Z" fill="#091e85"/><path d="M1077.1 485.3L1095.7 485.2L1095.7 467.3L1077.1 467.3Z" fill="#0d2cc6"/><path d="M1169.5 305.5L1188 305.5L1188 305.2L1169.5 305.2Z" fill="#ec745a"/><path d="M1169.5 305.2L1188 305.2L1188 287.2L1169.4 287.3Z" fill="#d26750"/><path d="M1281 430.6L1280.9 412.7L1281.2 412.7L1281.2 430.7Z" fill="#ec745a"/><path d="M1281.2 430.7L1299.8 430.6L1299.8 412.6L1281.2 412.7Z" fill="#d26750"/><path d="M1132.6 323.6L1151.1 323.5L1151 323.3L1132.4 323.4Z" fill="#a63734"/><path d="M1132.4 323.4L1151 323.3L1150.9 305.3L1132.4 305.4Z" fill="#94312e"/><path d="M1243.8 376.9L1243.7 359L1243.9 358.9L1243.9 376.8Z" fill="#ec745a"/><path d="M1243.9 376.8L1262.5 376.8L1262.5 358.8L1243.9 358.9Z" fill="#d26750"/><path d="M1188.1 341.3L1206.6 341.2L1206.7 341L1188.1 341.1Z" fill="#ec745a"/><path d="M1188.1 341.1L1206.7 341L1206.7 323.1L1188.1 323.1Z" fill="#d26750"/><path d="M1114 395.3L1132.6 395.2L1132.6 377.2L1114 377.3Z" fill="#797979"/><path d="M1280.3 107.3L1280.2 89.4L1280.5 88.5L1280.5 106.5Z" fill="#c88850"/><path d="M1280.3 107.3L1298.8 107.2L1299.2 106.4L1280.5 106.5Z" fill="#c88850"/><path d="M1280.5 106.5L1299.2 106.4L1299.1 88.4L1280.5 88.5Z" fill="#b27947"/><path d="M1336.3 214.8L1336.2 196.8L1336.7 196.2L1336.7 214.2Z" fill="#ce284c"/><path d="M1336.3 214.8L1354.9 214.7L1355.4 214.1L1336.7 214.2Z" fill="#ce284c"/><path d="M1336.7 214.2L1355.4 214.1L1355.3 196.1L1336.7 196.2Z" fill="#b72444"/><path d="M1095 179.9L1095 162L1094.7 161.3L1094.8 179.3Z" fill="#8e791b"/><path d="M1076.5 180L1095 179.9L1094.8 179.3L1076.2 179.3Z" fill="#ecca2d"/><path d="M1076.2 179.3L1094.8 179.3L1094.7 161.3L1076.1 161.4Z" fill="#d2b428"/><path d="M1224.9 197.3L1243.4 197.2L1243.6 196.6L1225 196.7Z" fill="#ceb496"/><path d="M1225 196.7L1243.6 196.6L1243.5 178.6L1224.9 178.7Z" fill="#b7a086"/><path d="M984.2 395.8L984.2 377.8L983.6 377.7L983.7 395.7Z" fill="#091e85"/><path d="M965.1 395.8L983.7 395.7L983.6 377.7L965.1 377.8Z" fill="#0d2cc6"/><path d="M1113.7 233.6L1132.2 233.6L1132.1 233.1L1113.5 233.2Z" fill="#ecca2d"/><path d="M1113.5 233.2L1132.1 233.1L1132 215.1L1113.4 215.2Z" fill="#d2b428"/><path d="M1243.6 251.1L1243.5 233.1L1243.7 232.6L1243.8 250.6Z" fill="#ceb496"/><path d="M1243.6 251.1L1262.1 251L1262.4 250.6L1243.8 250.6Z" fill="#ceb496"/><path d="M1243.8 250.6L1262.4 250.6L1262.3 232.5L1243.7 232.6Z" fill="#b7a086"/><path d="M1169.4 269.3L1187.9 269.2L1188 268.9L1169.4 268.9Z" fill="#ecca2d"/><path d="M1169.4 268.9L1188 268.9L1187.9 250.9L1169.3 250.9Z" fill="#d2b428"/><path d="M1076.8 341.5L1076.8 323.6L1076.5 323.3L1076.5 341.3Z" fill="#521552"/><path d="M1058.3 341.6L1076.8 341.5L1076.5 341.3L1057.9 341.4Z" fill="#882388"/><path d="M1057.9 341.4L1076.5 341.3L1076.5 323.3L1057.9 323.4Z" fill="#791f79"/><path d="M1188 287.2L1206.6 287.1L1206.6 286.8L1188 286.9Z" fill="#ecca2d"/><path d="M1188 286.9L1206.6 286.8L1206.6 268.8L1188 268.9Z" fill="#d2b428"/><path d="M1299.8 412.6L1299.7 394.6L1300 394.6L1300.1 412.6Z" fill="#ecca2d"/><path d="M1300.1 412.6L1318.7 412.6L1318.7 394.5L1300 394.6Z" fill="#d2b428"/><path d="M1150.9 305.3L1169.5 305.2L1169.5 305L1150.9 305Z" fill="#ec745a"/><path d="M1150.9 305L1169.5 305L1169.4 287L1150.8 287Z" fill="#d26750"/><path d="M1262.5 358.8L1262.4 340.8L1262.6 340.6L1262.7 358.7Z" fill="#ecca2d"/><path d="M1262.7 358.7L1281.3 358.6L1281.3 340.6L1262.6 340.6Z" fill="#d2b428"/><path d="M1206.7 323.1L1225.2 323L1225.3 322.8L1206.7 322.8Z" fill="#ecca2d"/><path d="M1206.7 322.8L1225.3 322.8L1225.3 304.7L1206.7 304.8Z" fill="#d2b428"/><path d="M1114.2 467.2L1114.2 449.2L1114 449.3L1114 467.4Z" fill="#8e7076"/><path d="M1095.4 467.4L1114 467.4L1114 449.3L1095.4 449.4Z" fill="#d2a6ae"/><path d="M1132.4 377.2L1151 377.1L1151 359.1L1132.4 359.2Z" fill="#791f79"/><path d="M1299.1 88.4L1299 70.4L1299.4 69.5L1299.4 87.5Z" fill="#e846e2"/><path d="M1299.1 88.4L1317.7 88.3L1318.1 87.4L1299.4 87.5Z" fill="#e846e2"/><path d="M1299.4 87.5L1318.1 87.4L1318 69.4L1299.4 69.5Z" fill="#ce3ec9"/><path d="M1355.3 196.1L1355.2 178.1L1355.7 177.5L1355.8 195.5Z" fill="#c88850"/><path d="M1355.3 196.1L1373.9 196.1L1374.5 195.5L1355.8 195.5Z" fill="#c88850"/><path d="M1355.8 195.5L1374.5 195.5L1374.4 177.4L1355.7 177.5Z" fill="#b27947"/><path d="M1113.3 161.2L1113.3 143.2L1113.1 142.5L1113.1 160.5Z" fill="#494949"/><path d="M1094.7 161.3L1113.3 161.2L1113.1 160.5L1094.5 160.6Z" fill="#7a7a7a"/><path d="M1094.5 160.6L1113.1 160.5L1113.1 142.5L1094.4 142.5Z" fill="#6d6d6d"/><path d="M1243.5 178.6L1243.5 160.6L1243.7 159.9L1243.7 178Z" fill="#051980"/><path d="M1243.5 178.6L1262.2 178.5L1262.4 177.9L1243.7 178Z" fill="#051980"/><path d="M1243.7 178L1262.4 177.9L1262.3 159.8L1243.7 159.9Z" fill="#041672"/><path d="M1132 215.1L1150.6 215L1150.5 214.5L1131.9 214.6Z" fill="#7a7a7a"/><path d="M1131.9 214.6L1150.5 214.5L1150.5 196.4L1131.9 196.5Z" fill="#6d6d6d"/><path d="M1262.3 232.5L1262.3 214.5L1262.5 214L1262.5 232.1Z" fill="#051980"/><path d="M1262.3 232.5L1280.9 232.5L1281.2 232L1262.5 232.1Z" fill="#051980"/><path d="M1262.5 232.1L1281.2 232L1281.2 213.9L1262.5 214Z" fill="#041672"/><path d="M1002.2 377.6L1002.2 359.6L1001.7 359.5L1001.7 377.6Z" fill="#8e7076"/><path d="M983.1 377.6L1001.7 377.6L1001.7 359.5L983.1 359.6Z" fill="#d2a6ae"/><path d="M1187.9 250.9L1206.5 250.8L1206.6 250.3L1187.9 250.4Z" fill="#7a7a7a"/><path d="M1187.9 250.4L1206.6 250.3L1206.6 232.3L1187.9 232.4Z" fill="#6d6d6d"/><path d="M1206.6 268.8L1225.2 268.7L1225.3 268.3L1206.7 268.4Z" fill="#7a7a7a"/><path d="M1206.7 268.4L1225.3 268.3L1225.3 250.3L1206.6 250.3Z" fill="#6d6d6d"/><path d="M1318.7 394.5L1318.6 376.5L1319 376.4L1319.1 394.5Z" fill="#7a7a7a"/><path d="M1319.1 394.5L1337.8 394.4L1337.7 376.3L1319 376.4Z" fill="#6d6d6d"/><path d="M1281.3 340.6L1281.2 322.5L1281.5 322.3L1281.5 340.4Z" fill="#7a7a7a"/><path d="M1281.3 340.6L1299.9 340.5L1300.2 340.3L1281.5 340.4Z" fill="#7a7a7a"/><path d="M1281.5 340.4L1300.2 340.3L1300.2 322.2L1281.5 322.3Z" fill="#6d6d6d"/><path d="M1095.1 323.3L1095.1 305.3L1094.8 305L1094.9 323Z" fill="#64211f"/><path d="M1076.5 323.3L1095.1 323.3L1094.9 323L1076.2 323.1Z" fill="#a63734"/><path d="M1076.2 323.1L1094.9 323L1094.8 305L1076.2 305Z" fill="#94312e"/><path d="M1169.4 287L1188 286.9L1188 286.5L1169.4 286.6Z" fill="#ecca2d"/><path d="M1169.4 286.6L1188 286.5L1188 268.5L1169.3 268.6Z" fill="#d2b428"/><path d="M1225.3 304.7L1243.9 304.7L1244.1 304.4L1225.4 304.5Z" fill="#7a7a7a"/><path d="M1225.4 304.5L1244.1 304.4L1244 286.3L1225.4 286.4Z" fill="#6d6d6d"/><path d="M1113.8 449.5L1132.5 449.4L1132.4 431.3L1113.8 431.4Z" fill="#797979"/><path d="M1150.9 358.9L1169.6 358.9L1169.5 340.8L1150.9 340.9Z" fill="#94312e"/><path d="M1318 69.4L1318 51.3L1318.4 50.3L1318.4 68.4Z" fill="#007a10"/><path d="M1318 69.4L1336.7 69.3L1337.1 68.3L1318.4 68.4Z" fill="#007a10"/><path d="M1318.4 68.4L1337.1 68.3L1337.1 50.2L1318.4 50.3Z" fill="#006d0e"/><path d="M1374.4 177.4L1374.3 159.3L1374.9 158.7L1374.9 176.8Z" fill="#e846e2"/><path d="M1374.4 177.4L1393.1 177.3L1393.7 176.7L1374.9 176.8Z" fill="#e846e2"/><path d="M1374.9 176.8L1393.7 176.7L1393.6 158.6L1374.9 158.7Z" fill="#ce3ec9"/><path d="M1113.1 142.5L1131.7 142.4L1131.6 141.6L1112.9 141.7Z" fill="#ceb496"/><path d="M1112.9 141.7L1131.6 141.6L1131.5 123.6L1112.9 123.6Z" fill="#b7a086"/><path d="M1262.3 159.8L1262.3 141.8L1262.5 141.1L1262.6 159.2Z" fill="#ce284c"/><path d="M1262.3 159.8L1281 159.8L1281.3 159.1L1262.6 159.2Z" fill="#ce284c"/><path d="M1262.6 159.2L1281.3 159.1L1281.2 141L1262.5 141.1Z" fill="#b72444"/><path d="M1281.2 213.9L1281.1 195.9L1281.4 195.3L1281.4 213.4Z" fill="#ce284c"/><path d="M1281.2 213.9L1299.8 213.8L1300.2 213.3L1281.4 213.4Z" fill="#ce284c"/><path d="M1281.4 213.4L1300.2 213.3L1300.1 195.2L1281.4 195.3Z" fill="#b72444"/><path d="M1150.5 196.4L1169.2 196.3L1169.1 195.8L1150.4 195.8Z" fill="#ceb496"/><path d="M1150.4 195.8L1169.1 195.8L1169.1 177.7L1150.4 177.7Z" fill="#b7a086"/><path d="M1206.6 232.3L1225.2 232.2L1225.3 231.7L1206.6 231.8Z" fill="#ceb496"/><path d="M1206.6 231.8L1225.3 231.7L1225.3 213.6L1206.6 213.7Z" fill="#b7a086"/><path d="M1225.3 250.3L1243.9 250.2L1244.1 249.8L1225.4 249.8Z" fill="#ceb496"/><path d="M1225.4 249.8L1244.1 249.8L1244.1 231.6L1225.3 231.7Z" fill="#b7a086"/><path d="M1020.3 359.4L1020.3 341.4L1019.9 341.2L1019.9 359.3Z" fill="#525252"/><path d="M1001.2 359.4L1019.9 359.3L1019.9 341.2L1001.2 341.3Z" fill="#797979"/><path d="M1337.7 376.3L1337.6 358.3L1338.1 358.1L1338.1 376.2Z" fill="#ceb496"/><path d="M1338.1 376.2L1356.9 376.2L1356.8 358L1338.1 358.1Z" fill="#b7a086"/><path d="M1300.2 322.2L1300.1 304.2L1300.4 303.9L1300.5 322Z" fill="#ceb496"/><path d="M1300.2 322.2L1318.8 322.2L1319.2 321.9L1300.5 322Z" fill="#ceb496"/><path d="M1300.5 322L1319.2 321.9L1319.2 303.8L1300.4 303.9Z" fill="#b7a086"/><path d="M1188 268.5L1206.7 268.4L1206.7 268L1188 268.1Z" fill="#7a7a7a"/><path d="M1188 268.1L1206.7 268L1206.7 249.9L1188 250Z" fill="#6d6d6d"/><path d="M1244 286.3L1244 268.3L1244.2 267.9L1244.2 286Z" fill="#ceb496"/><path d="M1244 286.3L1262.7 286.2L1262.9 285.9L1244.2 286Z" fill="#ceb496"/><path d="M1244.2 286L1262.9 285.9L1262.9 267.8L1244.2 267.9Z" fill="#b7a086"/><path d="M1113.5 304.9L1113.4 286.8L1113.2 286.5L1113.3 304.6Z" fill="#8e4636"/><path d="M1094.8 305L1113.5 304.9L1113.3 304.6L1094.6 304.7Z" fill="#ec745a"/><path d="M1094.6 304.7L1113.3 304.6L1113.2 286.5L1094.5 286.6Z" fill="#d26750"/><path d="M1169.5 340.8L1188.2 340.7L1188.2 340.6L1169.5 340.6Z" fill="#ec745a"/><path d="M1169.5 340.6L1188.2 340.6L1188.2 322.4L1169.5 322.5Z" fill="#d26750"/><path d="M1132.3 431.4L1151 431.3L1151 413.2L1132.3 413.3Z" fill="#791f79"/><path d="M1393.6 158.6L1393.6 140.5L1394.2 139.7L1394.2 157.9Z" fill="#007a10"/><path d="M1393.6 158.6L1412.3 158.5L1413 157.8L1394.2 157.9Z" fill="#007a10"/><path d="M1394.2 157.9L1413 157.8L1412.9 139.6L1394.2 139.7Z" fill="#006d0e"/><path d="M1281.2 141L1281.2 122.9L1281.5 122.1L1281.5 140.2Z" fill="#c88850"/><path d="M1281.2 141L1299.9 140.9L1300.3 140.1L1281.5 140.2Z" fill="#c88850"/><path d="M1281.5 140.2L1300.3 140.1L1300.2 122L1281.5 122.1Z" fill="#b27947"/><path d="M1131.5 123.6L1150.2 123.5L1150.2 122.7L1131.4 122.8Z" fill="#051980"/><path d="M1131.4 122.8L1150.2 122.7L1150.1 104.5L1131.4 104.6Z" fill="#041672"/><path d="M1300.1 195.2L1300.1 177.1L1300.4 176.4L1300.4 194.6Z" fill="#c88850"/><path d="M1300.1 195.2L1318.8 195.1L1319.2 194.5L1300.4 194.6Z" fill="#c88850"/><path d="M1300.4 194.6L1319.2 194.5L1319.2 176.4L1300.4 176.4Z" fill="#b27947"/><path d="M1169.1 177.7L1187.8 177.6L1187.8 176.9L1169.1 177Z" fill="#051980"/><path d="M1169.1 177L1187.8 176.9L1187.8 158.8L1169 158.9Z" fill="#041672"/><path d="M1225.3 213.6L1244 213.5L1244.2 213L1225.4 213.1Z" fill="#051980"/><path d="M1225.4 213.1L1244.2 213L1244.1 194.8L1225.4 194.9Z" fill="#041672"/><path d="M1244.1 231.6L1244 213.5L1244.2 213L1244.2 231.2Z" fill="#051980"/><path d="M1244.1 231.6L1262.8 231.6L1263 231.1L1244.2 231.2Z" fill="#051980"/><path d="M1244.2 231.2L1263 231.1L1263 212.9L1244.2 213Z" fill="#041672"/><path d="M1356.8 358L1356.8 339.9L1357.3 339.7L1357.3 357.9Z" fill="#051980"/><path d="M1357.3 357.9L1376.1 357.8L1376.1 339.7L1357.3 339.7Z" fill="#041672"/><path d="M1319.2 303.8L1319.1 285.7L1319.5 285.3L1319.6 303.5Z" fill="#051980"/><path d="M1319.2 303.8L1337.9 303.7L1338.4 303.4L1319.6 303.5Z" fill="#051980"/><path d="M1319.6 303.5L1338.4 303.4L1338.3 285.3L1319.5 285.3Z" fill="#041672"/><path d="M1262.9 267.8L1262.8 249.7L1263.1 249.2L1263.1 267.4Z" fill="#051980"/><path d="M1262.9 267.8L1281.6 267.7L1281.9 267.3L1263.1 267.4Z" fill="#051980"/><path d="M1263.1 267.4L1281.9 267.3L1281.8 249.2L1263.1 249.2Z" fill="#041672"/><path d="M1206.7 249.9L1225.4 249.8L1225.5 249.4L1206.8 249.5Z" fill="#ceb496"/><path d="M1206.8 249.5L1225.5 249.4L1225.5 231.2L1206.7 231.3Z" fill="#b7a086"/><path d="M1038.6 341.1L1038.5 323L1038.1 322.8L1038.2 340.9Z" fill="#521552"/><path d="M1019.9 341.2L1038.6 341.1L1038.2 340.9L1019.4 341Z" fill="#882388"/><path d="M1019.4 341L1038.2 340.9L1038.1 322.8L1019.4 322.9Z" fill="#791f79"/><path d="M1113.2 286.5L1131.9 286.4L1131.8 286.1L1113.1 286.2Z" fill="#ecca2d"/><path d="M1113.1 286.2L1131.8 286.1L1131.8 267.9L1113 268Z" fill="#d2b428"/><path d="M1188.2 322.4L1206.9 322.4L1207 322.1L1188.2 322.2Z" fill="#ecca2d"/><path d="M1188.2 322.2L1207 322.1L1206.9 304L1188.1 304Z" fill="#d2b428"/><path d="M1150.9 413.2L1169.7 413.1L1169.6 395L1150.8 395Z" fill="#94312e"/><path d="M1300.2 122L1300.2 103.8L1300.5 103L1300.6 121.2Z" fill="#e846e2"/><path d="M1300.2 122L1319 121.9L1319.4 121.1L1300.6 121.2Z" fill="#e846e2"/><path d="M1300.6 121.2L1319.4 121.1L1319.3 102.9L1300.5 103Z" fill="#ce3ec9"/><path d="M1150.1 104.5L1168.9 104.5L1168.8 103.6L1150 103.7Z" fill="#ce284c"/><path d="M1150 103.7L1168.8 103.6L1168.8 85.4L1150 85.5Z" fill="#b72444"/><path d="M1319.2 176.4L1319.1 158.2L1319.5 157.5L1319.6 175.7Z" fill="#e846e2"/><path d="M1319.2 176.4L1337.9 176.3L1338.4 175.6L1319.6 175.7Z" fill="#e846e2"/><path d="M1319.6 175.7L1338.4 175.6L1338.3 157.4L1319.5 157.5Z" fill="#ce3ec9"/><path d="M1187.8 158.8L1206.5 158.7L1206.6 158L1187.8 158.1Z" fill="#ce284c"/><path d="M1187.8 158.1L1206.6 158L1206.5 139.8L1187.7 139.9Z" fill="#b72444"/><path d="M1244.1 194.8L1244.1 176.7L1244.3 176L1244.3 194.2Z" fill="#ce284c"/><path d="M1244.1 194.8L1262.9 194.8L1263.1 194.2L1244.3 194.2Z" fill="#ce284c"/><path d="M1244.3 194.2L1263.1 194.2L1263.1 176L1244.3 176Z" fill="#b72444"/><path d="M1263 212.9L1262.9 194.8L1263.1 194.2L1263.2 212.4Z" fill="#ce284c"/><path d="M1263 212.9L1281.7 212.8L1282 212.3L1263.2 212.4Z" fill="#ce284c"/><path d="M1263.2 212.4L1282 212.3L1282 194.1L1263.1 194.2Z" fill="#b72444"/><path d="M1376.1 339.7L1376 321.5L1376.5 321.2L1376.6 339.5Z" fill="#ce284c"/><path d="M1376.1 339.7L1394.8 339.6L1395.5 339.4L1376.6 339.5Z" fill="#ce284c"/><path d="M1376.6 339.5L1395.5 339.4L1395.4 321.2L1376.5 321.2Z" fill="#b72444"/><path d="M1338.3 285.3L1338.2 267.1L1338.7 266.7L1338.7 284.9Z" fill="#ce284c"/><path d="M1338.3 285.3L1357.1 285.2L1357.6 284.9L1338.7 284.9Z" fill="#ce284c"/><path d="M1338.7 284.9L1357.6 284.9L1357.5 266.6L1338.7 266.7Z" fill="#b72444"/><path d="M1281.8 249.2L1281.8 231L1282.1 230.5L1282.1 248.7Z" fill="#ce284c"/><path d="M1281.8 249.2L1300.6 249.1L1301 248.6L1282.1 248.7Z" fill="#ce284c"/><path d="M1282.1 248.7L1301 248.6L1300.9 230.4L1282.1 230.5Z" fill="#b72444"/><path d="M1225.5 231.2L1244.2 231.2L1244.4 230.7L1225.6 230.7Z" fill="#051980"/><path d="M1225.6 230.7L1244.4 230.7L1244.4 212.5L1225.6 212.5Z" fill="#041672"/><path d="M1056.9 322.7L1056.8 304.6L1056.5 304.3L1056.5 322.5Z" fill="#64211f"/><path d="M1038.1 322.8L1056.9 322.7L1056.5 322.5L1037.7 322.5Z" fill="#a63734"/><path d="M1037.7 322.5L1056.5 322.5L1056.5 304.3L1037.7 304.3Z" fill="#94312e"/><path d="M1131.8 267.9L1150.5 267.9L1150.4 267.5L1131.6 267.5Z" fill="#7a7a7a"/><path d="M1131.6 267.5L1150.4 267.5L1150.4 249.3L1131.6 249.3Z" fill="#6d6d6d"/><path d="M1206.9 304L1225.7 303.9L1225.8 303.6L1207 303.7Z" fill="#7a7a7a"/><path d="M1207 303.7L1225.8 303.6L1225.8 285.4L1206.9 285.5Z" fill="#6d6d6d"/><path d="M1169.6 394.9L1188.4 394.9L1188.4 376.6L1169.5 376.7Z" fill="#d26750"/><path d="M1319.3 102.9L1319.3 84.7L1319.7 83.8L1319.7 102.1Z" fill="#007a10"/><path d="M1319.3 102.9L1338.2 102.8L1338.6 102L1319.7 102.1Z" fill="#007a10"/><path d="M1319.7 102.1L1338.6 102L1338.5 83.7L1319.7 83.8Z" fill="#006d0e"/><path d="M1168.8 85.4L1187.6 85.3L1187.6 84.4L1168.8 84.5Z" fill="#c88850"/><path d="M1168.8 84.5L1187.6 84.4L1187.6 66.2L1168.7 66.3Z" fill="#b27947"/><path d="M1338.3 157.4L1338.3 139.2L1338.7 138.5L1338.8 156.7Z" fill="#007a10"/><path d="M1338.3 157.4L1357.2 157.3L1357.7 156.6L1338.8 156.7Z" fill="#007a10"/><path d="M1338.8 156.7L1357.7 156.6L1357.6 138.4L1338.7 138.5Z" fill="#006d0e"/><path d="M1206.5 139.8L1225.4 139.7L1225.5 139L1206.6 139.1Z" fill="#c88850"/><path d="M1206.6 139.1L1225.5 139L1225.4 120.7L1206.6 120.8Z" fill="#b27947"/><path d="M1263.1 176L1263 157.8L1263.3 157.1L1263.3 175.3Z" fill="#c88850"/><path d="M1263.1 176L1281.9 175.9L1282.2 175.2L1263.3 175.3Z" fill="#c88850"/><path d="M1263.3 175.3L1282.2 175.2L1282.1 157L1263.3 157.1Z" fill="#b27947"/><path d="M1282 194.1L1281.9 175.9L1282.2 175.2L1282.3 193.5Z" fill="#c88850"/><path d="M1282 194.1L1300.8 194L1301.1 193.4L1282.3 193.5Z" fill="#c88850"/><path d="M1282.3 193.5L1301.1 193.4L1301.1 175.1L1282.2 175.2Z" fill="#b27947"/><path d="M1395.4 321.2L1395.3 302.9L1395.9 302.6L1396 320.9Z" fill="#c88850"/><path d="M1395.4 321.2L1414.2 321.1L1414.9 320.8L1396 320.9Z" fill="#c88850"/><path d="M1396 320.9L1414.9 320.8L1414.8 302.6L1395.9 302.6Z" fill="#b27947"/><path d="M1357.5 266.6L1357.5 248.4L1358 248L1358 266.2Z" fill="#c88850"/><path d="M1357.5 266.6L1376.4 266.6L1376.9 266.2L1358 266.2Z" fill="#c88850"/><path d="M1358 266.2L1376.9 266.2L1376.9 247.9L1358 248Z" fill="#b27947"/><path d="M1300.9 230.4L1300.8 212.2L1301.2 211.7L1301.2 229.9Z" fill="#c88850"/><path d="M1300.9 230.4L1319.7 230.3L1320.1 229.9L1301.2 229.9Z" fill="#c88850"/><path d="M1301.2 229.9L1320.1 229.9L1320.1 211.6L1301.2 211.7Z" fill="#b27947"/><path d="M1244.4 212.5L1244.3 194.2L1244.5 193.7L1244.6 211.9Z" fill="#ce284c"/><path d="M1244.4 212.5L1263.2 212.4L1263.4 211.8L1244.6 211.9Z" fill="#ce284c"/><path d="M1244.6 211.9L1263.4 211.8L1263.4 193.6L1244.5 193.7Z" fill="#b72444"/><path d="M1150.4 249.3L1169.2 249.2L1169.2 248.7L1150.3 248.8Z" fill="#ceb496"/><path d="M1150.3 248.8L1169.2 248.7L1169.1 230.5L1150.3 230.6Z" fill="#b7a086"/><path d="M1075.3 304.2L1075.3 286L1075 285.6L1075 303.9Z" fill="#8e4636"/><path d="M1056.5 304.3L1075.3 304.2L1075 303.9L1056.1 304Z" fill="#ec745a"/><path d="M1056.1 304L1075 303.9L1075 285.6L1056.1 285.7Z" fill="#d26750"/><path d="M1225.8 285.4L1244.6 285.3L1244.8 285L1225.9 285Z" fill="#ceb496"/><path d="M1225.9 285L1244.8 285L1244.7 266.7L1225.8 266.8Z" fill="#b7a086"/><path d="M1188.4 376.5L1207.3 376.5L1207.2 358.2L1188.3 358.3Z" fill="#d2b428"/><path d="M1187.6 66.2L1206.4 66.1L1206.5 65.1L1187.6 65.2Z" fill="#e846e2"/><path d="M1187.6 65.2L1206.5 65.1L1206.4 46.9L1187.5 46.9Z" fill="#ce3ec9"/><path d="M1225.4 120.7L1244.3 120.6L1244.5 119.8L1225.6 119.9Z" fill="#e846e2"/><path d="M1225.6 119.9L1244.5 119.8L1244.4 101.5L1225.5 101.6Z" fill="#ce3ec9"/><path d="M1282.1 157L1282.1 138.7L1282.4 138L1282.4 156.3Z" fill="#e846e2"/><path d="M1282.1 157L1301 156.9L1301.4 156.2L1282.4 156.3Z" fill="#e846e2"/><path d="M1282.4 156.3L1301.4 156.2L1301.3 137.9L1282.4 138Z" fill="#ce3ec9"/><path d="M1301.1 175.1L1301 156.9L1301.4 156.2L1301.4 174.5Z" fill="#e846e2"/><path d="M1301.1 175.1L1320 175.1L1320.4 174.4L1301.4 174.5Z" fill="#e846e2"/><path d="M1301.4 174.5L1320.4 174.4L1320.3 156.1L1301.4 156.2Z" fill="#ce3ec9"/><path d="M1414.8 302.6L1414.8 284.3L1415.4 283.9L1415.5 302.3Z" fill="#e846e2"/><path d="M1414.8 302.6L1433.7 302.5L1434.5 302.2L1415.5 302.3Z" fill="#e846e2"/><path d="M1415.5 302.3L1434.5 302.2L1434.4 283.9L1415.4 283.9Z" fill="#ce3ec9"/><path d="M1376.9 247.9L1376.8 229.6L1377.4 229.1L1377.4 247.4Z" fill="#e846e2"/><path d="M1376.9 247.9L1395.8 247.8L1396.4 247.4L1377.4 247.4Z" fill="#e846e2"/><path d="M1377.4 247.4L1396.4 247.4L1396.3 229L1377.4 229.1Z" fill="#ce3ec9"/><path d="M1320.1 211.6L1320 193.3L1320.4 192.7L1320.5 211Z" fill="#e846e2"/><path d="M1320.1 211.6L1339 211.5L1339.4 211L1320.5 211Z" fill="#e846e2"/><path d="M1320.5 211L1339.4 211L1339.3 192.6L1320.4 192.7Z" fill="#ce3ec9"/><path d="M1263.4 193.6L1263.3 175.3L1263.6 174.7L1263.6 193Z" fill="#c88850"/><path d="M1263.4 193.6L1282.3 193.5L1282.5 192.9L1263.6 193Z" fill="#c88850"/><path d="M1263.6 193L1282.5 192.9L1282.5 174.6L1263.6 174.7Z" fill="#b27947"/><path d="M1169.1 230.5L1188 230.4L1188 229.9L1169.1 230Z" fill="#051980"/><path d="M1169.1 230L1188 229.9L1188 211.6L1169.1 211.7Z" fill="#041672"/><path d="M1244.7 266.7L1244.7 248.4L1244.9 248L1244.9 266.3Z" fill="#051980"/><path d="M1244.7 266.7L1263.6 266.6L1263.8 266.2L1244.9 266.3Z" fill="#051980"/><path d="M1244.9 266.3L1263.8 266.2L1263.8 247.9L1244.9 248Z" fill="#041672"/><path d="M1093.8 285.6L1093.8 267.3L1093.5 266.9L1093.6 285.2Z" fill="#8e791b"/><path d="M1075 285.6L1093.8 285.6L1093.6 285.2L1074.7 285.3Z" fill="#ecca2d"/><path d="M1074.7 285.3L1093.6 285.2L1093.5 266.9L1074.6 267Z" fill="#d2b428"/><path d="M1207.3 358.1L1226.2 358L1226.2 339.7L1207.2 339.7Z" fill="#6d6d6d"/><path d="M1206.4 46.9L1225.4 46.8L1225.5 45.7L1206.5 45.8Z" fill="#007a10"/><path d="M1206.5 45.8L1225.5 45.7L1225.4 27.4L1206.5 27.5Z" fill="#006d0e"/><path d="M1244.4 101.5L1244.4 83.2L1244.6 82.3L1244.6 100.7Z" fill="#007a10"/><path d="M1244.4 101.5L1263.3 101.5L1263.6 100.6L1244.6 100.7Z" fill="#007a10"/><path d="M1244.6 100.7L1263.6 100.6L1263.5 82.2L1244.6 82.3Z" fill="#006d0e"/><path d="M1301.3 137.9L1301.3 119.6L1301.6 118.8L1301.7 137.1Z" fill="#007a10"/><path d="M1301.3 137.9L1320.2 137.8L1320.6 137L1301.7 137.1Z" fill="#007a10"/><path d="M1301.7 137.1L1320.6 137L1320.6 118.7L1301.6 118.8Z" fill="#006d0e"/><path d="M1320.3 156.1L1320.2 137.8L1320.6 137L1320.7 155.4Z" fill="#007a10"/><path d="M1320.3 156.1L1339.2 156L1339.7 155.3L1320.7 155.4Z" fill="#007a10"/><path d="M1320.7 155.4L1339.7 155.3L1339.6 136.9L1320.6 137Z" fill="#006d0e"/><path d="M1434.4 283.9L1434.3 265.5L1435.1 265.1L1435.1 283.5Z" fill="#007a10"/><path d="M1434.4 283.9L1453.4 283.8L1454.1 283.4L1435.1 283.5Z" fill="#007a10"/><path d="M1435.1 283.5L1454.1 283.4L1454.1 265.1L1435.1 265.1Z" fill="#006d0e"/><path d="M1396.3 229L1396.2 210.7L1396.9 210.2L1396.9 228.5Z" fill="#007a10"/><path d="M1396.3 229L1415.2 229L1415.9 228.5L1396.9 228.5Z" fill="#007a10"/><path d="M1396.9 228.5L1415.9 228.5L1415.9 210.1L1396.9 210.2Z" fill="#006d0e"/><path d="M1339.3 192.6L1339.3 174.3L1339.7 173.7L1339.8 192Z" fill="#007a10"/><path d="M1339.3 192.6L1358.3 192.6L1358.8 192L1339.8 192Z" fill="#007a10"/><path d="M1339.8 192L1358.8 192L1358.7 173.6L1339.7 173.7Z" fill="#006d0e"/><path d="M1282.5 174.6L1282.4 156.3L1282.7 155.6L1282.8 173.9Z" fill="#e846e2"/><path d="M1282.5 174.6L1301.4 174.5L1301.8 173.8L1282.8 173.9Z" fill="#e846e2"/><path d="M1282.8 173.9L1301.8 173.8L1301.7 155.5L1282.7 155.6Z" fill="#ce3ec9"/><path d="M1188 211.6L1206.9 211.5L1207 211L1188 211Z" fill="#ce284c"/><path d="M1188 211L1207 211L1206.9 192.6L1188 192.7Z" fill="#b72444"/><path d="M1263.8 247.9L1263.7 229.6L1264 229.1L1264 247.5Z" fill="#ce284c"/><path d="M1263.8 247.9L1282.7 247.8L1283 247.4L1264 247.5Z" fill="#ce284c"/><path d="M1264 247.5L1283 247.4L1283 229L1264 229.1Z" fill="#b72444"/><path d="M1112.5 266.8L1112.4 248.5L1112.2 248.1L1112.3 266.4Z" fill="#494949"/><path d="M1093.5 266.9L1112.5 266.8L1112.3 266.4L1093.3 266.5Z" fill="#7a7a7a"/><path d="M1093.3 266.5L1112.3 266.4L1112.2 248.1L1093.3 248.2Z" fill="#6d6d6d"/><path d="M1226.2 339.7L1245.1 339.6L1245.3 339.4L1226.3 339.5Z" fill="#ceb496"/><path d="M1226.3 339.5L1245.3 339.4L1245.2 321L1226.3 321.1Z" fill="#b7a086"/><path d="M1301.7 155.5L1301.7 137.1L1302 136.4L1302.1 154.8Z" fill="#007a10"/><path d="M1301.7 155.5L1320.7 155.4L1321.1 154.7L1302.1 154.8Z" fill="#007a10"/><path d="M1302.1 154.8L1321.1 154.7L1321 136.3L1302 136.4Z" fill="#006d0e"/><path d="M1206.9 192.6L1225.9 192.5L1226 191.9L1207 192Z" fill="#c88850"/><path d="M1207 192L1226 191.9L1226 173.5L1207 173.6Z" fill="#b27947"/><path d="M1283 229L1282.9 210.6L1283.2 210.1L1283.2 228.5Z" fill="#c88850"/><path d="M1283 229L1301.9 228.9L1302.3 228.4L1283.2 228.5Z" fill="#c88850"/><path d="M1283.2 228.5L1302.3 228.4L1302.2 210L1283.2 210.1Z" fill="#b27947"/><path d="M1112.2 248.1L1131.2 248L1131 247.6L1112 247.6Z" fill="#ceb496"/><path d="M1112 247.6L1131 247.6L1131 229.1L1112 229.2Z" fill="#b7a086"/><path d="M1245.2 321L1245.2 302.6L1245.4 302.4L1245.4 320.8Z" fill="#051980"/><path d="M1245.2 321L1264.2 321L1264.5 320.7L1245.4 320.8Z" fill="#051980"/><path d="M1245.4 320.8L1264.5 320.7L1264.4 302.3L1245.4 302.4Z" fill="#041672"/><path d="M1226 173.5L1245 173.4L1245.2 172.8L1226.1 172.8Z" fill="#e846e2"/><path d="M1226.1 172.8L1245.2 172.8L1245.1 154.3L1226.1 154.4Z" fill="#ce3ec9"/><path d="M1302.2 210L1302.2 191.6L1302.5 191L1302.6 209.4Z" fill="#e846e2"/><path d="M1302.2 210L1321.3 209.9L1321.7 209.4L1302.6 209.4Z" fill="#e846e2"/><path d="M1302.6 209.4L1321.7 209.4L1321.6 190.9L1302.5 191Z" fill="#ce3ec9"/><path d="M1131 229.1L1150 229.1L1149.9 228.6L1130.9 228.6Z" fill="#051980"/><path d="M1130.9 228.6L1149.9 228.6L1149.9 210.1L1130.8 210.2Z" fill="#041672"/><path d="M1264.4 302.3L1264.4 283.9L1264.6 283.5L1264.7 302Z" fill="#ce284c"/><path d="M1264.4 302.3L1283.5 302.2L1283.8 301.9L1264.7 302Z" fill="#ce284c"/><path d="M1264.7 302L1283.8 301.9L1283.7 283.4L1264.6 283.5Z" fill="#b72444"/><path d="M1245.1 154.3L1245.1 135.8L1245.3 135.1L1245.3 153.6Z" fill="#007a10"/><path d="M1245.1 154.3L1264.2 154.2L1264.5 153.5L1245.3 153.6Z" fill="#007a10"/><path d="M1245.3 153.6L1264.5 153.5L1264.4 135L1245.3 135.1Z" fill="#006d0e"/><path d="M1321.6 190.9L1321.6 172.4L1322 171.8L1322 190.3Z" fill="#007a10"/><path d="M1321.6 190.9L1340.7 190.8L1341.2 190.2L1322 190.3Z" fill="#007a10"/><path d="M1322 190.3L1341.2 190.2L1341.1 171.7L1322 171.8Z" fill="#006d0e"/><path d="M1149.9 210.1L1169 210L1168.9 209.5L1149.8 209.5Z" fill="#ce284c"/><path d="M1149.8 209.5L1168.9 209.5L1168.9 190.9L1149.8 191Z" fill="#b72444"/><path d="M1283.7 283.4L1283.7 264.9L1284 264.5L1284 283.1Z" fill="#c88850"/><path d="M1283.7 283.4L1302.8 283.3L1303.2 283L1284 283.1Z" fill="#c88850"/><path d="M1284 283.1L1303.2 283L1303.1 264.5L1284 264.5Z" fill="#b27947"/><path d="M1168.9 190.9L1188 190.9L1188.1 190.2L1168.9 190.3Z" fill="#c88850"/><path d="M1168.9 190.3L1188.1 190.2L1188 171.7L1168.8 171.8Z" fill="#b27947"/><path d="M1303.1 264.5L1303.1 245.9L1303.4 245.5L1303.5 264.1Z" fill="#e846e2"/><path d="M1303.1 264.5L1322.3 264.4L1322.7 264L1303.5 264.1Z" fill="#e846e2"/><path d="M1303.5 264.1L1322.7 264L1322.6 245.4L1303.4 245.5Z" fill="#ce3ec9"/><path d="M1188 171.7L1207.2 171.6L1207.3 170.9L1188 171Z" fill="#e846e2"/><path d="M1188 171L1207.3 170.9L1207.2 152.3L1188 152.4Z" fill="#ce3ec9"/><path d="M1322.6 245.4L1322.6 226.8L1323 226.3L1323 244.9Z" fill="#007a10"/><path d="M1322.6 245.4L1341.8 245.3L1342.3 244.8L1323 244.9Z" fill="#007a10"/><path d="M1323 244.9L1342.3 244.8L1342.2 226.2L1323 226.3Z" fill="#006d0e"/><path d="M1207.2 152.3L1226.5 152.2L1226.6 151.5L1207.3 151.6Z" fill="#007a10"/><path d="M1207.3 151.6L1226.6 151.5L1226.6 132.8L1207.3 132.9Z" fill="#006d0e"/></g></g><g font-family="'DejaVu Sans','Liberation Sans',sans-serif"><text transform="translate(904.6 631.7)" y="6.9" font-size="19" font-weight="normal" text-anchor="middle" fill="#1a1a1a">4</text><text transform="translate(940 631.6)" y="6.9" font-size="19" font-weight="normal" text-anchor="middle" fill="#1a1a1a">6</text><text transform="translate(975.5 631.5)" y="6.9" font-size="19" font-weight="normal" text-anchor="middle" fill="#1a1a1a">8</text><text transform="translate(1010.9 631.4)" y="6.9" font-size="19" font-weight="normal" text-anchor="middle" fill="#1a1a1a">10</text><text transform="translate(1046.3 631.3)" y="6.9" font-size="19" font-weight="normal" text-anchor="middle" fill="#1a1a1a">12</text><text transform="translate(1081.8 631.2)" y="6.9" font-size="19" font-weight="normal" text-anchor="middle" fill="#1a1a1a">14</text><text transform="translate(1117.2 631.1)" y="6.9" font-size="19" font-weight="normal" text-anchor="middle" fill="#1a1a1a">16</text><text transform="translate(1152.7 631)" y="6.9" font-size="19" font-weight="normal" text-anchor="middle" fill="#1a1a1a">18</text><text transform="translate(1188.2 630.9)" y="6.9" font-size="19" font-weight="normal" text-anchor="middle" fill="#1a1a1a">20</text><text transform="translate(1223.7 630.8)" y="6.9" font-size="19" font-weight="normal" text-anchor="middle" fill="#1a1a1a">22</text><text transform="translate(1259.1 630.7)" y="6.9" font-size="19" font-weight="normal" text-anchor="middle" fill="#1a1a1a">24</text><text transform="translate(1294.6 630.6)" y="6.9" font-size="19" font-weight="normal" text-anchor="middle" fill="#1a1a1a">26</text><text transform="translate(1330.2 630.5)" y="6.9" font-size="19" font-weight="normal" text-anchor="middle" fill="#1a1a1a">28</text><text transform="translate(1365.7 630.4)" y="6.9" font-size="19" font-weight="normal" text-anchor="middle" fill="#1a1a1a">30</text><text transform="translate(1401.2 630.3)" y="6.9" font-size="19" font-weight="normal" text-anchor="middle" fill="#1a1a1a">32</text><text transform="translate(1436.7 630.2)" y="6.9" font-size="19" font-weight="normal" text-anchor="middle" fill="#1a1a1a">34</text><text transform="translate(866.7 577.5)" y="6.9" font-size="19" font-weight="normal" text-anchor="middle" fill="#1a1a1a">4</text><text transform="translate(866.7 543)" y="6.9" font-size="19" font-weight="normal" text-anchor="middle" fill="#1a1a1a">6</text><text transform="translate(866.7 508.6)" y="6.9" font-size="19" font-weight="normal" text-anchor="middle" fill="#1a1a1a">8</text><text transform="translate(865.5 474.1)" y="6.9" font-size="19" font-weight="normal" text-anchor="middle" fill="#1a1a1a">10</text><text transform="translate(865.5 439.7)" y="6.9" font-size="19" font-weight="normal" text-anchor="middle" fill="#1a1a1a">12</text><text transform="translate(865.5 405.3)" y="6.9" font-size="19" font-weight="normal" text-anchor="middle" fill="#1a1a1a">14</text><text transform="translate(865.5 370.8)" y="6.9" font-size="19" font-weight="normal" text-anchor="middle" fill="#1a1a1a">16</text><text transform="translate(865.5 336.4)" y="6.9" font-size="19" font-weight="normal" text-anchor="middle" fill="#1a1a1a">18</text><text transform="translate(865.5 302)" y="6.9" font-size="19" font-weight="normal" text-anchor="middle" fill="#1a1a1a">20</text><text transform="translate(865.5 267.6)" y="6.9" font-size="19" font-weight="normal" text-anchor="middle" fill="#1a1a1a">22</text><text transform="translate(865.5 233.3)" y="6.9" font-size="19" font-weight="normal" text-anchor="middle" fill="#1a1a1a">24</text><text transform="translate(865.5 198.9)" y="6.9" font-size="19" font-weight="normal" text-anchor="middle" fill="#1a1a1a">26</text><text transform="translate(865.5 164.5)" y="6.9" font-size="19" font-weight="normal" text-anchor="middle" fill="#1a1a1a">28</text><text transform="translate(865.5 130.2)" y="6.9" font-size="19" font-weight="normal" text-anchor="middle" fill="#1a1a1a">30</text><text transform="translate(865.5 95.8)" y="6.9" font-size="19" font-weight="normal" text-anchor="middle" fill="#1a1a1a">32</text><text transform="translate(865.5 61.5)" y="6.9" font-size="19" font-weight="normal" text-anchor="middle" fill="#1a1a1a">34</text><text transform="translate(1180 650.7)" y="6.7" font-size="18.3" font-weight="bold" text-anchor="middle" fill="#1a1a1a">X-axis</text><text transform="translate(839.5 312.5) rotate(90)" y="7" font-size="19.3" font-weight="bold" text-anchor="middle" fill="#1a1a1a">Y-axis</text></g><clipPath id="cc"><rect x="60" y="730" width="695.6" height="640"/></clipPath><g clip-path="url(#cc)"><path d="M749.9 1329.4 L192.5 1329.8 L192.6 855.4 L750.1 855.2 Z" fill="#fafafa" /><path d="M722 1329.5L722.2 855.2M688.5 1329.5L688.7 855.2M655.1 1329.5L655.3 855.2M621.7 1329.5L621.9 855.2M588.2 1329.5L588.4 855.2M554.8 1329.6L555 855.2M521.4 1329.6L521.5 855.3M487.9 1329.6L488.1 855.3M454.5 1329.6L454.6 855.3M421.1 1329.6L421.2 855.3M387.6 1329.7L387.7 855.3M354.2 1329.7L354.3 855.3M320.8 1329.7L320.8 855.4M287.3 1329.7L287.4 855.4M253.9 1329.7L253.9 855.4M220.5 1329.8L220.5 855.4M749.9 1304.8L192.5 1305.1M749.9 1274.4L192.5 1274.8M749.9 1244.1L192.5 1244.4M749.9 1213.7L192.5 1214.1M750 1183.4L192.5 1183.7M750 1153L192.5 1153.3M750 1122.7L192.5 1123M750 1092.3L192.5 1092.6M750 1062L192.5 1062.3M750 1031.6L192.6 1031.9M750 1001.3L192.6 1001.5M750 970.9L192.6 971.2M750.1 940.6L192.6 940.8M750.1 910.2L192.6 910.5M750.1 879.8L192.6 880.1" stroke="#c9c9c9" stroke-width="1.5" fill="none"/><path d="M145.5 1344.4 L192.5 1329.8 L192.6 855.4 L145.5 811.3 Z" fill="#e2e2e2" /><path d="M146.5 1344.1L146.6 812.3M149.8 1343.1L149.8 815.3M153 1342.1L153 818.3M156.1 1341.1L156.1 821.3M159.2 1340.2L159.2 824.2M162.2 1339.2L162.3 827M165.2 1338.3L165.3 829.8M168.2 1337.4L168.2 832.6M171.1 1336.4L171.1 835.3M174 1335.6L174 838M176.8 1334.7L176.8 840.7M179.6 1333.8L179.6 843.3M182.3 1332.9L182.4 845.9M185.1 1332.1L185.1 848.4M187.7 1331.3L187.8 850.9M190.4 1330.4L190.4 853.4M145.5 1316.7L192.5 1305.1M145.5 1282.6L192.5 1274.8M145.5 1248.5L192.5 1244.4M145.5 1214.4L192.5 1214.1M145.5 1180.3L192.5 1183.7M145.5 1146.2L192.5 1153.3M145.5 1112L192.5 1123M145.5 1077.9L192.5 1092.6M145.5 1043.8L192.5 1062.3M145.5 1009.7L192.6 1031.9M145.5 975.6L192.6 1001.5M145.5 941.4L192.6 971.2M145.5 907.3L192.6 940.8M145.5 873.2L192.6 910.5M145.5 839.1L192.6 880.1" stroke="#c0c0c0" stroke-width="1.2" fill="none"/><path d="M772.1 811 L750.1 855.2 L192.6 855.4 L145.5 811.3 Z" fill="#e6e6e6" /><path d="M771.6 812L146.6 812.3M770.1 815.1L149.8 815.3M768.6 818.1L153 818.3M767.1 821L156.1 821.3M765.7 823.9L159.2 824.2M764.3 826.7L162.3 827M762.9 829.6L165.3 829.8M761.5 832.3L168.2 832.6M760.1 835.1L171.1 835.3M758.8 837.8L174 838M757.4 840.4L176.8 840.7M756.1 843L179.6 843.3M754.9 845.6L182.4 845.9M753.6 848.2L185.1 848.4M752.3 850.7L187.8 850.9M751.1 853.1L190.4 853.4M740.7 811.1L722.2 855.2M703.1 811.1L688.7 855.2M665.5 811.1L655.3 855.2M628 811.1L621.9 855.2M590.4 811.1L588.4 855.2M552.8 811.1L555 855.2M515.2 811.2L521.5 855.3M477.6 811.2L488.1 855.3M440 811.2L454.6 855.3M402.4 811.2L421.2 855.3M364.8 811.2L387.7 855.3M327.3 811.2L354.3 855.3M289.7 811.3L320.8 855.4M252.1 811.3L287.4 855.4M214.5 811.3L253.9 855.4M176.9 811.3L220.5 855.4" stroke="#c0c0c0" stroke-width="1.2" fill="none"/><path d="M790.9 811L145.5 811.3" stroke="#111" stroke-width="1.4" fill="none" stroke-linecap="square"/><path d="M145.5 1344.4L145.5 811.3" stroke="#111" stroke-width="1.4" fill="none" stroke-linecap="square"/><path d="M772.1 811L750.1 855.2" stroke="#000" stroke-width="1.3" fill="none" stroke-linecap="square"/><path d="M740.5 811.5L741.2 809.8M703 811.5L703.5 809.8M665.4 811.6L665.8 809.9M627.9 811.6L628.1 809.9M590.4 811.6L590.4 809.9M552.8 811.6L552.7 809.9M515.3 811.6L515 809.9M477.7 811.6L477.3 809.9M440.2 811.7L439.6 810M402.6 811.7L401.9 810M365.1 811.7L364.2 810M327.5 811.7L326.5 810M290 811.7L288.8 810M252.4 811.7L251.1 810M214.9 811.8L213.4 810.1M177.3 811.8L175.7 810.1" stroke="#000" stroke-width="1.3" fill="none"/><path d="M146 1316.6L144.2 1317M146 1282.5L144.2 1282.8M146 1248.5L144.2 1248.6M146 1214.4L144.2 1214.4M146 1180.3L144.2 1180.2M146 1146.2L144.2 1146M146 1112.2L144.2 1111.7M146 1078.1L144.2 1077.5M146 1044L144.2 1043.3M146 1009.9L144.2 1009.1M146 975.8L144.2 974.8M146 941.7L144.2 940.6M146 907.7L144.2 906.4M146 873.6L144.2 872.1M146 839.5L144.2 837.9" stroke="#000" stroke-width="1.3" fill="none"/><path d="M762.2 812L794.1 812M760.8 815.1L792.4 815.1M759.4 818.1L790.7 818M758 821L789.1 821M756.6 823.9L787.5 823.9M755.2 826.8L785.9 826.7M753.9 829.6L784.4 829.6M752.6 832.3L782.8 832.3M751.3 835.1L781.3 835.1M750 837.8L779.8 837.8M748.7 840.4L778.3 840.4M747.5 843L776.9 843M746.3 845.6L775.5 845.6M745.1 848.2L774 848.1M743.9 850.7L772.7 850.7M742.7 853.1L771.3 853.1" stroke="#000" stroke-width="1.6" fill="none"/><g stroke="#000" stroke-width="1.6" stroke-linejoin="round"><path d="M453.5 984.2L436.6 984.2L436.7 968.9L453.5 968.9Z" fill="#007a10"/><path d="M453.5 984.2L453.9 985L453.9 969.7L453.5 968.9Z" fill="#007a10"/><path d="M453.5 984.2L453.9 985L437.1 985L436.6 984.2Z" fill="#005c0c"/><path d="M470 998.8L453.1 998.8L453.1 983.4L470 983.4Z" fill="#e846e2"/><path d="M470 998.8L470.4 999.5L470.4 984.2L470 983.4Z" fill="#e846e2"/><path d="M470 998.8L470.4 999.5L453.5 999.5L453.1 998.8Z" fill="#ae34aa"/><path d="M401.7 982.6L384.7 982.6L384.7 967.2L401.7 967.2Z" fill="#007a10"/><path d="M401.7 982.6L402.3 983.4L402.3 968L401.7 967.2Z" fill="#007a10"/><path d="M401.7 982.6L402.3 983.4L385.4 983.4L384.7 982.6Z" fill="#005c0c"/><path d="M333.7 1044.4L316.8 1044.4L316.8 1028.9L333.7 1028.9Z" fill="#007a10"/><path d="M333.7 1044.4L334.6 1044.9L334.6 1029.6L333.7 1028.9Z" fill="#007a10"/><path d="M333.7 1044.4L334.6 1044.9L317.6 1045L316.8 1044.4Z" fill="#005c0c"/><path d="M486.7 1013.4L469.7 1013.4L469.7 998L486.7 998Z" fill="#c88850"/><path d="M486.7 1013.4L487 1014.1L487 998.8L486.7 998Z" fill="#c88850"/><path d="M486.7 1013.4L487 1014.1L470 1014.1L469.7 1013.4Z" fill="#96663c"/><path d="M418.2 997.3L401.1 997.3L401.1 981.8L418.2 981.8Z" fill="#e846e2"/><path d="M418.2 997.3L418.7 998L418.7 982.6L418.2 981.8Z" fill="#e846e2"/><path d="M418.2 997.3L418.7 998L401.7 998.1L401.1 997.3Z" fill="#ae34aa"/><path d="M350 1059.3L332.9 1059.3L332.9 1043.8L350 1043.8Z" fill="#e846e2"/><path d="M350 1059.3L350.7 1059.8L350.7 1044.4L350 1043.8Z" fill="#e846e2"/><path d="M350 1059.3L350.7 1059.8L333.7 1059.8L332.9 1059.3Z" fill="#ae34aa"/><path d="M503.4 1028.2L486.4 1028.2L486.4 1012.8L503.4 1012.7Z" fill="#ce284c"/><path d="M503.4 1028.2L503.7 1028.9L503.7 1013.4L503.4 1012.7Z" fill="#ce284c"/><path d="M503.4 1028.2L503.7 1028.9L486.7 1028.9L486.4 1028.2Z" fill="#9a1e39"/><path d="M434.7 1012.1L417.6 1012.1L417.6 996.6L434.7 996.6Z" fill="#c88850"/><path d="M434.7 1012.1L435.2 1012.8L435.2 997.3L434.7 996.6Z" fill="#c88850"/><path d="M434.7 1012.1L435.2 1012.8L418.2 1012.8L417.6 1012.1Z" fill="#96663c"/><path d="M366.3 1074.2L349.2 1074.3L349.2 1058.7L366.3 1058.7Z" fill="#c88850"/><path d="M366.3 1074.2L367 1074.7L367 1059.2L366.3 1058.7Z" fill="#c88850"/><path d="M366.3 1074.2L367 1074.7L350 1074.7L349.2 1074.3Z" fill="#96663c"/><path d="M520.3 1043.1L503.2 1043.1L503.2 1027.6L520.3 1027.6Z" fill="#051980"/><path d="M520.3 1043.1L520.5 1043.7L503.4 1043.7L503.2 1043.1Z" fill="#041360"/><path d="M365.6 980.2L348.4 980.3L348.4 964.7L365.6 964.7Z" fill="#007a10"/><path d="M365.6 980.2L366.3 981.1L366.3 965.5L365.6 964.7Z" fill="#007a10"/><path d="M365.6 980.2L366.3 981.1L349.2 981.1L348.4 980.3Z" fill="#005c0c"/><path d="M331.2 1011.4L314.1 1011.4L314.1 995.9L331.2 995.8Z" fill="#007a10"/><path d="M331.2 1011.4L332.1 1012.1L332.1 996.6L331.2 995.8Z" fill="#007a10"/><path d="M331.2 1011.4L332.1 1012.1L315 1012.1L314.1 1011.4Z" fill="#005c0c"/><path d="M451.4 1027L434.3 1027L434.3 1011.4L451.4 1011.4Z" fill="#ce284c"/><path d="M451.4 1027L451.8 1027.6L451.9 1012.1L451.4 1011.4Z" fill="#ce284c"/><path d="M451.4 1027L451.8 1027.6L434.7 1027.6L434.3 1027Z" fill="#9a1e39"/><path d="M382.7 1089.3L365.6 1089.4L365.6 1073.8L382.7 1073.8Z" fill="#ce284c"/><path d="M382.7 1089.3L383.4 1089.8L383.4 1074.2L382.7 1073.8Z" fill="#ce284c"/><path d="M382.7 1089.3L383.4 1089.8L366.3 1089.8L365.6 1089.4Z" fill="#9a1e39"/><path d="M537.3 1058.1L520.1 1058.1L520.1 1042.5L537.3 1042.5Z" fill="#ceb496"/><path d="M537.3 1058.1L537.4 1058.6L520.3 1058.6L520.1 1058.1Z" fill="#9a8770"/><path d="M416.6 901.2L399.3 901.2L399.3 885.6L416.6 885.5Z" fill="#007a10"/><path d="M416.6 901.2L417.1 902.3L417.1 886.7L416.6 885.5Z" fill="#007a10"/><path d="M416.6 901.2L417.1 902.3L399.9 902.3L399.3 901.2Z" fill="#005c0c"/><path d="M364.9 932.5L347.6 932.5L347.6 916.9L364.9 916.9Z" fill="#007a10"/><path d="M364.9 932.5L365.6 933.5L365.6 917.9L364.9 916.9Z" fill="#007a10"/><path d="M364.9 932.5L365.6 933.5L348.4 933.5L347.6 932.5Z" fill="#005c0c"/><path d="M244.2 1057.7L227 1057.7L227 1042.1L244.2 1042.1Z" fill="#007a10"/><path d="M244.2 1057.7L245.4 1058.2L245.4 1042.7L244.2 1042.1Z" fill="#007a10"/><path d="M244.2 1057.7L245.4 1058.2L228.2 1058.2L227 1057.7Z" fill="#005c0c"/><path d="M278.7 1010.8L261.5 1010.8L261.5 995.1L278.7 995.1Z" fill="#007a10"/><path d="M278.7 1010.8L279.7 1011.5L279.7 995.9L278.7 995.1Z" fill="#007a10"/><path d="M278.7 1010.8L279.7 1011.5L262.6 1011.5L261.5 1010.8Z" fill="#005c0c"/><path d="M330.4 979.4L313.2 979.5L313.2 963.8L330.4 963.8Z" fill="#007a10"/><path d="M330.4 979.4L331.2 980.3L331.2 964.7L330.4 963.8Z" fill="#007a10"/><path d="M330.4 979.4L331.2 980.3L314.1 980.3L313.2 979.5Z" fill="#005c0c"/><path d="M382.1 995.1L364.9 995.1L364.9 979.4L382.1 979.4Z" fill="#e846e2"/><path d="M382.1 995.1L382.8 995.8L382.8 980.2L382.1 979.4Z" fill="#e846e2"/><path d="M382.1 995.1L382.8 995.8L365.6 995.8L364.9 995.1Z" fill="#ae34aa"/><path d="M347.6 1026.4L330.4 1026.4L330.4 1010.7L347.6 1010.7Z" fill="#e846e2"/><path d="M347.6 1026.4L348.4 1027L348.4 1011.4L347.6 1010.7Z" fill="#e846e2"/><path d="M347.6 1026.4L348.4 1027L331.2 1027L330.4 1026.4Z" fill="#ae34aa"/><path d="M468.2 1041.9L451 1042L451 1026.3L468.2 1026.3Z" fill="#051980"/><path d="M468.2 1041.9L468.6 1042.5L468.6 1027L468.2 1026.3Z" fill="#051980"/><path d="M468.2 1041.9L468.6 1042.5L451.4 1042.5L451 1042Z" fill="#041360"/><path d="M399.3 1104.5L382.1 1104.6L382.1 1088.9L399.3 1088.9Z" fill="#051980"/><path d="M399.3 1104.5L399.9 1104.9L399.9 1089.3L399.3 1088.9Z" fill="#051980"/><path d="M399.3 1104.5L399.9 1104.9L382.7 1104.9L382.1 1104.6Z" fill="#041360"/><path d="M554.4 1073.2L537.1 1073.2L537.1 1057.6L554.4 1057.5Z" fill="#7a7a7a"/><path d="M554.4 1073.2L554.4 1073.7L537.3 1073.7L537.1 1073.2Z" fill="#5c5c5c"/><path d="M329.5 962.9L312.3 962.9L312.3 947.2L329.5 947.2Z" fill="#007a10"/><path d="M329.5 962.9L330.4 963.8L330.4 948.2L329.5 947.2Z" fill="#007a10"/><path d="M329.5 962.9L330.4 963.8L313.2 963.8L312.3 962.9Z" fill="#005c0c"/><path d="M312.3 978.6L295 978.6L295 962.9L312.3 962.9Z" fill="#007a10"/><path d="M312.3 978.6L313.2 979.5L313.2 963.8L312.3 962.9Z" fill="#007a10"/><path d="M312.3 978.6L313.2 979.5L295.9 979.5L295 978.6Z" fill="#005c0c"/><path d="M433.3 915.8L416 915.8L416 900.1L433.3 900.1Z" fill="#e846e2"/><path d="M433.3 915.8L433.8 916.8L433.8 901.2L433.3 900.1Z" fill="#e846e2"/><path d="M433.3 915.8L433.8 916.8L416.6 916.8L416 915.8Z" fill="#ae34aa"/><path d="M381.4 947.2L364.1 947.2L364.1 931.5L381.4 931.5Z" fill="#e846e2"/><path d="M381.4 947.2L382.1 948.1L382.1 932.5L381.4 931.5Z" fill="#e846e2"/><path d="M381.4 947.2L382.1 948.1L364.9 948.1L364.1 947.2Z" fill="#ae34aa"/><path d="M260.4 1072.8L243.1 1072.9L243.1 1057.2L260.4 1057.2Z" fill="#e846e2"/><path d="M260.4 1072.8L261.5 1073.3L261.5 1057.7L260.4 1057.2Z" fill="#e846e2"/><path d="M260.4 1072.8L261.5 1073.3L244.2 1073.3L243.1 1072.9Z" fill="#ae34aa"/><path d="M295 1025.7L277.7 1025.7L277.7 1010.1L295 1010Z" fill="#e846e2"/><path d="M295 1025.7L295.9 1026.4L295.9 1010.8L295 1010Z" fill="#e846e2"/><path d="M295 1025.7L295.9 1026.4L278.7 1026.4L277.7 1025.7Z" fill="#ae34aa"/><path d="M346.8 994.3L329.5 994.3L329.5 978.6L346.8 978.6Z" fill="#e846e2"/><path d="M346.8 994.3L347.6 995.1L347.6 979.4L346.8 978.6Z" fill="#e846e2"/><path d="M346.8 994.3L347.6 995.1L330.4 995.1L329.5 994.3Z" fill="#ae34aa"/><path d="M398.7 1010L381.4 1010L381.4 994.3L398.7 994.3Z" fill="#c88850"/><path d="M398.7 1010L399.3 1010.7L399.3 995.1L398.7 994.3Z" fill="#c88850"/><path d="M398.7 1010L399.3 1010.7L382.1 1010.7L381.4 1010Z" fill="#96663c"/><path d="M364.1 1041.4L346.8 1041.4L346.8 1025.7L364.1 1025.7Z" fill="#c88850"/><path d="M364.1 1041.4L364.8 1042L364.9 1026.4L364.1 1025.7Z" fill="#c88850"/><path d="M364.1 1041.4L364.8 1042L347.6 1042L346.8 1041.4Z" fill="#96663c"/><path d="M485.1 1057L467.9 1057L467.9 1041.4L485.1 1041.3Z" fill="#ceb496"/><path d="M485.1 1057L485.4 1057.6L485.5 1041.9L485.1 1041.3Z" fill="#ceb496"/><path d="M485.1 1057L485.4 1057.6L468.2 1057.6L467.9 1057Z" fill="#9a8770"/><path d="M416 1119.9L398.7 1119.9L398.7 1104.2L416 1104.2Z" fill="#ceb496"/><path d="M416 1119.9L416.5 1120.2L416.5 1104.5L416 1104.2Z" fill="#ceb496"/><path d="M416 1119.9L416.5 1120.2L399.3 1120.2L398.7 1119.9Z" fill="#9a8770"/><path d="M571.6 1088.4L554.3 1088.4L554.3 1072.7L571.6 1072.7Z" fill="#ecca2d"/><path d="M571.6 1088.4L571.6 1088.8L554.4 1088.8L554.3 1088.4Z" fill="#b19822"/><path d="M346 977.8L328.7 977.8L328.7 962.1L346 962Z" fill="#e846e2"/><path d="M346 977.8L346.8 978.6L346.8 962.9L346 962Z" fill="#e846e2"/><path d="M346 977.8L346.8 978.6L329.5 978.6L328.7 977.8Z" fill="#ae34aa"/><path d="M328.7 993.6L311.3 993.6L311.3 977.8L328.7 977.8Z" fill="#e846e2"/><path d="M328.7 993.6L329.5 994.3L329.5 978.6L328.7 977.8Z" fill="#e846e2"/><path d="M328.7 993.6L329.5 994.3L312.2 994.3L311.3 993.6Z" fill="#ae34aa"/><path d="M450.2 930.5L432.8 930.5L432.8 914.7L450.2 914.7Z" fill="#c88850"/><path d="M450.2 930.5L450.6 931.5L450.6 915.8L450.2 914.7Z" fill="#c88850"/><path d="M450.2 930.5L450.6 931.5L433.3 931.5L432.8 930.5Z" fill="#96663c"/><path d="M398.1 962L380.7 962L380.7 946.3L398.1 946.3Z" fill="#c88850"/><path d="M398.1 962L398.7 962.9L398.7 947.2L398.1 946.3Z" fill="#c88850"/><path d="M398.1 962L398.7 962.9L381.4 962.9L380.7 962Z" fill="#96663c"/><path d="M276.6 1088.1L259.3 1088.1L259.3 1072.4L276.6 1072.3Z" fill="#c88850"/><path d="M276.6 1088.1L277.7 1088.5L277.7 1072.8L276.6 1072.3Z" fill="#c88850"/><path d="M276.6 1088.1L277.7 1088.5L260.4 1088.5L259.3 1088.1Z" fill="#96663c"/><path d="M311.3 1040.8L294 1040.8L294 1025.1L311.3 1025.1Z" fill="#c88850"/><path d="M311.3 1040.8L312.2 1041.4L312.2 1025.7L311.3 1025.1Z" fill="#c88850"/><path d="M311.3 1040.8L312.2 1041.4L295 1041.4L294 1040.8Z" fill="#96663c"/><path d="M363.4 1009.3L346 1009.3L346 993.6L363.4 993.5Z" fill="#c88850"/><path d="M363.4 1009.3L364.1 1010L364.1 994.3L363.4 993.5Z" fill="#c88850"/><path d="M363.4 1009.3L364.1 1010L346.8 1010L346 1009.3Z" fill="#96663c"/><path d="M415.4 1025L398.1 1025L398.1 1009.3L415.4 1009.3Z" fill="#ce284c"/><path d="M415.4 1025L416 1025.7L416 1010L415.4 1009.3Z" fill="#ce284c"/><path d="M415.4 1025L416 1025.7L398.7 1025.7L398.1 1025Z" fill="#9a1e39"/><path d="M380.7 1056.5L363.4 1056.6L363.4 1040.8L380.7 1040.8Z" fill="#ce284c"/><path d="M380.7 1056.5L381.4 1057.1L381.4 1041.4L380.7 1040.8Z" fill="#ce284c"/><path d="M380.7 1056.5L381.4 1057.1L364.1 1057.1L363.4 1056.6Z" fill="#9a1e39"/><path d="M502.2 1072.2L484.8 1072.2L484.8 1056.5L502.2 1056.5Z" fill="#7a7a7a"/><path d="M502.2 1072.2L502.4 1072.7L502.4 1057L502.2 1056.5Z" fill="#7a7a7a"/><path d="M502.2 1072.2L502.4 1072.7L485.1 1072.7L484.8 1072.2Z" fill="#5c5c5c"/><path d="M432.8 1135.3L415.4 1135.3L415.4 1119.5L432.8 1119.5Z" fill="#7a7a7a"/><path d="M432.8 1135.3L433.3 1135.5L433.3 1119.8L432.8 1119.5Z" fill="#7a7a7a"/><path d="M432.8 1135.3L433.3 1135.5L416 1135.5L415.4 1135.3Z" fill="#5c5c5c"/><path d="M588.9 1103.7L571.6 1103.7L571.6 1087.9L588.9 1087.9Z" fill="#ec745a"/><path d="M588.9 1103.7L588.9 1104.1L571.6 1104.1L571.6 1103.7Z" fill="#b15744"/><path d="M362.6 992.8L345.2 992.8L345.2 977L362.6 977Z" fill="#c88850"/><path d="M362.6 992.8L363.4 993.5L363.4 977.8L362.6 977Z" fill="#c88850"/><path d="M362.6 992.8L363.4 993.5L346 993.6L345.2 992.8Z" fill="#96663c"/><path d="M345.2 1008.6L327.8 1008.6L327.8 992.8L345.2 992.8Z" fill="#c88850"/><path d="M345.2 1008.6L346 1009.3L346 993.6L345.2 992.8Z" fill="#c88850"/><path d="M345.2 1008.6L346 1009.3L328.7 1009.3L327.8 1008.6Z" fill="#96663c"/><path d="M467.1 945.3L449.7 945.3L449.7 929.5L467.1 929.5Z" fill="#ce284c"/><path d="M467.1 945.3L467.5 946.2L467.5 930.5L467.1 929.5Z" fill="#ce284c"/><path d="M467.1 945.3L467.5 946.2L450.2 946.2L449.7 945.3Z" fill="#9a1e39"/><path d="M293 1103.5L275.6 1103.5L275.6 1087.7L293 1087.7Z" fill="#ce284c"/><path d="M293 1103.5L294 1103.8L294 1088.1L293 1087.7Z" fill="#ce284c"/><path d="M293 1103.5L294 1103.8L276.6 1103.9L275.6 1103.5Z" fill="#9a1e39"/><path d="M414.9 976.9L397.5 976.9L397.5 961.1L414.9 961.1Z" fill="#ce284c"/><path d="M414.9 976.9L415.4 977.8L415.4 962L414.9 961.1Z" fill="#ce284c"/><path d="M414.9 976.9L415.4 977.8L398.1 977.8L397.5 976.9Z" fill="#9a1e39"/><path d="M327.8 1056L310.4 1056L310.4 1040.2L327.8 1040.2Z" fill="#ce284c"/><path d="M327.8 1056L328.7 1056.6L328.7 1040.8L327.8 1040.2Z" fill="#ce284c"/><path d="M327.8 1056L328.7 1056.6L311.3 1056.6L310.4 1056Z" fill="#9a1e39"/><path d="M380.1 1024.4L362.6 1024.4L362.6 1008.6L380.1 1008.6Z" fill="#ce284c"/><path d="M380.1 1024.4L380.7 1025L380.7 1009.3L380.1 1008.6Z" fill="#ce284c"/><path d="M380.1 1024.4L380.7 1025L363.4 1025L362.6 1024.4Z" fill="#9a1e39"/><path d="M432.3 1040.2L414.9 1040.2L414.9 1024.4L432.3 1024.4Z" fill="#051980"/><path d="M432.3 1040.2L432.8 1040.8L432.8 1025L432.3 1024.4Z" fill="#051980"/><path d="M432.3 1040.2L432.8 1040.8L415.4 1040.8L414.9 1040.2Z" fill="#041360"/><path d="M397.5 1071.8L380 1071.8L380 1056L397.5 1056Z" fill="#051980"/><path d="M397.5 1071.8L398.1 1072.3L398.1 1056.5L397.5 1056Z" fill="#051980"/><path d="M397.5 1071.8L398.1 1072.3L380.7 1072.3L380 1071.8Z" fill="#041360"/><path d="M519.3 1087.5L501.9 1087.5L501.9 1071.7L519.3 1071.7Z" fill="#ecca2d"/><path d="M519.3 1087.5L519.5 1088L502.2 1088L501.9 1087.5Z" fill="#b19822"/><path d="M449.7 1150.8L432.3 1150.8L432.3 1135L449.7 1135Z" fill="#ecca2d"/><path d="M449.7 1150.8L450.1 1151L450.1 1135.3L449.7 1135Z" fill="#ecca2d"/><path d="M449.7 1150.8L450.1 1151L432.8 1151L432.3 1150.8Z" fill="#b19822"/><path d="M606.4 1119.1L589 1119.1L589 1103.3L606.4 1103.3Z" fill="#a63734"/><path d="M606.4 1119.1L606.3 1119.4L588.9 1119.4L589 1119.1Z" fill="#7c2927"/><path d="M327 928.5L309.5 928.6L309.5 912.7L327 912.7Z" fill="#007a10"/><path d="M327 928.5L327.8 929.5L327.8 913.7L327 912.7Z" fill="#007a10"/><path d="M327 928.5L327.8 929.5L310.4 929.6L309.5 928.6Z" fill="#005c0c"/><path d="M274.5 976.2L257 976.2L257 960.3L274.5 960.3Z" fill="#007a10"/><path d="M274.5 976.2L275.6 977L275.6 961.2L274.5 960.3Z" fill="#007a10"/><path d="M274.5 976.2L275.6 977L258.2 977L257 976.2Z" fill="#005c0c"/><path d="M379.4 1007.8L361.9 1007.9L361.9 992L379.4 992Z" fill="#ce284c"/><path d="M379.4 1007.8L380.1 1008.6L380.1 992.8L379.4 992Z" fill="#ce284c"/><path d="M379.4 1007.8L380.1 1008.6L362.6 1008.6L361.9 1007.9Z" fill="#9a1e39"/><path d="M361.9 1023.7L344.4 1023.7L344.4 1007.9L361.9 1007.9Z" fill="#ce284c"/><path d="M361.9 1023.7L362.6 1024.4L362.6 1008.6L361.9 1007.9Z" fill="#ce284c"/><path d="M361.9 1023.7L362.6 1024.4L345.2 1024.4L344.4 1023.7Z" fill="#9a1e39"/><path d="M484.2 960.2L466.8 960.2L466.8 944.3L484.2 944.3Z" fill="#051980"/><path d="M484.2 960.2L484.5 961.1L484.6 945.3L484.2 944.3Z" fill="#051980"/><path d="M484.2 960.2L484.5 961.1L467.1 961.1L466.8 960.2Z" fill="#041360"/><path d="M309.4 1118.9L292 1118.9L292 1103.1L309.4 1103.1Z" fill="#051980"/><path d="M309.4 1118.9L310.4 1119.3L310.4 1103.5L309.4 1103.1Z" fill="#051980"/><path d="M309.4 1118.9L310.4 1119.3L293 1119.3L292 1118.9Z" fill="#041360"/><path d="M431.8 992L414.3 992L414.3 976.1L431.8 976.1Z" fill="#051980"/><path d="M431.8 992L432.3 992.7L432.3 976.9L431.8 976.1Z" fill="#051980"/><path d="M431.8 992L432.3 992.7L414.9 992.7L414.3 992Z" fill="#041360"/><path d="M344.4 1071.3L326.9 1071.3L326.9 1055.5L344.4 1055.5Z" fill="#051980"/><path d="M344.4 1071.3L345.2 1071.8L345.2 1056L344.4 1055.5Z" fill="#051980"/><path d="M344.4 1071.3L345.2 1071.8L327.8 1071.8L326.9 1071.3Z" fill="#041360"/><path d="M396.8 1039.6L379.4 1039.6L379.4 1023.7L396.8 1023.7Z" fill="#051980"/><path d="M396.8 1039.6L397.5 1040.2L397.5 1024.4L396.8 1023.7Z" fill="#051980"/><path d="M396.8 1039.6L397.5 1040.2L380 1040.2L379.4 1039.6Z" fill="#041360"/><path d="M449.3 1055.4L431.8 1055.4L431.8 1039.5L449.3 1039.5Z" fill="#ceb496"/><path d="M449.3 1055.4L449.7 1056L449.7 1040.2L449.3 1039.5Z" fill="#ceb496"/><path d="M449.3 1055.4L449.7 1056L432.3 1056L431.8 1055.4Z" fill="#9a8770"/><path d="M414.3 1087.1L396.8 1087.2L396.8 1071.3L414.3 1071.3Z" fill="#ceb496"/><path d="M414.3 1087.1L414.9 1087.6L414.9 1071.8L414.3 1071.3Z" fill="#ceb496"/><path d="M414.3 1087.1L414.9 1087.6L397.5 1087.6L396.8 1087.2Z" fill="#9a8770"/><path d="M536.6 1102.9L519.1 1103L519.1 1087.1L536.6 1087.1Z" fill="#ec745a"/><path d="M536.6 1102.9L536.7 1103.3L519.3 1103.3L519.1 1103Z" fill="#b15744"/><path d="M466.7 1166.4L449.2 1166.4L449.2 1150.6L466.7 1150.6Z" fill="#ec745a"/><path d="M466.7 1166.4L467.1 1166.6L467.1 1150.8L466.7 1150.6Z" fill="#ec745a"/><path d="M624 1134.6L606.5 1134.6L606.5 1118.8L624 1118.8Z" fill="#882388"/><path d="M624 1134.6L623.8 1134.9L606.4 1134.9L606.5 1134.6Z" fill="#661a66"/><path d="M343.6 943.4L326.1 943.5L326.1 927.5L343.6 927.5Z" fill="#e846e2"/><path d="M343.6 943.4L344.4 944.4L344.4 928.5L343.6 927.5Z" fill="#e846e2"/><path d="M343.6 943.4L344.4 944.4L326.9 944.4L326.1 943.5Z" fill="#ae34aa"/><path d="M291 991.2L273.4 991.2L273.4 975.3L291 975.3Z" fill="#e846e2"/><path d="M291 991.2L292 992L292 976.2L291 975.3Z" fill="#e846e2"/><path d="M291 991.2L292 992L274.5 992L273.4 991.2Z" fill="#ae34aa"/><path d="M396.2 1023L378.7 1023L378.7 1007.1L396.2 1007.1Z" fill="#051980"/><path d="M396.2 1023L396.8 1023.7L396.8 1007.8L396.2 1007.1Z" fill="#051980"/><path d="M396.2 1023L396.8 1023.7L379.4 1023.7L378.7 1023Z" fill="#041360"/><path d="M378.7 1039L361.1 1039L361.1 1023L378.7 1023Z" fill="#051980"/><path d="M378.7 1039L379.4 1039.6L379.4 1023.7L378.7 1023Z" fill="#051980"/><path d="M378.7 1039L379.4 1039.6L361.9 1039.6L361.1 1039Z" fill="#041360"/><path d="M501.4 975.2L483.9 975.2L483.9 959.3L501.5 959.3Z" fill="#ceb496"/><path d="M501.4 975.2L501.7 976.1L501.7 960.2L501.5 959.3Z" fill="#ceb496"/><path d="M501.4 975.2L501.7 976.1L484.2 976.1L483.9 975.2Z" fill="#9a8770"/><path d="M326 1134.5L308.5 1134.5L308.5 1118.6L326 1118.6Z" fill="#ceb496"/><path d="M326 1134.5L326.9 1134.8L326.9 1118.9L326 1118.6Z" fill="#ceb496"/><path d="M326 1134.5L326.9 1134.8L309.4 1134.8L308.5 1134.5Z" fill="#9a8770"/><path d="M448.8 1007.1L431.3 1007.1L431.3 991.2L448.8 991.2Z" fill="#ceb496"/><path d="M448.8 1007.1L449.3 1007.8L449.3 991.9L448.8 991.2Z" fill="#ceb496"/><path d="M448.8 1007.1L449.3 1007.8L431.8 1007.8L431.3 1007.1Z" fill="#9a8770"/><path d="M361.1 1086.7L343.6 1086.7L343.6 1070.8L361.1 1070.8Z" fill="#ceb496"/><path d="M361.1 1086.7L361.9 1087.2L361.9 1071.3L361.1 1070.8Z" fill="#ceb496"/><path d="M361.1 1086.7L361.9 1087.2L344.4 1087.2L343.6 1086.7Z" fill="#9a8770"/><path d="M413.7 1054.9L396.2 1054.9L396.2 1039L413.7 1038.9Z" fill="#ceb496"/><path d="M413.7 1054.9L414.3 1055.4L414.3 1039.6L413.7 1038.9Z" fill="#ceb496"/><path d="M413.7 1054.9L414.3 1055.4L396.8 1055.4L396.2 1054.9Z" fill="#9a8770"/><path d="M466.4 1070.8L448.8 1070.8L448.8 1054.8L466.4 1054.8Z" fill="#7a7a7a"/><path d="M466.4 1070.8L466.7 1071.3L466.7 1055.4L466.4 1054.8Z" fill="#7a7a7a"/><path d="M466.4 1070.8L466.7 1071.3L449.3 1071.3L448.8 1070.8Z" fill="#5c5c5c"/><path d="M431.3 1102.6L413.7 1102.6L413.7 1086.7L431.3 1086.7Z" fill="#7a7a7a"/><path d="M431.3 1102.6L431.8 1103L431.8 1087.1L431.3 1086.7Z" fill="#7a7a7a"/><path d="M431.3 1102.6L431.8 1103L414.3 1103L413.7 1102.6Z" fill="#5c5c5c"/><path d="M325.2 878.6L307.6 878.6L307.6 862.6L325.2 862.6Z" fill="#007a10"/><path d="M325.2 878.6L326.1 879.8L326.1 863.8L325.2 862.6Z" fill="#007a10"/><path d="M325.2 878.6L326.1 879.8L308.5 879.8L307.6 878.6Z" fill="#005c0c"/><path d="M219.6 974.5L202 974.5L202 958.5L219.6 958.5Z" fill="#007a10"/><path d="M219.6 974.5L220.8 975.4L220.8 959.4L219.6 958.5Z" fill="#007a10"/><path d="M219.6 974.5L220.8 975.4L203.3 975.4L202 974.5Z" fill="#005c0c"/><path d="M554 1118.5L536.5 1118.5L536.5 1102.6L554 1102.6Z" fill="#a63734"/><path d="M554 1118.5L554.1 1118.8L536.6 1118.8L536.5 1118.5Z" fill="#7c2927"/><path d="M483.9 1182.2L466.3 1182.2L466.3 1166.3L483.9 1166.3Z" fill="#a63734"/><path d="M483.9 1182.2L484.2 1182.3L484.2 1166.4L483.9 1166.3Z" fill="#a63734"/><path d="M641.7 1150.3L624.1 1150.3L624.2 1134.4L641.7 1134.3Z" fill="#888888"/><path d="M641.7 1150.3L641.4 1150.5L624 1150.5L624.1 1150.3Z" fill="#666666"/><path d="M360.4 958.5L342.8 958.5L342.8 942.5L360.4 942.5Z" fill="#c88850"/><path d="M360.4 958.5L361.1 959.4L361.1 943.4L360.4 942.5Z" fill="#c88850"/><path d="M360.4 958.5L361.1 959.4L343.6 959.4L342.8 958.5Z" fill="#96663c"/><path d="M307.6 1006.4L290 1006.4L290 990.4L307.6 990.4Z" fill="#c88850"/><path d="M307.6 1006.4L308.5 1007.2L308.5 991.2L307.6 990.4Z" fill="#c88850"/><path d="M307.6 1006.4L308.5 1007.2L291 1007.2L290 1006.4Z" fill="#96663c"/><path d="M413.2 1038.3L395.6 1038.3L395.6 1022.4L413.2 1022.3Z" fill="#ceb496"/><path d="M413.2 1038.3L413.7 1038.9L413.7 1023L413.2 1022.3Z" fill="#ceb496"/><path d="M413.2 1038.3L413.7 1038.9L396.2 1039L395.6 1038.3Z" fill="#9a8770"/><path d="M395.6 1054.3L378 1054.3L378 1038.3L395.6 1038.3Z" fill="#ceb496"/><path d="M395.6 1054.3L396.2 1054.9L396.2 1039L395.6 1038.3Z" fill="#ceb496"/><path d="M395.6 1054.3L396.2 1054.9L378.7 1054.9L378 1054.3Z" fill="#9a8770"/><path d="M518.8 990.3L501.2 990.3L501.2 974.4L518.8 974.4Z" fill="#7a7a7a"/><path d="M518.8 990.3L519 991.1L519 975.2L518.8 974.4Z" fill="#7a7a7a"/><path d="M518.8 990.3L519 991.1L501.4 991.1L501.2 990.3Z" fill="#5c5c5c"/><path d="M342.8 1150.2L325.2 1150.2L325.2 1134.2L342.8 1134.2Z" fill="#7a7a7a"/><path d="M342.8 1150.2L343.6 1150.4L343.6 1134.5L342.8 1134.2Z" fill="#7a7a7a"/><path d="M342.8 1150.2L343.6 1150.4L326 1150.4L325.2 1150.2Z" fill="#5c5c5c"/><path d="M466 1022.3L448.4 1022.3L448.4 1006.4L466 1006.3Z" fill="#7a7a7a"/><path d="M466 1022.3L466.4 1023L466.4 1007.1L466 1006.3Z" fill="#7a7a7a"/><path d="M466 1022.3L466.4 1023L448.8 1023L448.4 1022.3Z" fill="#5c5c5c"/><path d="M378 1102.3L360.4 1102.3L360.4 1086.3L378 1086.3Z" fill="#7a7a7a"/><path d="M378 1102.3L378.7 1102.6L378.7 1086.7L378 1086.3Z" fill="#7a7a7a"/><path d="M378 1102.3L378.7 1102.6L361.1 1102.7L360.4 1102.3Z" fill="#5c5c5c"/><path d="M430.8 1070.3L413.2 1070.3L413.2 1054.3L430.8 1054.3Z" fill="#7a7a7a"/><path d="M430.8 1070.3L431.3 1070.8L431.3 1054.9L430.8 1054.3Z" fill="#7a7a7a"/><path d="M430.8 1070.3L431.3 1070.8L413.7 1070.8L413.2 1070.3Z" fill="#5c5c5c"/><path d="M483.6 1086.2L466 1086.2L466 1070.3L483.6 1070.2Z" fill="#ecca2d"/><path d="M483.6 1086.2L483.9 1086.7L483.9 1070.7L483.6 1070.2Z" fill="#ecca2d"/><path d="M483.6 1086.2L483.9 1086.7L466.3 1086.7L466 1086.2Z" fill="#b19822"/><path d="M448.4 1118.2L430.8 1118.2L430.8 1102.2L448.4 1102.2Z" fill="#ecca2d"/><path d="M448.4 1118.2L448.8 1118.5L448.8 1102.6L448.4 1102.2Z" fill="#ecca2d"/><path d="M448.4 1118.2L448.8 1118.5L431.3 1118.5L430.8 1118.2Z" fill="#b19822"/><path d="M342 893.4L324.3 893.4L324.3 877.4L342 877.4Z" fill="#e846e2"/><path d="M342 893.4L342.8 894.5L342.8 878.6L342 877.4Z" fill="#e846e2"/><path d="M342 893.4L342.8 894.5L325.2 894.5L324.3 893.4Z" fill="#ae34aa"/><path d="M236 989.7L218.3 989.7L218.3 973.6L236 973.6Z" fill="#e846e2"/><path d="M236 989.7L237.2 990.5L237.2 974.5L236 973.6Z" fill="#e846e2"/><path d="M236 989.7L237.2 990.5L219.6 990.5L218.3 989.7Z" fill="#ae34aa"/><path d="M659.5 1166L641.9 1166L641.9 1150L659.5 1150Z" fill="#ecbac4"/><path d="M641.9 1166L641.7 1166.2L641.7 1150.3L641.9 1150Z" fill="#8e7076"/><path d="M571.5 1134.1L553.9 1134.1L554 1118.1L571.5 1118.1Z" fill="#882388"/><path d="M571.5 1134.1L571.5 1134.4L554 1134.4L553.9 1134.1Z" fill="#661a66"/><path d="M501.1 1198L483.5 1198L483.5 1182.1L501.1 1182.1Z" fill="#882388"/><path d="M501.1 1198L501.4 1198.1L501.4 1182.2L501.1 1182.1Z" fill="#882388"/><path d="M377.3 973.6L359.6 973.6L359.6 957.5L377.3 957.5Z" fill="#ce284c"/><path d="M377.3 973.6L378 974.4L378 958.4L377.3 957.5Z" fill="#ce284c"/><path d="M377.3 973.6L378 974.4L360.4 974.4L359.6 973.6Z" fill="#9a1e39"/><path d="M324.3 1021.7L306.6 1021.7L306.6 1005.7L324.3 1005.7Z" fill="#ce284c"/><path d="M324.3 1021.7L325.2 1022.4L325.2 1006.4L324.3 1005.7Z" fill="#ce284c"/><path d="M324.3 1021.7L325.2 1022.4L307.6 1022.4L306.6 1021.7Z" fill="#9a1e39"/><path d="M536.3 1005.6L518.6 1005.6L518.6 989.5L536.3 989.5Z" fill="#ecca2d"/><path d="M536.3 1005.6L536.4 1006.3L518.8 1006.3L518.6 1005.6Z" fill="#b19822"/><path d="M430.3 1053.7L412.6 1053.7L412.6 1037.7L430.3 1037.7Z" fill="#7a7a7a"/><path d="M430.3 1053.7L430.8 1054.3L430.8 1038.3L430.3 1037.7Z" fill="#7a7a7a"/><path d="M430.3 1053.7L430.8 1054.3L413.2 1054.3L412.6 1053.7Z" fill="#5c5c5c"/><path d="M412.6 1069.8L394.9 1069.8L394.9 1053.7L412.6 1053.7Z" fill="#7a7a7a"/><path d="M412.6 1069.8L413.2 1070.3L413.2 1054.3L412.6 1053.7Z" fill="#7a7a7a"/><path d="M412.6 1069.8L413.2 1070.3L395.6 1070.3L394.9 1069.8Z" fill="#5c5c5c"/><path d="M359.6 1166L341.9 1166L341.9 1150L359.6 1150Z" fill="#ecca2d"/><path d="M359.6 1166L360.3 1166.2L360.4 1150.2L359.6 1150Z" fill="#ecca2d"/><path d="M483.3 1037.7L465.6 1037.7L465.6 1021.6L483.3 1021.6Z" fill="#ecca2d"/><path d="M483.3 1037.7L483.6 1038.3L483.6 1022.3L483.3 1021.6Z" fill="#ecca2d"/><path d="M483.3 1037.7L483.6 1038.3L466 1038.3L465.6 1037.7Z" fill="#b19822"/><path d="M394.9 1117.9L377.3 1117.9L377.3 1101.9L394.9 1101.9Z" fill="#ecca2d"/><path d="M394.9 1117.9L395.6 1118.2L395.6 1102.2L394.9 1101.9Z" fill="#ecca2d"/><path d="M394.9 1117.9L395.6 1118.2L378 1118.2L377.3 1117.9Z" fill="#b19822"/><path d="M447.9 1085.8L430.3 1085.8L430.3 1069.8L447.9 1069.8Z" fill="#ecca2d"/><path d="M447.9 1085.8L448.4 1086.2L448.4 1070.3L447.9 1069.8Z" fill="#ecca2d"/><path d="M447.9 1085.8L448.4 1086.2L430.8 1086.2L430.3 1085.8Z" fill="#b19822"/><path d="M500.9 1101.8L483.2 1101.8L483.2 1085.8L500.9 1085.8Z" fill="#ec745a"/><path d="M500.9 1101.8L501.2 1102.2L501.2 1086.2L500.9 1085.8Z" fill="#ec745a"/><path d="M500.9 1101.8L501.2 1102.2L483.6 1102.2L483.2 1101.8Z" fill="#b15744"/><path d="M465.6 1133.9L447.9 1133.9L447.9 1117.9L465.6 1117.8Z" fill="#ec745a"/><path d="M465.6 1133.9L466 1134.2L466 1118.2L465.6 1117.8Z" fill="#ec745a"/><path d="M465.6 1133.9L466 1134.2L448.4 1134.2L447.9 1133.9Z" fill="#b15744"/><path d="M677.5 1181.9L659.8 1181.9L659.8 1165.8L677.5 1165.8Z" fill="#0f32de"/><path d="M659.8 1181.9L659.5 1182L659.5 1166L659.8 1165.8Z" fill="#091e85"/><path d="M589.2 1149.8L571.5 1149.9L571.5 1133.8L589.2 1133.8Z" fill="#888888"/><path d="M589.2 1149.8L589.1 1150.1L571.5 1150.1L571.5 1149.9Z" fill="#666666"/><path d="M518.5 1214L500.9 1214L500.9 1198L518.5 1198Z" fill="#888888"/><path d="M518.5 1214L518.7 1214L518.7 1198L518.5 1198Z" fill="#888888"/><path d="M358.9 908.3L341.1 908.3L341.1 892.2L358.9 892.2Z" fill="#c88850"/><path d="M358.9 908.3L359.6 909.4L359.6 893.4L358.9 892.2Z" fill="#c88850"/><path d="M358.9 908.3L359.6 909.4L342 909.4L341.1 908.3Z" fill="#96663c"/><path d="M252.5 1005L234.7 1005L234.7 988.9L252.5 988.9Z" fill="#c88850"/><path d="M252.5 1005L253.6 1005.7L253.6 989.7L252.5 988.9Z" fill="#c88850"/><path d="M252.5 1005L253.6 1005.7L236 1005.7L234.7 1005Z" fill="#96663c"/><path d="M394.3 988.8L376.6 988.8L376.6 972.7L394.3 972.7Z" fill="#051980"/><path d="M394.3 988.8L394.9 989.6L394.9 973.6L394.3 972.7Z" fill="#051980"/><path d="M394.3 988.8L394.9 989.6L377.3 989.6L376.6 988.8Z" fill="#041360"/><path d="M341.1 1037.1L323.4 1037.1L323.4 1021L341.1 1021Z" fill="#051980"/><path d="M341.1 1037.1L341.9 1037.7L341.9 1021.7L341.1 1021Z" fill="#051980"/><path d="M341.1 1037.1L341.9 1037.7L324.3 1037.7L323.4 1037.1Z" fill="#041360"/><path d="M553.8 1020.9L536.1 1020.9L536.1 1004.8L553.9 1004.8Z" fill="#ec745a"/><path d="M553.8 1020.9L553.9 1021.6L536.3 1021.6L536.1 1020.9Z" fill="#b15744"/><path d="M447.5 1069.2L429.7 1069.3L429.7 1053.2L447.5 1053.1Z" fill="#ecca2d"/><path d="M447.5 1069.2L447.9 1069.8L447.9 1053.7L447.5 1053.1Z" fill="#ecca2d"/><path d="M447.5 1069.2L447.9 1069.8L430.3 1069.8L429.7 1069.3Z" fill="#b19822"/><path d="M429.7 1085.3L412 1085.4L412 1069.3L429.7 1069.3Z" fill="#ecca2d"/><path d="M429.7 1085.3L430.3 1085.8L430.3 1069.8L429.7 1069.3Z" fill="#ecca2d"/><path d="M429.7 1085.3L430.3 1085.8L412.6 1085.8L412 1085.4Z" fill="#b19822"/><path d="M376.5 1181.9L358.8 1181.9L358.8 1165.8L376.5 1165.8Z" fill="#ec745a"/><path d="M376.5 1181.9L377.2 1182L377.2 1166L376.5 1165.8Z" fill="#ec745a"/><path d="M500.7 1053.1L482.9 1053.1L482.9 1037L500.7 1037Z" fill="#ec745a"/><path d="M500.7 1053.1L500.9 1053.7L500.9 1037.7L500.7 1037Z" fill="#ec745a"/><path d="M500.7 1053.1L500.9 1053.7L483.3 1053.7L482.9 1053.1Z" fill="#b15744"/><path d="M412 1133.6L394.3 1133.6L394.3 1117.5L412 1117.5Z" fill="#ec745a"/><path d="M412 1133.6L412.6 1133.9L412.6 1117.9L412 1117.5Z" fill="#ec745a"/><path d="M412 1133.6L412.6 1133.9L394.9 1133.9L394.3 1133.6Z" fill="#b15744"/><path d="M465.2 1101.4L447.5 1101.4L447.5 1085.3L465.2 1085.3Z" fill="#ec745a"/><path d="M465.2 1101.4L465.6 1101.8L465.6 1085.8L465.2 1085.3Z" fill="#ec745a"/><path d="M465.2 1101.4L465.6 1101.8L447.9 1101.8L447.5 1101.4Z" fill="#b15744"/><path d="M518.4 1117.5L500.6 1117.5L500.6 1101.4L518.4 1101.4Z" fill="#a63734"/><path d="M518.4 1117.5L518.6 1117.8L518.6 1101.8L518.4 1101.4Z" fill="#a63734"/><path d="M518.4 1117.5L518.6 1117.8L500.9 1117.8L500.6 1117.5Z" fill="#7c2927"/><path d="M482.9 1149.7L465.2 1149.7L465.2 1133.6L482.9 1133.6Z" fill="#a63734"/><path d="M482.9 1149.7L483.2 1149.9L483.2 1133.9L482.9 1133.6Z" fill="#a63734"/><path d="M482.9 1149.7L483.2 1149.9L465.6 1149.9L465.2 1149.7Z" fill="#7c2927"/><path d="M695.6 1197.8L677.9 1197.8L677.9 1181.8L695.6 1181.7Z" fill="#eca528"/><path d="M677.9 1197.8L677.5 1197.9L677.5 1181.9L677.9 1181.8Z" fill="#8e6318"/><path d="M607 1165.7L589.3 1165.7L589.3 1149.6L607 1149.6Z" fill="#ecbac4"/><path d="M536.1 1230.1L518.3 1230.1L518.3 1214L536.1 1214Z" fill="#ecbac4"/><path d="M375.9 923.4L358.1 923.4L358.1 907.2L375.9 907.2Z" fill="#ce284c"/><path d="M375.9 923.4L376.6 924.4L376.6 908.3L375.9 907.2Z" fill="#ce284c"/><path d="M375.9 923.4L376.6 924.4L358.9 924.4L358.1 923.4Z" fill="#9a1e39"/><path d="M269.1 1020.4L251.3 1020.4L251.3 1004.2L269.1 1004.2Z" fill="#ce284c"/><path d="M269.1 1020.4L270.2 1021L270.2 1005L269.1 1004.2Z" fill="#ce284c"/><path d="M269.1 1020.4L270.2 1021L252.5 1021.1L251.3 1020.4Z" fill="#9a1e39"/><path d="M411.4 1004.1L393.7 1004.1L393.7 988L411.4 988Z" fill="#ceb496"/><path d="M411.4 1004.1L412 1004.9L412 988.8L411.4 988Z" fill="#ceb496"/><path d="M411.4 1004.1L412 1004.9L394.3 1004.9L393.7 1004.1Z" fill="#9a8770"/><path d="M358.1 1052.6L340.3 1052.6L340.3 1036.5L358.1 1036.5Z" fill="#ceb496"/><path d="M358.1 1052.6L358.8 1053.2L358.8 1037.1L358.1 1036.5Z" fill="#ceb496"/><path d="M358.1 1052.6L358.8 1053.2L341.1 1053.2L340.3 1052.6Z" fill="#9a8770"/><path d="M571.6 1036.4L553.8 1036.4L553.8 1020.2L571.6 1020.2Z" fill="#a63734"/><path d="M571.6 1036.4L571.6 1037L553.8 1037L553.8 1036.4Z" fill="#7c2927"/><path d="M393.6 1198L375.8 1198L375.8 1181.8L393.6 1181.8Z" fill="#a63734"/><path d="M393.6 1198L394.3 1198L394.3 1181.9L393.6 1181.8Z" fill="#a63734"/><path d="M464.8 1084.9L447 1084.9L447 1068.7L464.8 1068.7Z" fill="#ec745a"/><path d="M464.8 1084.9L465.2 1085.3L465.2 1069.2L464.8 1068.7Z" fill="#ec745a"/><path d="M464.8 1084.9L465.2 1085.3L447.5 1085.3L447 1084.9Z" fill="#b15744"/><path d="M447 1101L429.2 1101L429.2 1084.9L447 1084.9Z" fill="#ec745a"/><path d="M447 1101L447.5 1101.4L447.5 1085.3L447 1084.9Z" fill="#ec745a"/><path d="M447 1101L447.5 1101.4L429.7 1101.4L429.2 1101Z" fill="#b15744"/><path d="M518.2 1068.7L500.4 1068.7L500.4 1052.5L518.2 1052.5Z" fill="#a63734"/><path d="M518.2 1068.7L518.4 1069.2L518.4 1053.1L518.2 1052.5Z" fill="#a63734"/><path d="M518.2 1068.7L518.4 1069.2L500.7 1069.2L500.4 1068.7Z" fill="#7c2927"/><path d="M429.2 1149.5L411.4 1149.5L411.4 1133.3L429.2 1133.3Z" fill="#a63734"/><path d="M429.2 1149.5L429.7 1149.7L429.7 1133.6L429.2 1133.3Z" fill="#a63734"/><path d="M429.2 1149.5L429.7 1149.7L412 1149.7L411.4 1149.5Z" fill="#7c2927"/><path d="M482.6 1117.2L464.8 1117.2L464.8 1101L482.6 1101Z" fill="#a63734"/><path d="M482.6 1117.2L482.9 1117.5L482.9 1101.4L482.6 1101Z" fill="#a63734"/><path d="M482.6 1117.2L482.9 1117.5L465.2 1117.5L464.8 1117.2Z" fill="#7c2927"/><path d="M713.8 1213.9L696 1213.9L696 1197.8L713.8 1197.8Z" fill="#000000"/><path d="M696 1213.9L695.6 1213.9L695.6 1197.8L696 1197.8Z" fill="#000000"/><path d="M536 1133.3L518.2 1133.3L518.2 1117.1L536 1117.1Z" fill="#882388"/><path d="M536 1133.3L536.1 1133.6L518.4 1133.6L518.2 1133.3Z" fill="#661a66"/><path d="M500.4 1165.6L482.6 1165.6L482.6 1149.5L500.4 1149.4Z" fill="#882388"/><path d="M500.4 1165.6L500.6 1165.8L500.6 1149.7L500.4 1149.4Z" fill="#882388"/><path d="M624.9 1181.7L607.1 1181.7L607.1 1165.5L624.9 1165.5Z" fill="#0f32de"/><path d="M553.7 1246.3L535.9 1246.3L535.9 1230.2L553.7 1230.2Z" fill="#0f32de"/><path d="M393 938.5L375.2 938.5L375.2 922.3L393 922.3Z" fill="#051980"/><path d="M393 938.5L393.7 939.5L393.7 923.4L393 922.3Z" fill="#051980"/><path d="M393 938.5L393.7 939.5L375.9 939.5L375.2 938.5Z" fill="#041360"/><path d="M285.8 1035.9L268 1035.9L268 1019.7L285.8 1019.7Z" fill="#051980"/><path d="M285.8 1035.9L286.9 1036.5L286.9 1020.4L285.8 1019.7Z" fill="#051980"/><path d="M285.8 1035.9L286.9 1036.5L269.1 1036.5L268 1035.9Z" fill="#041360"/><path d="M428.7 1019.6L410.9 1019.6L410.9 1003.4L428.7 1003.4Z" fill="#7a7a7a"/><path d="M428.7 1019.6L429.2 1020.3L429.2 1004.1L428.7 1003.4Z" fill="#7a7a7a"/><path d="M428.7 1019.6L429.2 1020.3L411.4 1020.3L410.9 1019.6Z" fill="#5c5c5c"/><path d="M375.1 1068.2L357.3 1068.3L357.3 1052L375.1 1052Z" fill="#7a7a7a"/><path d="M375.1 1068.2L375.8 1068.8L375.9 1052.6L375.1 1052Z" fill="#7a7a7a"/><path d="M375.1 1068.2L375.8 1068.8L358.1 1068.8L357.3 1068.3Z" fill="#5c5c5c"/><path d="M589.4 1051.9L571.6 1051.9L571.6 1035.7L589.4 1035.7Z" fill="#882388"/><path d="M589.4 1051.9L589.3 1052.5L571.6 1052.5L571.6 1051.9Z" fill="#661a66"/><path d="M410.8 1214.1L393 1214.1L393 1197.9L410.8 1197.9Z" fill="#882388"/><path d="M410.8 1214.1L411.4 1214.1L411.4 1197.9L410.8 1197.9Z" fill="#882388"/><path d="M482.3 1100.6L464.4 1100.6L464.4 1084.4L482.3 1084.4Z" fill="#a63734"/><path d="M482.3 1100.6L482.6 1101L482.6 1084.9L482.3 1084.4Z" fill="#a63734"/><path d="M482.3 1100.6L482.6 1101L464.8 1101L464.4 1100.6Z" fill="#7c2927"/><path d="M464.4 1116.8L446.5 1116.8L446.6 1100.6L464.4 1100.6Z" fill="#a63734"/><path d="M464.4 1116.8L464.8 1117.2L464.8 1101L464.4 1100.6Z" fill="#a63734"/><path d="M464.4 1116.8L464.8 1117.2L447 1117.2L446.5 1116.8Z" fill="#7c2927"/><path d="M535.8 1084.4L518 1084.4L518 1068.2L535.8 1068.2Z" fill="#882388"/><path d="M535.8 1084.4L536 1084.8L518.2 1084.8L518 1084.4Z" fill="#661a66"/><path d="M732.2 1230.1L714.3 1230.1L714.3 1213.9L732.2 1213.9Z" fill="#ece432"/><path d="M714.3 1230.1L713.8 1230.1L713.8 1213.9L714.3 1213.9Z" fill="#8e891e"/><path d="M446.5 1165.5L428.7 1165.5L428.7 1149.3L446.5 1149.3Z" fill="#882388"/><path d="M446.5 1165.5L447 1165.6L447 1149.5L446.5 1149.3Z" fill="#882388"/><path d="M500.1 1133L482.3 1133L482.3 1116.8L500.1 1116.8Z" fill="#882388"/><path d="M500.1 1133L500.4 1133.3L500.4 1117.1L500.1 1116.8Z" fill="#882388"/><path d="M500.1 1133L500.4 1133.3L482.6 1133.3L482.3 1133Z" fill="#661a66"/><path d="M553.7 1149.2L535.8 1149.2L535.8 1133L553.7 1133Z" fill="#888888"/><path d="M553.7 1149.2L553.7 1149.4L535.9 1149.4L535.8 1149.2Z" fill="#666666"/><path d="M518 1181.6L500.1 1181.6L500.1 1165.4L518 1165.4Z" fill="#888888"/><path d="M518 1181.6L518.1 1181.7L518.2 1165.6L518 1165.4Z" fill="#888888"/><path d="M642.9 1197.8L625.1 1197.8L625.1 1181.6L642.9 1181.6Z" fill="#eca528"/><path d="M625.1 1197.8L624.9 1197.8L624.9 1181.7L625.1 1181.6Z" fill="#8e6318"/><path d="M571.5 1262.6L553.6 1262.6L553.6 1246.4L571.5 1246.4Z" fill="#eca528"/><path d="M410.3 953.8L392.4 953.8L392.4 937.5L410.3 937.5Z" fill="#ceb496"/><path d="M410.3 953.8L410.9 954.7L410.9 938.5L410.3 937.5Z" fill="#ceb496"/><path d="M410.3 953.8L410.9 954.7L393 954.8L392.4 953.8Z" fill="#9a8770"/><path d="M302.7 1051.5L284.8 1051.5L284.8 1035.2L302.7 1035.2Z" fill="#ceb496"/><path d="M302.7 1051.5L303.7 1052.1L303.7 1035.9L302.7 1035.2Z" fill="#ceb496"/><path d="M302.7 1051.5L303.7 1052.1L285.8 1052.1L284.8 1051.5Z" fill="#9a8770"/><path d="M446.1 1035.1L428.2 1035.2L428.2 1018.9L446.1 1018.9Z" fill="#ecca2d"/><path d="M446.1 1035.1L446.6 1035.8L446.6 1019.6L446.1 1018.9Z" fill="#ecca2d"/><path d="M446.1 1035.1L446.6 1035.8L428.7 1035.8L428.2 1035.2Z" fill="#b19822"/><path d="M392.3 1084L374.4 1084L374.4 1067.7L392.3 1067.7Z" fill="#ecca2d"/><path d="M392.3 1084L393 1084.4L393 1068.2L392.3 1067.7Z" fill="#ecca2d"/><path d="M392.3 1084L393 1084.4L375.1 1084.5L374.4 1084Z" fill="#b19822"/><path d="M750.7 1246.5L732.7 1246.5L732.8 1230.2L750.7 1230.2Z" fill="#e82618"/><path d="M732.7 1246.5L732.2 1246.3L732.2 1230.1L732.8 1230.2Z" fill="#8b170e"/><path d="M607.4 1067.6L589.5 1067.6L589.5 1051.3L607.4 1051.3Z" fill="#888888"/><path d="M607.4 1067.6L607.3 1068.1L589.4 1068.1L589.5 1067.6Z" fill="#666666"/><path d="M428.1 1230.4L410.2 1230.4L410.2 1214.1L428.1 1214.1Z" fill="#888888"/><path d="M428.1 1230.4L428.7 1230.3L428.7 1214.1L428.1 1214.1Z" fill="#888888"/><path d="M499.8 1116.5L481.9 1116.5L481.9 1100.2L499.9 1100.2Z" fill="#882388"/><path d="M499.8 1116.5L500.1 1116.8L500.1 1100.6L499.9 1100.2Z" fill="#882388"/><path d="M499.8 1116.5L500.1 1116.8L482.3 1116.8L481.9 1116.5Z" fill="#661a66"/><path d="M481.9 1132.7L464 1132.7L464 1116.5L481.9 1116.5Z" fill="#882388"/><path d="M481.9 1132.7L482.3 1133L482.3 1116.8L481.9 1116.5Z" fill="#882388"/><path d="M481.9 1132.7L482.3 1133L464.4 1133L464 1132.7Z" fill="#661a66"/><path d="M553.6 1100.2L535.7 1100.2L535.7 1083.9L553.6 1083.9Z" fill="#888888"/><path d="M553.6 1100.2L553.7 1100.6L535.8 1100.6L535.7 1100.2Z" fill="#666666"/><path d="M464 1181.5L446.1 1181.6L446.1 1165.3L464 1165.3Z" fill="#888888"/><path d="M464 1181.5L464.4 1181.7L464.4 1165.5L464 1165.3Z" fill="#888888"/><path d="M517.8 1149L499.8 1149L499.8 1132.7L517.8 1132.7Z" fill="#888888"/><path d="M517.8 1149L518 1149.2L518 1133L517.8 1132.7Z" fill="#888888"/><path d="M517.8 1149L518 1149.2L500.1 1149.2L499.8 1149Z" fill="#666666"/><path d="M661.1 1214L643.2 1214L643.2 1197.7L661.1 1197.7Z" fill="#000000"/><path d="M643.2 1214L642.9 1214L642.9 1197.8L643.2 1197.7Z" fill="#000000"/><path d="M589.4 1279.1L571.5 1279.1L571.5 1262.8L589.4 1262.8Z" fill="#000000"/><path d="M589.4 1262.8L589.3 1262.6L571.5 1262.6L571.5 1262.8Z" fill="#000000"/><path d="M571.5 1165.2L553.6 1165.2L553.6 1149L571.5 1149Z" fill="#ecbac4"/><path d="M571.5 1165.2L571.5 1165.4L553.7 1165.4L553.6 1165.2Z" fill="#b18c93"/><path d="M535.7 1197.8L517.7 1197.8L517.8 1181.5L535.7 1181.5Z" fill="#ecbac4"/><path d="M427.7 969.2L409.7 969.2L409.7 952.9L427.7 952.9Z" fill="#7a7a7a"/><path d="M427.7 969.2L428.2 970.1L428.2 953.8L427.7 952.9Z" fill="#7a7a7a"/><path d="M427.7 969.2L428.2 970.1L410.3 970.1L409.7 969.2Z" fill="#5c5c5c"/><path d="M319.7 1067.2L301.7 1067.2L301.7 1050.9L319.7 1050.9Z" fill="#7a7a7a"/><path d="M319.7 1067.2L320.6 1067.7L320.6 1051.5L319.7 1050.9Z" fill="#7a7a7a"/><path d="M319.7 1067.2L320.6 1067.7L302.7 1067.8L301.7 1067.2Z" fill="#5c5c5c"/><path d="M463.6 1050.8L445.6 1050.8L445.6 1034.5L463.6 1034.5Z" fill="#ec745a"/><path d="M463.6 1050.8L464 1051.4L464 1035.1L463.6 1034.5Z" fill="#ec745a"/><path d="M463.6 1050.8L464 1051.4L446.1 1051.4L445.6 1050.8Z" fill="#b15744"/><path d="M409.7 1099.8L391.7 1099.8L391.7 1083.5L409.7 1083.5Z" fill="#ec745a"/><path d="M409.7 1099.8L410.2 1100.2L410.3 1084L409.7 1083.5Z" fill="#ec745a"/><path d="M409.7 1099.8L410.2 1100.2L392.3 1100.2L391.7 1099.8Z" fill="#b15744"/><path d="M625.5 1083.4L607.5 1083.4L607.5 1067.1L625.5 1067.1Z" fill="#ecbac4"/><path d="M625.5 1083.4L625.3 1083.9L607.4 1083.9L607.5 1083.4Z" fill="#b18c93"/><path d="M445.6 1246.8L427.6 1246.8L427.6 1230.4L445.6 1230.4Z" fill="#ecbac4"/><path d="M445.6 1246.8L446.1 1246.6L446.1 1230.4L445.6 1230.4Z" fill="#ecbac4"/><path d="M517.6 1132.4L499.6 1132.4L499.6 1116.1L517.6 1116.1Z" fill="#888888"/><path d="M517.6 1132.4L517.8 1132.7L517.8 1116.5L517.6 1116.1Z" fill="#888888"/><path d="M517.6 1132.4L517.8 1132.7L499.8 1132.7L499.6 1132.4Z" fill="#666666"/><path d="M571.5 1116.1L553.5 1116.1L553.5 1099.8L571.5 1099.7Z" fill="#ecbac4"/><path d="M571.5 1116.1L571.5 1116.4L553.6 1116.4L553.5 1116.1Z" fill="#b18c93"/><path d="M499.6 1148.8L481.6 1148.8L481.6 1132.4L499.6 1132.4Z" fill="#888888"/><path d="M499.6 1148.8L499.8 1149L499.8 1132.7L499.6 1132.4Z" fill="#888888"/><path d="M499.6 1148.8L499.8 1149L481.9 1149L481.6 1148.8Z" fill="#666666"/><path d="M481.6 1197.8L463.6 1197.8L463.6 1181.4L481.6 1181.4Z" fill="#ecbac4"/><path d="M481.6 1197.8L481.9 1197.8L481.9 1181.5L481.6 1181.4Z" fill="#ecbac4"/><path d="M679.4 1230.3L661.4 1230.3L661.4 1214L679.4 1214Z" fill="#ece432"/><path d="M661.4 1230.3L661.1 1230.2L661.1 1214L661.4 1214Z" fill="#8e891e"/><path d="M607.4 1295.6L589.5 1295.6L589.5 1279.3L607.4 1279.3Z" fill="#ece432"/><path d="M607.4 1279.3L607.3 1279.1L589.4 1279.1L589.5 1279.3Z" fill="#d2cb2c"/><path d="M535.5 1165.1L517.6 1165.1L517.6 1148.8L535.5 1148.7Z" fill="#ecbac4"/><path d="M535.5 1165.1L535.7 1165.2L517.8 1165.3L517.6 1165.1Z" fill="#b18c93"/><path d="M589.5 1181.4L571.5 1181.4L571.5 1165.1L589.5 1165Z" fill="#0f32de"/><path d="M553.5 1214L535.5 1214.1L535.5 1197.7L553.5 1197.7Z" fill="#0f32de"/><path d="M445.2 984.7L427.1 984.7L427.1 968.3L445.2 968.3Z" fill="#ecca2d"/><path d="M445.2 984.7L445.7 985.5L445.7 969.2L445.2 968.3Z" fill="#ecca2d"/><path d="M445.2 984.7L445.7 985.5L427.7 985.5L427.1 984.7Z" fill="#b19822"/><path d="M336.8 1083.1L318.8 1083.1L318.8 1066.7L336.8 1066.7Z" fill="#ecca2d"/><path d="M336.8 1083.1L337.7 1083.5L337.7 1067.2L336.8 1066.7Z" fill="#ecca2d"/><path d="M336.8 1083.1L337.7 1083.5L319.7 1083.5L318.8 1083.1Z" fill="#b19822"/><path d="M481.3 1066.6L463.2 1066.6L463.2 1050.2L481.3 1050.2Z" fill="#a63734"/><path d="M481.3 1066.6L481.6 1067.1L481.6 1050.8L481.3 1050.2Z" fill="#a63734"/><path d="M481.3 1066.6L481.6 1067.1L463.6 1067.1L463.2 1066.6Z" fill="#7c2927"/><path d="M427.1 1115.8L409 1115.8L409.1 1099.4L427.1 1099.4Z" fill="#a63734"/><path d="M427.1 1115.8L427.6 1116.2L427.6 1099.8L427.1 1099.4Z" fill="#a63734"/><path d="M427.1 1115.8L427.6 1116.2L409.6 1116.2L409 1115.8Z" fill="#7c2927"/><path d="M643.7 1099.3L625.7 1099.3L625.7 1082.9L643.7 1082.9Z" fill="#0f32de"/><path d="M625.7 1099.3L625.5 1099.7L625.5 1083.4L625.7 1082.9Z" fill="#091e85"/><path d="M643.7 1099.3L643.5 1099.7L625.5 1099.7L625.7 1099.3Z" fill="#0b26a6"/><path d="M463.2 1263.3L445.1 1263.3L445.1 1246.9L463.2 1246.9Z" fill="#0f32de"/><path d="M463.2 1263.3L463.6 1263.1L463.6 1246.7L463.2 1246.9Z" fill="#0f32de"/><path d="M697.8 1246.7L679.8 1246.8L679.8 1230.4L697.8 1230.4Z" fill="#e82618"/><path d="M679.8 1246.8L679.4 1246.6L679.4 1230.3L679.8 1230.4Z" fill="#8b170e"/><path d="M625.6 1312.3L607.6 1312.3L607.6 1295.9L625.6 1295.9Z" fill="#e82618"/><path d="M625.6 1295.9L625.4 1295.6L607.4 1295.6L607.6 1295.9Z" fill="#ce2215"/><path d="M589.6 1132.1L571.5 1132.1L571.5 1115.7L589.6 1115.7Z" fill="#0f32de"/><path d="M589.6 1132.1L589.5 1132.4L571.5 1132.4L571.5 1132.1Z" fill="#0b26a6"/><path d="M535.4 1148.5L517.4 1148.5L517.4 1132.1L535.4 1132.1Z" fill="#ecbac4"/><path d="M535.4 1148.5L535.5 1148.7L517.6 1148.8L517.4 1148.5Z" fill="#b18c93"/><path d="M517.4 1164.9L499.3 1164.9L499.3 1148.5L517.4 1148.5Z" fill="#ecbac4"/><path d="M517.4 1164.9L517.6 1165.1L517.6 1148.8L517.4 1148.5Z" fill="#ecbac4"/><path d="M517.4 1164.9L517.6 1165.1L499.6 1165.1L499.3 1164.9Z" fill="#b18c93"/><path d="M499.3 1214.1L481.2 1214.1L481.2 1197.7L499.3 1197.7Z" fill="#0f32de"/><path d="M499.3 1214.1L499.6 1214.1L499.6 1197.7L499.3 1197.7Z" fill="#0f32de"/><path d="M553.5 1181.3L535.4 1181.3L535.4 1164.9L553.5 1164.9Z" fill="#0f32de"/><path d="M607.6 1197.6L589.5 1197.6L589.6 1181.3L607.6 1181.3Z" fill="#eca528"/><path d="M571.5 1230.4L553.4 1230.4L553.4 1214.1L571.5 1214Z" fill="#eca528"/><path d="M462.8 1000.3L444.7 1000.3L444.7 983.8L462.8 983.8Z" fill="#ec745a"/><path d="M462.8 1000.3L463.2 1001.1L463.2 984.7L462.8 983.8Z" fill="#ec745a"/><path d="M462.8 1000.3L463.2 1001.1L445.2 1001.1L444.7 1000.3Z" fill="#b15744"/><path d="M354.1 1099L336 1099L336 1082.6L354.1 1082.6Z" fill="#ec745a"/><path d="M354.1 1099L354.9 1099.4L354.9 1083.1L354.1 1082.6Z" fill="#ec745a"/><path d="M354.1 1099L354.9 1099.4L336.8 1099.5L336 1099Z" fill="#b15744"/><path d="M499.1 1082.5L480.9 1082.5L480.9 1066.1L499.1 1066.1Z" fill="#882388"/><path d="M499.1 1082.5L499.3 1083L499.3 1066.6L499.1 1066.1Z" fill="#882388"/><path d="M499.1 1082.5L499.3 1083L481.3 1083L480.9 1082.5Z" fill="#661a66"/><path d="M444.7 1131.9L426.6 1131.9L426.6 1115.4L444.7 1115.4Z" fill="#882388"/><path d="M444.7 1131.9L445.2 1132.2L445.2 1115.8L444.7 1115.4Z" fill="#882388"/><path d="M444.7 1131.9L445.2 1132.2L427.1 1132.2L426.6 1131.9Z" fill="#661a66"/><path d="M662.1 1115.3L644 1115.3L644 1098.9L662.1 1098.9Z" fill="#eca528"/><path d="M644 1115.3L643.7 1115.7L643.7 1099.3L644 1098.9Z" fill="#8e6318"/><path d="M662.1 1115.3L661.8 1115.7L643.7 1115.7L644 1115.3Z" fill="#b17c1e"/><path d="M480.9 1279.9L462.8 1279.9L462.8 1263.5L480.9 1263.4Z" fill="#eca528"/><path d="M480.9 1279.9L481.2 1279.6L481.2 1263.2L480.9 1263.4Z" fill="#eca528"/><path d="M480.9 1263.4L481.2 1263.2L463.2 1263.3L462.8 1263.5Z" fill="#d29324"/><path d="M607.7 1148.2L589.6 1148.3L589.6 1131.8L607.8 1131.8Z" fill="#eca528"/><path d="M607.7 1148.2L607.6 1148.5L589.6 1148.5L589.6 1148.3Z" fill="#b17c1e"/><path d="M553.4 1164.7L535.3 1164.7L535.3 1148.3L553.4 1148.3Z" fill="#0f32de"/><path d="M553.4 1164.7L553.5 1164.9L535.4 1164.9L535.3 1164.7Z" fill="#0b26a6"/><path d="M517.1 1230.5L499 1230.5L499 1214.1L517.1 1214.1Z" fill="#eca528"/><path d="M517.1 1230.5L517.3 1230.5L517.3 1214.1L517.1 1214.1Z" fill="#eca528"/><path d="M535.3 1181.2L517.1 1181.2L517.1 1164.7L535.3 1164.7Z" fill="#0f32de"/><path d="M625.8 1214L607.7 1214L607.7 1197.6L625.8 1197.6Z" fill="#000000"/><path d="M589.6 1246.9L571.5 1246.9L571.5 1230.5L589.6 1230.5Z" fill="#000000"/><path d="M571.5 1197.6L553.4 1197.6L553.4 1181.2L571.5 1181.2Z" fill="#eca528"/><path d="M480.6 1016L462.4 1016L462.4 999.5L480.6 999.5Z" fill="#a63734"/><path d="M480.6 1016L480.9 1016.7L481 1000.3L480.6 999.5Z" fill="#a63734"/><path d="M480.6 1016L480.9 1016.7L462.8 1016.7L462.4 1016Z" fill="#7c2927"/><path d="M371.5 1115.1L353.3 1115.1L353.3 1098.6L371.5 1098.6Z" fill="#a63734"/><path d="M371.5 1115.1L372.2 1115.5L372.2 1099L371.5 1098.6Z" fill="#a63734"/><path d="M371.5 1115.1L372.2 1115.5L354.1 1115.5L353.3 1115.1Z" fill="#7c2927"/><path d="M517 1098.5L498.8 1098.5L498.8 1082L517 1082Z" fill="#888888"/><path d="M517 1098.5L517.2 1099L517.2 1082.5L517 1082Z" fill="#888888"/><path d="M517 1098.5L517.2 1099L499 1099L498.8 1098.5Z" fill="#666666"/><path d="M462.4 1148.1L444.2 1148.1L444.2 1131.6L462.4 1131.6Z" fill="#888888"/><path d="M462.4 1148.1L462.8 1148.3L462.8 1131.9L462.4 1131.6Z" fill="#888888"/><path d="M462.4 1148.1L462.8 1148.3L444.7 1148.3L444.2 1148.1Z" fill="#666666"/><path d="M680.6 1131.5L662.4 1131.5L662.4 1115L680.6 1115Z" fill="#000000"/><path d="M662.4 1131.5L662.1 1131.8L662.1 1115.3L662.4 1115Z" fill="#000000"/><path d="M680.6 1131.5L680.2 1131.8L662.1 1131.8L662.4 1131.5Z" fill="#000000"/><path d="M498.7 1296.6L480.5 1296.6L480.5 1280.1L498.7 1280.1Z" fill="#000000"/><path d="M498.7 1296.6L499 1296.3L499 1279.9L498.7 1280.1Z" fill="#000000"/><path d="M498.7 1280.1L499 1279.9L480.9 1279.9L480.5 1280.1Z" fill="#000000"/><path d="M626.1 1164.5L607.9 1164.5L607.9 1148L626.1 1148Z" fill="#000000"/><path d="M626.1 1164.5L625.9 1164.7L607.7 1164.7L607.9 1164.5Z" fill="#000000"/><path d="M644.2 1230.5L626 1230.5L626 1214L644.2 1214Z" fill="#ece432"/><path d="M626 1230.5L625.8 1230.5L625.8 1214L626 1214Z" fill="#8e891e"/><path d="M535.1 1247.1L516.9 1247.1L516.9 1230.6L535.1 1230.6Z" fill="#000000"/><path d="M607.8 1263.6L589.7 1263.6L589.7 1247.1L607.8 1247.1Z" fill="#ece432"/><path d="M571.5 1181L553.3 1181.1L553.3 1164.5L571.5 1164.5Z" fill="#eca528"/><path d="M553.3 1197.6L535.1 1197.6L535.1 1181.1L553.3 1181.1Z" fill="#eca528"/><path d="M589.7 1214.1L571.5 1214.1L571.5 1197.6L589.7 1197.5Z" fill="#000000"/><path d="M498.5 1031.8L480.3 1031.8L480.3 1015.3L498.5 1015.3Z" fill="#882388"/><path d="M498.5 1031.8L498.8 1032.5L498.8 1016L498.5 1015.3Z" fill="#882388"/><path d="M498.5 1031.8L498.8 1032.5L480.6 1032.5L480.3 1031.8Z" fill="#661a66"/><path d="M389 1131.3L370.7 1131.3L370.7 1114.8L389 1114.8Z" fill="#882388"/><path d="M389 1131.3L389.6 1131.6L389.6 1115.1L389 1114.8Z" fill="#882388"/><path d="M389 1131.3L389.6 1131.6L371.5 1131.6L370.7 1131.3Z" fill="#661a66"/><path d="M699.3 1147.7L681 1147.7L681 1131.2L699.3 1131.2Z" fill="#ece432"/><path d="M681 1147.7L680.6 1148L680.6 1131.5L681 1131.2Z" fill="#8e891e"/><path d="M699.3 1147.7L698.8 1148L680.6 1148L681 1147.7Z" fill="#b1ab26"/><path d="M535 1114.7L516.8 1114.7L516.8 1098.1L535 1098.1Z" fill="#ecbac4"/><path d="M535 1114.7L535.1 1115L517 1115L516.8 1114.7Z" fill="#b18c93"/><path d="M516.7 1313.5L498.4 1313.5L498.4 1297L516.7 1296.9Z" fill="#ece432"/><path d="M516.7 1313.5L516.9 1313.1L516.9 1296.6L516.7 1296.9Z" fill="#ece432"/><path d="M516.7 1296.9L516.9 1296.6L498.7 1296.6L498.4 1297Z" fill="#d2cb2c"/><path d="M480.2 1164.4L462 1164.4L462 1147.9L480.2 1147.8Z" fill="#ecbac4"/><path d="M480.2 1164.4L480.6 1164.6L480.6 1148.1L480.2 1147.8Z" fill="#ecbac4"/><path d="M480.2 1164.4L480.6 1164.6L462.4 1164.6L462 1164.4Z" fill="#b18c93"/><path d="M662.7 1247.2L644.5 1247.2L644.5 1230.6L662.7 1230.6Z" fill="#e82618"/><path d="M644.5 1247.2L644.2 1247L644.2 1230.5L644.5 1230.6Z" fill="#8b170e"/><path d="M626.2 1280.3L608 1280.3L608 1263.8L626.2 1263.7Z" fill="#e82618"/><path d="M626.2 1263.7L626 1263.6L607.8 1263.6L608 1263.8Z" fill="#ce2215"/><path d="M644.5 1180.9L626.2 1180.9L626.3 1164.3L644.5 1164.3Z" fill="#ece432"/><path d="M626.2 1180.9L626 1181L626.1 1164.5L626.3 1164.3Z" fill="#8e891e"/><path d="M553.2 1263.8L535 1263.8L535 1247.2L553.2 1247.2Z" fill="#ece432"/><path d="M608 1230.6L589.7 1230.6L589.7 1214.1L608 1214.1Z" fill="#ece432"/><path d="M589.7 1197.5L571.5 1197.5L571.5 1180.9L589.7 1180.9Z" fill="#000000"/><path d="M571.5 1214.1L553.2 1214.1L553.2 1197.5L571.5 1197.5Z" fill="#000000"/><path d="M516.6 1047.8L498.2 1047.8L498.2 1031.2L516.6 1031.2Z" fill="#888888"/><path d="M516.6 1047.8L516.8 1048.4L516.8 1031.8L516.6 1031.2Z" fill="#888888"/><path d="M516.6 1047.8L516.8 1048.4L498.5 1048.4L498.2 1047.8Z" fill="#666666"/><path d="M406.6 1147.6L388.3 1147.7L388.3 1131L406.6 1131Z" fill="#888888"/><path d="M406.6 1147.6L407.2 1147.9L407.2 1131.3L406.6 1131Z" fill="#888888"/><path d="M406.6 1147.6L407.2 1147.9L389 1147.9L388.3 1147.7Z" fill="#666666"/><path d="M718.1 1164.1L699.7 1164.1L699.7 1147.5L718.1 1147.5Z" fill="#e82618"/><path d="M699.7 1164.1L699.3 1164.3L699.3 1147.7L699.7 1147.5Z" fill="#8b170e"/><path d="M718.1 1164.1L717.5 1164.3L699.3 1164.3L699.7 1164.1Z" fill="#ae1c12"/><path d="M534.8 1330.5L516.5 1330.5L516.5 1313.9L534.8 1313.9Z" fill="#e82618"/><path d="M534.8 1313.9L534.9 1313.5L516.7 1313.5L516.5 1313.9Z" fill="#ce2215"/><path d="M553.2 1130.9L534.9 1130.9L534.9 1114.3L553.2 1114.3Z" fill="#0f32de"/><path d="M553.2 1130.9L553.3 1131.2L535 1131.2L534.9 1130.9Z" fill="#0b26a6"/><path d="M498.2 1180.9L479.9 1180.9L479.9 1164.2L498.2 1164.2Z" fill="#0f32de"/><path d="M498.2 1180.9L498.5 1181L498.5 1164.4L498.2 1164.2Z" fill="#0f32de"/><path d="M663.1 1197.4L644.8 1197.4L644.8 1180.8L663.1 1180.8Z" fill="#e82618"/><path d="M644.8 1197.4L644.5 1197.5L644.5 1180.9L644.8 1180.8Z" fill="#8b170e"/><path d="M571.5 1280.6L553.1 1280.6L553.1 1264L571.5 1264Z" fill="#e82618"/><path d="M571.5 1264L571.5 1263.8L553.2 1263.8L553.1 1264Z" fill="#ce2215"/><path d="M626.4 1247.3L608.1 1247.3L608.1 1230.7L626.4 1230.7Z" fill="#e82618"/><path d="M608.1 1214.1L589.8 1214.1L589.8 1197.4L608.1 1197.4Z" fill="#ece432"/><path d="M589.8 1230.7L571.5 1230.7L571.5 1214.1L589.8 1214.1Z" fill="#ece432"/><path d="M534.7 1063.9L516.3 1063.9L516.4 1047.2L534.7 1047.2Z" fill="#ecbac4"/><path d="M534.7 1063.9L534.9 1064.4L516.6 1064.4L516.3 1063.9Z" fill="#b18c93"/><path d="M424.4 1164.1L406 1164.1L406 1147.4L424.4 1147.4Z" fill="#ecbac4"/><path d="M424.4 1164.1L424.9 1164.3L424.9 1147.6L424.4 1147.4Z" fill="#ecbac4"/><path d="M424.4 1164.1L424.9 1164.3L406.6 1164.3L406 1164.1Z" fill="#b18c93"/><path d="M571.5 1147.3L553.1 1147.3L553.1 1130.6L571.5 1130.6Z" fill="#eca528"/><path d="M571.5 1147.3L571.5 1147.6L553.2 1147.6L553.1 1147.3Z" fill="#b17c1e"/><path d="M516.3 1197.4L497.9 1197.4L497.9 1180.7L516.3 1180.7Z" fill="#eca528"/><path d="M516.3 1197.4L516.5 1197.5L516.5 1180.9L516.3 1180.7Z" fill="#eca528"/><path d="M626.6 1230.8L608.2 1230.8L608.2 1214.1L626.6 1214.1Z" fill="#e82618"/><path d="M608.2 1247.5L589.8 1247.5L589.9 1230.8L608.2 1230.8Z" fill="#e82618"/><path d="M553.1 1080.1L534.6 1080.1L534.6 1063.3L553.1 1063.3Z" fill="#0f32de"/><path d="M553.1 1080.1L553.1 1080.5L534.7 1080.6L534.6 1080.1Z" fill="#0b26a6"/><path d="M442.3 1180.7L423.8 1180.7L423.8 1163.9L442.3 1163.9Z" fill="#0f32de"/><path d="M442.3 1180.7L442.7 1180.8L442.8 1164.1L442.3 1163.9Z" fill="#0f32de"/><path d="M589.9 1163.8L571.5 1163.8L571.5 1147.1L589.9 1147.1Z" fill="#000000"/><path d="M589.9 1163.8L589.9 1164L571.5 1164L571.5 1163.8Z" fill="#000000"/><path d="M534.5 1214.1L516.1 1214.1L516.1 1197.4L534.6 1197.4Z" fill="#000000"/><path d="M571.5 1096.4L553 1096.4L553 1079.6L571.5 1079.5Z" fill="#eca528"/><path d="M571.5 1096.4L571.5 1096.8L553 1096.8L553 1096.4Z" fill="#b17c1e"/><path d="M460.3 1197.4L441.8 1197.4L441.8 1180.5L460.3 1180.5Z" fill="#eca528"/><path d="M460.3 1197.4L460.7 1197.4L460.7 1180.7L460.3 1180.5Z" fill="#eca528"/><path d="M608.5 1180.5L590 1180.5L590 1163.6L608.5 1163.6Z" fill="#ece432"/><path d="M552.9 1230.9L534.4 1231L534.4 1214.1L552.9 1214.1Z" fill="#ece432"/><path d="M590.1 1112.8L571.5 1112.8L571.5 1095.9L590.1 1095.9Z" fill="#000000"/><path d="M590.1 1112.8L590 1113.2L571.5 1113.2L571.5 1112.8Z" fill="#000000"/><path d="M478.5 1214.2L459.9 1214.2L459.9 1197.3L478.5 1197.3Z" fill="#000000"/><path d="M478.5 1214.2L478.8 1214.2L478.8 1197.3L478.5 1197.3Z" fill="#000000"/><path d="M627.3 1197.2L608.7 1197.2L608.7 1180.3L627.3 1180.3Z" fill="#e82618"/><path d="M571.4 1247.9L552.9 1247.9L552.9 1231L571.5 1231Z" fill="#e82618"/><path d="M608.8 1129.4L590.2 1129.4L590.2 1112.4L608.8 1112.4Z" fill="#ece432"/><path d="M608.8 1129.4L608.7 1129.7L590.1 1129.7L590.2 1129.4Z" fill="#b1ab26"/><path d="M496.8 1231.1L478.1 1231.1L478.1 1214.2L496.8 1214.2Z" fill="#ece432"/><path d="M496.8 1231.1L497.1 1231L497.1 1214.2L496.8 1214.2Z" fill="#ece432"/><path d="M627.7 1146.1L609 1146.1L609 1129.1L627.7 1129.1Z" fill="#e82618"/><path d="M627.7 1146.1L627.5 1146.3L608.8 1146.3L609 1146.1Z" fill="#ae1c12"/><path d="M515.2 1248.2L496.5 1248.2L496.5 1231.2L515.2 1231.2Z" fill="#e82618"/><path d="M515.2 1248.2L515.4 1248.1L515.4 1231.1L515.2 1231.2Z" fill="#e82618"/></g></g><g font-family="'DejaVu Sans','Liberation Sans',sans-serif"><text transform="translate(741.8 793.4) scale(0.89 1)" y="8.2" font-size="22.5" font-weight="normal" text-anchor="middle" fill="#1a1a1a">4</text><text transform="translate(704 793.4) scale(0.89 1)" y="8.2" font-size="22.5" font-weight="normal" text-anchor="middle" fill="#1a1a1a">6</text><text transform="translate(666.2 793.4) scale(0.89 1)" y="8.2" font-size="22.5" font-weight="normal" text-anchor="middle" fill="#1a1a1a">8</text><text transform="translate(628.5 793.4) scale(0.89 1)" y="8.2" font-size="22.5" font-weight="normal" text-anchor="middle" fill="#1a1a1a">10</text><text transform="translate(590.7 793.4) scale(0.89 1)" y="8.2" font-size="22.5" font-weight="normal" text-anchor="middle" fill="#1a1a1a">12</text><text transform="translate(552.9 793.4) scale(0.89 1)" y="8.2" font-size="22.5" font-weight="normal" text-anchor="middle" fill="#1a1a1a">14</text><text transform="translate(515.1 793.4) scale(0.89 1)" y="8.2" font-size="22.5" font-weight="normal" text-anchor="middle" fill="#1a1a1a">16</text><text transform="translate(477.3 793.4) scale(0.89 1)" y="8.2" font-size="22.5" font-weight="normal" text-anchor="middle" fill="#1a1a1a">18</text><text transform="translate(439.5 793.4) scale(0.89 1)" y="8.2" font-size="22.5" font-weight="normal" text-anchor="middle" fill="#1a1a1a">20</text><text transform="translate(401.7 793.4) scale(0.89 1)" y="8.2" font-size="22.5" font-weight="normal" text-anchor="middle" fill="#1a1a1a">22</text><text transform="translate(363.9 793.4) scale(0.89 1)" y="8.2" font-size="22.5" font-weight="normal" text-anchor="middle" fill="#1a1a1a">24</text><text transform="translate(326.2 793.4) scale(0.89 1)" y="8.2" font-size="22.5" font-weight="normal" text-anchor="middle" fill="#1a1a1a">26</text><text transform="translate(288.4 793.4) scale(0.89 1)" y="8.2" font-size="22.5" font-weight="normal" text-anchor="middle" fill="#1a1a1a">28</text><text transform="translate(250.6 793.4) scale(0.89 1)" y="8.2" font-size="22.5" font-weight="normal" text-anchor="middle" fill="#1a1a1a">30</text><text transform="translate(212.8 793.4) scale(0.89 1)" y="8.2" font-size="22.5" font-weight="normal" text-anchor="middle" fill="#1a1a1a">32</text><text transform="translate(175 793.4) scale(0.89 1)" y="8.2" font-size="22.5" font-weight="normal" text-anchor="middle" fill="#1a1a1a">34</text><text transform="translate(113.3 1325.7) scale(0.89 1)" y="8.2" font-size="22.5" font-weight="normal" text-anchor="middle" fill="#1a1a1a">6</text><text transform="translate(113.3 1291.6) scale(0.89 1)" y="8.2" font-size="22.5" font-weight="normal" text-anchor="middle" fill="#1a1a1a">8</text><text transform="translate(113.3 1257.5) scale(0.89 1)" y="8.2" font-size="22.5" font-weight="normal" text-anchor="middle" fill="#1a1a1a">10</text><text transform="translate(113.3 1223.4) scale(0.89 1)" y="8.2" font-size="22.5" font-weight="normal" text-anchor="middle" fill="#1a1a1a">12</text><text transform="translate(113.3 1189.3) scale(0.89 1)" y="8.2" font-size="22.5" font-weight="normal" text-anchor="middle" fill="#1a1a1a">14</text><text transform="translate(113.3 1155.2) scale(0.89 1)" y="8.2" font-size="22.5" font-weight="normal" text-anchor="middle" fill="#1a1a1a">16</text><text transform="translate(113.3 1121) scale(0.89 1)" y="8.2" font-size="22.5" font-weight="normal" text-anchor="middle" fill="#1a1a1a">18</text><text transform="translate(113.3 1086.9) scale(0.89 1)" y="8.2" font-size="22.5" font-weight="normal" text-anchor="middle" fill="#1a1a1a">20</text><text transform="translate(113.3 1052.8) scale(0.89 1)" y="8.2" font-size="22.5" font-weight="normal" text-anchor="middle" fill="#1a1a1a">22</text><text transform="translate(113.3 1018.7) scale(0.89 1)" y="8.2" font-size="22.5" font-weight="normal" text-anchor="middle" fill="#1a1a1a">24</text><text transform="translate(113.3 984.6) scale(0.89 1)" y="8.2" font-size="22.5" font-weight="normal" text-anchor="middle" fill="#1a1a1a">26</text><text transform="translate(113.3 950.4) scale(0.89 1)" y="8.2" font-size="22.5" font-weight="normal" text-anchor="middle" fill="#1a1a1a">28</text><text transform="translate(113.3 916.3) scale(0.89 1)" y="8.2" font-size="22.5" font-weight="normal" text-anchor="middle" fill="#1a1a1a">30</text><text transform="translate(113.3 882.2) scale(0.89 1)" y="8.2" font-size="22.5" font-weight="normal" text-anchor="middle" fill="#1a1a1a">32</text><text transform="translate(113.3 848.1) scale(0.89 1)" y="8.2" font-size="22.5" font-weight="normal" text-anchor="middle" fill="#1a1a1a">34</text><text transform="translate(456.6 751) scale(0.88 1)" y="7.5" font-size="20.5" font-weight="bold" text-anchor="middle" fill="#1a1a1a">Y-axis</text><text transform="translate(75.5 1078.2) scale(0.95 1) rotate(-90)" y="7.8" font-size="21.3" font-weight="bold" text-anchor="middle" fill="#1a1a1a">Z-axis</text></g><clipPath id="cd"><rect x="800" y="738" width="684" height="640"/></clipPath><g clip-path="url(#cd)"><path d="M879.2 1236.8 L1451.8 1236.3 L1452 727.8 L879.7 727 Z" fill="#f5f5f5" /><path d="M890.8 1236.8L891.3 727M926.3 1236.8L926.8 727.1M961.9 1236.7L962.3 727.1M997.4 1236.7L997.8 727.2M1032.9 1236.7L1033.3 727.2M1068.4 1236.6L1068.8 727.3M1103.9 1236.6L1104.2 727.3M1139.3 1236.6L1139.7 727.4M1174.8 1236.5L1175.1 727.4M1210.2 1236.5L1210.5 727.5M1245.7 1236.5L1246 727.5M1281.1 1236.4L1281.4 727.6M1316.5 1236.4L1316.8 727.6M1351.9 1236.4L1352.1 727.7M1387.3 1236.3L1387.5 727.7M1422.7 1236.3L1422.9 727.8M879.3 1210.3L1451.8 1209.8M879.3 1177.7L1451.8 1177.3M879.3 1145L1451.9 1144.7M879.4 1112.4L1451.9 1112.2M879.4 1079.7L1451.9 1079.6M879.4 1047.1L1451.9 1047.1M879.5 1014.5L1451.9 1014.5M879.5 981.8L1451.9 982M879.5 949.2L1451.9 949.4M879.5 916.6L1451.9 916.9M879.6 884L1452 884.4M879.6 851.3L1452 851.8M879.6 818.7L1452 819.3M879.7 786.1L1452 786.8M879.7 753.5L1452 754.3" stroke="#c9c9c9" stroke-width="1.5" fill="none"/><path d="M1500 1269.7 L1451.8 1236.3 L1452 727.8 L1500.2 696.6 Z" fill="#e6e6e6" /><path d="M1497.3 1267.8L1497.5 698.3M1494.1 1265.6L1494.3 700.4M1490.9 1263.4L1491.1 702.5M1487.8 1261.3L1488 704.5M1484.8 1259.1L1485 706.4M1481.8 1257.1L1482 708.4M1478.8 1255L1479 710.3M1475.9 1253L1476.1 712.2M1473 1251L1473.2 714.1M1470.2 1249L1470.4 715.9M1467.4 1247.1L1467.6 717.7M1464.6 1245.2L1464.8 719.5M1461.9 1243.3L1462.1 721.3M1459.2 1241.4L1459.4 723M1456.6 1239.6L1456.8 724.7M1454 1237.8L1454.2 726.4M1500 1239.9L1451.8 1209.8M1500 1203.2L1451.8 1177.3M1500 1166.5L1451.9 1144.7M1500 1129.8L1451.9 1112.2M1500 1093.1L1451.9 1079.6M1500 1056.4L1451.9 1047.1M1500.1 1019.7L1451.9 1014.5M1500.1 983.1L1451.9 982M1500.1 946.4L1451.9 949.4M1500.1 909.7L1451.9 916.9M1500.1 873L1452 884.4M1500.1 836.4L1452 851.8M1500.1 799.7L1452 819.3M1500.1 763L1452 786.8M1500.2 726.4L1452 754.3" stroke="#c0c0c0" stroke-width="1.4" fill="none"/><path d="M854.5 1270.4 L1500 1269.7 L1451.8 1236.3 L879.2 1236.8 Z" fill="#d2d2d2" /><path d="M867.5 1270.4L890.8 1236.8M907.6 1270.4L926.3 1236.8M947.7 1270.3L961.9 1236.7M987.7 1270.3L997.4 1236.7M1027.7 1270.2L1032.9 1236.7M1067.8 1270.2L1068.4 1236.6M1107.8 1270.1L1103.9 1236.6M1147.7 1270.1L1139.3 1236.6M1187.7 1270L1174.8 1236.5M1227.7 1270L1210.2 1236.5M1267.6 1269.9L1245.7 1236.5M1307.5 1269.9L1281.1 1236.4M1347.5 1269.9L1316.5 1236.4M1387.4 1269.8L1351.9 1236.4M1427.2 1269.8L1387.3 1236.3M1467.1 1269.7L1422.7 1236.3M855.9 1268.5L1497.3 1267.8M857.5 1266.3L1494.1 1265.6M859.1 1264.1L1490.9 1263.4M860.7 1262L1487.8 1261.3M862.3 1259.8L1484.8 1259.1M863.8 1257.7L1481.8 1257.1M865.4 1255.7L1478.8 1255M866.9 1253.6L1475.9 1253M868.3 1251.6L1473 1251M869.8 1249.6L1470.2 1249M871.2 1247.7L1467.4 1247.1M872.7 1245.8L1464.6 1245.2M874.1 1243.9L1461.9 1243.3M875.4 1242L1459.2 1241.4M876.8 1240.1L1456.6 1239.6M878.1 1238.3L1454 1237.8" stroke="#bdbdbd" stroke-width="1.0" fill="none"/><path d="M864.5 1270.4L1500 1269.7" stroke="#111" stroke-width="1.6" fill="none" stroke-linecap="square"/><path d="M879.2 1236.8L879.7 727" stroke="#111" stroke-width="1.5" fill="none" stroke-linecap="square"/><path d="M854.5 1270.4L879.2 1236.8" stroke="#000" stroke-width="1.5" fill="none" stroke-linecap="square"/><path d="M867.7 1270.1L865.9 1272.7M907.8 1270L906.3 1272.6M947.8 1270L946.7 1272.6M987.8 1269.9L987 1272.6M1027.8 1269.9L1027.4 1272.5M1067.8 1269.8L1067.7 1272.5M1107.7 1269.8L1108 1272.4M1147.7 1269.7L1148.3 1272.4M1187.6 1269.7L1188.6 1272.3M1227.5 1269.7L1228.9 1272.3M1267.4 1269.6L1269.1 1272.2M1307.3 1269.6L1309.3 1272.2M1347.1 1269.5L1349.6 1272.1M1387 1269.5L1389.8 1272.1M1426.8 1269.4L1430 1272M1466.6 1269.4L1470.1 1272" stroke="#000" stroke-width="1.3" fill="none"/><path d="M884.1 1210.3L869.5 1210.3M884.1 1177.7L869.5 1177.7M884.1 1145L869.6 1145M884.2 1112.4L869.6 1112.4M884.2 1079.7L869.6 1079.7M884.2 1047.1L869.6 1047.1M884.3 1014.5L869.7 1014.5M884.3 981.8L869.7 981.8M884.3 949.2L869.7 949.2M884.3 916.6L869.8 916.6M884.4 884L869.8 884M884.4 851.4L869.8 851.3M884.4 818.7L869.9 818.7M884.5 786.1L869.9 786.1M884.5 753.5L869.9 753.5" stroke="#000" stroke-width="1.6" fill="none"/><path d="M861.8 1268.5L847.5 1268.5M863.4 1266.3L849.2 1266.3M865 1264.1L850.9 1264.1M866.6 1261.9L852.5 1262M868.1 1259.8L854.2 1259.8M869.6 1257.7L855.8 1257.7M871.1 1255.7L857.4 1255.7M872.5 1253.6L858.9 1253.6M874 1251.6L860.5 1251.6M875.4 1249.6L862 1249.6M876.8 1247.7L863.5 1247.7M878.2 1245.8L864.9 1245.8M879.5 1243.9L866.4 1243.9M880.9 1242L867.8 1242M882.2 1240.1L869.2 1240.2M883.5 1238.3L870.6 1238.3" stroke="#000" stroke-width="1.8" fill="none"/><g stroke="#000" stroke-width="1.6" stroke-linejoin="round"><path d="M1193.8 866.9L1193.4 867.3L1193.4 850.9L1193.8 850.5Z" fill="#007a10"/><path d="M1193.8 866.9L1211.7 867L1211.7 850.5L1193.8 850.5Z" fill="#007a10"/><path d="M1193.8 866.9L1211.7 867L1211.2 867.3L1193.4 867.3Z" fill="#005c0c"/><path d="M1301.8 949.1L1301 949.2L1301 932.7L1301.8 932.6Z" fill="#007a10"/><path d="M1301.8 949.1L1319.7 949.1L1319.7 932.6L1301.8 932.6Z" fill="#007a10"/><path d="M1176.3 883.1L1175.9 883.4L1176 866.9L1176.3 866.6Z" fill="#e846e2"/><path d="M1176.3 883.1L1194.2 883.1L1194.3 866.6L1176.3 866.6Z" fill="#e846e2"/><path d="M1176.3 883.1L1194.2 883.1L1193.8 883.4L1175.9 883.4Z" fill="#ae34aa"/><path d="M1284.6 965.5L1283.9 965.6L1283.9 949.1L1284.6 949Z" fill="#e846e2"/><path d="M1284.6 965.5L1302.6 965.5L1302.6 949L1284.6 949Z" fill="#e846e2"/><path d="M1158.6 899.3L1158.3 899.5L1158.4 883L1158.6 882.7Z" fill="#c88850"/><path d="M1158.6 899.3L1176.6 899.3L1176.7 882.7L1158.6 882.7Z" fill="#c88850"/><path d="M1158.6 899.3L1176.6 899.3L1176.3 899.5L1158.3 899.5Z" fill="#96663c"/><path d="M1303.4 899.1L1302.6 899.4L1302.6 882.8L1303.4 882.5Z" fill="#007a10"/><path d="M1303.4 899.1L1321.4 899.1L1321.4 882.5L1303.4 882.5Z" fill="#007a10"/><path d="M1303.4 899.1L1321.4 899.1L1320.6 899.4L1302.6 899.4Z" fill="#005c0c"/><path d="M1231.2 865.9L1230.7 866.2L1230.7 849.7L1231.2 849.3Z" fill="#007a10"/><path d="M1231.2 865.9L1249.3 865.9L1249.3 849.3L1231.2 849.3Z" fill="#007a10"/><path d="M1231.2 865.9L1249.3 865.9L1248.7 866.2L1230.7 866.2Z" fill="#005c0c"/><path d="M1267.2 982.1L1266.6 982.1L1266.6 965.5L1267.3 965.5Z" fill="#c88850"/><path d="M1267.2 982.1L1285.3 982.1L1285.3 965.5L1267.3 965.5Z" fill="#c88850"/><path d="M1140.8 915.6L1140.6 915.8L1140.6 899.3L1140.9 899Z" fill="#ce284c"/><path d="M1140.8 915.6L1158.9 915.6L1158.9 899L1140.9 899Z" fill="#ce284c"/><path d="M1140.8 915.6L1158.9 915.6L1158.6 915.8L1140.6 915.8Z" fill="#9a1e39"/><path d="M1286.1 915.5L1285.3 915.7L1285.3 899.1L1286.1 898.8Z" fill="#e846e2"/><path d="M1286.1 915.5L1304.2 915.5L1304.2 898.9L1286.1 898.8Z" fill="#e846e2"/><path d="M1286.1 915.5L1304.2 915.5L1303.4 915.7L1285.3 915.7Z" fill="#ae34aa"/><path d="M1249.8 998.8L1249.2 998.7L1249.2 982.1L1249.8 982.1Z" fill="#ce284c"/><path d="M1249.8 998.8L1267.9 998.8L1267.9 982.1L1249.8 982.1Z" fill="#ce284c"/><path d="M1213.6 882.1L1213.1 882.5L1213.1 865.8L1213.6 865.5Z" fill="#e846e2"/><path d="M1213.6 882.1L1231.7 882.2L1231.8 865.5L1213.6 865.5Z" fill="#e846e2"/><path d="M1213.6 882.1L1231.7 882.2L1231.2 882.5L1213.1 882.5Z" fill="#ae34aa"/><path d="M1122.9 932.1L1141.1 932.1L1141.1 915.4L1122.9 915.4Z" fill="#051980"/><path d="M1286.8 865.2L1286.1 865.5L1286.1 848.9L1286.8 848.4Z" fill="#007a10"/><path d="M1286.8 865.2L1305 865.2L1305 848.5L1286.8 848.4Z" fill="#007a10"/><path d="M1286.8 865.2L1305 865.2L1304.2 865.5L1286.1 865.5Z" fill="#005c0c"/><path d="M1268.6 932L1267.9 932.2L1268 915.5L1268.6 915.3Z" fill="#c88850"/><path d="M1268.6 932L1286.8 932L1286.8 915.3L1268.6 915.3Z" fill="#c88850"/><path d="M1232.2 1015.6L1231.7 1015.5L1231.7 998.8L1232.2 998.9Z" fill="#051980"/><path d="M1232.2 1015.6L1250.4 1015.6L1250.4 998.9L1232.2 998.9Z" fill="#051980"/><path d="M1195.9 898.5L1195.5 898.8L1195.5 882.1L1195.9 881.8Z" fill="#c88850"/><path d="M1195.9 898.5L1214.1 898.5L1214.1 881.8L1195.9 881.8Z" fill="#c88850"/><path d="M1195.9 898.5L1214.1 898.5L1213.6 898.8L1195.5 898.8Z" fill="#96663c"/><path d="M1104.9 948.7L1123.1 948.7L1123.1 931.9L1104.9 931.9Z" fill="#ceb496"/><path d="M1378.7 931.9L1377.6 932.1L1377.6 915.4L1378.7 915.1Z" fill="#007a10"/><path d="M1378.7 931.9L1396.9 931.9L1396.9 915.2L1378.7 915.1Z" fill="#007a10"/><path d="M1324 898.3L1323.2 898.6L1323.2 881.9L1324 881.6Z" fill="#007a10"/><path d="M1324 898.3L1342.3 898.4L1342.3 881.6L1324 881.6Z" fill="#007a10"/><path d="M1324 898.3L1342.3 898.4L1341.3 898.6L1323.2 898.6Z" fill="#005c0c"/><path d="M1305.8 864.8L1305 865.2L1305 848.5L1305.8 848Z" fill="#007a10"/><path d="M1305.8 864.8L1324 864.8L1324.1 848L1305.8 848Z" fill="#007a10"/><path d="M1305.8 864.8L1324 864.8L1323.2 865.2L1305 865.2Z" fill="#005c0c"/><path d="M1196.4 764L1196 764.8L1196 748.1L1196.4 747.3Z" fill="#007a10"/><path d="M1196.4 764L1214.7 764.1L1214.7 747.3L1196.4 747.3Z" fill="#007a10"/><path d="M1196.4 764L1214.7 764.1L1214.2 764.8L1196 764.8Z" fill="#005c0c"/><path d="M1287.6 848L1286.8 848.4L1286.9 831.7L1287.6 831.2Z" fill="#007a10"/><path d="M1287.6 848L1305.8 848L1305.8 831.3L1287.6 831.2Z" fill="#007a10"/><path d="M1287.6 848L1305.8 848L1305 848.5L1286.8 848.4Z" fill="#005c0c"/><path d="M1232.9 814.4L1232.3 815L1232.3 798.2L1232.9 797.6Z" fill="#007a10"/><path d="M1232.9 814.4L1251.1 814.4L1251.1 797.7L1232.9 797.6Z" fill="#007a10"/><path d="M1232.9 814.4L1251.1 814.4L1250.5 815L1232.3 815Z" fill="#005c0c"/><path d="M1269.3 881.5L1268.7 881.9L1268.7 865.1L1269.3 864.8Z" fill="#e846e2"/><path d="M1269.3 881.5L1287.6 881.6L1287.6 864.8L1269.3 864.8Z" fill="#e846e2"/><path d="M1269.3 881.5L1287.6 881.6L1286.8 881.9L1268.7 881.9Z" fill="#ae34aa"/><path d="M1251.1 948.6L1250.4 948.7L1250.4 932L1251.1 931.9Z" fill="#ce284c"/><path d="M1251.1 948.6L1269.3 948.6L1269.3 931.9L1251.1 931.9Z" fill="#ce284c"/><path d="M1214.5 1032.5L1214 1032.3L1214 1015.6L1214.5 1015.7Z" fill="#ceb496"/><path d="M1214.5 1032.5L1232.8 1032.5L1232.8 1015.7L1214.5 1015.7Z" fill="#ceb496"/><path d="M1178.1 915L1177.7 915.2L1177.7 898.5L1178.1 898.3Z" fill="#ce284c"/><path d="M1178.1 915L1196.3 915L1196.3 898.3L1178.1 898.3Z" fill="#ce284c"/><path d="M1178.1 915L1196.3 915L1195.9 915.2L1177.7 915.2Z" fill="#9a1e39"/><path d="M1086.7 965.4L1105 965.4L1105 948.6L1086.7 948.6Z" fill="#7a7a7a"/><path d="M1361.5 948.6L1360.5 948.7L1360.5 931.9L1361.5 931.8Z" fill="#e846e2"/><path d="M1361.5 948.6L1379.8 948.6L1379.8 931.8L1361.5 931.8Z" fill="#e846e2"/><path d="M1306.6 914.9L1305.8 915.1L1305.8 898.3L1306.6 898.1Z" fill="#e846e2"/><path d="M1306.6 914.9L1324.9 914.9L1324.9 898.1L1306.6 898.1Z" fill="#e846e2"/><path d="M1306.6 914.9L1324.9 914.9L1324 915.1L1305.8 915.1Z" fill="#ae34aa"/><path d="M1288.3 881.2L1287.6 881.6L1287.6 864.8L1288.3 864.4Z" fill="#e846e2"/><path d="M1288.3 881.2L1306.6 881.2L1306.6 864.4L1288.3 864.4Z" fill="#e846e2"/><path d="M1288.3 881.2L1306.6 881.2L1305.8 881.6L1287.6 881.6Z" fill="#ae34aa"/><path d="M1178.5 780.1L1178.2 780.8L1178.2 764L1178.5 763.3Z" fill="#e846e2"/><path d="M1178.5 780.1L1196.8 780.1L1196.9 763.3L1178.5 763.3Z" fill="#e846e2"/><path d="M1178.5 780.1L1196.8 780.1L1196.4 780.8L1178.2 780.8Z" fill="#ae34aa"/><path d="M1270 864.4L1269.3 864.8L1269.4 848L1270 847.6Z" fill="#e846e2"/><path d="M1270 864.4L1288.3 864.4L1288.3 847.6L1270 847.6Z" fill="#e846e2"/><path d="M1270 864.4L1288.3 864.4L1287.6 864.8L1269.3 864.8Z" fill="#ae34aa"/><path d="M1215.1 830.7L1214.6 831.2L1214.6 814.4L1215.1 813.8Z" fill="#e846e2"/><path d="M1215.1 830.7L1233.4 830.7L1233.4 813.9L1215.1 813.8Z" fill="#e846e2"/><path d="M1215.1 830.7L1233.4 830.7L1232.9 831.2L1214.6 831.2Z" fill="#ae34aa"/><path d="M1251.7 898L1251.1 898.3L1251.1 881.5L1251.7 881.2Z" fill="#c88850"/><path d="M1251.7 898L1270 898L1270 881.2L1251.7 881.2Z" fill="#c88850"/><path d="M1251.7 898L1270 898L1269.3 898.3L1251.1 898.3Z" fill="#96663c"/><path d="M1233.4 965.4L1232.8 965.4L1232.8 948.6L1233.4 948.5Z" fill="#051980"/><path d="M1233.4 965.4L1251.7 965.4L1251.7 948.5L1233.4 948.5Z" fill="#051980"/><path d="M1196.7 1049.6L1196.2 1049.3L1196.3 1032.5L1196.7 1032.7Z" fill="#7a7a7a"/><path d="M1196.7 1049.6L1215 1049.6L1215 1032.7L1196.7 1032.7Z" fill="#7a7a7a"/><path d="M1196.7 1032.7L1215 1032.7L1214.5 1032.5L1196.3 1032.5Z" fill="#6d6d6d"/><path d="M1160.1 931.7L1159.8 931.8L1159.8 915L1160.1 914.8Z" fill="#051980"/><path d="M1160.1 931.7L1178.4 931.7L1178.4 914.8L1160.1 914.8Z" fill="#051980"/><path d="M1068.4 982.2L1086.8 982.2L1086.8 965.3L1068.4 965.3Z" fill="#ecca2d"/><path d="M1307.5 813.4L1306.7 813.9L1306.7 797.1L1307.5 796.5Z" fill="#007a10"/><path d="M1307.5 813.4L1325.8 813.4L1325.8 796.5L1307.5 796.5Z" fill="#007a10"/><path d="M1307.5 813.4L1325.8 813.4L1324.9 813.9L1306.7 813.9Z" fill="#005c0c"/><path d="M1325.8 864L1324.9 864.4L1324.9 847.6L1325.8 847.2Z" fill="#007a10"/><path d="M1325.8 864L1344.2 864.1L1344.2 847.2L1325.8 847.2Z" fill="#007a10"/><path d="M1325.8 864L1344.2 864.1L1343.2 864.4L1324.9 864.4Z" fill="#005c0c"/><path d="M1344.1 965.4L1343.2 965.4L1343.2 948.6L1344.1 948.5Z" fill="#c88850"/><path d="M1344.1 965.4L1362.5 965.4L1362.5 948.5L1344.1 948.5Z" fill="#c88850"/><path d="M1289 931.6L1288.3 931.7L1288.3 914.9L1289.1 914.7Z" fill="#c88850"/><path d="M1289 931.6L1307.4 931.6L1307.4 914.7L1289.1 914.7Z" fill="#c88850"/><path d="M1270.7 897.8L1270 898L1270 881.2L1270.7 880.9Z" fill="#c88850"/><path d="M1270.7 897.8L1289.1 897.8L1289.1 880.9L1270.7 880.9Z" fill="#c88850"/><path d="M1270.7 897.8L1289.1 897.8L1288.3 898.1L1270 898Z" fill="#96663c"/><path d="M1160.5 796.3L1160.2 796.9L1160.2 780.1L1160.5 779.4Z" fill="#c88850"/><path d="M1160.5 796.3L1178.9 796.3L1178.9 779.4L1160.5 779.4Z" fill="#c88850"/><path d="M1160.5 796.3L1178.9 796.3L1178.5 797L1160.2 796.9Z" fill="#96663c"/><path d="M1252.3 880.9L1251.7 881.2L1251.7 864.4L1252.4 864Z" fill="#c88850"/><path d="M1252.3 880.9L1270.7 880.9L1270.7 864L1252.4 864Z" fill="#c88850"/><path d="M1252.3 880.9L1270.7 880.9L1270 881.2L1251.7 881.2Z" fill="#96663c"/><path d="M1197.2 847L1196.8 847.5L1196.8 830.7L1197.2 830.1Z" fill="#c88850"/><path d="M1197.2 847L1215.6 847.1L1215.6 830.2L1197.2 830.1Z" fill="#c88850"/><path d="M1197.2 847L1215.6 847.1L1215.1 847.5L1196.8 847.5Z" fill="#96663c"/><path d="M1233.9 914.7L1233.4 914.9L1233.4 898L1234 897.8Z" fill="#ce284c"/><path d="M1233.9 914.7L1252.3 914.7L1252.3 897.8L1234 897.8Z" fill="#ce284c"/><path d="M1233.9 914.7L1252.3 914.7L1251.7 914.9L1233.4 914.9Z" fill="#9a1e39"/><path d="M1215.5 982.2L1215 982.2L1215 965.4L1215.5 965.3Z" fill="#ceb496"/><path d="M1215.5 982.2L1233.9 982.2L1233.9 965.3L1215.5 965.3Z" fill="#ceb496"/><path d="M1178.7 1066.7L1178.3 1066.4L1178.4 1049.6L1178.7 1049.8Z" fill="#ecca2d"/><path d="M1178.7 1066.7L1197.1 1066.7L1197.1 1049.8L1178.7 1049.8Z" fill="#ecca2d"/><path d="M1178.7 1049.8L1197.1 1049.8L1196.7 1049.6L1178.4 1049.6Z" fill="#d2b428"/><path d="M1142 948.4L1141.8 948.5L1141.8 931.7L1142 931.5Z" fill="#ceb496"/><path d="M1142 948.4L1160.4 948.4L1160.4 931.5L1142 931.5Z" fill="#ceb496"/><path d="M1050 999.1L1068.4 999.1L1068.4 982.2L1050 982.2Z" fill="#ec745a"/><path d="M1289.9 829.7L1289.1 830.2L1289.1 813.3L1289.9 812.8Z" fill="#e846e2"/><path d="M1289.9 829.7L1308.3 829.8L1308.3 812.8L1289.9 812.8Z" fill="#e846e2"/><path d="M1289.9 829.7L1308.3 829.8L1307.5 830.3L1289.1 830.2Z" fill="#ae34aa"/><path d="M1308.3 880.6L1307.4 880.9L1307.4 864L1308.3 863.6Z" fill="#e846e2"/><path d="M1308.3 880.6L1326.7 880.6L1326.7 863.7L1308.3 863.6Z" fill="#e846e2"/><path d="M1308.3 880.6L1326.7 880.6L1325.8 880.9L1307.4 880.9Z" fill="#ae34aa"/><path d="M1326.6 982.3L1325.7 982.3L1325.8 965.4L1326.6 965.3Z" fill="#ce284c"/><path d="M1326.6 982.3L1345.1 982.3L1345.1 965.4L1326.6 965.3Z" fill="#ce284c"/><path d="M1271.4 948.4L1270.7 948.5L1270.7 931.6L1271.4 931.4Z" fill="#ce284c"/><path d="M1271.4 948.4L1289.8 948.4L1289.8 931.4L1271.4 931.4Z" fill="#ce284c"/><path d="M1253 914.5L1252.3 914.7L1252.3 897.8L1253 897.5Z" fill="#ce284c"/><path d="M1253 914.5L1271.4 914.5L1271.4 897.5L1253 897.5Z" fill="#ce284c"/><path d="M1253 914.5L1271.4 914.5L1270.7 914.7L1252.3 914.7Z" fill="#9a1e39"/><path d="M1142.3 812.6L1142.1 813.2L1142.1 796.3L1142.4 795.7Z" fill="#ce284c"/><path d="M1142.3 812.6L1160.8 812.6L1160.8 795.7L1142.4 795.7Z" fill="#ce284c"/><path d="M1142.3 812.6L1160.8 812.6L1160.5 813.2L1142.1 813.2Z" fill="#9a1e39"/><path d="M1234.5 897.5L1234 897.8L1234 880.9L1234.5 880.5Z" fill="#ce284c"/><path d="M1234.5 897.5L1253 897.5L1253 880.6L1234.5 880.5Z" fill="#ce284c"/><path d="M1234.5 897.5L1253 897.5L1252.3 897.8L1234 897.8Z" fill="#9a1e39"/><path d="M1179.2 863.5L1178.8 863.9L1178.9 847L1179.2 846.6Z" fill="#ce284c"/><path d="M1179.2 863.5L1197.7 863.6L1197.7 846.6L1179.2 846.6Z" fill="#ce284c"/><path d="M1179.2 863.5L1197.7 863.6L1197.2 863.9L1178.8 863.9Z" fill="#9a1e39"/><path d="M1216.1 931.4L1215.6 931.5L1215.6 914.6L1216.1 914.4Z" fill="#051980"/><path d="M1216.1 931.4L1234.5 931.4L1234.5 914.4L1216.1 914.4Z" fill="#051980"/><path d="M1160.6 1084L1160.3 1083.7L1160.3 1066.8L1160.6 1067.1Z" fill="#ec745a"/><path d="M1160.6 1084L1179.1 1084L1179.1 1067.1L1160.6 1067.1Z" fill="#ec745a"/><path d="M1160.6 1067.1L1179.1 1067.1L1178.7 1066.7L1160.3 1066.8Z" fill="#d26750"/><path d="M1197.6 999.2L1197.1 999.1L1197.2 982.2L1197.6 982.3Z" fill="#7a7a7a"/><path d="M1197.6 999.2L1216 999.2L1216 982.3L1197.6 982.3Z" fill="#7a7a7a"/><path d="M1123.8 965.3L1123.6 965.3L1123.6 948.4L1123.8 948.3Z" fill="#7a7a7a"/><path d="M1123.8 965.3L1142.2 965.3L1142.3 948.3L1123.8 948.3Z" fill="#7a7a7a"/><path d="M1031.4 1016.2L1049.9 1016.2L1049.9 999.2L1031.4 999.2Z" fill="#a63734"/><path d="M1383 863.3L1381.9 863.7L1382 846.8L1383 846.3Z" fill="#007a10"/><path d="M1383 863.3L1401.5 863.3L1401.5 846.3L1383 846.3Z" fill="#007a10"/><path d="M1383 863.3L1401.5 863.3L1400.4 863.7L1381.9 863.7Z" fill="#005c0c"/><path d="M1272.1 846.2L1271.4 846.7L1271.4 829.7L1272.1 829.2Z" fill="#c88850"/><path d="M1272.1 846.2L1290.6 846.2L1290.6 829.2L1272.1 829.2Z" fill="#c88850"/><path d="M1272.1 846.2L1290.6 846.2L1289.9 846.7L1271.4 846.7Z" fill="#96663c"/><path d="M1309 999.3L1308.2 999.2L1308.2 982.3L1309 982.3Z" fill="#051980"/><path d="M1309 999.3L1327.5 999.3L1327.5 982.3L1309 982.3Z" fill="#051980"/><path d="M1290.6 897.3L1289.8 897.5L1289.8 880.6L1290.6 880.2Z" fill="#c88850"/><path d="M1290.6 897.3L1309.1 897.3L1309.1 880.3L1290.6 880.2Z" fill="#c88850"/><path d="M1290.6 897.3L1309.1 897.3L1308.3 897.5L1289.8 897.5Z" fill="#96663c"/><path d="M1253.6 965.3L1252.9 965.3L1252.9 948.4L1253.6 948.3Z" fill="#051980"/><path d="M1253.6 965.3L1272.1 965.3L1272.1 948.3L1253.6 948.3Z" fill="#051980"/><path d="M1235.1 931.3L1234.5 931.4L1234.5 914.4L1235.1 914.2Z" fill="#051980"/><path d="M1235.1 931.3L1253.6 931.3L1253.6 914.2L1235.1 914.2Z" fill="#051980"/><path d="M1124.1 829.1L1123.9 829.6L1123.9 812.6L1124.1 812Z" fill="#051980"/><path d="M1124.1 829.1L1142.6 829.1L1142.6 812.1L1124.1 812Z" fill="#051980"/><path d="M1124.1 829.1L1142.6 829.1L1142.3 829.6L1123.9 829.6Z" fill="#041360"/><path d="M1216.6 914.2L1216.1 914.4L1216.1 897.5L1216.6 897.2Z" fill="#051980"/><path d="M1216.6 914.2L1235.1 914.2L1235.1 897.2L1216.6 897.2Z" fill="#051980"/><path d="M1216.6 914.2L1235.1 914.2L1234.5 914.4L1216.1 914.4Z" fill="#041360"/><path d="M1142.4 1101.5L1142.2 1101L1142.2 1084.1L1142.4 1084.4Z" fill="#a63734"/><path d="M1142.4 1101.5L1160.9 1101.5L1160.9 1084.4L1142.4 1084.4Z" fill="#a63734"/><path d="M1142.4 1084.4L1160.9 1084.4L1160.6 1084L1142.2 1084.1Z" fill="#94312e"/><path d="M1161.1 880.2L1160.8 880.5L1160.8 863.5L1161.1 863.1Z" fill="#051980"/><path d="M1161.1 880.2L1179.6 880.2L1179.6 863.2L1161.1 863.1Z" fill="#051980"/><path d="M1161.1 880.2L1179.6 880.2L1179.2 880.5L1160.8 880.5Z" fill="#041360"/><path d="M1198 948.3L1197.6 948.3L1197.6 931.4L1198.1 931.2Z" fill="#ceb496"/><path d="M1198 948.3L1216.6 948.3L1216.6 931.2L1198.1 931.2Z" fill="#ceb496"/><path d="M1179.5 1016.3L1179.1 1016.2L1179.1 999.2L1179.5 999.3Z" fill="#ecca2d"/><path d="M1179.5 1016.3L1198 1016.3L1198 999.3L1179.5 999.3Z" fill="#ecca2d"/><path d="M1012.7 1033.4L1031.2 1033.4L1031.3 1016.3L1012.7 1016.3Z" fill="#882388"/><path d="M1105.4 982.3L1124 982.3L1124 965.3L1105.4 965.2Z" fill="#ecca2d"/><path d="M1310 777.5L1309.1 778.2L1309.2 761.2L1310 760.5Z" fill="#007a10"/><path d="M1310 777.5L1328.5 777.6L1328.5 760.5L1310 760.5Z" fill="#007a10"/><path d="M1310 777.5L1328.5 777.6L1327.6 778.2L1309.1 778.2Z" fill="#005c0c"/><path d="M1365.6 880L1364.6 880.3L1364.6 863.3L1365.6 862.9Z" fill="#e846e2"/><path d="M1365.6 880L1384.1 880L1384.1 862.9L1365.6 862.9Z" fill="#e846e2"/><path d="M1365.6 880L1384.1 880L1383 880.3L1364.6 880.3Z" fill="#ae34aa"/><path d="M1291.3 1016.5L1290.5 1016.3L1290.5 999.3L1291.3 999.4Z" fill="#ceb496"/><path d="M1291.3 1016.5L1309.9 1016.5L1309.9 999.4L1291.3 999.4Z" fill="#ceb496"/><path d="M1254.3 862.8L1253.6 863.2L1253.6 846.2L1254.3 845.7Z" fill="#ce284c"/><path d="M1254.3 862.8L1272.8 862.8L1272.8 845.8L1254.3 845.7Z" fill="#ce284c"/><path d="M1254.3 862.8L1272.8 862.8L1272.1 863.2L1253.6 863.2Z" fill="#9a1e39"/><path d="M1272.8 914L1272.1 914.3L1272.1 897.2L1272.8 897Z" fill="#ce284c"/><path d="M1272.8 914L1291.4 914.1L1291.4 897L1272.8 897Z" fill="#ce284c"/><path d="M1272.8 914L1291.4 914.1L1290.6 914.3L1272.1 914.3Z" fill="#9a1e39"/><path d="M1235.6 982.3L1235 982.3L1235.1 965.3L1235.6 965.3Z" fill="#ceb496"/><path d="M1235.6 982.3L1254.2 982.3L1254.2 965.3L1235.6 965.3Z" fill="#ceb496"/><path d="M1124 1119L1123.9 1118.5L1123.9 1101.5L1124 1101.9Z" fill="#882388"/><path d="M1124 1119L1142.6 1119L1142.6 1101.9L1124 1101.9Z" fill="#882388"/><path d="M1124 1101.9L1142.6 1101.9L1142.4 1101.5L1123.9 1101.5Z" fill="#791f79"/><path d="M1217.1 948.2L1216.6 948.3L1216.6 931.2L1217.1 931.1Z" fill="#ceb496"/><path d="M1217.1 948.2L1235.6 948.2L1235.7 931.1L1217.1 931.1Z" fill="#ceb496"/><path d="M1105.6 845.6L1124.2 845.6L1124.2 828.5L1105.7 828.5Z" fill="#ceb496"/><path d="M1105.6 845.6L1124.2 845.6L1124 846.1L1105.5 846.1Z" fill="#9a8770"/><path d="M1198.5 931.1L1198.1 931.2L1198.1 914.2L1198.5 914Z" fill="#ceb496"/><path d="M1198.5 931.1L1217.1 931.1L1217.1 914L1198.5 914Z" fill="#ceb496"/><path d="M1142.8 896.9L1142.5 897.2L1142.5 880.1L1142.8 879.8Z" fill="#ceb496"/><path d="M1142.8 896.9L1161.4 896.9L1161.4 879.8L1142.8 879.8Z" fill="#ceb496"/><path d="M1142.8 896.9L1161.4 896.9L1161.1 897.2L1142.5 897.2Z" fill="#9a8770"/><path d="M1179.9 965.2L1179.5 965.3L1179.5 948.2L1179.9 948.2Z" fill="#7a7a7a"/><path d="M1179.9 965.2L1198.5 965.2L1198.5 948.2L1179.9 948.2Z" fill="#7a7a7a"/><path d="M1161.3 1033.6L1161 1033.4L1161 1016.3L1161.3 1016.5Z" fill="#ec745a"/><path d="M1161.3 1033.6L1179.9 1033.6L1179.9 1016.5L1161.3 1016.5Z" fill="#ec745a"/><path d="M1012.5 1050.7L1012.7 1050.4L1012.7 1033.4L1012.5 1033.6Z" fill="#525252"/><path d="M993.9 1050.7L1012.5 1050.7L1012.5 1033.6L993.9 1033.6Z" fill="#888888"/><path d="M993.9 1033.6L1012.5 1033.6L1012.7 1033.4L994.2 1033.4Z" fill="#797979"/><path d="M1086.9 999.4L1105.5 999.4L1105.5 982.3L1086.9 982.3Z" fill="#ec745a"/><path d="M1292.2 793.9L1291.4 794.6L1291.4 777.5L1292.2 776.8Z" fill="#e846e2"/><path d="M1292.2 793.9L1310.8 794L1310.8 776.8L1292.2 776.8Z" fill="#e846e2"/><path d="M1292.2 793.9L1310.8 794L1310 794.6L1291.4 794.6Z" fill="#ae34aa"/><path d="M1348 896.8L1347 897L1347 880L1348 879.6Z" fill="#c88850"/><path d="M1348 896.8L1366.6 896.8L1366.6 879.6L1348 879.6Z" fill="#c88850"/><path d="M1348 896.8L1366.6 896.8L1365.6 897L1347 897Z" fill="#96663c"/><path d="M1273.4 1033.8L1272.7 1033.6L1272.7 1016.5L1273.4 1016.6Z" fill="#7a7a7a"/><path d="M1273.4 1033.8L1292.1 1033.8L1292.1 1016.7L1273.4 1016.6Z" fill="#7a7a7a"/><path d="M1236.3 879.5L1235.7 879.9L1235.7 862.8L1236.3 862.4Z" fill="#051980"/><path d="M1236.3 879.5L1254.9 879.6L1254.9 862.4L1236.3 862.4Z" fill="#051980"/><path d="M1236.3 879.5L1254.9 879.6L1254.2 879.9L1235.7 879.9Z" fill="#041360"/><path d="M1254.9 931L1254.2 931.1L1254.2 914L1254.9 913.8Z" fill="#051980"/><path d="M1254.9 931L1273.5 931L1273.5 913.8L1254.9 913.8Z" fill="#051980"/><path d="M1105.5 1136.7L1124.2 1136.7L1124.2 1119.5L1105.6 1119.6Z" fill="#888888"/><path d="M1105.6 1119.6L1124.2 1119.5L1124 1119L1105.4 1119Z" fill="#797979"/><path d="M1217.5 999.5L1217 999.4L1217 982.3L1217.6 982.4Z" fill="#7a7a7a"/><path d="M1217.5 999.5L1236.2 999.5L1236.2 982.4L1217.6 982.4Z" fill="#7a7a7a"/><path d="M1198.9 965.2L1198.5 965.2L1198.5 948.2L1198.9 948.1Z" fill="#7a7a7a"/><path d="M1198.9 965.2L1217.6 965.2L1217.6 948.1L1198.9 948.1Z" fill="#7a7a7a"/><path d="M1087.1 862.3L1105.7 862.3L1105.8 845.2L1087.1 845.1Z" fill="#7a7a7a"/><path d="M1087.1 862.3L1105.7 862.3L1105.6 862.7L1087 862.7Z" fill="#5c5c5c"/><path d="M993.6 1068.1L993.8 1067.8L993.9 1050.7L993.6 1050.9Z" fill="#8e7076"/><path d="M974.9 1068.1L993.6 1068.1L993.6 1050.9L974.9 1051Z" fill="#ecbac4"/><path d="M974.9 1051L993.6 1050.9L993.9 1050.7L975.2 1050.7Z" fill="#d2a6ae"/><path d="M1180.3 948.1L1179.9 948.2L1179.9 931.1L1180.3 930.9Z" fill="#7a7a7a"/><path d="M1180.3 948.1L1198.9 948.1L1198.9 930.9L1180.3 930.9Z" fill="#7a7a7a"/><path d="M1142.9 1050.9L1142.7 1050.7L1142.7 1033.6L1142.9 1033.8Z" fill="#a63734"/><path d="M1142.9 1050.9L1161.6 1050.9L1161.6 1033.8L1142.9 1033.8Z" fill="#a63734"/><path d="M1142.9 1033.8L1161.6 1033.8L1161.3 1033.6L1142.7 1033.6Z" fill="#94312e"/><path d="M1161.6 982.3L1161.3 982.3L1161.3 965.2L1161.6 965.2Z" fill="#ecca2d"/><path d="M1161.6 982.3L1180.3 982.4L1180.3 965.2L1161.6 965.2Z" fill="#ecca2d"/><path d="M1124.4 913.8L1124.2 914L1124.2 896.9L1124.4 896.6Z" fill="#7a7a7a"/><path d="M1124.4 913.8L1143 913.8L1143 896.6L1124.4 896.6Z" fill="#7a7a7a"/><path d="M1124.4 913.8L1143 913.8L1142.8 914L1124.2 914Z" fill="#5c5c5c"/><path d="M1068.3 1016.6L1087 1016.6L1087 999.5L1068.3 999.5Z" fill="#a63734"/><path d="M1423.7 862.2L1422.5 862.6L1422.5 845.4L1423.7 845Z" fill="#007a10"/><path d="M1423.7 862.2L1442.4 862.2L1442.4 845L1423.7 845Z" fill="#007a10"/><path d="M1423.7 862.2L1442.4 862.2L1441.1 862.6L1422.5 862.6Z" fill="#005c0c"/><path d="M1274.3 810.5L1273.6 811L1273.6 793.9L1274.3 793.3Z" fill="#c88850"/><path d="M1274.3 810.5L1293 810.5L1293 793.3L1274.3 793.3Z" fill="#c88850"/><path d="M1274.3 810.5L1293 810.5L1292.2 811.1L1273.6 811Z" fill="#96663c"/><path d="M1330.3 913.7L1329.4 913.9L1329.4 896.7L1330.3 896.5Z" fill="#ce284c"/><path d="M1330.3 913.7L1349 913.7L1349 896.5L1330.3 896.5Z" fill="#ce284c"/><path d="M1330.3 913.7L1349 913.7L1348 913.9L1329.4 913.9Z" fill="#9a1e39"/><path d="M1255.4 1051.2L1254.8 1050.9L1254.8 1033.8L1255.5 1034Z" fill="#ecca2d"/><path d="M1255.4 1051.2L1274.1 1051.2L1274.2 1034L1255.5 1034Z" fill="#ecca2d"/><path d="M1255.5 1034L1274.2 1034L1273.4 1033.8L1254.8 1033.8Z" fill="#d2b428"/><path d="M1086.9 1154.5L1105.6 1154.5L1105.7 1137.3L1086.9 1137.3Z" fill="#ecbac4"/><path d="M1086.9 1137.3L1105.7 1137.3L1105.5 1136.7L1086.9 1136.7Z" fill="#d2a6ae"/><path d="M1218.1 896.4L1217.6 896.7L1217.6 879.5L1218.1 879.2Z" fill="#ceb496"/><path d="M1218.1 896.4L1236.8 896.4L1236.8 879.2L1218.1 879.2Z" fill="#ceb496"/><path d="M1218.1 896.4L1236.8 896.4L1236.3 896.7L1217.6 896.7Z" fill="#9a8770"/><path d="M1236.8 948L1236.2 948.1L1236.2 931L1236.8 930.8Z" fill="#ceb496"/><path d="M1236.8 948L1255.5 948L1255.5 930.8L1236.8 930.8Z" fill="#ceb496"/><path d="M974.5 1085.7L974.9 1085.3L974.9 1068.1L974.5 1068.5Z" fill="#091e85"/><path d="M955.8 1085.7L974.5 1085.7L974.5 1068.5L955.8 1068.5Z" fill="#0f32de"/><path d="M955.8 1068.5L974.5 1068.5L974.9 1068.1L956.2 1068.1Z" fill="#0d2cc6"/><path d="M1199.3 1016.8L1198.9 1016.6L1198.9 999.5L1199.4 999.6Z" fill="#ecca2d"/><path d="M1199.3 1016.8L1218.1 1016.8L1218.1 999.6L1199.4 999.6Z" fill="#ecca2d"/><path d="M1180.7 982.4L1180.3 982.4L1180.3 965.2L1180.7 965.2Z" fill="#ecca2d"/><path d="M1180.7 982.4L1199.4 982.4L1199.4 965.2L1180.7 965.2Z" fill="#ecca2d"/><path d="M1068.4 879.1L1087.1 879.1L1087.1 861.9L1068.4 861.9Z" fill="#ecca2d"/><path d="M1068.4 879.1L1087.1 879.1L1087.1 879.4L1068.4 879.4Z" fill="#b19822"/><path d="M1124.4 1068.4L1124.3 1068.1L1124.3 1050.9L1124.4 1051.2Z" fill="#882388"/><path d="M1124.4 1068.4L1143.2 1068.4L1143.2 1051.2L1124.4 1051.2Z" fill="#882388"/><path d="M1124.4 1051.2L1143.2 1051.2L1142.9 1050.9L1124.3 1050.9Z" fill="#791f79"/><path d="M1162 965.2L1161.6 965.2L1161.6 948.1L1162 948Z" fill="#ecca2d"/><path d="M1162 965.2L1180.7 965.2L1180.7 948L1162 948Z" fill="#ecca2d"/><path d="M1143.2 999.6L1143 999.5L1143 982.3L1143.2 982.4Z" fill="#ec745a"/><path d="M1143.2 999.6L1161.9 999.6L1161.9 982.4L1143.2 982.4Z" fill="#ec745a"/><path d="M1105.8 930.7L1124.5 930.7L1124.5 913.5L1105.8 913.5Z" fill="#ecca2d"/><path d="M1049.5 1034L1068.3 1034L1068.3 1016.8L1049.5 1016.8Z" fill="#882388"/><path d="M1406.2 879L1405 879.3L1405 862.1L1406.2 861.7Z" fill="#e846e2"/><path d="M1406.2 879L1425 879L1425 861.8L1406.2 861.7Z" fill="#e846e2"/><path d="M1406.2 879L1425 879L1423.7 879.3L1405 879.3Z" fill="#ae34aa"/><path d="M1256.2 827.1L1255.6 827.6L1255.6 810.4L1256.2 809.9Z" fill="#ce284c"/><path d="M1256.2 827.1L1275 827.1L1275 809.9L1256.2 809.9Z" fill="#ce284c"/><path d="M1256.2 827.1L1275 827.1L1274.3 827.7L1255.6 827.6Z" fill="#9a1e39"/><path d="M1312.5 930.7L1311.6 930.8L1311.6 913.6L1312.5 913.4Z" fill="#051980"/><path d="M1312.5 930.7L1331.2 930.7L1331.2 913.4L1312.5 913.4Z" fill="#051980"/><path d="M1068.1 1172.5L1086.9 1172.5L1087 1155.2L1068.2 1155.2Z" fill="#0f32de"/><path d="M1068.2 1155.2L1087 1155.2L1086.9 1154.5L1068.2 1154.5Z" fill="#0d2cc6"/><path d="M1237.3 1068.7L1236.7 1068.4L1236.7 1051.2L1237.3 1051.5Z" fill="#ec745a"/><path d="M1237.3 1068.7L1256.1 1068.7L1256.1 1051.5L1237.3 1051.5Z" fill="#ec745a"/><path d="M1237.3 1051.5L1256.1 1051.5L1255.4 1051.2L1236.7 1051.2Z" fill="#d26750"/><path d="M955.3 1103.4L955.7 1102.9L955.8 1085.7L955.3 1086.1Z" fill="#8e6318"/><path d="M936.5 1103.4L955.3 1103.4L955.3 1086.1L936.5 1086.1Z" fill="#eca528"/><path d="M936.5 1086.1L955.3 1086.1L955.8 1085.7L937 1085.7Z" fill="#d29324"/><path d="M1218.6 965.2L1218.1 965.2L1218.1 948L1218.6 947.9Z" fill="#7a7a7a"/><path d="M1218.6 965.2L1237.4 965.2L1237.4 947.9L1218.6 947.9Z" fill="#7a7a7a"/><path d="M1199.9 913.4L1199.4 913.6L1199.4 896.4L1199.9 896.1Z" fill="#7a7a7a"/><path d="M1199.9 913.4L1218.6 913.4L1218.6 896.1L1199.9 896.1Z" fill="#7a7a7a"/><path d="M1199.9 913.4L1218.6 913.4L1218.1 913.6L1199.4 913.6Z" fill="#5c5c5c"/><path d="M1181 1034.2L1180.6 1034L1180.6 1016.8L1181 1017Z" fill="#ec745a"/><path d="M1181 1034.2L1199.8 1034.2L1199.8 1017L1181 1017Z" fill="#ec745a"/><path d="M1105.8 1086L1124.6 1086L1124.6 1068.8L1105.8 1068.8Z" fill="#888888"/><path d="M1105.8 1068.8L1124.6 1068.8L1124.4 1068.4L1105.7 1068.4Z" fill="#797979"/><path d="M1162.2 999.7L1161.9 999.6L1161.9 982.4L1162.3 982.4Z" fill="#ec745a"/><path d="M1162.2 999.7L1181 999.7L1181 982.4L1162.3 982.4Z" fill="#ec745a"/><path d="M1049.6 896L1068.4 896L1068.4 878.7L1049.6 878.7Z" fill="#ec745a"/><path d="M1049.6 896L1068.4 896L1068.4 896.3L1049.6 896.3Z" fill="#b15744"/><path d="M1030.6 1051.5L1049.4 1051.5L1049.4 1034.2L1030.6 1034.2Z" fill="#888888"/><path d="M1030.6 1034.2L1049.4 1034.2L1049.5 1034L1030.8 1034Z" fill="#797979"/><path d="M1143.5 982.4L1143.2 982.4L1143.2 965.2L1143.5 965.1Z" fill="#ec745a"/><path d="M1143.5 982.4L1162.3 982.4L1162.3 965.1L1143.5 965.1Z" fill="#ec745a"/><path d="M1124.7 1016.9L1124.5 1016.8L1124.5 999.6L1124.7 999.7Z" fill="#a63734"/><path d="M1124.7 1016.9L1143.4 1016.9L1143.5 999.7L1124.7 999.7Z" fill="#a63734"/><path d="M1087.1 947.8L1105.9 947.9L1105.9 930.6L1087.1 930.6Z" fill="#ec745a"/><path d="M1388.6 895.9L1387.5 896.2L1387.5 879L1388.6 878.6Z" fill="#c88850"/><path d="M1388.6 895.9L1407.4 896L1407.4 878.7L1388.6 878.6Z" fill="#c88850"/><path d="M1388.6 895.9L1407.4 896L1406.2 896.2L1387.5 896.2Z" fill="#96663c"/><path d="M1294.5 947.8L1293.7 947.9L1293.7 930.7L1294.5 930.5Z" fill="#ceb496"/><path d="M1294.5 947.8L1313.3 947.8L1313.3 930.5L1294.5 930.5Z" fill="#ceb496"/><path d="M1238 843.9L1237.5 844.4L1237.5 827.1L1238.1 826.6Z" fill="#051980"/><path d="M1238 843.9L1256.9 843.9L1256.9 826.6L1238.1 826.6Z" fill="#051980"/><path d="M1238 843.9L1256.9 843.9L1256.2 844.4L1237.5 844.4Z" fill="#041360"/><path d="M1049.2 1190.5L1068.1 1190.5L1068.1 1173.2L1049.3 1173.2Z" fill="#eca528"/><path d="M1049.3 1173.2L1068.1 1173.2L1068.1 1172.5L1049.3 1172.5Z" fill="#d29324"/><path d="M936 1121.2L936.5 1120.7L936.5 1103.4L936 1103.9Z" fill="#000000"/><path d="M917.1 1121.2L936 1121.2L936 1103.9L917.1 1103.9Z" fill="#000000"/><path d="M917.1 1103.9L936 1103.9L936.5 1103.4L917.7 1103.4Z" fill="#000000"/><path d="M1219.1 1086.4L1218.5 1086L1218.5 1068.8L1219.1 1069.1Z" fill="#a63734"/><path d="M1219.1 1086.4L1237.9 1086.4L1237.9 1069.1L1219.1 1069.1Z" fill="#a63734"/><path d="M1219.1 1069.1L1237.9 1069.1L1237.3 1068.7L1218.5 1068.8Z" fill="#94312e"/><path d="M1200.3 982.5L1199.8 982.4L1199.8 965.2L1200.3 965.1Z" fill="#ecca2d"/><path d="M1200.3 982.5L1219.1 982.5L1219.1 965.1L1200.3 965.1Z" fill="#ecca2d"/><path d="M1087.1 1103.8L1105.9 1103.8L1105.9 1086.5L1087.1 1086.5Z" fill="#ecbac4"/><path d="M1087.1 1086.5L1105.9 1086.5L1105.8 1086L1087 1086.1Z" fill="#d2a6ae"/><path d="M1181.5 930.5L1181.1 930.6L1181.1 913.4L1181.5 913.1Z" fill="#ecca2d"/><path d="M1181.5 930.5L1200.3 930.5L1200.3 913.1L1181.5 913.1Z" fill="#ecca2d"/><path d="M1162.5 1051.8L1162.2 1051.5L1162.2 1034.2L1162.5 1034.4Z" fill="#a63734"/><path d="M1162.5 1051.8L1181.4 1051.8L1181.4 1034.4L1162.5 1034.4Z" fill="#a63734"/><path d="M1162.5 1034.4L1181.4 1034.4L1181 1034.2L1162.2 1034.2Z" fill="#94312e"/><path d="M1011.6 1069.1L1030.5 1069.1L1030.5 1051.8L1011.6 1051.8Z" fill="#ecbac4"/><path d="M1011.6 1051.8L1030.5 1051.8L1030.6 1051.5L1011.8 1051.5Z" fill="#d2a6ae"/><path d="M1143.7 1017.1L1143.4 1016.9L1143.5 999.7L1143.7 999.8Z" fill="#a63734"/><path d="M1143.7 1017.1L1162.6 1017.1L1162.6 999.8L1143.7 999.8Z" fill="#a63734"/><path d="M1030.6 913.1L1049.5 913.1L1049.5 895.7L1030.6 895.7Z" fill="#a63734"/><path d="M1030.6 913.1L1049.5 913.1L1049.5 913.3L1030.7 913.3Z" fill="#7c2927"/><path d="M1106 1034.4L1124.8 1034.4L1124.8 1017.1L1106 1017.1Z" fill="#882388"/><path d="M1124.9 999.8L1124.7 999.7L1124.7 982.4L1124.9 982.4Z" fill="#a63734"/><path d="M1124.9 999.8L1143.7 999.8L1143.7 982.4L1124.9 982.4Z" fill="#a63734"/><path d="M1068.3 965.1L1087.2 965.1L1087.2 947.8L1068.3 947.7Z" fill="#a63734"/><path d="M1370.9 913L1369.8 913.2L1369.8 895.9L1370.9 895.7Z" fill="#ce284c"/><path d="M1370.9 913L1389.7 913L1389.7 895.7L1370.9 895.7Z" fill="#ce284c"/><path d="M1370.9 913L1389.7 913L1388.6 913.3L1369.8 913.2Z" fill="#9a1e39"/><path d="M1030.2 1208.8L1049.1 1208.7L1049.2 1191.3L1030.2 1191.3Z" fill="#000000"/><path d="M1030.2 1191.3L1049.2 1191.3L1049.2 1190.5L1030.4 1190.6Z" fill="#000000"/><path d="M916.5 1139.2L917.1 1138.6L917.1 1121.2L916.5 1121.7Z" fill="#8e891e"/><path d="M897.5 1139.2L916.5 1139.2L916.5 1121.7L897.5 1121.8Z" fill="#ece432"/><path d="M897.5 1121.8L916.5 1121.7L917.1 1121.2L898.2 1121.2Z" fill="#d2cb2c"/><path d="M1276.4 965.1L1275.6 965.2L1275.7 947.8L1276.4 947.7Z" fill="#7a7a7a"/><path d="M1276.4 965.1L1295.3 965.1L1295.3 947.7L1276.4 947.7Z" fill="#7a7a7a"/><path d="M1219.7 860.8L1219.2 861.2L1219.2 843.9L1219.7 843.4Z" fill="#ceb496"/><path d="M1219.7 860.8L1238.6 860.8L1238.6 843.4L1219.7 843.4Z" fill="#ceb496"/><path d="M1219.7 860.8L1238.6 860.8L1238 861.2L1219.2 861.2Z" fill="#9a8770"/><path d="M1200.7 1104.2L1200.2 1103.8L1200.2 1086.4L1200.7 1086.8Z" fill="#882388"/><path d="M1200.7 1104.2L1219.6 1104.2L1219.6 1086.8L1200.7 1086.8Z" fill="#882388"/><path d="M1200.7 1086.8L1219.6 1086.8L1219.1 1086.4L1200.2 1086.4Z" fill="#791f79"/><path d="M1068.1 1121.7L1087.1 1121.7L1087.1 1104.3L1068.2 1104.3Z" fill="#0f32de"/><path d="M1068.2 1104.3L1087.1 1104.3L1087.1 1103.8L1068.2 1103.8Z" fill="#0d2cc6"/><path d="M1011.3 1086.9L1011.6 1086.5L1011.6 1069.1L1011.4 1069.5Z" fill="#091e85"/><path d="M992.4 1086.9L1011.3 1086.9L1011.4 1069.5L992.4 1069.5Z" fill="#0f32de"/><path d="M992.4 1069.5L1011.4 1069.5L1011.6 1069.1L992.7 1069.1Z" fill="#0d2cc6"/><path d="M1143.9 1069.5L1143.7 1069.1L1143.7 1051.8L1143.9 1052.1Z" fill="#882388"/><path d="M1143.9 1069.5L1162.8 1069.5L1162.9 1052.1L1143.9 1052.1Z" fill="#882388"/><path d="M1143.9 1052.1L1162.9 1052.1L1162.5 1051.8L1143.7 1051.8Z" fill="#791f79"/><path d="M1181.8 999.9L1181.4 999.8L1181.4 982.4L1181.8 982.5Z" fill="#ec745a"/><path d="M1181.8 999.9L1200.7 999.9L1200.7 982.5L1181.8 982.5Z" fill="#ec745a"/><path d="M1162.9 947.7L1162.6 947.8L1162.6 930.5L1162.9 930.3Z" fill="#ec745a"/><path d="M1162.9 947.7L1181.8 947.7L1181.9 930.3L1162.9 930.3Z" fill="#ec745a"/><path d="M1125 1034.7L1124.8 1034.4L1124.8 1017.1L1125 1017.3Z" fill="#882388"/><path d="M1125 1034.7L1143.9 1034.7L1144 1017.3L1125 1017.3Z" fill="#882388"/><path d="M1087.1 1052.1L1106.1 1052.1L1106.1 1034.7L1087.2 1034.7Z" fill="#888888"/><path d="M1087.2 1034.7L1106.1 1034.7L1106 1034.4L1087.1 1034.4Z" fill="#797979"/><path d="M1011.5 930.2L1030.4 930.2L1030.4 912.8L1011.5 912.8Z" fill="#882388"/><path d="M1106.1 1017.3L1125 1017.3L1125 999.9L1106.1 999.9Z" fill="#882388"/><path d="M1049.3 982.4L1068.3 982.5L1068.3 965.1L1049.3 965Z" fill="#882388"/><path d="M1353 930.2L1352 930.4L1352 913L1353 912.8Z" fill="#051980"/><path d="M1353 930.2L1371.9 930.2L1371.9 912.8L1353 912.8Z" fill="#051980"/><path d="M1011 1227.1L1030 1227.1L1030 1209.6L1011 1209.6Z" fill="#ece432"/><path d="M1011 1209.6L1030 1209.6L1030.2 1208.8L1011.2 1208.8Z" fill="#d2cb2c"/><path d="M896.9 1157.3L897.5 1156.6L897.5 1139.2L896.9 1139.8Z" fill="#8b170e"/><path d="M877.8 1157.3L896.9 1157.3L896.9 1139.8L877.8 1139.8Z" fill="#e82618"/><path d="M877.8 1139.8L896.9 1139.8L897.5 1139.2L878.6 1139.2Z" fill="#ce2215"/><path d="M1258.1 982.5L1257.5 982.5L1257.5 965.1L1258.1 965.1Z" fill="#ecca2d"/><path d="M1258.1 982.5L1277.1 982.5L1277.1 965.1L1258.1 965.1Z" fill="#ecca2d"/><path d="M1182.1 1122.2L1181.7 1121.6L1181.7 1104.2L1182.1 1104.7Z" fill="#888888"/><path d="M1182.1 1122.2L1201.1 1122.2L1201.1 1104.7L1182.1 1104.7Z" fill="#888888"/><path d="M1182.1 1104.7L1201.1 1104.7L1200.7 1104.2L1181.7 1104.2Z" fill="#797979"/><path d="M1201.3 877.8L1200.8 878.2L1200.8 860.8L1201.3 860.4Z" fill="#7a7a7a"/><path d="M1201.3 877.8L1220.2 877.8L1220.3 860.4L1201.3 860.4Z" fill="#7a7a7a"/><path d="M1201.3 877.8L1220.2 877.8L1219.7 878.2L1200.8 878.2Z" fill="#5c5c5c"/><path d="M1049.1 1139.7L1068.1 1139.7L1068.1 1122.2L1049.1 1122.2Z" fill="#eca528"/><path d="M1049.1 1122.2L1068.1 1122.2L1068.1 1121.7L1049.2 1121.7Z" fill="#d29324"/><path d="M992.1 1104.8L992.4 1104.3L992.4 1086.9L992.1 1087.3Z" fill="#8e6318"/><path d="M973.1 1104.8L992.1 1104.8L992.1 1087.3L973.1 1087.3Z" fill="#eca528"/><path d="M973.1 1087.3L992.1 1087.3L992.4 1086.9L973.4 1086.9Z" fill="#d29324"/><path d="M1125.2 1087.3L1125 1086.9L1125 1069.5L1125.2 1069.8Z" fill="#888888"/><path d="M1125.2 1087.3L1144.2 1087.3L1144.2 1069.8L1125.2 1069.8Z" fill="#888888"/><path d="M1125.2 1069.8L1144.2 1069.8L1143.9 1069.5L1125 1069.5Z" fill="#797979"/><path d="M1163.2 1017.4L1162.9 1017.3L1162.9 999.9L1163.2 1000Z" fill="#a63734"/><path d="M1163.2 1017.4L1182.2 1017.4L1182.2 1000L1163.2 1000Z" fill="#a63734"/><path d="M1068.2 1069.8L1087.2 1069.8L1087.2 1052.3L1068.2 1052.3Z" fill="#ecbac4"/><path d="M1068.2 1052.3L1087.2 1052.3L1087.1 1052.1L1068.2 1052.1Z" fill="#d2a6ae"/><path d="M1106.2 1052.3L1125.2 1052.3L1125.2 1034.9L1106.2 1034.9Z" fill="#888888"/><path d="M1106.2 1034.9L1125.2 1034.9L1125 1034.7L1106.1 1034.7Z" fill="#797979"/><path d="M1144.2 965L1144 965.1L1144 947.7L1144.3 947.6Z" fill="#a63734"/><path d="M1144.2 965L1163.2 965.1L1163.2 947.6L1144.3 947.6Z" fill="#a63734"/><path d="M1011.2 947.5L1011.5 947.6L1011.5 930.2L1011.2 930.1Z" fill="#525252"/><path d="M992.2 947.5L1011.2 947.5L1011.2 930.1L992.2 930.1Z" fill="#888888"/><path d="M1087.2 1034.9L1106.2 1034.9L1106.2 1017.4L1087.2 1017.4Z" fill="#888888"/><path d="M1087.2 1017.4L1106.2 1017.4L1106.1 1017.3L1087.2 1017.3Z" fill="#797979"/><path d="M1030.2 999.9L1049.2 999.9L1049.2 982.5L1030.2 982.5Z" fill="#888888"/><path d="M1010.8 1245.6L1011 1244.6L1011 1227.1L1010.8 1228Z" fill="#8b170e"/><path d="M991.7 1245.6L1010.8 1245.6L1010.8 1228L991.7 1228Z" fill="#e82618"/><path d="M991.7 1228L1010.8 1228L1011 1227.1L992 1227.1Z" fill="#ce2215"/><path d="M1335 947.6L1334 947.7L1334 930.2L1335 930.1Z" fill="#ceb496"/><path d="M1335 947.6L1354 947.6L1354 930.1L1335 930.1Z" fill="#ceb496"/><path d="M1163.4 1140.2L1163.1 1139.6L1163.1 1122.2L1163.5 1122.7Z" fill="#ecbac4"/><path d="M1163.4 1140.2L1182.5 1140.2L1182.5 1122.7L1163.5 1122.7Z" fill="#ecbac4"/><path d="M1163.5 1122.7L1182.5 1122.7L1182.1 1122.2L1163.1 1122.2Z" fill="#d2a6ae"/><path d="M1029.9 1157.9L1049 1157.8L1049 1140.3L1029.9 1140.3Z" fill="#000000"/><path d="M1029.9 1140.3L1049 1140.3L1049.1 1139.7L1030.1 1139.7Z" fill="#000000"/><path d="M972.7 1122.8L973 1122.3L973.1 1104.8L972.7 1105.3Z" fill="#000000"/><path d="M953.6 1122.8L972.7 1122.8L972.7 1105.3L953.6 1105.3Z" fill="#000000"/><path d="M953.6 1105.3L972.7 1105.3L973.1 1104.8L954 1104.8Z" fill="#000000"/><path d="M1239.7 1000.1L1239.1 1000L1239.2 982.5L1239.8 982.6Z" fill="#ec745a"/><path d="M1239.7 1000.1L1258.8 1000.1L1258.8 982.6L1239.8 982.6Z" fill="#ec745a"/><path d="M1182.7 895L1182.3 895.2L1182.3 877.8L1182.7 877.4Z" fill="#ecca2d"/><path d="M1182.7 895L1201.7 895L1201.7 877.5L1182.7 877.4Z" fill="#ecca2d"/><path d="M1182.7 895L1201.7 895L1201.3 895.3L1182.3 895.2Z" fill="#b19822"/><path d="M1106.3 1105.2L1125.3 1105.2L1125.4 1087.7L1106.3 1087.7Z" fill="#ecbac4"/><path d="M1106.3 1087.7L1125.4 1087.7L1125.2 1087.3L1106.2 1087.3Z" fill="#d2a6ae"/><path d="M1049.1 1087.7L1068.1 1087.7L1068.2 1070.2L1049.1 1070.2Z" fill="#0f32de"/><path d="M1049.1 1070.2L1068.2 1070.2L1068.2 1069.8L1049.2 1069.8Z" fill="#0d2cc6"/><path d="M1144.5 1035.1L1144.2 1034.9L1144.2 1017.4L1144.5 1017.6Z" fill="#882388"/><path d="M1144.5 1035.1L1163.5 1035.1L1163.5 1017.6L1144.5 1017.6Z" fill="#882388"/><path d="M1144.5 1017.6L1163.5 1017.6L1163.2 1017.4L1144.2 1017.4Z" fill="#791f79"/><path d="M1087.2 1070.2L1106.3 1070.2L1106.3 1052.6L1087.2 1052.6Z" fill="#ecbac4"/><path d="M1087.2 1052.6L1106.3 1052.6L1106.2 1052.3L1087.2 1052.3Z" fill="#d2a6ae"/><path d="M991.9 965L992.2 965L992.2 947.5L991.9 947.4Z" fill="#8e7076"/><path d="M972.8 965L991.9 965L991.9 947.4L972.8 947.4Z" fill="#ecbac4"/><path d="M1068.2 1052.6L1087.2 1052.6L1087.3 1035.1L1068.2 1035.1Z" fill="#ecbac4"/><path d="M1068.2 1035.1L1087.3 1035.1L1087.2 1034.9L1068.2 1034.9Z" fill="#d2a6ae"/><path d="M1010.9 1017.6L1030 1017.6L1030 1000L1011 1000Z" fill="#ecbac4"/><path d="M1125.4 982.5L1125.2 982.5L1125.3 965L1125.4 965Z" fill="#882388"/><path d="M1125.4 982.5L1144.5 982.5L1144.5 965L1125.4 965Z" fill="#882388"/><path d="M1316.8 965L1315.9 965.1L1315.9 947.6L1316.8 947.5Z" fill="#7a7a7a"/><path d="M1316.8 965L1335.9 965L1335.9 947.5L1316.8 947.5Z" fill="#7a7a7a"/><path d="M1010.6 1176.1L1029.7 1176.1L1029.8 1158.5L1010.6 1158.5Z" fill="#ece432"/><path d="M1010.6 1158.5L1029.8 1158.5L1029.9 1157.9L1010.8 1157.9Z" fill="#d2cb2c"/><path d="M953.1 1141L953.6 1140.4L953.6 1122.8L953.1 1123.4Z" fill="#8e891e"/><path d="M934 1141L953.1 1141L953.1 1123.4L934 1123.4Z" fill="#ece432"/><path d="M934 1123.4L953.1 1123.4L953.6 1122.8L934.5 1122.8Z" fill="#d2cb2c"/><path d="M1144.6 1158.5L1144.4 1157.8L1144.4 1140.3L1144.6 1140.9Z" fill="#0f32de"/><path d="M1144.6 1158.5L1163.8 1158.4L1163.8 1140.9L1144.6 1140.9Z" fill="#0f32de"/><path d="M1144.6 1140.9L1163.8 1140.9L1163.4 1140.2L1144.4 1140.3Z" fill="#0d2cc6"/><path d="M1221.2 1017.7L1220.7 1017.6L1220.7 1000.1L1221.2 1000.2Z" fill="#a63734"/><path d="M1221.2 1017.7L1240.3 1017.7L1240.4 1000.2L1221.2 1000.2Z" fill="#a63734"/><path d="M1087.2 1123.3L1106.4 1123.3L1106.4 1105.7L1087.3 1105.7Z" fill="#0f32de"/><path d="M1087.3 1105.7L1106.4 1105.7L1106.3 1105.2L1087.2 1105.2Z" fill="#0d2cc6"/><path d="M1029.8 1105.7L1049 1105.7L1049 1088.1L1029.8 1088.1Z" fill="#eca528"/><path d="M1029.8 1088.1L1049 1088.1L1049.1 1087.7L1030 1087.7Z" fill="#d29324"/><path d="M1163.9 912.2L1163.6 912.5L1163.6 894.9L1163.9 894.7Z" fill="#ec745a"/><path d="M1163.9 912.2L1183.1 912.3L1183.1 894.7L1163.9 894.7Z" fill="#ec745a"/><path d="M1163.9 912.2L1183.1 912.3L1182.7 912.5L1163.6 912.5Z" fill="#b15744"/><path d="M1068.1 1088.1L1087.3 1088.1L1087.3 1070.5L1068.1 1070.5Z" fill="#0f32de"/><path d="M1068.1 1070.5L1087.3 1070.5L1087.2 1070.2L1068.2 1070.2Z" fill="#0d2cc6"/><path d="M972.4 982.5L972.8 982.5L972.8 965L972.4 964.9Z" fill="#091e85"/><path d="M953.3 982.5L972.4 982.5L972.4 964.9L953.3 964.9Z" fill="#0f32de"/><path d="M1125.6 1052.9L1125.4 1052.6L1125.4 1035.1L1125.6 1035.3Z" fill="#888888"/><path d="M1125.6 1052.9L1144.7 1052.9L1144.7 1035.3L1125.6 1035.3Z" fill="#888888"/><path d="M1125.6 1035.3L1144.7 1035.3L1144.5 1035.1L1125.4 1035.1Z" fill="#797979"/><path d="M1049 1070.5L1068.1 1070.5L1068.1 1052.9L1049 1052.9Z" fill="#0f32de"/><path d="M1049 1052.9L1068.1 1052.9L1068.2 1052.6L1049.1 1052.6Z" fill="#0d2cc6"/><path d="M1010.7 1035.3L1010.9 1035.1L1010.9 1017.6L1010.7 1017.7Z" fill="#091e85"/><path d="M991.5 1035.3L1010.7 1035.3L1010.7 1017.7L991.6 1017.7Z" fill="#0f32de"/><path d="M991.6 1017.7L1010.7 1017.7L1010.9 1017.6L991.9 1017.6Z" fill="#0d2cc6"/><path d="M1106.5 1000.2L1125.6 1000.2L1125.6 982.6L1106.5 982.6Z" fill="#888888"/><path d="M933.4 1159.3L933.9 1158.6L934 1141L933.4 1141.6Z" fill="#8b170e"/><path d="M914.2 1159.3L933.4 1159.3L933.4 1141.6L914.2 1141.6Z" fill="#e82618"/><path d="M914.2 1141.6L933.4 1141.6L934 1141L914.8 1141Z" fill="#ce2215"/><path d="M1010.3 1194.6L1010.6 1193.7L1010.6 1176.1L1010.4 1176.9Z" fill="#8b170e"/><path d="M991.1 1194.6L1010.3 1194.6L1010.4 1176.9L991.1 1176.9Z" fill="#e82618"/><path d="M991.1 1176.9L1010.4 1176.9L1010.6 1176.1L991.4 1176.2Z" fill="#ce2215"/><path d="M1298.5 982.6L1297.7 982.6L1297.7 965L1298.5 965Z" fill="#ecca2d"/><path d="M1298.5 982.6L1317.7 982.6L1317.7 965L1298.5 965Z" fill="#ecca2d"/><path d="M1125.7 1176.8L1125.5 1176.1L1125.5 1158.5L1125.7 1159.1Z" fill="#eca528"/><path d="M1125.7 1176.8L1144.9 1176.8L1144.9 1159.1L1125.7 1159.1Z" fill="#eca528"/><path d="M1125.7 1159.1L1144.9 1159.1L1144.6 1158.5L1125.5 1158.5Z" fill="#d29324"/><path d="M1068.1 1141.5L1087.3 1141.5L1087.3 1123.9L1068.1 1123.9Z" fill="#eca528"/><path d="M1068.1 1123.9L1087.3 1123.9L1087.2 1123.3L1068.1 1123.3Z" fill="#d29324"/><path d="M1010.4 1123.9L1029.6 1123.9L1029.6 1106.2L1010.4 1106.2Z" fill="#000000"/><path d="M1010.4 1106.2L1029.6 1106.2L1029.8 1105.7L1010.6 1105.7Z" fill="#000000"/><path d="M1202.6 1035.6L1202.1 1035.3L1202.1 1017.7L1202.6 1017.9Z" fill="#882388"/><path d="M1202.6 1035.6L1221.8 1035.6L1221.8 1017.9L1202.6 1017.9Z" fill="#882388"/><path d="M1202.6 1017.9L1221.8 1017.9L1221.2 1017.7L1202.1 1017.7Z" fill="#791f79"/><path d="M1048.9 1106.2L1068.1 1106.2L1068.1 1088.5L1048.9 1088.5Z" fill="#eca528"/><path d="M1048.9 1088.5L1068.1 1088.5L1068.1 1088.1L1049 1088.1Z" fill="#d29324"/><path d="M952.8 1000.2L953.2 1000.1L953.3 982.5L952.8 982.6Z" fill="#8e6318"/><path d="M933.6 1000.2L952.8 1000.2L952.8 982.6L933.6 982.6Z" fill="#eca528"/><path d="M1029.7 1088.5L1048.9 1088.5L1048.9 1070.9L1029.7 1070.9Z" fill="#eca528"/><path d="M1029.7 1070.9L1048.9 1070.9L1049 1070.5L1029.8 1070.5Z" fill="#d29324"/><path d="M991.2 1053.2L991.5 1052.9L991.5 1035.3L991.2 1035.6Z" fill="#8e6318"/><path d="M972 1053.2L991.2 1053.2L991.2 1035.6L972 1035.6Z" fill="#eca528"/><path d="M972 1035.6L991.2 1035.6L991.5 1035.3L972.4 1035.3Z" fill="#d29324"/><path d="M1106.5 1070.9L1125.8 1070.9L1125.8 1053.2L1106.6 1053.2Z" fill="#ecbac4"/><path d="M1106.6 1053.2L1125.8 1053.2L1125.6 1052.9L1106.4 1052.9Z" fill="#d2a6ae"/><path d="M1145.1 929.7L1144.8 929.8L1144.8 912.2L1145.1 912Z" fill="#a63734"/><path d="M1145.1 929.7L1164.3 929.7L1164.3 912L1145.1 912Z" fill="#a63734"/><path d="M1145.1 929.7L1164.3 929.7L1163.9 929.8L1144.8 929.8Z" fill="#7c2927"/><path d="M1087.4 1017.9L1106.6 1017.9L1106.6 1000.2L1087.4 1000.2Z" fill="#ecbac4"/><path d="M1106.6 1195.3L1125.9 1195.3L1125.9 1177.6L1106.6 1177.6Z" fill="#000000"/><path d="M1106.6 1177.6L1125.9 1177.6L1125.7 1176.8L1106.5 1176.8Z" fill="#000000"/><path d="M1280.1 1000.4L1279.3 1000.3L1279.3 982.6L1280.1 982.7Z" fill="#ec745a"/><path d="M1280.1 1000.4L1299.3 1000.4L1299.3 982.7L1280.1 982.7Z" fill="#ec745a"/><path d="M1048.7 1159.9L1068 1159.9L1068 1142.1L1048.7 1142.2Z" fill="#000000"/><path d="M1048.7 1142.2L1068 1142.1L1068.1 1141.5L1048.8 1141.5Z" fill="#000000"/><path d="M1010.2 1142.2L1010.4 1141.6L1010.4 1123.9L1010.2 1124.4Z" fill="#8e891e"/><path d="M990.9 1142.2L1010.2 1142.2L1010.2 1124.4L990.9 1124.4Z" fill="#ece432"/><path d="M990.9 1124.4L1010.2 1124.4L1010.4 1123.9L991.2 1123.9Z" fill="#d2cb2c"/><path d="M1029.5 1124.4L1048.8 1124.4L1048.8 1106.7L1029.5 1106.7Z" fill="#000000"/><path d="M1029.5 1106.7L1048.8 1106.7L1048.9 1106.2L1029.6 1106.2Z" fill="#000000"/><path d="M933 1018.1L933.6 1017.9L933.6 1000.2L933.1 1000.3Z" fill="#000000"/><path d="M913.7 1018.1L933 1018.1L933.1 1000.3L913.7 1000.3Z" fill="#000000"/><path d="M971.6 1071.3L972 1070.9L972 1053.2L971.6 1053.5Z" fill="#000000"/><path d="M952.3 1071.3L971.6 1071.3L971.6 1053.5L952.3 1053.5Z" fill="#000000"/><path d="M952.3 1053.5L971.6 1053.5L972 1053.2L952.8 1053.2Z" fill="#000000"/><path d="M1010.2 1106.7L1029.5 1106.7L1029.5 1089L1010.2 1089Z" fill="#000000"/><path d="M1010.2 1089L1029.5 1089L1029.7 1088.5L1010.4 1088.6Z" fill="#000000"/><path d="M1183.8 1053.5L1183.4 1053.2L1183.4 1035.6L1183.8 1035.8Z" fill="#888888"/><path d="M1183.8 1053.5L1203 1053.5L1203 1035.8L1183.8 1035.8Z" fill="#888888"/><path d="M1183.8 1035.8L1203 1035.8L1202.6 1035.6L1183.4 1035.6Z" fill="#797979"/><path d="M1087.4 1089L1106.7 1089L1106.7 1071.2L1087.4 1071.2Z" fill="#0f32de"/><path d="M1087.4 1071.2L1106.7 1071.2L1106.5 1070.9L1087.3 1070.9Z" fill="#0d2cc6"/><path d="M1126 947.2L1125.8 947.3L1125.8 929.6L1126 929.5Z" fill="#882388"/><path d="M1126 947.2L1145.3 947.2L1145.3 929.5L1126 929.5Z" fill="#882388"/><path d="M1068.1 1035.8L1087.4 1035.8L1087.4 1018.1L1068.1 1018.1Z" fill="#0f32de"/><path d="M1068.1 1018.1L1087.4 1018.1L1087.4 1017.9L1068.2 1017.9Z" fill="#0d2cc6"/><path d="M1087.3 1213.9L1106.7 1213.9L1106.7 1196.1L1087.3 1196.1Z" fill="#ece432"/><path d="M1087.3 1196.1L1106.7 1196.1L1106.6 1195.3L1087.3 1195.3Z" fill="#d2cb2c"/><path d="M1029.3 1178.4L1048.6 1178.4L1048.6 1160.6L1029.3 1160.6Z" fill="#ece432"/><path d="M1029.3 1160.6L1048.6 1160.6L1048.7 1159.9L1029.4 1159.9Z" fill="#d2cb2c"/><path d="M990.5 1160.6L990.8 1159.9L990.9 1142.2L990.5 1142.8Z" fill="#8b170e"/><path d="M971.2 1160.6L990.5 1160.6L990.5 1142.8L971.2 1142.8Z" fill="#e82618"/><path d="M971.2 1142.8L990.5 1142.8L990.9 1142.2L971.5 1142.2Z" fill="#ce2215"/><path d="M1261.5 1018.2L1260.8 1018.1L1260.8 1000.4L1261.5 1000.5Z" fill="#a63734"/><path d="M1261.5 1018.2L1280.8 1018.2L1280.9 1000.5L1261.5 1000.5Z" fill="#a63734"/><path d="M1009.9 1142.8L1029.3 1142.8L1029.3 1125L1009.9 1125Z" fill="#ece432"/><path d="M1009.9 1125L1029.3 1125L1029.5 1124.4L1010.2 1124.4Z" fill="#d2cb2c"/><path d="M913.1 1036L913.7 1035.8L913.7 1018.1L913.1 1018.2Z" fill="#8e891e"/><path d="M893.7 1036L913.1 1036L913.1 1018.2L893.7 1018.2Z" fill="#ece432"/><path d="M893.7 1018.2L913.1 1018.2L913.7 1018.1L894.4 1018.1Z" fill="#d2cb2c"/><path d="M951.8 1089.4L952.3 1089L952.3 1071.3L951.9 1071.6Z" fill="#8e891e"/><path d="M932.5 1089.4L951.8 1089.4L951.9 1071.6L932.5 1071.6Z" fill="#ece432"/><path d="M932.5 1071.6L951.9 1071.6L952.3 1071.3L933 1071.3Z" fill="#d2cb2c"/><path d="M1009.9 1125L1010.2 1124.4L1010.2 1106.7L1010 1107.2Z" fill="#8e891e"/><path d="M990.6 1125L1009.9 1125L1010 1107.2L990.6 1107.2Z" fill="#ece432"/><path d="M990.6 1107.2L1010 1107.2L1010.2 1106.7L990.9 1106.7Z" fill="#d2cb2c"/><path d="M1164.8 1071.6L1164.5 1071.2L1164.5 1053.5L1164.8 1053.8Z" fill="#ecbac4"/><path d="M1164.8 1071.6L1184.2 1071.6L1184.2 1053.8L1164.8 1053.8Z" fill="#ecbac4"/><path d="M1164.8 1053.8L1184.2 1053.8L1183.8 1053.5L1164.5 1053.5Z" fill="#d2a6ae"/><path d="M1068 1107.2L1087.4 1107.2L1087.4 1089.4L1068.1 1089.4Z" fill="#eca528"/><path d="M1068.1 1089.4L1087.4 1089.4L1087.4 1089L1068.1 1089Z" fill="#d29324"/><path d="M1048.7 1053.8L1068.1 1053.8L1068.1 1036L1048.7 1036Z" fill="#eca528"/><path d="M1048.7 1036L1068.1 1036L1068.1 1035.8L1048.8 1035.8Z" fill="#d29324"/><path d="M1106.9 964.9L1126.2 964.9L1126.2 947.1L1106.9 947.1Z" fill="#888888"/><path d="M1067.9 1232.7L1087.4 1232.7L1087.4 1214.8L1067.9 1214.8Z" fill="#e82618"/><path d="M1067.9 1214.8L1087.4 1214.8L1087.3 1213.9L1068 1213.9Z" fill="#ce2215"/><path d="M1009.6 1197L1029.1 1197L1029.1 1179.1L1009.7 1179.2Z" fill="#e82618"/><path d="M1009.7 1179.2L1029.1 1179.1L1029.3 1178.4L1009.9 1178.4Z" fill="#ce2215"/><path d="M1009.7 1161.3L1009.9 1160.6L1009.9 1142.8L1009.7 1143.4Z" fill="#8b170e"/><path d="M990.2 1161.3L1009.7 1161.3L1009.7 1143.4L990.2 1143.4Z" fill="#e82618"/><path d="M990.2 1143.4L1009.7 1143.4L1009.9 1142.8L990.5 1142.8Z" fill="#ce2215"/><path d="M893 1054.1L893.7 1053.8L893.7 1036L893.1 1036.3Z" fill="#8b170e"/><path d="M873.6 1054.1L893 1054.1L893.1 1036.3L873.6 1036.3Z" fill="#e82618"/><path d="M873.6 1036.3L893.1 1036.3L893.7 1036L874.3 1036Z" fill="#ce2215"/><path d="M931.9 1107.7L932.4 1107.2L932.5 1089.4L931.9 1089.9Z" fill="#8b170e"/><path d="M912.5 1107.7L931.9 1107.7L931.9 1089.9L912.5 1089.9Z" fill="#e82618"/><path d="M912.5 1089.9L931.9 1089.9L932.5 1089.4L913.1 1089.4Z" fill="#ce2215"/><path d="M990.2 1143.4L990.5 1142.8L990.6 1125L990.3 1125.6Z" fill="#8b170e"/><path d="M970.8 1143.4L990.2 1143.4L990.3 1125.6L970.8 1125.6Z" fill="#e82618"/><path d="M970.8 1125.6L990.3 1125.6L990.6 1125L971.2 1125Z" fill="#ce2215"/><path d="M1242.8 1036.2L1242.2 1036L1242.2 1018.2L1242.8 1018.4Z" fill="#882388"/><path d="M1242.8 1036.2L1262.2 1036.2L1262.2 1018.4L1242.8 1018.4Z" fill="#882388"/><path d="M1242.8 1018.4L1262.2 1018.4L1261.5 1018.2L1242.2 1018.2Z" fill="#791f79"/><path d="M1048.6 1125.5L1068 1125.5L1068 1107.7L1048.6 1107.7Z" fill="#000000"/><path d="M1048.6 1107.7L1068 1107.7L1068 1107.2L1048.7 1107.2Z" fill="#000000"/><path d="M1145.7 1089.8L1145.5 1089.4L1145.5 1071.6L1145.8 1071.9Z" fill="#0f32de"/><path d="M1145.7 1089.8L1165.2 1089.8L1165.2 1071.9L1145.8 1071.9Z" fill="#0f32de"/><path d="M1145.8 1071.9L1165.2 1071.9L1164.8 1071.6L1145.5 1071.6Z" fill="#0d2cc6"/><path d="M1029.2 1072L1048.6 1072L1048.6 1054.1L1029.2 1054.1Z" fill="#000000"/><path d="M1029.2 1054.1L1048.6 1054.1L1048.7 1053.8L1029.4 1053.8Z" fill="#000000"/><path d="M1087.6 982.7L1107 982.7L1107 964.8L1087.6 964.8Z" fill="#ecbac4"/><path d="M1029 1144L1048.5 1144L1048.5 1126.1L1029 1126.1Z" fill="#ece432"/><path d="M1029 1126.1L1048.5 1126.1L1048.6 1125.5L1029.1 1125.6Z" fill="#d2cb2c"/><path d="M1224 1054.4L1223.4 1054.1L1223.4 1036.2L1224 1036.5Z" fill="#888888"/><path d="M1224 1054.4L1243.4 1054.4L1243.4 1036.5L1224 1036.5Z" fill="#888888"/><path d="M1224 1036.5L1243.4 1036.5L1242.8 1036.2L1223.4 1036.2Z" fill="#797979"/><path d="M1126.5 1108.2L1126.3 1107.7L1126.3 1089.8L1126.5 1090.2Z" fill="#eca528"/><path d="M1126.5 1108.2L1146 1108.1L1146 1090.2L1126.5 1090.2Z" fill="#eca528"/><path d="M1126.5 1090.2L1146 1090.2L1145.7 1089.8L1126.3 1089.8Z" fill="#d29324"/><path d="M1009.5 1090.3L1029 1090.3L1029 1072.3L1009.5 1072.3Z" fill="#ece432"/><path d="M1009.5 1072.3L1029 1072.3L1029.2 1072L1009.7 1072Z" fill="#d2cb2c"/><path d="M1068.1 1000.6L1087.6 1000.6L1087.6 982.7L1068.1 982.7Z" fill="#0f32de"/><path d="M1009.2 1162.7L1028.8 1162.7L1028.8 1144.7L1009.2 1144.7Z" fill="#e82618"/><path d="M1009.2 1144.7L1028.8 1144.7L1029 1144L1009.4 1144.1Z" fill="#ce2215"/><path d="M1205 1072.7L1204.5 1072.3L1204.5 1054.4L1205 1054.7Z" fill="#ecbac4"/><path d="M1205 1072.7L1224.5 1072.7L1224.5 1054.7L1205 1054.7Z" fill="#ecbac4"/><path d="M1205 1054.7L1224.5 1054.7L1224 1054.4L1204.5 1054.4Z" fill="#d2a6ae"/><path d="M1107.1 1126.7L1126.7 1126.6L1126.7 1108.7L1107.1 1108.7Z" fill="#000000"/><path d="M1107.1 1108.7L1126.7 1108.7L1126.5 1108.2L1107 1108.2Z" fill="#000000"/><path d="M1009.2 1108.7L1009.5 1108.2L1009.5 1090.3L1009.3 1090.7Z" fill="#8b170e"/><path d="M989.6 1108.7L1009.2 1108.7L1009.3 1090.7L989.7 1090.7Z" fill="#e82618"/><path d="M989.7 1090.7L1009.3 1090.7L1009.5 1090.3L990 1090.3Z" fill="#ce2215"/><path d="M1048.5 1018.7L1068.1 1018.7L1068.1 1000.7L1048.5 1000.7Z" fill="#eca528"/><path d="M1087.6 1145.3L1107.2 1145.3L1107.3 1127.2L1087.6 1127.2Z" fill="#ece432"/><path d="M1087.6 1127.2L1107.3 1127.2L1107.1 1126.7L1087.6 1126.7Z" fill="#d2cb2c"/><path d="M1185.8 1091.1L1185.4 1090.7L1185.4 1072.7L1185.8 1073Z" fill="#0f32de"/><path d="M1185.8 1091.1L1205.4 1091.1L1205.5 1073L1185.8 1073Z" fill="#0f32de"/><path d="M1185.8 1073L1205.5 1073L1205 1072.7L1185.4 1072.7Z" fill="#0d2cc6"/><path d="M1028.7 1037L1048.4 1037L1048.4 1018.9L1028.7 1018.9Z" fill="#000000"/><path d="M1028.7 1018.9L1048.4 1018.9L1048.5 1018.7L1028.9 1018.7Z" fill="#000000"/><path d="M1067.9 1164.1L1087.6 1164.1L1087.6 1145.9L1067.9 1146Z" fill="#e82618"/><path d="M1067.9 1146L1087.6 1145.9L1087.6 1145.3L1067.9 1145.3Z" fill="#ce2215"/><path d="M1166.5 1109.7L1166.2 1109.2L1166.2 1091.1L1166.5 1091.5Z" fill="#eca528"/><path d="M1166.5 1109.7L1186.2 1109.7L1186.2 1091.5L1166.5 1091.5Z" fill="#eca528"/><path d="M1166.5 1091.5L1186.2 1091.5L1185.8 1091.1L1166.2 1091.1Z" fill="#d29324"/><path d="M1028.5 1055.3L1028.7 1055L1028.7 1037L1028.5 1037.2Z" fill="#8e891e"/><path d="M1008.8 1055.3L1028.5 1055.3L1028.5 1037.2L1008.8 1037.2Z" fill="#ece432"/><path d="M1008.8 1037.2L1028.5 1037.2L1028.7 1037L1009.1 1037Z" fill="#d2cb2c"/><path d="M1147.1 1128.4L1146.8 1127.8L1146.8 1109.7L1147.1 1110.2Z" fill="#000000"/><path d="M1147.1 1128.4L1166.9 1128.4L1166.9 1110.2L1147.1 1110.2Z" fill="#000000"/><path d="M1147.1 1110.2L1166.9 1110.2L1166.5 1109.7L1146.8 1109.7Z" fill="#000000"/><path d="M1008.5 1073.8L1008.8 1073.5L1008.8 1055.3L1008.6 1055.6Z" fill="#8b170e"/><path d="M988.7 1073.8L1008.5 1073.8L1008.6 1055.6L988.7 1055.6Z" fill="#e82618"/><path d="M988.7 1055.6L1008.6 1055.6L1008.8 1055.3L989.1 1055.3Z" fill="#ce2215"/><path d="M1127.5 1147.2L1127.3 1146.6L1127.3 1128.4L1127.5 1129Z" fill="#ece432"/><path d="M1127.5 1147.2L1147.4 1147.2L1147.4 1129L1127.5 1129Z" fill="#ece432"/><path d="M1127.5 1129L1147.4 1129L1147.1 1128.4L1127.3 1128.4Z" fill="#d2cb2c"/><path d="M1107.7 1166.2L1127.7 1166.2L1127.7 1147.9L1107.8 1147.9Z" fill="#e82618"/><path d="M1107.8 1147.9L1127.7 1147.9L1127.5 1147.2L1107.6 1147.2Z" fill="#ce2215"/></g></g><g font-family="'DejaVu Sans','Liberation Sans',sans-serif"><text transform="translate(867.8 1308.3) scale(0.84 1)" y="8.6" font-size="23.5" font-weight="normal" text-anchor="middle" fill="#1a1a1a">4</text><text transform="translate(907.9 1308.3) scale(0.84 1)" y="8.6" font-size="23.5" font-weight="normal" text-anchor="middle" fill="#1a1a1a">6</text><text transform="translate(948 1308.3) scale(0.84 1)" y="8.6" font-size="23.5" font-weight="normal" text-anchor="middle" fill="#1a1a1a">8</text><text transform="translate(988 1308.3) scale(0.84 1)" y="8.6" font-size="23.5" font-weight="normal" text-anchor="middle" fill="#1a1a1a">10</text><text transform="translate(1028 1308.3) scale(0.84 1)" y="8.6" font-size="23.5" font-weight="normal" text-anchor="middle" fill="#1a1a1a">12</text><text transform="translate(1068.1 1308.3) scale(0.84 1)" y="8.6" font-size="23.5" font-weight="normal" text-anchor="middle" fill="#1a1a1a">14</text><text transform="translate(1108.1 1308.3) scale(0.84 1)" y="8.6" font-size="23.5" font-weight="normal" text-anchor="middle" fill="#1a1a1a">16</text><text transform="translate(1148 1308.3) scale(0.84 1)" y="8.6" font-size="23.5" font-weight="normal" text-anchor="middle" fill="#1a1a1a">18</text><text transform="translate(1188 1308.3) scale(0.84 1)" y="8.6" font-size="23.5" font-weight="normal" text-anchor="middle" fill="#1a1a1a">20</text><text transform="translate(1228 1308.3) scale(0.84 1)" y="8.6" font-size="23.5" font-weight="normal" text-anchor="middle" fill="#1a1a1a">22</text><text transform="translate(1267.9 1308.3) scale(0.84 1)" y="8.6" font-size="23.5" font-weight="normal" text-anchor="middle" fill="#1a1a1a">24</text><text transform="translate(1307.8 1308.3) scale(0.84 1)" y="8.6" font-size="23.5" font-weight="normal" text-anchor="middle" fill="#1a1a1a">26</text><text transform="translate(1347.8 1308.3) scale(0.84 1)" y="8.6" font-size="23.5" font-weight="normal" text-anchor="middle" fill="#1a1a1a">28</text><text transform="translate(1387.7 1308.3) scale(0.84 1)" y="8.6" font-size="23.5" font-weight="normal" text-anchor="middle" fill="#1a1a1a">30</text><text transform="translate(1427.5 1308.3) scale(0.84 1)" y="8.6" font-size="23.5" font-weight="normal" text-anchor="middle" fill="#1a1a1a">32</text><text transform="translate(1467.4 1308.3) scale(0.84 1)" y="8.6" font-size="23.5" font-weight="normal" text-anchor="middle" fill="#1a1a1a">34</text><text transform="translate(856.3 1220.3) scale(0.84 1)" y="8.6" font-size="23.5" font-weight="normal" text-anchor="middle" fill="#1a1a1a">6</text><text transform="translate(856.3 1187.7) scale(0.84 1)" y="8.6" font-size="23.5" font-weight="normal" text-anchor="middle" fill="#1a1a1a">8</text><text transform="translate(855 1155) scale(0.84 1)" y="8.6" font-size="23.5" font-weight="normal" text-anchor="middle" fill="#1a1a1a">10</text><text transform="translate(855 1122.4) scale(0.84 1)" y="8.6" font-size="23.5" font-weight="normal" text-anchor="middle" fill="#1a1a1a">12</text><text transform="translate(855 1089.7) scale(0.84 1)" y="8.6" font-size="23.5" font-weight="normal" text-anchor="middle" fill="#1a1a1a">14</text><text transform="translate(855 1057.1) scale(0.84 1)" y="8.6" font-size="23.5" font-weight="normal" text-anchor="middle" fill="#1a1a1a">16</text><text transform="translate(855 1024.5) scale(0.84 1)" y="8.6" font-size="23.5" font-weight="normal" text-anchor="middle" fill="#1a1a1a">18</text><text transform="translate(855 991.8) scale(0.84 1)" y="8.6" font-size="23.5" font-weight="normal" text-anchor="middle" fill="#1a1a1a">20</text><text transform="translate(855 959.2) scale(0.84 1)" y="8.6" font-size="23.5" font-weight="normal" text-anchor="middle" fill="#1a1a1a">22</text><text transform="translate(855 926.6) scale(0.84 1)" y="8.6" font-size="23.5" font-weight="normal" text-anchor="middle" fill="#1a1a1a">24</text><text transform="translate(855 894) scale(0.84 1)" y="8.6" font-size="23.5" font-weight="normal" text-anchor="middle" fill="#1a1a1a">26</text><text transform="translate(855 861.3) scale(0.84 1)" y="8.6" font-size="23.5" font-weight="normal" text-anchor="middle" fill="#1a1a1a">28</text><text transform="translate(855 828.7) scale(0.84 1)" y="8.6" font-size="23.5" font-weight="normal" text-anchor="middle" fill="#1a1a1a">30</text><text transform="translate(855 796.1) scale(0.84 1)" y="8.6" font-size="23.5" font-weight="normal" text-anchor="middle" fill="#1a1a1a">32</text><text transform="translate(855 763.5) scale(0.84 1)" y="8.6" font-size="23.5" font-weight="normal" text-anchor="middle" fill="#1a1a1a">34</text><text transform="translate(1178.7 1330.7) scale(0.84 1)" y="8.4" font-size="23" font-weight="bold" text-anchor="middle" fill="#1a1a1a">X-axis</text><text transform="translate(828.3 981.5) scale(0.87 1) rotate(90)" y="8.5" font-size="23.3" font-weight="bold" text-anchor="middle" fill="#1a1a1a">Z-axis</text></g><g font-family="'Liberation Serif','DejaVu Serif',serif" font-size="37" text-anchor="middle" fill="#000"><text x="409" y="716">(<tspan font-weight="bold">a</tspan>)</text><text x="1151" y="716">(<tspan font-weight="bold">b</tspan>)</text><text x="409" y="1396">(<tspan font-weight="bold">c</tspan>)</text><text x="1151" y="1396">(<tspan font-weight="bold">d</tspan>)</text></g></svg></body></html>
